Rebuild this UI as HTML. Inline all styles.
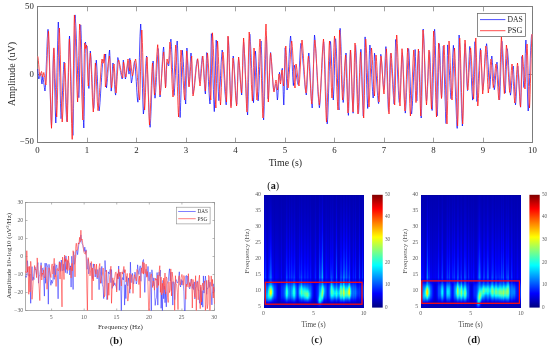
<!DOCTYPE html><html><head><meta charset="utf-8"><title>Figure</title><style>html,body{margin:0;padding:0;background:#fff}svg{display:block}</style></head><body><svg width="550" height="348" viewBox="0 0 550 348" style="display:block;font-family:'Liberation Serif', 'DejaVu Serif', serif">
<rect width="550" height="348" fill="#fff"/>
<rect x="37.5" y="6.5" width="495.0" height="136.0" fill="none" stroke="#6e6e6e" stroke-width="0.9"/>
<path d="M37.5 142.5v-4.8M37.5 6.5v4.8M87.5 142.5v-4.8M87.5 6.5v4.8M136.5 142.5v-4.8M136.5 6.5v4.8M186.5 142.5v-4.8M186.5 6.5v4.8M235.5 142.5v-4.8M235.5 6.5v4.8M285.5 142.5v-4.8M285.5 6.5v4.8M334.5 142.5v-4.8M334.5 6.5v4.8M384.5 142.5v-4.8M384.5 6.5v4.8M433.5 142.5v-4.8M433.5 6.5v4.8M483.5 142.5v-4.8M483.5 6.5v4.8M532.5 142.5v-4.8M532.5 6.5v4.8M37.5 6.5h4.8M532.5 6.5h-4.8M37.5 74.5h4.8M532.5 74.5h-4.8M37.5 142.5h4.8M532.5 142.5h-4.8" stroke="#808080" stroke-width="0.75" fill="none"/>
<path d="M37.8 69.0L38.1 73.4L38.4 76.9L38.8 79.0L39.1 78.4L39.4 77.5L39.7 76.2L40.0 75.0L40.3 74.1L40.6 73.5L41.0 75.5L41.3 78.8L41.6 82.0L42.0 84.0L42.4 80.2L42.8 76.5L43.1 77.7L43.4 79.8L43.7 82.4L44.1 85.1L44.4 87.7L44.7 89.8L45.0 91.0L45.4 87.2L45.7 81.3L46.0 73.6L46.3 64.8L46.7 55.5L47.0 46.6L47.3 38.9L47.7 33.0L48.0 29.3L48.3 33.8L48.6 40.7L49.0 49.5L49.3 60.0L49.6 71.5L49.9 83.3L50.3 94.8L50.6 105.3L50.9 114.2L51.2 121.1L51.5 125.6L51.9 117.5L52.2 104.0L52.6 87.2L52.9 70.4L53.3 56.8L53.6 48.8L53.9 55.1L54.2 65.5L54.5 78.8L54.9 93.0L55.2 106.3L55.5 116.7L55.8 123.0L56.1 115.8L56.4 104.2L56.7 89.3L57.0 72.5L57.4 55.7L57.7 40.8L58.0 29.2L58.3 22.0L58.6 27.9L58.9 37.2L59.2 49.2L59.5 63.1L59.9 77.6L60.2 91.4L60.5 103.5L60.8 112.8L61.1 118.7L61.4 115.6L61.7 111.0L62.0 105.0L62.3 97.9L62.6 90.3L62.9 82.7L63.2 75.7L63.5 69.7L63.8 65.0L64.1 62.0L64.4 65.6L64.7 71.3L65.0 78.8L65.3 87.3L65.6 96.2L65.9 104.8L66.2 112.2L66.5 117.9L66.8 121.5L67.2 115.4L67.5 105.6L67.8 93.0L68.2 78.8L68.5 64.6L68.8 51.9L69.1 42.1L69.5 36.0L69.8 40.7L70.1 47.8L70.4 56.9L70.7 67.7L71.0 79.6L71.3 91.8L71.6 103.6L71.9 114.5L72.3 123.6L72.6 130.7L72.9 135.4L73.2 125.2L73.5 108.3L73.8 86.7L74.1 63.6L74.4 42.1L74.7 25.2L75.0 14.9L75.3 18.4L75.7 23.6L76.0 30.3L76.3 38.3L76.6 47.1L76.9 56.3L77.3 65.6L77.6 74.4L77.9 82.4L78.2 89.1L78.5 94.2L78.8 97.7L79.2 90.1L79.5 77.2L79.8 61.3L80.1 45.4L80.4 32.5L80.7 24.9L81.0 30.3L81.3 38.8L81.6 49.8L81.9 62.6L82.3 76.4L82.6 90.2L82.9 103.1L83.2 114.1L83.5 122.5L83.8 128.0L84.1 116.4L84.4 96.5L84.8 73.5L85.1 53.6L85.4 42.0L85.8 44.6L86.2 47.2L86.5 46.9L86.8 46.4L87.1 46.1L87.5 51.8L87.8 61.6L88.2 73.0L88.5 82.8L88.9 88.5L89.2 81.5L89.6 69.8L90.0 58.0L90.3 51.0L90.6 53.7L91.0 57.8L91.3 63.1L91.6 69.4L91.9 76.2L92.2 83.3L92.5 90.2L92.8 96.4L93.1 101.7L93.4 105.8L93.7 108.5L94.1 105.1L94.4 99.5L94.7 92.4L95.0 84.3L95.3 76.3L95.7 69.1L96.0 63.5L96.3 60.1L96.6 63.2L96.9 68.0L97.2 74.4L97.5 81.7L97.8 89.3L98.1 96.6L98.4 102.9L98.7 107.8L99.1 110.9L99.4 109.0L99.7 106.1L100.0 102.4L100.3 98.1L100.6 93.2L100.9 87.9L101.3 82.6L101.6 77.4L101.9 72.5L102.2 68.1L102.5 64.4L102.8 61.6L103.1 59.6L103.4 59.9L103.8 60.5L104.1 61.0L104.4 61.4L104.7 60.0L105.0 57.7L105.3 55.4L105.7 54.0L106.1 70.9L106.5 87.8L106.8 85.7L107.1 82.6L107.4 78.6L107.8 73.9L108.1 68.9L108.4 63.8L108.7 59.1L109.0 55.1L109.3 52.0L109.6 50.0L109.9 55.6L110.3 65.1L110.6 76.1L110.9 85.6L111.2 91.1L111.6 87.3L111.9 80.8L112.3 73.3L112.6 66.8L113.0 63.0L113.3 65.3L113.6 69.0L114.0 73.7L114.3 79.1L114.6 84.4L114.9 89.2L115.2 92.8L115.6 95.1L115.9 91.9L116.2 86.7L116.5 79.9L116.9 72.7L117.2 66.0L117.5 60.7L117.8 57.5L118.1 58.3L118.5 59.4L118.8 60.7L119.1 62.4L119.4 64.2L119.7 66.2L120.0 68.3L120.3 70.3L120.7 72.3L121.0 74.2L121.3 75.8L121.6 77.2L121.9 78.2L122.2 79.0L122.6 73.7L122.9 65.4L123.3 60.1L123.6 61.7L123.9 64.4L124.2 67.7L124.5 71.4L124.8 74.7L125.1 77.4L125.4 79.0L125.7 77.9L126.1 76.0L126.4 73.7L126.7 71.0L127.0 68.3L127.4 66.0L127.7 64.1L128.0 63.0L128.3 66.1L128.7 71.0L129.0 74.1L129.4 66.2L129.8 58.3L130.1 61.7L130.4 67.4L130.7 74.0L131.1 79.7L131.4 83.0L131.7 81.8L132.0 80.1L132.4 77.7L132.7 75.0L133.0 72.1L133.3 69.2L133.7 66.5L134.0 64.2L134.3 62.4L134.6 61.2L135.0 63.4L135.3 66.8L135.6 71.1L135.9 76.2L136.3 81.7L136.6 87.2L136.9 92.3L137.2 96.7L137.5 100.0L137.9 102.2L138.2 97.5L138.5 89.9L138.8 80.2L139.1 69.0L139.4 57.2L139.7 46.0L140.0 36.3L140.4 28.8L140.7 24.0L141.0 29.5L141.3 38.1L141.6 49.3L141.9 62.3L142.2 75.7L142.5 88.6L142.8 99.9L143.1 108.5L143.4 114.0L143.8 110.9L144.1 106.2L144.4 100.0L144.7 92.7L145.0 85.0L145.3 77.2L145.6 70.0L145.9 63.8L146.2 59.1L146.6 56.0L146.9 59.3L147.2 64.4L147.5 71.0L147.8 78.7L148.2 87.2L148.5 96.0L148.8 104.5L149.1 112.3L149.4 118.8L149.7 123.9L150.1 127.3L150.4 123.8L150.7 118.3L151.0 111.3L151.3 103.0L151.6 94.1L151.9 85.3L152.2 77.0L152.5 70.0L152.8 64.5L153.1 61.0L153.4 64.9L153.7 71.5L154.0 79.6L154.4 87.7L154.7 94.3L155.0 98.2L155.3 95.9L155.6 92.3L155.9 87.7L156.2 82.4L156.5 76.4L156.8 70.4L157.1 64.4L157.4 59.1L157.7 54.5L158.0 50.9L158.3 48.6L158.7 55.2L159.0 66.3L159.3 79.3L159.6 90.5L160.0 97.0L160.3 94.9L160.6 91.8L160.9 87.7L161.2 82.9L161.5 77.6L161.8 72.0L162.1 66.4L162.4 61.1L162.7 56.3L163.0 52.2L163.3 49.1L163.6 47.0L163.9 50.4L164.2 55.9L164.5 63.0L164.8 70.6L165.1 77.7L165.4 83.3L165.7 86.6L166.1 79.8L166.5 69.2L166.9 62.3L167.2 62.7L167.5 63.3L167.8 64.1L168.1 64.9L168.4 65.5L168.7 65.9L169.0 63.6L169.3 59.9L169.7 55.1L170.0 49.9L170.3 45.1L170.6 41.4L170.9 39.1L171.2 42.1L171.5 46.7L171.8 52.7L172.1 59.7L172.4 67.3L172.8 74.8L173.1 81.8L173.4 87.8L173.7 92.4L174.0 95.4L174.3 92.5L174.6 88.1L174.9 82.3L175.3 75.5L175.6 68.2L175.9 60.9L176.2 54.2L176.5 48.4L176.9 43.9L177.2 41.0L177.5 45.7L177.8 53.0L178.1 62.5L178.5 73.5L178.8 85.0L179.1 95.9L179.5 105.5L179.8 112.8L180.1 117.5L180.4 111.7L180.7 102.3L181.1 90.3L181.4 77.4L181.7 65.3L182.0 55.9L182.3 50.2L182.6 52.7L182.9 56.6L183.3 61.5L183.6 67.4L183.9 73.8L184.2 80.4L184.5 86.8L184.8 92.7L185.1 97.6L185.4 101.5L185.7 104.0L186.0 93.6L186.3 76.0L186.6 58.4L186.9 48.0L187.3 52.0L187.6 58.7L188.0 66.9L188.3 75.2L188.7 81.9L189.0 85.8L189.3 82.4L189.7 76.6L190.0 69.4L190.4 62.2L190.7 56.4L191.0 53.0L191.3 57.3L191.7 64.5L192.0 73.4L192.3 82.3L192.6 89.5L192.9 93.8L193.2 92.7L193.5 91.1L193.8 89.1L194.1 86.8L194.4 84.1L194.7 81.1L195.0 78.1L195.3 74.9L195.6 71.9L195.9 68.9L196.2 66.2L196.5 63.9L196.8 61.9L197.1 60.3L197.4 59.2L197.8 61.1L198.1 64.2L198.5 68.2L198.8 72.5L199.1 76.5L199.5 79.7L199.8 81.6L200.1 79.8L200.5 76.8L200.8 73.1L201.1 68.8L201.4 64.6L201.8 60.8L202.1 57.9L202.4 56.0L202.7 58.3L203.1 62.0L203.4 66.7L203.7 72.2L204.1 77.9L204.4 83.3L204.7 88.0L205.0 91.7L205.4 94.0L205.7 86.3L206.0 73.3L206.4 60.3L206.7 52.6L207.0 55.1L207.3 58.7L207.6 63.5L207.9 69.0L208.2 75.2L208.5 81.5L208.8 87.6L209.1 93.2L209.4 97.9L209.7 101.6L210.0 104.0L210.4 90.9L210.7 68.9L211.1 46.8L211.4 33.7L211.7 38.5L212.1 45.9L212.4 55.6L212.7 66.8L213.0 78.5L213.4 89.7L213.7 99.4L214.0 106.9L214.3 111.6L214.6 104.1L215.0 91.4L215.3 75.8L215.6 60.2L215.9 47.6L216.2 40.1L216.5 43.7L216.8 49.6L217.1 57.1L217.4 65.8L217.7 74.9L218.0 83.6L218.3 91.2L218.6 97.0L218.9 100.7L219.3 98.0L219.6 93.8L219.9 88.4L220.3 82.1L220.6 75.3L220.9 68.6L221.2 62.3L221.6 56.9L221.9 52.7L222.2 50.0L222.5 52.1L222.8 55.2L223.1 59.1L223.4 63.8L223.7 69.0L224.0 74.6L224.3 80.3L224.6 85.9L224.9 91.1L225.3 95.8L225.6 99.8L225.9 102.8L226.2 104.9L226.5 97.8L226.8 85.8L227.2 71.0L227.5 56.1L227.8 44.1L228.2 37.0L228.5 40.6L228.8 46.3L229.1 53.6L229.4 62.2L229.7 71.4L230.0 80.6L230.3 89.1L230.6 96.5L230.9 102.1L231.2 105.8L231.6 100.5L231.9 91.7L232.2 80.9L232.5 70.0L232.9 61.2L233.2 56.0L233.5 58.0L233.8 61.1L234.1 65.0L234.4 69.6L234.7 74.8L235.0 80.2L235.3 85.6L235.6 90.7L235.9 95.4L236.2 99.3L236.5 102.3L236.8 104.3L237.1 98.2L237.5 87.8L237.8 75.7L238.1 65.3L238.5 59.2L238.8 61.1L239.1 64.0L239.4 67.8L239.8 72.3L240.1 77.1L240.4 81.9L240.7 86.3L241.1 90.2L241.4 93.1L241.7 95.0L242.0 89.5L242.4 80.2L242.7 68.6L243.0 57.1L243.3 47.8L243.6 42.3L243.9 45.1L244.2 49.1L244.5 54.3L244.9 60.5L245.2 67.5L245.5 74.9L245.8 82.4L246.1 89.8L246.4 96.8L246.7 103.0L247.0 108.2L247.3 112.2L247.6 115.0L247.9 108.1L248.2 96.8L248.5 82.3L248.8 66.8L249.1 52.3L249.4 41.0L249.8 34.1L250.1 37.0L250.4 41.3L250.7 46.9L251.0 53.4L251.3 60.7L251.6 68.4L251.9 76.1L252.2 83.4L252.5 89.9L252.9 95.5L253.2 99.8L253.5 102.7L253.8 97.3L254.1 88.1L254.4 76.9L254.7 65.6L255.1 56.5L255.4 51.1L255.7 54.1L256.0 58.9L256.3 65.1L256.6 72.2L256.9 79.7L257.2 86.8L257.5 93.1L257.8 97.8L258.1 100.9L258.5 97.2L258.8 91.5L259.1 84.0L259.4 75.4L259.7 66.5L260.1 57.9L260.4 50.4L260.7 44.7L261.0 41.0L261.3 46.6L261.7 55.7L262.0 67.4L262.3 80.5L262.6 93.6L262.9 105.3L263.3 114.3L263.6 119.9L263.9 114.8L264.2 106.7L264.5 96.3L264.8 84.2L265.2 71.7L265.5 59.6L265.8 49.2L266.1 41.1L266.4 36.0L266.7 44.5L267.1 59.0L267.4 75.8L267.7 90.3L268.0 98.8L268.4 95.5L268.7 90.2L269.0 83.3L269.3 75.6L269.6 68.0L270.0 61.1L270.3 55.8L270.6 52.5L270.9 54.5L271.2 57.7L271.5 61.8L271.8 66.6L272.2 71.7L272.5 76.9L272.8 81.7L273.1 85.8L273.4 88.9L273.7 91.0L274.1 90.3L274.4 89.3L274.7 88.0L275.1 86.6L275.4 85.2L275.8 84.2L276.1 83.6L276.4 86.6L276.8 91.8L277.1 96.9L277.4 100.0L277.8 97.1L278.1 92.2L278.5 86.1L278.8 80.1L279.2 75.2L279.5 72.3L279.9 74.7L280.2 78.5L280.6 80.9L280.9 79.2L281.2 76.3L281.6 72.9L281.9 70.0L282.3 68.3L282.6 73.2L282.9 81.7L283.2 91.6L283.5 100.0L283.8 105.0L284.2 94.4L284.5 76.4L284.8 58.5L285.2 47.8L285.5 52.3L285.8 59.7L286.1 68.9L286.5 78.1L286.8 85.6L287.1 90.0L287.4 87.5L287.7 83.6L288.1 78.6L288.4 72.8L288.7 66.3L289.0 59.7L289.3 53.2L289.7 47.4L290.0 42.4L290.3 38.5L290.6 36.0L290.9 39.0L291.2 43.8L291.5 50.0L291.8 57.1L292.2 64.5L292.5 71.6L292.8 77.8L293.1 82.6L293.4 85.6L293.7 79.9L294.1 71.0L294.5 65.3L294.8 66.1L295.1 67.3L295.4 68.9L295.7 70.7L296.0 72.8L296.3 75.0L296.6 77.1L297.0 79.2L297.3 81.1L297.6 82.6L297.9 83.8L298.2 84.7L298.5 82.1L298.8 78.2L299.1 73.0L299.4 67.1L299.7 60.9L300.0 54.9L300.3 49.8L300.6 45.8L301.0 43.3L301.3 44.7L301.6 46.7L301.9 49.2L302.2 52.1L302.5 55.4L302.8 59.1L303.1 63.0L303.5 67.1L303.8 71.2L304.1 75.3L304.4 79.2L304.7 82.9L305.0 86.2L305.3 89.1L305.7 91.6L306.0 93.6L306.3 95.0L306.6 92.0L306.9 87.2L307.2 81.0L307.5 74.0L307.8 67.0L308.1 60.8L308.5 56.0L308.8 53.0L309.1 55.6L309.4 59.5L309.7 64.6L310.0 70.6L310.3 77.1L310.6 83.9L310.9 90.4L311.2 96.4L311.5 101.5L311.9 105.4L312.2 108.0L312.5 101.8L312.8 91.6L313.2 78.5L313.5 64.5L313.8 51.4L314.2 41.2L314.5 35.0L314.8 37.2L315.1 40.2L315.4 44.0L315.7 48.5L316.0 53.7L316.3 59.3L316.6 65.3L316.9 71.4L317.2 77.5L317.5 83.5L317.8 89.1L318.1 94.3L318.5 98.8L318.8 102.6L319.1 105.7L319.4 107.8L319.7 105.5L320.0 102.2L320.3 98.0L320.6 92.9L320.9 87.3L321.2 81.1L321.6 74.8L321.9 68.5L322.2 62.3L322.5 56.7L322.8 51.6L323.1 47.4L323.4 44.1L323.7 41.8L324.1 45.7L324.4 51.5L324.7 59.1L325.0 68.0L325.3 77.8L325.7 87.9L326.0 97.7L326.3 106.6L326.6 114.2L326.9 120.1L327.2 123.9L327.6 119.6L327.9 112.8L328.2 104.0L328.5 93.8L328.9 82.7L329.2 71.7L329.5 61.4L329.8 52.6L330.2 45.9L330.5 41.5L330.8 45.1L331.1 50.7L331.4 58.0L331.7 66.4L332.0 75.1L332.4 83.5L332.7 90.8L333.0 96.4L333.3 100.0L333.6 94.8L334.0 86.2L334.3 75.3L334.6 63.5L334.9 52.5L335.3 44.0L335.6 38.7L335.9 42.1L336.2 47.2L336.5 53.8L336.8 61.5L337.1 70.0L337.4 78.8L337.7 87.3L338.0 95.0L338.3 101.6L338.6 106.7L339.0 110.0L339.3 87.0L339.7 51.3L340.1 28.3L340.4 32.2L340.7 38.3L341.0 46.2L341.3 55.4L341.6 65.4L341.9 75.3L342.2 84.5L342.6 92.4L342.9 98.5L343.2 102.5L343.5 99.4L343.8 94.7L344.1 88.5L344.4 81.4L344.8 74.0L345.1 66.9L345.4 60.8L345.7 56.0L346.0 53.0L346.4 58.3L346.7 67.1L347.0 78.2L347.4 90.2L347.7 101.3L348.0 110.1L348.4 115.4L348.7 108.6L349.0 97.0L349.4 82.7L349.7 68.5L350.0 56.9L350.4 50.1L350.7 53.9L351.0 60.0L351.3 67.9L351.6 76.9L351.9 86.4L352.2 95.4L352.5 103.3L352.8 109.4L353.1 113.2L353.4 108.4L353.7 100.6L354.0 90.5L354.4 79.2L354.7 67.9L355.0 57.8L355.3 50.0L355.6 45.2L355.9 49.4L356.3 55.9L356.6 64.4L356.9 74.2L357.2 84.5L357.5 94.3L357.8 102.8L358.1 109.4L358.5 113.5L358.8 109.0L359.1 101.6L359.4 92.1L359.7 81.4L360.0 70.7L360.3 61.2L360.6 53.8L360.9 49.3L361.3 55.0L361.6 64.3L361.9 76.3L362.3 89.1L362.6 101.1L363.0 110.4L363.3 116.1L363.7 105.4L364.0 87.1L364.4 65.9L364.7 47.6L365.1 36.9L365.4 42.0L365.7 50.2L366.1 60.8L366.4 72.7L366.7 84.6L367.0 95.2L367.4 103.4L367.7 108.5L368.0 103.1L368.3 94.2L368.6 82.9L368.9 70.7L369.2 59.3L369.5 50.4L369.9 45.0L370.2 47.5L370.5 51.3L370.8 56.2L371.1 61.9L371.4 68.2L371.7 74.8L372.0 81.1L372.3 86.8L372.6 91.7L372.9 95.5L373.2 98.0L373.5 89.7L373.9 75.6L374.2 61.5L374.5 53.2L374.8 55.1L375.2 57.9L375.5 61.6L375.8 65.8L376.1 70.7L376.4 75.8L376.7 81.0L377.0 86.2L377.3 91.0L377.6 95.2L377.9 98.9L378.2 101.7L378.6 103.6L378.9 99.4L379.2 92.5L379.5 83.7L379.8 74.2L380.1 65.4L380.5 58.5L380.8 54.3L381.1 56.2L381.4 59.1L381.7 62.8L382.0 67.2L382.3 71.9L382.6 76.6L383.0 81.0L383.3 84.8L383.6 87.7L383.9 89.6L384.2 85.0L384.6 77.4L384.9 68.1L385.2 58.7L385.6 51.1L385.9 46.6L386.2 51.2L386.5 58.6L386.9 68.3L387.2 79.1L387.5 89.9L387.9 99.5L388.2 107.0L388.5 111.6L388.9 105.5L389.2 95.2L389.5 82.5L389.8 69.8L390.2 59.5L390.5 53.4L390.8 55.6L391.1 58.8L391.4 62.9L391.7 67.7L392.0 73.1L392.4 78.8L392.7 84.5L393.0 89.9L393.3 94.7L393.6 98.8L393.9 102.0L394.2 104.1L394.6 92.1L394.9 71.8L395.3 51.5L395.7 39.5L396.0 42.1L396.3 46.1L396.6 51.2L396.9 57.2L397.2 63.9L397.5 71.0L397.8 78.0L398.1 84.7L398.4 90.8L398.7 95.9L399.0 99.8L399.3 102.5L399.6 99.8L399.9 95.7L400.3 90.4L400.6 84.2L400.9 77.6L401.2 70.9L401.5 64.7L401.8 59.4L402.1 55.3L402.4 52.7L402.7 56.4L403.0 62.2L403.3 69.7L403.7 78.3L404.0 87.4L404.3 96.1L404.6 103.6L405.0 109.4L405.3 113.1L405.6 110.0L405.9 105.5L406.2 99.5L406.5 92.5L406.8 84.8L407.1 76.9L407.4 69.2L407.7 62.2L408.0 56.3L408.3 51.7L408.6 48.6L409.0 52.6L409.3 58.9L409.6 67.0L410.0 76.4L410.3 86.2L410.6 95.5L411.0 103.7L411.3 109.9L411.6 113.9L411.9 110.9L412.3 106.3L412.6 100.4L412.9 93.4L413.2 85.7L413.5 77.8L413.8 70.1L414.2 63.1L414.5 57.1L414.8 52.6L415.1 49.5L415.4 56.5L415.8 68.3L416.1 82.1L416.4 93.9L416.8 100.9L417.1 95.6L417.4 86.8L417.8 75.9L418.1 65.0L418.4 56.2L418.8 51.0L419.1 55.7L419.4 63.4L419.7 73.3L420.0 84.5L420.3 95.6L420.6 105.5L420.9 113.2L421.2 118.0L421.6 108.7L421.9 92.9L422.2 73.5L422.5 54.1L422.8 38.3L423.2 29.0L423.5 32.4L423.8 37.5L424.1 44.2L424.4 52.0L424.7 60.6L425.0 69.5L425.3 78.1L425.6 85.9L425.9 92.6L426.2 97.7L426.5 101.1L426.9 98.5L427.2 94.4L427.5 89.1L427.8 83.0L428.1 76.4L428.4 69.7L428.7 63.6L429.0 58.3L429.3 54.3L429.6 51.6L429.9 55.8L430.2 62.6L430.5 71.3L430.9 81.1L431.2 90.9L431.5 99.6L431.8 106.3L432.1 110.5L432.4 104.8L432.8 95.4L433.1 83.4L433.4 69.9L433.7 56.4L434.0 44.4L434.3 35.1L434.6 29.3L435.0 35.5L435.3 45.4L435.6 58.2L435.9 72.6L436.2 86.9L436.5 99.8L436.8 109.7L437.2 115.8L437.5 109.7L437.8 99.6L438.1 86.7L438.4 72.8L438.7 59.9L439.0 49.8L439.4 43.7L439.7 48.2L440.0 55.7L440.3 65.3L440.7 75.6L441.0 85.2L441.3 92.7L441.6 97.2L442.0 90.3L442.3 78.5L442.6 64.7L442.9 52.9L443.3 46.0L443.6 50.7L443.9 58.1L444.2 67.8L444.5 79.0L444.8 90.6L445.2 101.7L445.5 111.4L445.8 118.9L446.1 123.6L446.4 113.0L446.7 94.8L447.1 73.8L447.4 55.6L447.7 44.9L448.0 47.5L448.3 51.3L448.6 56.3L448.9 62.1L449.2 68.6L449.6 75.2L449.9 81.6L450.2 87.4L450.5 92.4L450.8 96.2L451.1 98.8L451.4 94.2L451.8 86.7L452.1 77.2L452.4 66.9L452.7 57.3L453.1 49.8L453.4 45.3L453.7 48.8L454.1 54.0L454.4 60.7L454.7 68.7L455.0 77.5L455.3 86.9L455.6 96.2L456.0 105.0L456.3 113.0L456.6 119.7L456.9 124.9L457.2 128.4L457.5 118.6L457.9 102.1L458.2 81.7L458.5 61.3L458.8 44.8L459.1 35.0L459.4 39.8L459.8 47.3L460.1 57.0L460.4 68.3L460.8 80.5L461.1 92.7L461.4 104.0L461.7 113.7L462.1 121.2L462.4 126.0L462.7 120.1L463.0 110.7L463.3 98.5L463.6 84.8L463.9 71.1L464.3 58.9L464.6 49.4L464.9 43.6L465.2 46.9L465.5 52.3L465.9 59.3L466.2 67.1L466.5 74.9L466.8 81.9L467.2 87.3L467.5 90.6L467.8 86.8L468.2 80.6L468.5 72.7L468.8 64.2L469.2 56.4L469.5 50.2L469.8 46.4L470.2 49.7L470.5 54.8L470.8 61.5L471.1 69.2L471.4 77.3L471.7 85.0L472.0 91.7L472.4 96.9L472.7 100.1L473.0 95.2L473.3 87.0L473.7 76.5L474.0 65.3L474.4 54.9L474.7 46.7L475.0 41.7L475.3 48.0L475.7 58.6L476.0 71.6L476.3 84.7L476.6 95.3L476.9 101.5L477.3 99.0L477.6 95.3L477.9 90.4L478.2 84.6L478.5 78.3L478.9 71.8L479.2 65.5L479.5 59.7L479.8 54.8L480.1 51.0L480.4 48.5L480.8 52.1L481.1 57.9L481.5 65.4L481.8 73.4L482.1 80.8L482.5 86.7L482.8 90.2L483.1 88.2L483.4 85.3L483.7 81.6L484.1 77.1L484.4 72.2L484.7 67.0L485.0 61.8L485.3 56.8L485.6 52.4L486.0 48.6L486.3 45.7L486.6 43.7L486.9 46.1L487.2 49.8L487.5 54.6L487.8 60.2L488.2 66.2L488.5 72.2L488.8 77.8L489.1 82.6L489.4 86.3L489.7 88.7L490.1 85.3L490.4 79.5L490.8 72.3L491.1 65.2L491.5 59.4L491.8 56.0L492.1 58.4L492.4 62.3L492.8 67.3L493.1 72.8L493.4 78.4L493.7 83.4L494.0 87.3L494.3 89.7L494.7 87.7L495.0 84.6L495.3 80.5L495.6 75.9L496.0 71.3L496.3 67.2L496.6 64.0L497.0 62.1L497.3 64.8L497.6 69.1L497.9 74.7L498.3 81.0L498.6 87.3L498.9 92.9L499.3 97.3L499.6 100.0L499.9 95.0L500.2 86.7L500.6 76.2L500.9 64.9L501.3 54.5L501.6 46.2L501.9 41.2L502.2 44.0L502.6 48.2L502.9 53.8L503.2 60.2L503.5 67.2L503.8 74.1L504.1 80.6L504.4 86.1L504.8 90.4L505.1 93.1L505.4 89.4L505.7 83.1L506.0 75.2L506.3 66.6L506.7 58.7L507.0 52.5L507.3 48.7L507.6 51.2L507.9 55.0L508.3 59.9L508.6 65.7L508.9 71.9L509.2 78.2L509.5 83.9L509.9 88.9L510.2 92.7L510.5 95.2L510.8 93.1L511.2 89.8L511.5 85.4L511.8 80.6L512.2 75.7L512.5 71.4L512.8 68.1L513.2 66.0L513.5 69.3L513.8 74.8L514.2 81.7L514.5 89.2L514.9 96.1L515.2 101.6L515.5 104.9L515.9 101.6L516.2 96.1L516.5 89.2L516.9 81.8L517.2 74.8L517.5 69.4L517.8 66.1L518.1 68.6L518.5 72.6L518.8 77.7L519.1 83.6L519.4 89.8L519.7 95.7L520.0 100.8L520.3 104.7L520.6 107.2L520.9 97.8L521.3 81.9L521.6 65.9L521.9 56.5L522.2 59.1L522.5 63.5L522.8 69.0L523.1 75.0L523.4 80.6L523.7 84.9L524.0 87.6L524.3 82.6L524.6 74.2L525.0 63.8L525.3 53.4L525.6 45.0L525.9 40.0L526.2 46.0L526.6 56.0L526.9 68.7L527.2 82.3L527.5 95.0L527.8 105.0L528.2 111.0L528.5 107.4L528.8 102.0L529.1 94.9L529.4 86.6L529.7 77.5L530.0 68.1L530.3 59.0L530.6 50.7L531.0 43.7L531.3 38.2L531.6 34.6" fill="none" stroke="#0000ff" stroke-width="0.7" stroke-linejoin="round"/>
<path d="M37.8 56.3L38.1 58.0L38.4 60.7L38.7 64.3L39.0 68.0L39.3 71.6L39.6 74.3L39.9 76.0L40.2 75.4L40.5 74.4L40.9 73.1L41.2 72.1L41.5 71.5L41.8 72.5L42.1 74.2L42.4 76.0L42.7 77.0L43.1 75.7L43.4 73.8L43.8 72.5L44.1 73.6L44.4 75.3L44.7 77.5L45.0 80.0L45.3 82.2L45.6 83.9L45.9 85.0L46.2 81.2L46.5 75.0L46.9 67.0L47.2 58.1L47.5 49.2L47.9 41.2L48.2 35.0L48.5 31.2L48.8 36.4L49.1 44.3L49.4 54.7L49.7 66.8L50.0 79.8L50.3 92.7L50.6 104.8L50.9 115.2L51.2 123.1L51.5 128.3L51.8 121.5L52.2 110.2L52.5 95.8L52.9 80.4L53.2 66.0L53.6 54.7L53.9 47.9L54.2 52.1L54.5 58.7L54.8 67.4L55.1 77.3L55.5 87.6L55.8 97.5L56.1 106.2L56.4 112.8L56.7 117.0L57.0 110.7L57.4 100.5L57.7 87.3L58.0 72.5L58.3 57.7L58.6 44.5L59.0 34.3L59.3 28.0L59.6 33.7L59.9 42.8L60.3 54.5L60.6 68.0L60.9 82.0L61.2 95.5L61.6 107.2L61.9 116.3L62.2 122.0L62.5 117.8L62.9 111.0L63.2 102.3L63.5 92.5L63.8 82.7L64.2 74.0L64.5 67.2L64.8 63.0L65.1 67.2L65.4 74.0L65.7 82.7L66.0 92.5L66.3 102.3L66.6 111.0L66.9 117.8L67.2 122.0L67.5 114.9L67.8 103.3L68.1 88.5L68.5 72.5L68.8 57.7L69.1 46.1L69.4 39.0L69.7 45.1L70.0 54.8L70.3 67.3L70.6 81.7L71.0 96.7L71.3 111.1L71.6 123.6L71.9 133.3L72.2 139.4L72.5 128.8L72.8 111.4L73.1 89.2L73.5 65.2L73.8 43.0L74.1 25.6L74.4 15.0L74.7 19.6L75.0 26.8L75.4 36.0L75.7 46.9L76.0 58.5L76.3 70.1L76.6 81.0L77.0 90.2L77.3 97.4L77.6 102.0L77.9 95.4L78.2 84.4L78.5 70.5L78.8 55.5L79.1 41.6L79.4 30.6L79.7 24.0L80.0 29.1L80.3 37.0L80.7 47.2L81.0 59.2L81.3 72.0L81.6 84.8L81.9 96.8L82.3 107.0L82.6 114.9L82.9 120.0L83.3 109.6L83.6 91.8L84.0 71.2L84.3 53.4L84.7 43.0L85.2 45.8L85.6 48.6L85.9 47.6L86.2 46.0L86.5 45.0L86.9 50.5L87.2 60.0L87.6 71.0L87.9 80.5L88.3 86.0L88.6 82.5L89.0 76.7L89.3 69.5L89.6 62.3L90.0 56.5L90.3 53.0L90.6 56.1L90.9 61.0L91.2 67.3L91.5 74.6L91.8 82.5L92.1 90.4L92.4 97.7L92.7 104.0L93.0 108.9L93.3 112.0L93.6 107.8L93.9 101.0L94.2 92.2L94.5 82.8L94.8 74.0L95.1 67.2L95.4 63.0L95.7 66.4L96.1 71.8L96.4 78.9L96.7 86.8L97.0 94.7L97.3 101.8L97.7 107.2L98.0 110.6L98.3 108.6L98.6 105.8L98.9 102.1L99.2 97.7L99.5 92.7L99.8 87.5L100.2 82.1L100.5 76.9L100.8 71.9L101.1 67.5L101.4 63.8L101.7 61.0L102.0 59.0L102.3 59.8L102.6 61.1L102.9 62.4L103.2 63.2L103.5 61.5L103.8 58.6L104.1 55.7L104.4 54.0L104.7 63.3L105.1 77.7L105.4 87.0L105.7 85.8L106.0 84.1L106.3 81.9L106.6 79.2L106.9 76.3L107.2 73.1L107.6 69.9L107.9 66.7L108.2 63.8L108.5 61.1L108.8 58.9L109.1 57.2L109.4 56.0L109.8 59.4L110.1 65.0L110.5 72.0L110.8 79.0L111.2 84.6L111.5 88.0L111.8 86.3L112.1 83.5L112.4 80.0L112.8 76.0L113.1 72.0L113.4 68.5L113.7 65.7L114.0 64.0L114.3 67.0L114.7 72.2L115.0 78.5L115.3 84.8L115.7 90.0L116.0 93.0L116.3 90.7L116.6 86.9L116.9 82.0L117.2 76.5L117.6 71.0L117.9 66.1L118.2 62.3L118.5 60.0L118.8 60.6L119.1 61.5L119.4 62.7L119.7 64.1L120.0 65.6L120.3 67.3L120.7 69.0L121.0 70.7L121.3 72.4L121.6 73.9L121.9 75.3L122.2 76.5L122.5 77.4L122.8 78.0L123.2 70.0L123.5 62.0L123.8 63.3L124.2 65.4L124.5 68.1L124.8 70.9L125.1 73.6L125.5 75.7L125.8 77.0L126.1 75.5L126.4 72.9L126.7 69.7L127.1 66.3L127.4 63.1L127.7 60.5L128.0 59.0L128.3 60.6L128.7 63.4L129.0 66.6L129.4 69.4L129.7 71.0L130.0 65.5L130.3 60.0L130.7 61.7L131.0 64.5L131.4 68.0L131.7 71.5L132.1 74.3L132.4 76.0L132.7 75.1L133.0 73.7L133.4 71.9L133.7 69.8L134.0 67.5L134.3 65.2L134.6 63.1L135.0 61.3L135.3 59.9L135.6 59.0L135.9 60.6L136.2 62.9L136.5 65.8L136.8 69.3L137.1 73.2L137.4 77.4L137.8 81.6L138.1 85.8L138.4 89.7L138.7 93.2L139.0 96.1L139.3 98.4L139.6 100.0L139.9 94.1L140.2 84.2L140.5 71.7L140.9 58.3L141.2 45.8L141.5 35.9L141.8 30.0L142.1 34.9L142.4 42.6L142.7 52.5L143.0 64.0L143.4 76.0L143.7 87.5L144.0 97.4L144.3 105.1L144.6 110.0L144.9 106.2L145.2 100.2L145.5 92.3L145.8 83.5L146.1 74.7L146.4 66.8L146.7 60.8L147.0 57.0L147.3 61.8L147.6 69.6L147.9 79.7L148.2 91.0L148.6 102.3L148.9 112.4L149.2 120.2L149.5 125.0L149.8 121.7L150.1 116.6L150.4 110.0L150.7 102.3L151.0 94.0L151.3 85.7L151.6 78.0L151.9 71.4L152.2 66.3L152.5 63.0L152.8 66.4L153.2 72.0L153.5 79.0L153.8 86.0L154.2 91.6L154.5 95.0L154.8 92.3L155.1 88.2L155.5 82.8L155.8 76.6L156.1 69.9L156.4 63.1L156.7 56.9L157.1 51.5L157.4 47.4L157.7 44.7L158.0 49.0L158.4 56.0L158.7 65.0L159.0 74.7L159.3 83.7L159.7 90.7L160.0 95.0L160.3 93.2L160.6 90.5L160.9 87.0L161.2 82.9L161.5 78.3L161.8 73.5L162.2 68.7L162.5 64.1L162.8 60.0L163.1 56.5L163.4 53.8L163.7 52.0L164.0 55.8L164.3 62.1L164.6 70.0L164.9 77.9L165.2 84.2L165.5 88.0L165.8 84.1L166.1 77.4L166.4 69.6L166.7 62.9L167.0 59.0L167.3 59.6L167.6 60.7L167.9 62.0L168.2 63.1L168.5 63.7L168.8 60.8L169.1 55.8L169.4 49.9L169.7 44.9L170.0 42.0L170.3 44.9L170.6 49.4L170.9 55.3L171.2 62.1L171.5 69.5L171.8 76.9L172.1 83.7L172.4 89.6L172.7 94.1L173.0 97.0L173.3 93.8L173.6 88.8L173.9 82.4L174.2 74.9L174.6 67.1L174.9 59.6L175.2 53.2L175.5 48.2L175.8 45.0L176.1 49.4L176.4 56.3L176.7 65.3L177.0 75.6L177.4 86.4L177.7 96.7L178.0 105.7L178.3 112.6L178.6 117.0L178.9 112.2L179.2 104.6L179.5 94.6L179.8 83.5L180.1 72.4L180.4 62.4L180.7 54.8L181.0 50.0L181.3 52.1L181.6 55.2L181.9 59.3L182.2 64.1L182.5 69.4L182.8 75.0L183.2 80.6L183.5 85.9L183.8 90.7L184.1 94.8L184.4 97.9L184.7 100.0L185.0 94.9L185.4 86.2L185.7 75.5L186.0 64.8L186.4 56.1L186.7 51.0L187.0 54.1L187.4 59.1L187.7 65.5L188.0 72.5L188.3 78.9L188.7 83.9L189.0 87.0L189.3 84.8L189.7 81.2L190.0 76.7L190.3 71.5L190.7 66.3L191.0 61.8L191.4 58.2L191.7 56.0L192.0 63.4L192.3 76.0L192.7 88.6L193.0 96.0L193.3 94.8L193.6 93.1L193.9 91.0L194.3 88.4L194.6 85.5L194.9 82.3L195.2 79.0L195.5 75.7L195.8 72.4L196.1 69.2L196.4 66.3L196.8 63.7L197.1 61.6L197.4 59.9L197.7 58.7L198.0 61.0L198.4 64.9L198.7 69.7L199.0 75.0L199.3 79.8L199.7 83.7L200.0 86.0L200.3 84.2L200.6 81.3L200.9 77.5L201.2 73.2L201.6 68.8L201.9 64.5L202.2 60.7L202.5 57.8L202.8 56.0L203.1 58.5L203.5 62.5L203.8 67.7L204.1 73.5L204.4 79.3L204.8 84.5L205.1 88.5L205.4 91.0L205.7 87.0L206.1 80.3L206.4 72.0L206.7 63.7L207.1 57.0L207.4 53.0L207.7 55.2L208.0 58.6L208.3 62.9L208.6 68.0L208.9 73.6L209.3 79.4L209.6 85.0L209.9 90.1L210.2 94.4L210.5 97.8L210.8 100.0L211.1 90.9L211.4 75.4L211.8 57.4L212.1 41.9L212.4 32.8L212.7 36.3L213.0 41.7L213.4 48.6L213.7 56.8L214.0 65.8L214.3 75.0L214.6 84.0L214.9 92.2L215.3 99.1L215.6 104.5L215.9 108.0L216.2 98.9L216.5 83.5L216.9 65.5L217.2 50.1L217.5 41.0L217.8 44.4L218.1 49.7L218.4 56.5L218.7 64.4L219.0 73.0L219.3 81.6L219.6 89.5L219.9 96.3L220.2 101.6L220.5 105.0L220.8 101.2L221.1 95.2L221.4 87.3L221.7 78.5L222.0 69.7L222.3 61.8L222.6 55.8L222.9 52.0L223.2 54.4L223.6 57.9L223.9 62.5L224.2 68.0L224.5 73.9L224.9 80.1L225.2 86.0L225.5 91.5L225.8 96.1L226.2 99.6L226.5 102.0L226.8 93.1L227.1 77.8L227.4 60.2L227.7 44.9L228.0 36.0L228.3 39.8L228.6 45.7L228.9 53.4L229.2 62.3L229.5 71.9L229.8 81.5L230.1 90.4L230.4 98.1L230.7 104.0L231.0 107.8L231.3 102.6L231.7 93.8L232.0 82.9L232.3 72.0L232.7 63.2L233.0 58.0L233.3 60.3L233.7 63.7L234.0 68.1L234.3 73.3L234.6 79.1L235.0 84.9L235.3 90.7L235.6 95.9L235.9 100.3L236.3 103.7L236.6 106.0L236.9 100.9L237.3 92.2L237.6 81.5L237.9 70.8L238.3 62.1L238.6 57.0L238.9 58.9L239.2 61.9L239.5 65.7L239.8 70.2L240.1 75.0L240.4 79.8L240.7 84.3L241.0 88.1L241.3 91.1L241.6 93.0L241.9 87.2L242.3 77.5L242.6 65.5L242.9 53.5L243.3 43.8L243.6 38.0L243.9 41.5L244.2 46.8L244.5 53.6L244.8 61.6L245.1 70.5L245.5 79.5L245.8 88.4L246.1 96.4L246.4 103.2L246.7 108.5L247.0 112.0L247.3 105.2L247.6 94.0L247.9 79.7L248.3 64.3L248.6 50.0L248.9 38.8L249.2 32.0L249.5 35.7L249.8 41.3L250.2 48.7L250.5 57.3L250.8 66.5L251.1 75.7L251.4 84.3L251.8 91.7L252.1 97.3L252.4 101.0L252.7 93.8L253.0 81.6L253.4 67.4L253.7 55.2L254.0 48.0L254.3 50.8L254.6 55.0L254.9 60.6L255.2 67.0L255.5 74.0L255.8 81.0L256.1 87.4L256.4 93.0L256.7 97.2L257.0 100.0L257.3 96.8L257.6 91.8L257.9 85.3L258.2 77.7L258.5 69.5L258.8 61.3L259.1 53.7L259.4 47.2L259.7 42.2L260.0 39.0L260.3 43.2L260.6 49.7L260.9 58.1L261.2 67.9L261.5 78.5L261.8 89.1L262.1 98.9L262.4 107.3L262.7 113.8L263.0 118.0L263.3 113.0L263.6 105.3L263.9 95.3L264.2 83.6L264.5 71.0L264.8 58.4L265.1 46.7L265.4 36.7L265.7 29.0L266.0 24.0L266.3 30.6L266.7 41.6L267.0 55.5L267.3 70.5L267.6 84.4L268.0 95.4L268.3 102.0L268.6 97.8L268.9 91.0L269.2 82.2L269.6 72.8L269.9 64.0L270.2 57.2L270.5 53.0L270.8 54.8L271.1 57.6L271.5 61.2L271.8 65.5L272.1 70.1L272.4 74.9L272.7 79.5L273.0 83.8L273.4 87.4L273.7 90.2L274.0 92.0L274.3 90.7L274.7 88.6L275.0 86.0L275.3 83.4L275.7 81.3L276.0 80.0L276.3 81.4L276.6 83.7L276.9 86.3L277.2 88.6L277.5 90.0L277.8 87.8L278.1 84.1L278.4 79.9L278.7 76.2L279.0 74.0L279.3 75.4L279.6 77.7L279.9 80.3L280.2 82.6L280.5 84.0L280.8 82.1L281.1 78.9L281.4 75.1L281.7 71.9L282.0 70.0L282.3 72.2L282.6 75.9L283.0 80.1L283.3 83.8L283.6 86.0L283.9 82.6L284.2 77.0L284.5 69.8L284.9 62.2L285.2 55.0L285.5 49.4L285.8 46.0L286.1 49.6L286.4 55.5L286.7 63.0L287.1 71.0L287.4 78.5L287.7 84.4L288.0 88.0L288.3 86.0L288.6 83.1L288.9 79.3L289.2 74.8L289.5 69.8L289.9 64.5L290.2 59.2L290.5 54.2L290.8 49.7L291.1 45.9L291.4 43.0L291.7 41.0L292.0 43.2L292.3 46.6L292.6 50.9L292.9 56.0L293.2 61.6L293.5 67.4L293.8 73.0L294.1 78.1L294.4 82.4L294.7 85.8L295.0 88.0L295.3 81.2L295.7 70.8L296.0 64.0L296.3 65.2L296.6 67.0L296.9 69.3L297.2 72.1L297.5 75.0L297.8 77.9L298.1 80.7L298.4 83.0L298.7 84.8L299.0 86.0L299.3 83.6L299.6 79.8L299.9 74.9L300.2 69.2L300.5 63.0L300.8 56.8L301.1 51.1L301.4 46.2L301.7 42.4L302.0 40.0L302.3 42.0L302.6 45.0L302.9 48.8L303.2 53.3L303.5 58.3L303.8 63.7L304.2 69.3L304.5 74.7L304.8 79.7L305.1 84.2L305.4 88.0L305.7 91.0L306.0 93.0L306.3 89.9L306.7 84.7L307.0 78.1L307.4 70.9L307.7 64.3L308.1 59.1L308.4 56.0L308.7 58.3L309.0 61.7L309.3 66.1L309.6 71.3L309.9 77.1L310.3 82.9L310.6 88.7L310.9 93.9L311.2 98.3L311.5 101.7L311.8 104.0L312.1 100.6L312.4 95.3L312.7 88.5L313.0 80.6L313.3 72.0L313.6 63.4L313.9 55.5L314.2 48.7L314.5 43.4L314.8 40.0L315.1 42.1L315.4 45.0L315.7 48.8L316.0 53.3L316.3 58.3L316.6 63.8L316.9 69.6L317.3 75.4L317.6 81.2L317.9 86.7L318.2 91.7L318.5 96.2L318.8 100.0L319.1 102.9L319.4 105.0L319.7 102.5L320.0 98.8L320.3 94.1L320.7 88.4L321.0 82.1L321.3 75.4L321.6 68.6L321.9 61.9L322.2 55.6L322.6 49.9L322.9 45.2L323.2 41.5L323.5 39.0L323.8 43.4L324.1 50.2L324.4 59.1L324.7 69.4L325.0 80.5L325.3 91.6L325.6 101.9L325.9 110.8L326.2 117.6L326.5 122.0L326.8 117.7L327.1 111.0L327.4 102.4L327.7 92.3L328.0 81.5L328.3 70.7L328.6 60.6L328.9 52.0L329.2 45.3L329.5 41.0L329.8 45.1L330.1 51.6L330.4 60.0L330.8 69.5L331.1 79.0L331.4 87.4L331.7 93.9L332.0 98.0L332.3 93.6L332.6 86.5L332.9 77.3L333.2 67.0L333.6 56.7L333.9 47.5L334.2 40.4L334.5 36.0L334.8 39.5L335.1 44.8L335.5 51.6L335.8 59.6L336.1 68.5L336.4 77.5L336.7 86.4L337.0 94.4L337.4 101.2L337.7 106.5L338.0 110.0L338.3 99.2L338.6 80.7L339.0 59.3L339.3 40.8L339.6 30.0L339.9 33.7L340.2 39.5L340.5 46.9L340.8 55.6L341.1 65.0L341.4 74.4L341.7 83.1L342.0 90.5L342.3 96.3L342.6 100.0L342.9 97.6L343.2 93.9L343.5 89.1L343.8 83.5L344.1 77.5L344.4 71.5L344.7 65.9L345.0 61.1L345.3 57.4L345.6 55.0L345.9 59.9L346.3 68.1L346.6 78.4L347.0 89.6L347.3 99.9L347.7 108.1L348.0 113.0L348.3 108.5L348.6 101.3L349.0 92.0L349.3 81.5L349.6 71.0L350.0 61.7L350.3 54.5L350.6 50.0L350.9 55.3L351.3 64.0L351.6 75.0L352.0 87.0L352.3 98.0L352.7 106.7L353.0 112.0L353.3 104.8L353.7 92.6L354.0 77.5L354.3 62.4L354.7 50.2L355.0 43.0L355.3 46.8L355.6 52.6L355.9 60.2L356.2 69.0L356.5 78.5L356.8 88.0L357.1 96.8L357.4 104.4L357.7 110.2L358.0 114.0L358.3 109.6L358.6 102.5L358.9 93.3L359.2 83.0L359.6 72.7L359.9 63.5L360.2 56.4L360.5 52.0L360.8 55.5L361.1 60.9L361.5 68.0L361.8 76.2L362.1 85.0L362.4 93.8L362.7 102.0L363.1 109.1L363.4 114.5L363.7 118.0L364.0 109.7L364.4 95.7L364.7 78.5L365.0 61.3L365.4 47.3L365.7 39.0L366.0 42.2L366.3 47.0L366.6 53.3L366.9 60.7L367.2 68.8L367.5 77.2L367.8 85.3L368.1 92.7L368.4 99.0L368.7 103.8L369.0 107.0L369.3 102.8L369.6 96.0L369.9 87.3L370.2 77.5L370.6 67.7L370.9 59.0L371.2 52.2L371.5 48.0L371.8 50.6L372.1 54.5L372.4 59.6L372.7 65.6L373.0 72.0L373.3 78.4L373.6 84.4L373.9 89.5L374.2 93.4L374.5 96.0L374.8 90.5L375.1 81.0L375.4 70.0L375.7 60.5L376.0 55.0L376.3 57.5L376.6 61.4L376.9 66.4L377.2 72.2L377.5 78.5L377.8 84.8L378.1 90.6L378.4 95.6L378.7 99.5L379.0 102.0L379.3 97.2L379.7 89.0L380.0 79.0L380.3 69.0L380.7 60.8L381.0 56.0L381.3 58.0L381.6 61.1L381.9 65.2L382.2 69.9L382.5 75.0L382.8 80.1L383.1 84.8L383.4 88.9L383.7 92.0L384.0 94.0L384.3 90.2L384.7 83.8L385.0 75.7L385.4 67.0L385.7 58.9L386.1 52.5L386.4 48.7L386.7 53.3L387.0 60.8L387.4 70.5L387.7 81.3L388.0 92.2L388.4 101.9L388.7 109.4L389.0 114.0L389.3 107.6L389.7 96.8L390.0 83.5L390.3 70.2L390.7 59.4L391.0 53.0L391.3 55.2L391.6 58.5L391.9 62.7L392.2 67.6L392.5 73.2L392.9 79.0L393.2 84.8L393.5 90.4L393.8 95.3L394.1 99.5L394.4 102.8L394.7 105.0L395.0 97.7L395.4 85.3L395.7 70.0L396.0 54.7L396.4 42.3L396.7 35.0L397.0 38.3L397.3 43.4L397.6 50.0L397.9 57.7L398.2 66.1L398.5 74.9L398.8 83.3L399.1 91.0L399.4 97.6L399.7 102.7L400.0 106.0L400.3 100.0L400.7 89.9L401.0 77.4L401.3 64.8L401.7 54.7L402.0 48.7L402.3 52.0L402.6 57.1L402.9 63.8L403.2 71.5L403.5 79.8L403.8 88.2L404.1 95.9L404.4 102.6L404.7 107.7L405.0 111.0L405.3 106.5L405.7 99.3L406.0 90.0L406.4 79.5L406.7 69.0L407.0 59.7L407.4 52.5L407.7 48.0L408.0 52.8L408.4 60.6L408.7 70.7L409.0 82.0L409.4 93.3L409.7 103.4L410.1 111.2L410.4 116.0L410.7 112.9L411.0 108.2L411.3 102.1L411.6 94.9L411.9 87.1L412.3 78.9L412.6 71.1L412.9 63.9L413.2 57.8L413.5 53.1L413.8 50.0L414.1 54.5L414.4 61.9L414.7 71.2L415.1 81.4L415.4 90.7L415.7 98.1L416.0 102.6L416.3 98.0L416.7 90.5L417.0 81.0L417.4 70.6L417.7 61.1L418.1 53.6L418.4 49.0L418.7 53.8L419.0 61.4L419.3 71.4L419.6 82.5L419.9 93.6L420.2 103.6L420.5 111.2L420.8 116.0L421.1 108.7L421.4 96.6L421.7 81.3L422.1 64.7L422.4 49.4L422.7 37.3L423.0 30.0L423.3 33.5L423.6 38.9L424.0 45.8L424.3 54.0L424.6 62.9L424.9 72.1L425.2 81.0L425.5 89.2L425.9 96.1L426.2 101.5L426.5 105.0L426.8 101.1L427.1 94.8L427.4 86.6L427.8 77.5L428.1 68.4L428.4 60.2L428.7 53.9L429.0 50.0L429.3 54.2L429.6 61.0L429.9 69.7L430.2 79.5L430.6 89.3L430.9 98.0L431.2 104.8L431.5 109.0L431.8 102.4L432.1 91.4L432.4 77.5L432.8 62.5L433.1 48.6L433.4 37.6L433.7 31.0L434.0 36.2L434.3 44.5L434.6 55.2L434.9 67.6L435.3 80.4L435.6 92.8L435.9 103.5L436.2 111.8L436.5 117.0L436.8 110.7L437.1 100.3L437.4 87.1L437.8 72.9L438.1 59.7L438.4 49.3L438.7 43.0L439.0 46.4L439.3 51.7L439.6 58.6L439.9 66.6L440.3 74.9L440.6 82.9L440.9 89.8L441.2 95.1L441.5 98.5L441.8 94.7L442.1 88.6L442.4 80.6L442.8 71.8L443.1 62.9L443.4 54.9L443.7 48.8L444.0 45.0L444.3 49.2L444.6 55.7L444.9 64.1L445.2 73.9L445.5 84.5L445.8 95.1L446.1 104.9L446.4 113.3L446.7 119.8L447.0 124.0L447.3 115.3L447.7 100.6L448.0 82.5L448.3 64.4L448.7 49.7L449.0 41.0L449.3 44.1L449.6 49.0L449.9 55.3L450.2 62.6L450.5 70.5L450.8 78.4L451.1 85.7L451.4 92.0L451.7 96.9L452.0 100.0L452.3 96.3L452.6 90.3L452.9 82.6L453.2 74.0L453.6 65.4L453.9 57.7L454.2 51.7L454.5 48.0L454.8 52.1L455.1 58.5L455.4 66.9L455.7 76.6L456.1 87.0L456.4 97.4L456.7 107.1L457.0 115.5L457.3 121.9L457.6 126.0L458.0 116.8L458.3 101.2L458.6 82.0L459.0 62.8L459.4 47.2L459.7 38.0L460.0 42.6L460.3 49.6L460.6 58.8L460.9 69.5L461.2 81.0L461.5 92.5L461.8 103.2L462.1 112.4L462.4 119.4L462.7 124.0L463.0 116.9L463.4 105.1L463.7 90.1L464.0 73.9L464.3 58.9L464.7 47.1L465.0 40.0L465.3 43.0L465.6 47.8L465.9 54.1L466.2 61.3L466.6 68.7L466.9 75.9L467.2 82.2L467.5 87.0L467.8 90.0L468.1 87.4L468.4 83.4L468.7 78.2L469.0 72.1L469.4 65.9L469.7 59.8L470.0 54.6L470.3 50.6L470.6 48.0L470.9 50.7L471.2 54.9L471.5 60.3L471.8 66.7L472.1 73.5L472.4 80.3L472.7 86.7L473.0 92.1L473.3 96.3L473.6 99.0L473.9 93.8L474.2 85.3L474.5 74.4L474.9 62.6L475.2 51.7L475.5 43.2L475.8 38.0L476.1 45.1L476.5 57.2L476.8 72.0L477.1 86.8L477.5 98.9L477.8 106.0L478.1 103.0L478.4 98.4L478.7 92.5L479.0 85.5L479.3 78.0L479.6 70.5L479.9 63.5L480.2 57.6L480.5 53.0L480.8 50.0L481.1 54.6L481.4 62.4L481.8 72.0L482.1 81.6L482.4 89.4L482.7 94.0L483.0 91.4L483.3 87.5L483.7 82.4L484.0 76.4L484.3 70.0L484.6 63.6L484.9 57.6L485.3 52.5L485.6 48.6L485.9 46.0L486.2 49.3L486.5 54.7L486.8 61.7L487.1 69.5L487.4 77.3L487.7 84.3L488.0 89.7L488.3 93.0L488.6 90.6L489.0 86.7L489.3 81.6L489.6 76.0L490.0 70.4L490.3 65.3L490.7 61.4L491.0 59.0L491.3 61.4L491.7 65.5L492.0 70.6L492.3 76.1L492.6 81.2L493.0 85.3L493.3 87.7L493.6 86.0L494.0 83.3L494.3 79.8L494.6 75.9L495.0 71.9L495.3 68.4L495.7 65.7L496.0 64.0L496.3 65.9L496.6 68.9L496.9 72.7L497.2 77.2L497.5 82.0L497.8 86.8L498.1 91.3L498.4 95.1L498.7 98.1L499.0 100.0L499.3 94.6L499.7 85.8L500.0 74.6L500.4 62.4L500.7 51.2L501.1 42.4L501.4 37.0L501.7 40.0L502.0 44.7L502.3 50.7L502.6 57.8L502.9 65.3L503.2 72.9L503.5 80.0L503.8 86.0L504.1 90.7L504.4 93.7L504.7 88.6L505.1 80.0L505.4 69.4L505.7 58.7L506.1 50.1L506.4 45.0L506.7 47.2L507.0 50.6L507.3 55.0L507.6 60.2L507.9 65.8L508.3 71.7L508.6 77.3L508.9 82.5L509.2 86.9L509.5 90.3L509.8 92.5L510.1 90.1L510.4 86.1L510.7 81.0L511.1 75.5L511.4 70.4L511.7 66.4L512.0 64.0L512.3 66.4L512.6 70.1L512.9 75.0L513.2 80.6L513.6 86.4L513.9 92.0L514.2 96.9L514.5 100.6L514.8 103.0L515.1 100.6L515.4 96.7L515.7 91.7L516.0 86.0L516.3 80.0L516.6 74.3L516.9 69.3L517.2 65.4L517.5 63.0L517.8 65.3L518.1 68.9L518.4 73.6L518.7 79.1L519.0 85.0L519.3 90.9L519.6 96.4L519.9 101.1L520.2 104.7L520.5 107.0L520.8 101.5L521.2 92.4L521.5 81.0L521.8 69.6L522.2 60.5L522.5 55.0L522.8 57.4L523.1 61.3L523.4 66.4L523.8 72.0L524.1 77.6L524.4 82.7L524.7 86.6L525.0 89.0L525.3 84.3L525.7 76.3L526.0 66.5L526.3 56.7L526.7 48.7L527.0 44.0L527.3 48.6L527.6 55.9L527.9 65.4L528.2 76.0L528.6 86.6L528.9 96.1L529.2 103.4L529.5 108.0L529.8 102.7L530.1 94.3L530.4 83.3L530.8 71.0L531.1 58.7L531.4 47.7L531.7 39.3L532.0 34.0" fill="none" stroke="#ffffff" stroke-width="0.75" stroke-linejoin="round"/>
<path d="M37.8 56.3L38.1 58.0L38.4 60.7L38.7 64.3L39.0 68.0L39.3 71.6L39.6 74.3L39.9 76.0L40.2 75.4L40.5 74.4L40.9 73.1L41.2 72.1L41.5 71.5L41.8 72.5L42.1 74.2L42.4 76.0L42.7 77.0L43.1 75.7L43.4 73.8L43.8 72.5L44.1 73.6L44.4 75.3L44.7 77.5L45.0 80.0L45.3 82.2L45.6 83.9L45.9 85.0L46.2 81.2L46.5 75.0L46.9 67.0L47.2 58.1L47.5 49.2L47.9 41.2L48.2 35.0L48.5 31.2L48.8 36.4L49.1 44.3L49.4 54.7L49.7 66.8L50.0 79.8L50.3 92.7L50.6 104.8L50.9 115.2L51.2 123.1L51.5 128.3L51.8 121.5L52.2 110.2L52.5 95.8L52.9 80.4L53.2 66.0L53.6 54.7L53.9 47.9L54.2 52.1L54.5 58.7L54.8 67.4L55.1 77.3L55.5 87.6L55.8 97.5L56.1 106.2L56.4 112.8L56.7 117.0L57.0 110.7L57.4 100.5L57.7 87.3L58.0 72.5L58.3 57.7L58.6 44.5L59.0 34.3L59.3 28.0L59.6 33.7L59.9 42.8L60.3 54.5L60.6 68.0L60.9 82.0L61.2 95.5L61.6 107.2L61.9 116.3L62.2 122.0L62.5 117.8L62.9 111.0L63.2 102.3L63.5 92.5L63.8 82.7L64.2 74.0L64.5 67.2L64.8 63.0L65.1 67.2L65.4 74.0L65.7 82.7L66.0 92.5L66.3 102.3L66.6 111.0L66.9 117.8L67.2 122.0L67.5 114.9L67.8 103.3L68.1 88.5L68.5 72.5L68.8 57.7L69.1 46.1L69.4 39.0L69.7 45.1L70.0 54.8L70.3 67.3L70.6 81.7L71.0 96.7L71.3 111.1L71.6 123.6L71.9 133.3L72.2 139.4L72.5 128.8L72.8 111.4L73.1 89.2L73.5 65.2L73.8 43.0L74.1 25.6L74.4 15.0L74.7 19.6L75.0 26.8L75.4 36.0L75.7 46.9L76.0 58.5L76.3 70.1L76.6 81.0L77.0 90.2L77.3 97.4L77.6 102.0L77.9 95.4L78.2 84.4L78.5 70.5L78.8 55.5L79.1 41.6L79.4 30.6L79.7 24.0L80.0 29.1L80.3 37.0L80.7 47.2L81.0 59.2L81.3 72.0L81.6 84.8L81.9 96.8L82.3 107.0L82.6 114.9L82.9 120.0L83.3 109.6L83.6 91.8L84.0 71.2L84.3 53.4L84.7 43.0L85.2 45.8L85.6 48.6L85.9 47.6L86.2 46.0L86.5 45.0L86.9 50.5L87.2 60.0L87.6 71.0L87.9 80.5L88.3 86.0L88.6 82.5L89.0 76.7L89.3 69.5L89.6 62.3L90.0 56.5L90.3 53.0L90.6 56.1L90.9 61.0L91.2 67.3L91.5 74.6L91.8 82.5L92.1 90.4L92.4 97.7L92.7 104.0L93.0 108.9L93.3 112.0L93.6 107.8L93.9 101.0L94.2 92.2L94.5 82.8L94.8 74.0L95.1 67.2L95.4 63.0L95.7 66.4L96.1 71.8L96.4 78.9L96.7 86.8L97.0 94.7L97.3 101.8L97.7 107.2L98.0 110.6L98.3 108.6L98.6 105.8L98.9 102.1L99.2 97.7L99.5 92.7L99.8 87.5L100.2 82.1L100.5 76.9L100.8 71.9L101.1 67.5L101.4 63.8L101.7 61.0L102.0 59.0L102.3 59.8L102.6 61.1L102.9 62.4L103.2 63.2L103.5 61.5L103.8 58.6L104.1 55.7L104.4 54.0L104.7 63.3L105.1 77.7L105.4 87.0L105.7 85.8L106.0 84.1L106.3 81.9L106.6 79.2L106.9 76.3L107.2 73.1L107.6 69.9L107.9 66.7L108.2 63.8L108.5 61.1L108.8 58.9L109.1 57.2L109.4 56.0L109.8 59.4L110.1 65.0L110.5 72.0L110.8 79.0L111.2 84.6L111.5 88.0L111.8 86.3L112.1 83.5L112.4 80.0L112.8 76.0L113.1 72.0L113.4 68.5L113.7 65.7L114.0 64.0L114.3 67.0L114.7 72.2L115.0 78.5L115.3 84.8L115.7 90.0L116.0 93.0L116.3 90.7L116.6 86.9L116.9 82.0L117.2 76.5L117.6 71.0L117.9 66.1L118.2 62.3L118.5 60.0L118.8 60.6L119.1 61.5L119.4 62.7L119.7 64.1L120.0 65.6L120.3 67.3L120.7 69.0L121.0 70.7L121.3 72.4L121.6 73.9L121.9 75.3L122.2 76.5L122.5 77.4L122.8 78.0L123.2 70.0L123.5 62.0L123.8 63.3L124.2 65.4L124.5 68.1L124.8 70.9L125.1 73.6L125.5 75.7L125.8 77.0L126.1 75.5L126.4 72.9L126.7 69.7L127.1 66.3L127.4 63.1L127.7 60.5L128.0 59.0L128.3 60.6L128.7 63.4L129.0 66.6L129.4 69.4L129.7 71.0L130.0 65.5L130.3 60.0L130.7 61.7L131.0 64.5L131.4 68.0L131.7 71.5L132.1 74.3L132.4 76.0L132.7 75.1L133.0 73.7L133.4 71.9L133.7 69.8L134.0 67.5L134.3 65.2L134.6 63.1L135.0 61.3L135.3 59.9L135.6 59.0L135.9 60.6L136.2 62.9L136.5 65.8L136.8 69.3L137.1 73.2L137.4 77.4L137.8 81.6L138.1 85.8L138.4 89.7L138.7 93.2L139.0 96.1L139.3 98.4L139.6 100.0L139.9 94.1L140.2 84.2L140.5 71.7L140.9 58.3L141.2 45.8L141.5 35.9L141.8 30.0L142.1 34.9L142.4 42.6L142.7 52.5L143.0 64.0L143.4 76.0L143.7 87.5L144.0 97.4L144.3 105.1L144.6 110.0L144.9 106.2L145.2 100.2L145.5 92.3L145.8 83.5L146.1 74.7L146.4 66.8L146.7 60.8L147.0 57.0L147.3 61.8L147.6 69.6L147.9 79.7L148.2 91.0L148.6 102.3L148.9 112.4L149.2 120.2L149.5 125.0L149.8 121.7L150.1 116.6L150.4 110.0L150.7 102.3L151.0 94.0L151.3 85.7L151.6 78.0L151.9 71.4L152.2 66.3L152.5 63.0L152.8 66.4L153.2 72.0L153.5 79.0L153.8 86.0L154.2 91.6L154.5 95.0L154.8 92.3L155.1 88.2L155.5 82.8L155.8 76.6L156.1 69.9L156.4 63.1L156.7 56.9L157.1 51.5L157.4 47.4L157.7 44.7L158.0 49.0L158.4 56.0L158.7 65.0L159.0 74.7L159.3 83.7L159.7 90.7L160.0 95.0L160.3 93.2L160.6 90.5L160.9 87.0L161.2 82.9L161.5 78.3L161.8 73.5L162.2 68.7L162.5 64.1L162.8 60.0L163.1 56.5L163.4 53.8L163.7 52.0L164.0 55.8L164.3 62.1L164.6 70.0L164.9 77.9L165.2 84.2L165.5 88.0L165.8 84.1L166.1 77.4L166.4 69.6L166.7 62.9L167.0 59.0L167.3 59.6L167.6 60.7L167.9 62.0L168.2 63.1L168.5 63.7L168.8 60.8L169.1 55.8L169.4 49.9L169.7 44.9L170.0 42.0L170.3 44.9L170.6 49.4L170.9 55.3L171.2 62.1L171.5 69.5L171.8 76.9L172.1 83.7L172.4 89.6L172.7 94.1L173.0 97.0L173.3 93.8L173.6 88.8L173.9 82.4L174.2 74.9L174.6 67.1L174.9 59.6L175.2 53.2L175.5 48.2L175.8 45.0L176.1 49.4L176.4 56.3L176.7 65.3L177.0 75.6L177.4 86.4L177.7 96.7L178.0 105.7L178.3 112.6L178.6 117.0L178.9 112.2L179.2 104.6L179.5 94.6L179.8 83.5L180.1 72.4L180.4 62.4L180.7 54.8L181.0 50.0L181.3 52.1L181.6 55.2L181.9 59.3L182.2 64.1L182.5 69.4L182.8 75.0L183.2 80.6L183.5 85.9L183.8 90.7L184.1 94.8L184.4 97.9L184.7 100.0L185.0 94.9L185.4 86.2L185.7 75.5L186.0 64.8L186.4 56.1L186.7 51.0L187.0 54.1L187.4 59.1L187.7 65.5L188.0 72.5L188.3 78.9L188.7 83.9L189.0 87.0L189.3 84.8L189.7 81.2L190.0 76.7L190.3 71.5L190.7 66.3L191.0 61.8L191.4 58.2L191.7 56.0L192.0 63.4L192.3 76.0L192.7 88.6L193.0 96.0L193.3 94.8L193.6 93.1L193.9 91.0L194.3 88.4L194.6 85.5L194.9 82.3L195.2 79.0L195.5 75.7L195.8 72.4L196.1 69.2L196.4 66.3L196.8 63.7L197.1 61.6L197.4 59.9L197.7 58.7L198.0 61.0L198.4 64.9L198.7 69.7L199.0 75.0L199.3 79.8L199.7 83.7L200.0 86.0L200.3 84.2L200.6 81.3L200.9 77.5L201.2 73.2L201.6 68.8L201.9 64.5L202.2 60.7L202.5 57.8L202.8 56.0L203.1 58.5L203.5 62.5L203.8 67.7L204.1 73.5L204.4 79.3L204.8 84.5L205.1 88.5L205.4 91.0L205.7 87.0L206.1 80.3L206.4 72.0L206.7 63.7L207.1 57.0L207.4 53.0L207.7 55.2L208.0 58.6L208.3 62.9L208.6 68.0L208.9 73.6L209.3 79.4L209.6 85.0L209.9 90.1L210.2 94.4L210.5 97.8L210.8 100.0L211.1 90.9L211.4 75.4L211.8 57.4L212.1 41.9L212.4 32.8L212.7 36.3L213.0 41.7L213.4 48.6L213.7 56.8L214.0 65.8L214.3 75.0L214.6 84.0L214.9 92.2L215.3 99.1L215.6 104.5L215.9 108.0L216.2 98.9L216.5 83.5L216.9 65.5L217.2 50.1L217.5 41.0L217.8 44.4L218.1 49.7L218.4 56.5L218.7 64.4L219.0 73.0L219.3 81.6L219.6 89.5L219.9 96.3L220.2 101.6L220.5 105.0L220.8 101.2L221.1 95.2L221.4 87.3L221.7 78.5L222.0 69.7L222.3 61.8L222.6 55.8L222.9 52.0L223.2 54.4L223.6 57.9L223.9 62.5L224.2 68.0L224.5 73.9L224.9 80.1L225.2 86.0L225.5 91.5L225.8 96.1L226.2 99.6L226.5 102.0L226.8 93.1L227.1 77.8L227.4 60.2L227.7 44.9L228.0 36.0L228.3 39.8L228.6 45.7L228.9 53.4L229.2 62.3L229.5 71.9L229.8 81.5L230.1 90.4L230.4 98.1L230.7 104.0L231.0 107.8L231.3 102.6L231.7 93.8L232.0 82.9L232.3 72.0L232.7 63.2L233.0 58.0L233.3 60.3L233.7 63.7L234.0 68.1L234.3 73.3L234.6 79.1L235.0 84.9L235.3 90.7L235.6 95.9L235.9 100.3L236.3 103.7L236.6 106.0L236.9 100.9L237.3 92.2L237.6 81.5L237.9 70.8L238.3 62.1L238.6 57.0L238.9 58.9L239.2 61.9L239.5 65.7L239.8 70.2L240.1 75.0L240.4 79.8L240.7 84.3L241.0 88.1L241.3 91.1L241.6 93.0L241.9 87.2L242.3 77.5L242.6 65.5L242.9 53.5L243.3 43.8L243.6 38.0L243.9 41.5L244.2 46.8L244.5 53.6L244.8 61.6L245.1 70.5L245.5 79.5L245.8 88.4L246.1 96.4L246.4 103.2L246.7 108.5L247.0 112.0L247.3 105.2L247.6 94.0L247.9 79.7L248.3 64.3L248.6 50.0L248.9 38.8L249.2 32.0L249.5 35.7L249.8 41.3L250.2 48.7L250.5 57.3L250.8 66.5L251.1 75.7L251.4 84.3L251.8 91.7L252.1 97.3L252.4 101.0L252.7 93.8L253.0 81.6L253.4 67.4L253.7 55.2L254.0 48.0L254.3 50.8L254.6 55.0L254.9 60.6L255.2 67.0L255.5 74.0L255.8 81.0L256.1 87.4L256.4 93.0L256.7 97.2L257.0 100.0L257.3 96.8L257.6 91.8L257.9 85.3L258.2 77.7L258.5 69.5L258.8 61.3L259.1 53.7L259.4 47.2L259.7 42.2L260.0 39.0L260.3 43.2L260.6 49.7L260.9 58.1L261.2 67.9L261.5 78.5L261.8 89.1L262.1 98.9L262.4 107.3L262.7 113.8L263.0 118.0L263.3 113.0L263.6 105.3L263.9 95.3L264.2 83.6L264.5 71.0L264.8 58.4L265.1 46.7L265.4 36.7L265.7 29.0L266.0 24.0L266.3 30.6L266.7 41.6L267.0 55.5L267.3 70.5L267.6 84.4L268.0 95.4L268.3 102.0L268.6 97.8L268.9 91.0L269.2 82.2L269.6 72.8L269.9 64.0L270.2 57.2L270.5 53.0L270.8 54.8L271.1 57.6L271.5 61.2L271.8 65.5L272.1 70.1L272.4 74.9L272.7 79.5L273.0 83.8L273.4 87.4L273.7 90.2L274.0 92.0L274.3 90.7L274.7 88.6L275.0 86.0L275.3 83.4L275.7 81.3L276.0 80.0L276.3 81.4L276.6 83.7L276.9 86.3L277.2 88.6L277.5 90.0L277.8 87.8L278.1 84.1L278.4 79.9L278.7 76.2L279.0 74.0L279.3 75.4L279.6 77.7L279.9 80.3L280.2 82.6L280.5 84.0L280.8 82.1L281.1 78.9L281.4 75.1L281.7 71.9L282.0 70.0L282.3 72.2L282.6 75.9L283.0 80.1L283.3 83.8L283.6 86.0L283.9 82.6L284.2 77.0L284.5 69.8L284.9 62.2L285.2 55.0L285.5 49.4L285.8 46.0L286.1 49.6L286.4 55.5L286.7 63.0L287.1 71.0L287.4 78.5L287.7 84.4L288.0 88.0L288.3 86.0L288.6 83.1L288.9 79.3L289.2 74.8L289.5 69.8L289.9 64.5L290.2 59.2L290.5 54.2L290.8 49.7L291.1 45.9L291.4 43.0L291.7 41.0L292.0 43.2L292.3 46.6L292.6 50.9L292.9 56.0L293.2 61.6L293.5 67.4L293.8 73.0L294.1 78.1L294.4 82.4L294.7 85.8L295.0 88.0L295.3 81.2L295.7 70.8L296.0 64.0L296.3 65.2L296.6 67.0L296.9 69.3L297.2 72.1L297.5 75.0L297.8 77.9L298.1 80.7L298.4 83.0L298.7 84.8L299.0 86.0L299.3 83.6L299.6 79.8L299.9 74.9L300.2 69.2L300.5 63.0L300.8 56.8L301.1 51.1L301.4 46.2L301.7 42.4L302.0 40.0L302.3 42.0L302.6 45.0L302.9 48.8L303.2 53.3L303.5 58.3L303.8 63.7L304.2 69.3L304.5 74.7L304.8 79.7L305.1 84.2L305.4 88.0L305.7 91.0L306.0 93.0L306.3 89.9L306.7 84.7L307.0 78.1L307.4 70.9L307.7 64.3L308.1 59.1L308.4 56.0L308.7 58.3L309.0 61.7L309.3 66.1L309.6 71.3L309.9 77.1L310.3 82.9L310.6 88.7L310.9 93.9L311.2 98.3L311.5 101.7L311.8 104.0L312.1 100.6L312.4 95.3L312.7 88.5L313.0 80.6L313.3 72.0L313.6 63.4L313.9 55.5L314.2 48.7L314.5 43.4L314.8 40.0L315.1 42.1L315.4 45.0L315.7 48.8L316.0 53.3L316.3 58.3L316.6 63.8L316.9 69.6L317.3 75.4L317.6 81.2L317.9 86.7L318.2 91.7L318.5 96.2L318.8 100.0L319.1 102.9L319.4 105.0L319.7 102.5L320.0 98.8L320.3 94.1L320.7 88.4L321.0 82.1L321.3 75.4L321.6 68.6L321.9 61.9L322.2 55.6L322.6 49.9L322.9 45.2L323.2 41.5L323.5 39.0L323.8 43.4L324.1 50.2L324.4 59.1L324.7 69.4L325.0 80.5L325.3 91.6L325.6 101.9L325.9 110.8L326.2 117.6L326.5 122.0L326.8 117.7L327.1 111.0L327.4 102.4L327.7 92.3L328.0 81.5L328.3 70.7L328.6 60.6L328.9 52.0L329.2 45.3L329.5 41.0L329.8 45.1L330.1 51.6L330.4 60.0L330.8 69.5L331.1 79.0L331.4 87.4L331.7 93.9L332.0 98.0L332.3 93.6L332.6 86.5L332.9 77.3L333.2 67.0L333.6 56.7L333.9 47.5L334.2 40.4L334.5 36.0L334.8 39.5L335.1 44.8L335.5 51.6L335.8 59.6L336.1 68.5L336.4 77.5L336.7 86.4L337.0 94.4L337.4 101.2L337.7 106.5L338.0 110.0L338.3 99.2L338.6 80.7L339.0 59.3L339.3 40.8L339.6 30.0L339.9 33.7L340.2 39.5L340.5 46.9L340.8 55.6L341.1 65.0L341.4 74.4L341.7 83.1L342.0 90.5L342.3 96.3L342.6 100.0L342.9 97.6L343.2 93.9L343.5 89.1L343.8 83.5L344.1 77.5L344.4 71.5L344.7 65.9L345.0 61.1L345.3 57.4L345.6 55.0L345.9 59.9L346.3 68.1L346.6 78.4L347.0 89.6L347.3 99.9L347.7 108.1L348.0 113.0L348.3 108.5L348.6 101.3L349.0 92.0L349.3 81.5L349.6 71.0L350.0 61.7L350.3 54.5L350.6 50.0L350.9 55.3L351.3 64.0L351.6 75.0L352.0 87.0L352.3 98.0L352.7 106.7L353.0 112.0L353.3 104.8L353.7 92.6L354.0 77.5L354.3 62.4L354.7 50.2L355.0 43.0L355.3 46.8L355.6 52.6L355.9 60.2L356.2 69.0L356.5 78.5L356.8 88.0L357.1 96.8L357.4 104.4L357.7 110.2L358.0 114.0L358.3 109.6L358.6 102.5L358.9 93.3L359.2 83.0L359.6 72.7L359.9 63.5L360.2 56.4L360.5 52.0L360.8 55.5L361.1 60.9L361.5 68.0L361.8 76.2L362.1 85.0L362.4 93.8L362.7 102.0L363.1 109.1L363.4 114.5L363.7 118.0L364.0 109.7L364.4 95.7L364.7 78.5L365.0 61.3L365.4 47.3L365.7 39.0L366.0 42.2L366.3 47.0L366.6 53.3L366.9 60.7L367.2 68.8L367.5 77.2L367.8 85.3L368.1 92.7L368.4 99.0L368.7 103.8L369.0 107.0L369.3 102.8L369.6 96.0L369.9 87.3L370.2 77.5L370.6 67.7L370.9 59.0L371.2 52.2L371.5 48.0L371.8 50.6L372.1 54.5L372.4 59.6L372.7 65.6L373.0 72.0L373.3 78.4L373.6 84.4L373.9 89.5L374.2 93.4L374.5 96.0L374.8 90.5L375.1 81.0L375.4 70.0L375.7 60.5L376.0 55.0L376.3 57.5L376.6 61.4L376.9 66.4L377.2 72.2L377.5 78.5L377.8 84.8L378.1 90.6L378.4 95.6L378.7 99.5L379.0 102.0L379.3 97.2L379.7 89.0L380.0 79.0L380.3 69.0L380.7 60.8L381.0 56.0L381.3 58.0L381.6 61.1L381.9 65.2L382.2 69.9L382.5 75.0L382.8 80.1L383.1 84.8L383.4 88.9L383.7 92.0L384.0 94.0L384.3 90.2L384.7 83.8L385.0 75.7L385.4 67.0L385.7 58.9L386.1 52.5L386.4 48.7L386.7 53.3L387.0 60.8L387.4 70.5L387.7 81.3L388.0 92.2L388.4 101.9L388.7 109.4L389.0 114.0L389.3 107.6L389.7 96.8L390.0 83.5L390.3 70.2L390.7 59.4L391.0 53.0L391.3 55.2L391.6 58.5L391.9 62.7L392.2 67.6L392.5 73.2L392.9 79.0L393.2 84.8L393.5 90.4L393.8 95.3L394.1 99.5L394.4 102.8L394.7 105.0L395.0 97.7L395.4 85.3L395.7 70.0L396.0 54.7L396.4 42.3L396.7 35.0L397.0 38.3L397.3 43.4L397.6 50.0L397.9 57.7L398.2 66.1L398.5 74.9L398.8 83.3L399.1 91.0L399.4 97.6L399.7 102.7L400.0 106.0L400.3 100.0L400.7 89.9L401.0 77.4L401.3 64.8L401.7 54.7L402.0 48.7L402.3 52.0L402.6 57.1L402.9 63.8L403.2 71.5L403.5 79.8L403.8 88.2L404.1 95.9L404.4 102.6L404.7 107.7L405.0 111.0L405.3 106.5L405.7 99.3L406.0 90.0L406.4 79.5L406.7 69.0L407.0 59.7L407.4 52.5L407.7 48.0L408.0 52.8L408.4 60.6L408.7 70.7L409.0 82.0L409.4 93.3L409.7 103.4L410.1 111.2L410.4 116.0L410.7 112.9L411.0 108.2L411.3 102.1L411.6 94.9L411.9 87.1L412.3 78.9L412.6 71.1L412.9 63.9L413.2 57.8L413.5 53.1L413.8 50.0L414.1 54.5L414.4 61.9L414.7 71.2L415.1 81.4L415.4 90.7L415.7 98.1L416.0 102.6L416.3 98.0L416.7 90.5L417.0 81.0L417.4 70.6L417.7 61.1L418.1 53.6L418.4 49.0L418.7 53.8L419.0 61.4L419.3 71.4L419.6 82.5L419.9 93.6L420.2 103.6L420.5 111.2L420.8 116.0L421.1 108.7L421.4 96.6L421.7 81.3L422.1 64.7L422.4 49.4L422.7 37.3L423.0 30.0L423.3 33.5L423.6 38.9L424.0 45.8L424.3 54.0L424.6 62.9L424.9 72.1L425.2 81.0L425.5 89.2L425.9 96.1L426.2 101.5L426.5 105.0L426.8 101.1L427.1 94.8L427.4 86.6L427.8 77.5L428.1 68.4L428.4 60.2L428.7 53.9L429.0 50.0L429.3 54.2L429.6 61.0L429.9 69.7L430.2 79.5L430.6 89.3L430.9 98.0L431.2 104.8L431.5 109.0L431.8 102.4L432.1 91.4L432.4 77.5L432.8 62.5L433.1 48.6L433.4 37.6L433.7 31.0L434.0 36.2L434.3 44.5L434.6 55.2L434.9 67.6L435.3 80.4L435.6 92.8L435.9 103.5L436.2 111.8L436.5 117.0L436.8 110.7L437.1 100.3L437.4 87.1L437.8 72.9L438.1 59.7L438.4 49.3L438.7 43.0L439.0 46.4L439.3 51.7L439.6 58.6L439.9 66.6L440.3 74.9L440.6 82.9L440.9 89.8L441.2 95.1L441.5 98.5L441.8 94.7L442.1 88.6L442.4 80.6L442.8 71.8L443.1 62.9L443.4 54.9L443.7 48.8L444.0 45.0L444.3 49.2L444.6 55.7L444.9 64.1L445.2 73.9L445.5 84.5L445.8 95.1L446.1 104.9L446.4 113.3L446.7 119.8L447.0 124.0L447.3 115.3L447.7 100.6L448.0 82.5L448.3 64.4L448.7 49.7L449.0 41.0L449.3 44.1L449.6 49.0L449.9 55.3L450.2 62.6L450.5 70.5L450.8 78.4L451.1 85.7L451.4 92.0L451.7 96.9L452.0 100.0L452.3 96.3L452.6 90.3L452.9 82.6L453.2 74.0L453.6 65.4L453.9 57.7L454.2 51.7L454.5 48.0L454.8 52.1L455.1 58.5L455.4 66.9L455.7 76.6L456.1 87.0L456.4 97.4L456.7 107.1L457.0 115.5L457.3 121.9L457.6 126.0L458.0 116.8L458.3 101.2L458.6 82.0L459.0 62.8L459.4 47.2L459.7 38.0L460.0 42.6L460.3 49.6L460.6 58.8L460.9 69.5L461.2 81.0L461.5 92.5L461.8 103.2L462.1 112.4L462.4 119.4L462.7 124.0L463.0 116.9L463.4 105.1L463.7 90.1L464.0 73.9L464.3 58.9L464.7 47.1L465.0 40.0L465.3 43.0L465.6 47.8L465.9 54.1L466.2 61.3L466.6 68.7L466.9 75.9L467.2 82.2L467.5 87.0L467.8 90.0L468.1 87.4L468.4 83.4L468.7 78.2L469.0 72.1L469.4 65.9L469.7 59.8L470.0 54.6L470.3 50.6L470.6 48.0L470.9 50.7L471.2 54.9L471.5 60.3L471.8 66.7L472.1 73.5L472.4 80.3L472.7 86.7L473.0 92.1L473.3 96.3L473.6 99.0L473.9 93.8L474.2 85.3L474.5 74.4L474.9 62.6L475.2 51.7L475.5 43.2L475.8 38.0L476.1 45.1L476.5 57.2L476.8 72.0L477.1 86.8L477.5 98.9L477.8 106.0L478.1 103.0L478.4 98.4L478.7 92.5L479.0 85.5L479.3 78.0L479.6 70.5L479.9 63.5L480.2 57.6L480.5 53.0L480.8 50.0L481.1 54.6L481.4 62.4L481.8 72.0L482.1 81.6L482.4 89.4L482.7 94.0L483.0 91.4L483.3 87.5L483.7 82.4L484.0 76.4L484.3 70.0L484.6 63.6L484.9 57.6L485.3 52.5L485.6 48.6L485.9 46.0L486.2 49.3L486.5 54.7L486.8 61.7L487.1 69.5L487.4 77.3L487.7 84.3L488.0 89.7L488.3 93.0L488.6 90.6L489.0 86.7L489.3 81.6L489.6 76.0L490.0 70.4L490.3 65.3L490.7 61.4L491.0 59.0L491.3 61.4L491.7 65.5L492.0 70.6L492.3 76.1L492.6 81.2L493.0 85.3L493.3 87.7L493.6 86.0L494.0 83.3L494.3 79.8L494.6 75.9L495.0 71.9L495.3 68.4L495.7 65.7L496.0 64.0L496.3 65.9L496.6 68.9L496.9 72.7L497.2 77.2L497.5 82.0L497.8 86.8L498.1 91.3L498.4 95.1L498.7 98.1L499.0 100.0L499.3 94.6L499.7 85.8L500.0 74.6L500.4 62.4L500.7 51.2L501.1 42.4L501.4 37.0L501.7 40.0L502.0 44.7L502.3 50.7L502.6 57.8L502.9 65.3L503.2 72.9L503.5 80.0L503.8 86.0L504.1 90.7L504.4 93.7L504.7 88.6L505.1 80.0L505.4 69.4L505.7 58.7L506.1 50.1L506.4 45.0L506.7 47.2L507.0 50.6L507.3 55.0L507.6 60.2L507.9 65.8L508.3 71.7L508.6 77.3L508.9 82.5L509.2 86.9L509.5 90.3L509.8 92.5L510.1 90.1L510.4 86.1L510.7 81.0L511.1 75.5L511.4 70.4L511.7 66.4L512.0 64.0L512.3 66.4L512.6 70.1L512.9 75.0L513.2 80.6L513.6 86.4L513.9 92.0L514.2 96.9L514.5 100.6L514.8 103.0L515.1 100.6L515.4 96.7L515.7 91.7L516.0 86.0L516.3 80.0L516.6 74.3L516.9 69.3L517.2 65.4L517.5 63.0L517.8 65.3L518.1 68.9L518.4 73.6L518.7 79.1L519.0 85.0L519.3 90.9L519.6 96.4L519.9 101.1L520.2 104.7L520.5 107.0L520.8 101.5L521.2 92.4L521.5 81.0L521.8 69.6L522.2 60.5L522.5 55.0L522.8 57.4L523.1 61.3L523.4 66.4L523.8 72.0L524.1 77.6L524.4 82.7L524.7 86.6L525.0 89.0L525.3 84.3L525.7 76.3L526.0 66.5L526.3 56.7L526.7 48.7L527.0 44.0L527.3 48.6L527.6 55.9L527.9 65.4L528.2 76.0L528.6 86.6L528.9 96.1L529.2 103.4L529.5 108.0L529.8 102.7L530.1 94.3L530.4 83.3L530.8 71.0L531.1 58.7L531.4 47.7L531.7 39.3L532.0 34.0" fill="none" stroke="#ff0000" stroke-width="0.7" stroke-linejoin="round"/>
<g font-size="8.8" fill="#262626" text-anchor="middle">
<text x="37.5" y="153.1">0</text>
<text x="87.0" y="153.1">1</text>
<text x="136.5" y="153.1">2</text>
<text x="186.0" y="153.1">3</text>
<text x="235.5" y="153.1">4</text>
<text x="285.0" y="153.1">5</text>
<text x="334.5" y="153.1">6</text>
<text x="384.0" y="153.1">7</text>
<text x="433.5" y="153.1">8</text>
<text x="483.0" y="153.1">9</text>
<text x="532.5" y="153.1">10</text>
</g>
<g font-size="8.8" fill="#262626" text-anchor="end">
<text x="33.8" y="8.6">50</text><text x="33.8" y="76.6">0</text><text x="33.8" y="144.4">−50</text>
</g>
<text x="268.7" y="166.4" font-size="10" fill="#262626" textLength="33.4" lengthAdjust="spacingAndGlyphs">Time (s)</text>
<text transform="translate(15.0 106.0) rotate(-90)" font-size="10" fill="#262626" textLength="64.1" lengthAdjust="spacingAndGlyphs">Amplitude (uV)</text>
<text x="267.3" y="188.7" font-size="10.8" fill="#111" textLength="11.8" lengthAdjust="spacingAndGlyphs">(<tspan font-weight="bold">a</tspan>)</text>
<rect x="477.5" y="13.5" width="48" height="23" fill="#fff" stroke="#6e6e6e" stroke-width="0.8"/>
<path d="M480 19.6h25.4" stroke="#0000ff" stroke-width="0.7"/><path d="M480 30.7h25.4" stroke="#ff0000" stroke-width="0.7"/>
<text x="507.5" y="22.3" font-size="7.6" fill="#262626" textLength="15.3" lengthAdjust="spacingAndGlyphs">DAS</text>
<text x="507.5" y="33.4" font-size="7.6" fill="#262626" textLength="14.9" lengthAdjust="spacingAndGlyphs">PSG</text>
<rect x="25.5" y="202.5" width="189.0" height="108.0" fill="none" stroke="#8a8a8a" stroke-width="0.7"/>
<path d="M51.57 310.5v-2M51.57 202.5v2M84.16 310.5v-2M84.16 202.5v2M116.74 310.5v-2M116.74 202.5v2M149.33 310.5v-2M149.33 202.5v2M181.91 310.5v-2M181.91 202.5v2M214.50 310.5v-2M214.50 202.5v2M25.5 310.50h2M214.5 310.50h-2M25.5 292.50h2M214.5 292.50h-2M25.5 274.50h2M214.5 274.50h-2M25.5 256.50h2M214.5 256.50h-2M25.5 238.50h2M214.5 238.50h-2M25.5 220.50h2M214.5 220.50h-2M25.5 202.50h2M214.5 202.50h-2" stroke="#8a8a8a" stroke-width="0.6" fill="none"/>
<path d="M25.5 275.9L26.2 277.4L26.8 275.9L27.5 260.7L28.1 273.6L28.8 275.8L29.4 276.3L30.1 274.1L30.7 303.3L31.4 273.8L32.0 266.6L32.7 280.5L33.3 277.1L34.0 279.6L34.6 266.8L35.3 267.5L35.9 270.7L36.6 274.6L37.2 267.0L37.9 262.6L38.5 283.2L39.2 276.0L39.8 274.6L40.5 269.4L41.1 262.7L41.8 276.5L42.4 268.5L43.1 267.8L43.7 280.1L44.4 296.1L45.1 263.1L45.7 283.3L46.4 263.4L47.0 264.7L47.7 267.2L48.3 304.2L49.0 264.3L49.6 271.9L50.3 281.2L50.9 285.3L51.6 280.2L52.2 283.4L52.9 281.2L53.5 266.1L54.2 279.4L54.8 263.6L55.5 274.9L56.1 265.8L56.8 264.9L57.4 274.7L58.1 298.8L58.7 273.9L59.4 261.5L60.0 265.8L60.7 271.4L61.3 260.0L62.0 270.3L62.6 270.9L63.3 264.1L64.0 270.5L64.6 257.2L65.3 272.7L65.9 255.9L66.6 261.7L67.2 273.5L67.9 261.0L68.5 262.2L69.2 263.4L69.8 275.0L70.5 265.8L71.1 287.1L71.8 256.2L72.4 265.8L73.1 289.5L73.7 251.7L74.4 264.3L75.0 262.2L75.7 257.5L76.3 251.1L77.0 249.9L77.6 254.7L78.3 249.3L78.9 242.8L79.6 243.2L80.2 241.2L80.9 234.9L81.5 239.4L82.2 243.9L82.9 245.2L83.5 248.7L84.2 251.5L84.8 247.1L85.5 253.2L86.1 249.8L86.8 269.4L87.4 269.0L88.1 259.2L88.7 273.9L89.4 269.0L90.0 266.8L90.7 263.0L91.3 266.4L92.0 275.8L92.6 278.7L93.3 263.9L93.9 267.7L94.6 269.7L95.2 277.0L95.9 269.3L96.5 274.6L97.2 278.9L97.8 269.5L98.5 275.8L99.1 289.7L99.8 267.8L100.4 271.6L101.1 283.3L101.8 266.4L102.4 284.7L103.1 287.1L103.7 298.6L104.4 284.8L105.0 260.5L105.7 271.6L106.3 270.2L107.0 299.7L107.6 289.2L108.3 271.8L108.9 273.7L109.6 273.8L110.2 269.2L110.9 282.7L111.5 269.5L112.2 288.4L112.8 284.9L113.5 280.5L114.1 285.1L114.8 282.8L115.4 285.0L116.1 286.5L116.7 289.7L117.4 274.0L118.0 279.0L118.7 266.0L119.3 290.4L120.0 272.0L120.7 286.1L121.3 310.5L122.0 280.2L122.6 277.5L123.3 279.9L123.9 269.4L124.6 305.1L125.2 284.7L125.9 298.6L126.5 276.5L127.2 284.6L127.8 285.9L128.5 277.9L129.1 283.2L129.8 293.2L130.4 262.1L131.1 282.7L131.7 276.1L132.4 273.3L133.0 281.6L133.7 284.0L134.3 280.0L135.0 272.1L135.6 277.3L136.3 284.0L136.9 281.5L137.6 264.8L138.2 270.1L138.9 274.5L139.6 268.9L140.2 265.8L140.9 281.3L141.5 268.1L142.2 266.7L142.8 260.8L143.5 259.5L144.1 275.6L144.8 292.4L145.4 275.3L146.1 269.1L146.7 276.0L147.4 276.4L148.0 266.4L148.7 280.5L149.3 281.2L150.0 272.2L150.6 283.1L151.3 310.5L151.9 269.8L152.6 276.8L153.2 285.8L153.9 277.9L154.5 291.1L155.2 305.4L155.8 299.6L156.5 297.4L157.1 272.5L157.8 305.1L158.5 276.9L159.1 272.0L159.8 276.1L160.4 270.0L161.1 308.3L161.7 293.3L162.4 310.5L163.0 280.3L163.7 298.8L164.3 286.0L165.0 302.7L165.6 292.0L166.3 306.9L166.9 284.4L167.6 281.7L168.2 281.8L168.9 273.4L169.5 268.8L170.2 281.0L170.8 272.3L171.5 290.7L172.1 281.6L172.8 305.1L173.4 281.8L174.1 282.3L174.7 299.7L175.4 281.8L176.0 279.5L176.7 281.5L177.4 283.1L178.0 282.2L178.7 278.0L179.3 271.8L180.0 284.7L180.6 287.0L181.3 279.5L181.9 285.0L182.6 280.6L183.2 283.6L183.9 291.3L184.5 310.5L185.2 310.5L185.8 275.9L186.5 275.5L187.1 284.8L187.8 276.0L188.4 279.0L189.1 287.0L189.7 288.9L190.4 286.0L191.0 279.3L191.7 281.8L192.3 288.5L193.0 283.8L193.6 289.6L194.3 281.9L194.9 299.0L195.6 287.4L196.3 287.3L196.9 280.9L197.6 281.3L198.2 290.4L198.9 289.9L199.5 303.3L200.2 295.0L200.8 287.3L201.5 305.1L202.1 290.6L202.8 307.2L203.4 275.9L204.1 293.1L204.7 286.0L205.4 276.0L206.0 281.9L206.7 294.3L207.3 288.0L208.0 288.4L208.6 280.0L209.3 287.4L209.9 282.1L210.6 283.0L211.2 293.0L211.9 304.9L212.5 292.1L213.2 283.8L213.8 287.5L214.5 291.6" fill="none" stroke="#0000ff" stroke-width="0.45" stroke-linejoin="round"/>
<path d="M25.5 271.2L26.2 273.1L26.8 250.7L27.5 272.2L28.1 266.6L28.8 294.3L29.4 266.3L30.1 292.0L30.7 261.3L31.4 270.1L32.0 299.3L32.7 289.5L33.3 278.9L34.0 273.1L34.6 265.5L35.3 269.7L35.9 269.2L36.6 277.7L37.2 257.9L37.9 268.4L38.5 279.3L39.2 288.2L39.8 300.6L40.5 274.9L41.1 265.4L41.8 280.0L42.4 273.0L43.1 274.6L43.7 269.8L44.4 277.9L45.1 276.1L45.7 267.3L46.4 278.6L47.0 289.3L47.7 281.2L48.3 273.3L49.0 267.7L49.6 269.4L50.3 273.8L50.9 277.6L51.6 266.0L52.2 263.9L52.9 274.1L53.5 268.9L54.2 258.3L54.8 277.3L55.5 275.1L56.1 286.5L56.8 269.1L57.4 268.5L58.1 271.1L58.7 270.2L59.4 262.0L60.0 279.1L60.7 262.4L61.3 276.7L62.0 306.9L62.6 257.1L63.3 265.0L64.0 279.5L64.6 255.1L65.3 261.6L65.9 258.6L66.6 269.5L67.2 259.8L67.9 270.6L68.5 256.0L69.2 267.9L69.8 270.0L70.5 267.2L71.1 278.0L71.8 263.3L72.4 270.9L73.1 250.7L73.7 254.9L74.4 255.4L75.0 276.9L75.7 246.4L76.3 243.2L77.0 250.6L77.6 248.7L78.3 242.9L78.9 244.1L79.6 237.3L80.2 242.1L80.9 230.2L81.5 240.3L82.2 239.2L82.9 244.7L83.5 249.7L84.2 253.2L84.8 253.5L85.5 254.3L86.1 250.7L86.8 288.9L87.4 310.5L88.1 257.6L88.7 261.4L89.4 265.9L90.0 275.9L90.7 270.0L91.3 261.5L92.0 300.0L92.6 267.9L93.3 280.9L93.9 268.8L94.6 264.0L95.2 269.2L95.9 274.2L96.5 264.1L97.2 275.9L97.8 277.7L98.5 273.6L99.1 266.6L99.8 263.5L100.4 283.3L101.1 279.6L101.8 276.2L102.4 274.7L103.1 268.0L103.7 276.0L104.4 296.8L105.0 295.1L105.7 274.2L106.3 270.1L107.0 287.0L107.6 299.5L108.3 283.0L108.9 295.3L109.6 277.8L110.2 273.8L110.9 266.2L111.5 303.3L112.2 286.0L112.8 277.8L113.5 286.2L114.1 280.9L114.8 277.1L115.4 272.6L116.1 271.9L116.7 292.0L117.4 273.5L118.0 278.8L118.7 269.2L119.3 276.6L120.0 272.2L120.7 278.9L121.3 286.0L122.0 271.9L122.6 274.1L123.3 269.9L123.9 266.4L124.6 272.7L125.2 269.7L125.9 281.9L126.5 279.8L127.2 273.4L127.8 301.1L128.5 295.3L129.1 287.9L129.8 273.2L130.4 289.2L131.1 274.6L131.7 275.3L132.4 279.2L133.0 293.4L133.7 278.4L134.3 274.5L135.0 278.3L135.6 277.5L136.3 281.0L136.9 269.6L137.6 270.6L138.2 276.7L138.9 284.6L139.6 275.9L140.2 297.9L140.9 274.3L141.5 268.0L142.2 273.4L142.8 261.9L143.5 274.1L144.1 262.8L144.8 272.6L145.4 273.6L146.1 264.1L146.7 277.2L147.4 271.4L148.0 285.8L148.7 310.5L149.3 310.5L150.0 280.9L150.6 275.3L151.3 273.8L151.9 278.7L152.6 287.5L153.2 281.1L153.9 282.0L154.5 290.2L155.2 278.1L155.8 280.2L156.5 278.8L157.1 287.8L157.8 275.0L158.5 285.5L159.1 272.1L159.8 265.7L160.4 292.5L161.1 277.1L161.7 295.0L162.4 283.2L163.0 293.2L163.7 278.1L164.3 289.7L165.0 273.0L165.6 294.0L166.3 276.9L166.9 278.3L167.6 297.8L168.2 302.5L168.9 281.8L169.5 292.6L170.2 290.0L170.8 268.9L171.5 295.9L172.1 272.0L172.8 277.3L173.4 283.2L174.1 284.0L174.7 310.4L175.4 275.7L176.0 283.7L176.7 284.8L177.4 292.3L178.0 309.6L178.7 277.0L179.3 275.6L180.0 285.1L180.6 283.0L181.3 277.1L181.9 274.4L182.6 277.8L183.2 285.3L183.9 275.5L184.5 278.2L185.2 285.5L185.8 299.3L186.5 284.2L187.1 286.8L187.8 281.3L188.4 273.7L189.1 287.4L189.7 282.5L190.4 286.3L191.0 281.2L191.7 278.9L192.3 308.0L193.0 279.5L193.6 286.3L194.3 292.4L194.9 297.6L195.6 275.7L196.3 310.5L196.9 283.1L197.6 281.8L198.2 299.8L198.9 279.5L199.5 275.2L200.2 308.7L200.8 284.9L201.5 302.0L202.1 286.6L202.8 283.0L203.4 290.1L204.1 283.8L204.7 280.9L205.4 310.5L206.0 304.6L206.7 280.3L207.3 308.7L208.0 303.7L208.6 275.4L209.3 276.8L209.9 310.5L210.6 292.0L211.2 275.9L211.9 286.3L212.5 279.4L213.2 298.0L213.8 286.8L214.5 303.9" fill="none" stroke="#ffffff" stroke-width="0.45" stroke-linejoin="round"/>
<path d="M25.5 271.2L26.2 273.1L26.8 250.7L27.5 272.2L28.1 266.6L28.8 294.3L29.4 266.3L30.1 292.0L30.7 261.3L31.4 270.1L32.0 299.3L32.7 289.5L33.3 278.9L34.0 273.1L34.6 265.5L35.3 269.7L35.9 269.2L36.6 277.7L37.2 257.9L37.9 268.4L38.5 279.3L39.2 288.2L39.8 300.6L40.5 274.9L41.1 265.4L41.8 280.0L42.4 273.0L43.1 274.6L43.7 269.8L44.4 277.9L45.1 276.1L45.7 267.3L46.4 278.6L47.0 289.3L47.7 281.2L48.3 273.3L49.0 267.7L49.6 269.4L50.3 273.8L50.9 277.6L51.6 266.0L52.2 263.9L52.9 274.1L53.5 268.9L54.2 258.3L54.8 277.3L55.5 275.1L56.1 286.5L56.8 269.1L57.4 268.5L58.1 271.1L58.7 270.2L59.4 262.0L60.0 279.1L60.7 262.4L61.3 276.7L62.0 306.9L62.6 257.1L63.3 265.0L64.0 279.5L64.6 255.1L65.3 261.6L65.9 258.6L66.6 269.5L67.2 259.8L67.9 270.6L68.5 256.0L69.2 267.9L69.8 270.0L70.5 267.2L71.1 278.0L71.8 263.3L72.4 270.9L73.1 250.7L73.7 254.9L74.4 255.4L75.0 276.9L75.7 246.4L76.3 243.2L77.0 250.6L77.6 248.7L78.3 242.9L78.9 244.1L79.6 237.3L80.2 242.1L80.9 230.2L81.5 240.3L82.2 239.2L82.9 244.7L83.5 249.7L84.2 253.2L84.8 253.5L85.5 254.3L86.1 250.7L86.8 288.9L87.4 310.5L88.1 257.6L88.7 261.4L89.4 265.9L90.0 275.9L90.7 270.0L91.3 261.5L92.0 300.0L92.6 267.9L93.3 280.9L93.9 268.8L94.6 264.0L95.2 269.2L95.9 274.2L96.5 264.1L97.2 275.9L97.8 277.7L98.5 273.6L99.1 266.6L99.8 263.5L100.4 283.3L101.1 279.6L101.8 276.2L102.4 274.7L103.1 268.0L103.7 276.0L104.4 296.8L105.0 295.1L105.7 274.2L106.3 270.1L107.0 287.0L107.6 299.5L108.3 283.0L108.9 295.3L109.6 277.8L110.2 273.8L110.9 266.2L111.5 303.3L112.2 286.0L112.8 277.8L113.5 286.2L114.1 280.9L114.8 277.1L115.4 272.6L116.1 271.9L116.7 292.0L117.4 273.5L118.0 278.8L118.7 269.2L119.3 276.6L120.0 272.2L120.7 278.9L121.3 286.0L122.0 271.9L122.6 274.1L123.3 269.9L123.9 266.4L124.6 272.7L125.2 269.7L125.9 281.9L126.5 279.8L127.2 273.4L127.8 301.1L128.5 295.3L129.1 287.9L129.8 273.2L130.4 289.2L131.1 274.6L131.7 275.3L132.4 279.2L133.0 293.4L133.7 278.4L134.3 274.5L135.0 278.3L135.6 277.5L136.3 281.0L136.9 269.6L137.6 270.6L138.2 276.7L138.9 284.6L139.6 275.9L140.2 297.9L140.9 274.3L141.5 268.0L142.2 273.4L142.8 261.9L143.5 274.1L144.1 262.8L144.8 272.6L145.4 273.6L146.1 264.1L146.7 277.2L147.4 271.4L148.0 285.8L148.7 310.5L149.3 310.5L150.0 280.9L150.6 275.3L151.3 273.8L151.9 278.7L152.6 287.5L153.2 281.1L153.9 282.0L154.5 290.2L155.2 278.1L155.8 280.2L156.5 278.8L157.1 287.8L157.8 275.0L158.5 285.5L159.1 272.1L159.8 265.7L160.4 292.5L161.1 277.1L161.7 295.0L162.4 283.2L163.0 293.2L163.7 278.1L164.3 289.7L165.0 273.0L165.6 294.0L166.3 276.9L166.9 278.3L167.6 297.8L168.2 302.5L168.9 281.8L169.5 292.6L170.2 290.0L170.8 268.9L171.5 295.9L172.1 272.0L172.8 277.3L173.4 283.2L174.1 284.0L174.7 310.4L175.4 275.7L176.0 283.7L176.7 284.8L177.4 292.3L178.0 309.6L178.7 277.0L179.3 275.6L180.0 285.1L180.6 283.0L181.3 277.1L181.9 274.4L182.6 277.8L183.2 285.3L183.9 275.5L184.5 278.2L185.2 285.5L185.8 299.3L186.5 284.2L187.1 286.8L187.8 281.3L188.4 273.7L189.1 287.4L189.7 282.5L190.4 286.3L191.0 281.2L191.7 278.9L192.3 308.0L193.0 279.5L193.6 286.3L194.3 292.4L194.9 297.6L195.6 275.7L196.3 310.5L196.9 283.1L197.6 281.8L198.2 299.8L198.9 279.5L199.5 275.2L200.2 308.7L200.8 284.9L201.5 302.0L202.1 286.6L202.8 283.0L203.4 290.1L204.1 283.8L204.7 280.9L205.4 310.5L206.0 304.6L206.7 280.3L207.3 308.7L208.0 303.7L208.6 275.4L209.3 276.8L209.9 310.5L210.6 292.0L211.2 275.9L211.9 286.3L212.5 279.4L213.2 298.0L213.8 286.8L214.5 303.9" fill="none" stroke="#ff0000" stroke-width="0.45" stroke-linejoin="round"/>
<g font-size="5.8" fill="#5c5c5c" text-anchor="middle">
<text x="51.3" y="319.3">5</text>
<text x="83.9" y="319.3">10</text>
<text x="116.4" y="319.3">15</text>
<text x="149.0" y="319.3">20</text>
<text x="181.6" y="319.3">25</text>
<text x="214.2" y="319.3">30</text>
</g>
<g font-size="5.8" fill="#5c5c5c" text-anchor="end">
<text x="23.2" y="312.4">−30</text>
<text x="23.2" y="294.4">−20</text>
<text x="23.2" y="276.4">−10</text>
<text x="23.2" y="258.4">0</text>
<text x="23.2" y="240.4">10</text>
<text x="23.2" y="222.4">20</text>
<text x="23.2" y="204.4">30</text>
</g>
<text x="97.9" y="328.6" font-size="7" fill="#333" textLength="44.9" lengthAdjust="spacingAndGlyphs">Frequency (Hz)</text>
<text transform="translate(11.0 298.7) rotate(-90)" font-size="6.5" fill="#333" textLength="85.8" lengthAdjust="spacingAndGlyphs">Amplitude 10<tspan font-size="5" dy="0.4">∗</tspan><tspan dy="-0.4">log10 (uV</tspan><tspan font-size="4.4" dy="-2.2">2</tspan><tspan dy="2.2">/Hz)</tspan></text>
<text x="109.8" y="343.7" font-size="11" fill="#111" textLength="12.6" lengthAdjust="spacingAndGlyphs">(<tspan font-weight="bold">b</tspan>)</text>
<rect x="176.5" y="207.2" width="33.6" height="16.7" fill="#fff" stroke="#8a8a8a" stroke-width="0.6"/>
<path d="M178.2 211.5h17.5" stroke="#0000ff" stroke-width="0.5"/><path d="M178.2 218.7h17.5" stroke="#ff0000" stroke-width="0.5"/>
<text x="197.5" y="213.3" font-size="5.2" fill="#333" textLength="10.4" lengthAdjust="spacingAndGlyphs">DAS</text>
<text x="197.5" y="220.5" font-size="5.2" fill="#333" textLength="10.1" lengthAdjust="spacingAndGlyphs">PSG</text>
<defs><linearGradient id="c0" x1="0" y1="0" x2="0" y2="1"><stop offset="0.000" stop-color="#000099"/><stop offset="0.013" stop-color="#0000b4"/><stop offset="0.064" stop-color="#0000b6"/><stop offset="0.135" stop-color="#0000ba"/><stop offset="0.221" stop-color="#0000c0"/><stop offset="0.306" stop-color="#0000c7"/><stop offset="0.391" stop-color="#0000cf"/><stop offset="0.477" stop-color="#0000da"/><stop offset="0.548" stop-color="#0000e5"/><stop offset="0.605" stop-color="#0000ef"/><stop offset="0.662" stop-color="#0000fb"/><stop offset="0.704" stop-color="#0007ff"/><stop offset="0.733" stop-color="#000fff"/><stop offset="0.756" stop-color="#0000f1"/><stop offset="0.775" stop-color="#000bff"/><stop offset="0.795" stop-color="#0032ff"/><stop offset="0.815" stop-color="#0051ff"/><stop offset="0.835" stop-color="#005cff"/><stop offset="0.855" stop-color="#005fff"/><stop offset="0.875" stop-color="#0062ff"/><stop offset="0.895" stop-color="#0060ff"/><stop offset="0.915" stop-color="#004aff"/><stop offset="0.935" stop-color="#0017ff"/><stop offset="0.955" stop-color="#0000dd"/><stop offset="0.972" stop-color="#0000c2"/><stop offset="0.989" stop-color="#0000ba"/><stop offset="1.000" stop-color="#0000b9"/></linearGradient><linearGradient id="c1" x1="0" y1="0" x2="0" y2="1"><stop offset="0.000" stop-color="#00009e"/><stop offset="0.013" stop-color="#0000ba"/><stop offset="0.064" stop-color="#0000bf"/><stop offset="0.135" stop-color="#0000c7"/><stop offset="0.221" stop-color="#0000d1"/><stop offset="0.306" stop-color="#0000dd"/><stop offset="0.391" stop-color="#0000eb"/><stop offset="0.477" stop-color="#0000fb"/><stop offset="0.548" stop-color="#000bff"/><stop offset="0.605" stop-color="#0018ff"/><stop offset="0.662" stop-color="#0027ff"/><stop offset="0.704" stop-color="#0033ff"/><stop offset="0.733" stop-color="#003cff"/><stop offset="0.756" stop-color="#000bff"/><stop offset="0.775" stop-color="#0028ff"/><stop offset="0.795" stop-color="#004aff"/><stop offset="0.815" stop-color="#0071ff"/><stop offset="0.835" stop-color="#0081ff"/><stop offset="0.855" stop-color="#0089ff"/><stop offset="0.875" stop-color="#0093ff"/><stop offset="0.895" stop-color="#0097ff"/><stop offset="0.915" stop-color="#007fff"/><stop offset="0.935" stop-color="#003dff"/><stop offset="0.955" stop-color="#0000f0"/><stop offset="0.972" stop-color="#0000ca"/><stop offset="0.989" stop-color="#0000bd"/><stop offset="1.000" stop-color="#0000ba"/></linearGradient><linearGradient id="c2" x1="0" y1="0" x2="0" y2="1"><stop offset="0.000" stop-color="#000098"/><stop offset="0.013" stop-color="#0000b3"/><stop offset="0.064" stop-color="#0000b5"/><stop offset="0.135" stop-color="#0000b8"/><stop offset="0.221" stop-color="#0000bd"/><stop offset="0.306" stop-color="#0000c4"/><stop offset="0.391" stop-color="#0000cb"/><stop offset="0.477" stop-color="#0000d5"/><stop offset="0.548" stop-color="#0000de"/><stop offset="0.605" stop-color="#0000e8"/><stop offset="0.662" stop-color="#0000f3"/><stop offset="0.704" stop-color="#0000fd"/><stop offset="0.733" stop-color="#0006ff"/><stop offset="0.756" stop-color="#0000ee"/><stop offset="0.775" stop-color="#000aff"/><stop offset="0.795" stop-color="#0038ff"/><stop offset="0.815" stop-color="#005fff"/><stop offset="0.835" stop-color="#0073ff"/><stop offset="0.855" stop-color="#0083ff"/><stop offset="0.875" stop-color="#0098ff"/><stop offset="0.895" stop-color="#00a7ff"/><stop offset="0.915" stop-color="#0095ff"/><stop offset="0.935" stop-color="#0052ff"/><stop offset="0.955" stop-color="#0001ff"/><stop offset="0.972" stop-color="#0000d3"/><stop offset="0.989" stop-color="#0000c0"/><stop offset="1.000" stop-color="#0000bc"/></linearGradient><linearGradient id="c3" x1="0" y1="0" x2="0" y2="1"><stop offset="0.000" stop-color="#000097"/><stop offset="0.013" stop-color="#0000b2"/><stop offset="0.064" stop-color="#0000b3"/><stop offset="0.135" stop-color="#0000b6"/><stop offset="0.221" stop-color="#0000b9"/><stop offset="0.306" stop-color="#0000be"/><stop offset="0.391" stop-color="#0000c2"/><stop offset="0.477" stop-color="#0000c8"/><stop offset="0.548" stop-color="#0000ce"/><stop offset="0.605" stop-color="#0000d3"/><stop offset="0.662" stop-color="#0000d9"/><stop offset="0.704" stop-color="#0000df"/><stop offset="0.733" stop-color="#0000e5"/><stop offset="0.756" stop-color="#0000dd"/><stop offset="0.775" stop-color="#0000f8"/><stop offset="0.795" stop-color="#0033ff"/><stop offset="0.815" stop-color="#005eff"/><stop offset="0.835" stop-color="#007bff"/><stop offset="0.855" stop-color="#0095ff"/><stop offset="0.875" stop-color="#00b0ff"/><stop offset="0.895" stop-color="#00c1ff"/><stop offset="0.915" stop-color="#00adff"/><stop offset="0.935" stop-color="#0065ff"/><stop offset="0.955" stop-color="#000dff"/><stop offset="0.972" stop-color="#0000da"/><stop offset="0.989" stop-color="#0000c3"/><stop offset="1.000" stop-color="#0000bd"/></linearGradient><linearGradient id="c4" x1="0" y1="0" x2="0" y2="1"><stop offset="0.000" stop-color="#000099"/><stop offset="0.013" stop-color="#0000b4"/><stop offset="0.064" stop-color="#0000b7"/><stop offset="0.135" stop-color="#0000bb"/><stop offset="0.221" stop-color="#0000c2"/><stop offset="0.306" stop-color="#0000c9"/><stop offset="0.391" stop-color="#0000d2"/><stop offset="0.477" stop-color="#0000dd"/><stop offset="0.548" stop-color="#0000e8"/><stop offset="0.605" stop-color="#0000f2"/><stop offset="0.662" stop-color="#0000fe"/><stop offset="0.704" stop-color="#000aff"/><stop offset="0.733" stop-color="#0014ff"/><stop offset="0.756" stop-color="#0000fa"/><stop offset="0.775" stop-color="#0020ff"/><stop offset="0.795" stop-color="#005aff"/><stop offset="0.815" stop-color="#0099ff"/><stop offset="0.835" stop-color="#00cdff"/><stop offset="0.855" stop-color="#00f6ff"/><stop offset="0.875" stop-color="#0cfff3"/><stop offset="0.895" stop-color="#03fffc"/><stop offset="0.915" stop-color="#00d3ff"/><stop offset="0.935" stop-color="#0077ff"/><stop offset="0.955" stop-color="#0012ff"/><stop offset="0.972" stop-color="#0000da"/><stop offset="0.989" stop-color="#0000c3"/><stop offset="1.000" stop-color="#0000bd"/></linearGradient><linearGradient id="c5" x1="0" y1="0" x2="0" y2="1"><stop offset="0.000" stop-color="#00009b"/><stop offset="0.013" stop-color="#0000b6"/><stop offset="0.064" stop-color="#0000b9"/><stop offset="0.135" stop-color="#0000bf"/><stop offset="0.221" stop-color="#0000c7"/><stop offset="0.306" stop-color="#0000d0"/><stop offset="0.391" stop-color="#0000dc"/><stop offset="0.477" stop-color="#0000ec"/><stop offset="0.548" stop-color="#0000fb"/><stop offset="0.605" stop-color="#000cff"/><stop offset="0.662" stop-color="#001eff"/><stop offset="0.704" stop-color="#002fff"/><stop offset="0.733" stop-color="#003eff"/><stop offset="0.756" stop-color="#0016ff"/><stop offset="0.775" stop-color="#0045ff"/><stop offset="0.795" stop-color="#0082ff"/><stop offset="0.815" stop-color="#00ddff"/><stop offset="0.835" stop-color="#3affc5"/><stop offset="0.855" stop-color="#85ff7a"/><stop offset="0.875" stop-color="#8aff75"/><stop offset="0.895" stop-color="#48ffb7"/><stop offset="0.915" stop-color="#00e5ff"/><stop offset="0.935" stop-color="#0073ff"/><stop offset="0.955" stop-color="#000aff"/><stop offset="0.972" stop-color="#0000d5"/><stop offset="0.989" stop-color="#0000c1"/><stop offset="1.000" stop-color="#0000bc"/></linearGradient><linearGradient id="c6" x1="0" y1="0" x2="0" y2="1"><stop offset="0.000" stop-color="#0000a0"/><stop offset="0.013" stop-color="#0000bc"/><stop offset="0.064" stop-color="#0000c2"/><stop offset="0.135" stop-color="#0000cb"/><stop offset="0.221" stop-color="#0000d7"/><stop offset="0.306" stop-color="#0000e6"/><stop offset="0.391" stop-color="#0000f7"/><stop offset="0.477" stop-color="#000dff"/><stop offset="0.548" stop-color="#0021ff"/><stop offset="0.605" stop-color="#0033ff"/><stop offset="0.662" stop-color="#0048ff"/><stop offset="0.704" stop-color="#005aff"/><stop offset="0.733" stop-color="#006aff"/><stop offset="0.756" stop-color="#002fff"/><stop offset="0.775" stop-color="#0063ff"/><stop offset="0.795" stop-color="#009eff"/><stop offset="0.815" stop-color="#12ffed"/><stop offset="0.835" stop-color="#97ff68"/><stop offset="0.855" stop-color="#fff800"/><stop offset="0.875" stop-color="#fdff02"/><stop offset="0.895" stop-color="#83ff7c"/><stop offset="0.915" stop-color="#00f1ff"/><stop offset="0.935" stop-color="#006dff"/><stop offset="0.955" stop-color="#0002ff"/><stop offset="0.972" stop-color="#0000cf"/><stop offset="0.989" stop-color="#0000bf"/><stop offset="1.000" stop-color="#0000bb"/></linearGradient><linearGradient id="c7" x1="0" y1="0" x2="0" y2="1"><stop offset="0.000" stop-color="#00009d"/><stop offset="0.013" stop-color="#0000b8"/><stop offset="0.064" stop-color="#0000bd"/><stop offset="0.135" stop-color="#0000c4"/><stop offset="0.221" stop-color="#0000cd"/><stop offset="0.306" stop-color="#0000d9"/><stop offset="0.391" stop-color="#0000e7"/><stop offset="0.477" stop-color="#0000f9"/><stop offset="0.548" stop-color="#000bff"/><stop offset="0.605" stop-color="#001cff"/><stop offset="0.662" stop-color="#002fff"/><stop offset="0.704" stop-color="#003fff"/><stop offset="0.733" stop-color="#004eff"/><stop offset="0.756" stop-color="#001fff"/><stop offset="0.775" stop-color="#004eff"/><stop offset="0.795" stop-color="#008cff"/><stop offset="0.815" stop-color="#00f6ff"/><stop offset="0.835" stop-color="#72ff8d"/><stop offset="0.855" stop-color="#d7ff28"/><stop offset="0.875" stop-color="#caff35"/><stop offset="0.895" stop-color="#54ffab"/><stop offset="0.915" stop-color="#00ccff"/><stop offset="0.935" stop-color="#0053ff"/><stop offset="0.955" stop-color="#0000f5"/><stop offset="0.972" stop-color="#0000cb"/><stop offset="0.989" stop-color="#0000bd"/><stop offset="1.000" stop-color="#0000ba"/></linearGradient><linearGradient id="c8" x1="0" y1="0" x2="0" y2="1"><stop offset="0.000" stop-color="#000098"/><stop offset="0.013" stop-color="#0000b3"/><stop offset="0.064" stop-color="#0000b5"/><stop offset="0.135" stop-color="#0000b8"/><stop offset="0.221" stop-color="#0000bd"/><stop offset="0.306" stop-color="#0000c2"/><stop offset="0.391" stop-color="#0000ca"/><stop offset="0.477" stop-color="#0000d3"/><stop offset="0.548" stop-color="#0000dd"/><stop offset="0.605" stop-color="#0000e6"/><stop offset="0.662" stop-color="#0000f2"/><stop offset="0.704" stop-color="#0000fe"/><stop offset="0.733" stop-color="#000aff"/><stop offset="0.756" stop-color="#0000f6"/><stop offset="0.775" stop-color="#001dff"/><stop offset="0.795" stop-color="#005cff"/><stop offset="0.815" stop-color="#00a5ff"/><stop offset="0.835" stop-color="#00edff"/><stop offset="0.855" stop-color="#24ffdb"/><stop offset="0.875" stop-color="#1cffe3"/><stop offset="0.895" stop-color="#00d8ff"/><stop offset="0.915" stop-color="#0083ff"/><stop offset="0.935" stop-color="#002eff"/><stop offset="0.955" stop-color="#0000e6"/><stop offset="0.972" stop-color="#0000c6"/><stop offset="0.989" stop-color="#0000bc"/><stop offset="1.000" stop-color="#0000ba"/></linearGradient><linearGradient id="c9" x1="0" y1="0" x2="0" y2="1"><stop offset="0.000" stop-color="#000098"/><stop offset="0.013" stop-color="#0000b3"/><stop offset="0.064" stop-color="#0000b5"/><stop offset="0.135" stop-color="#0000b9"/><stop offset="0.221" stop-color="#0000be"/><stop offset="0.306" stop-color="#0000c4"/><stop offset="0.391" stop-color="#0000cb"/><stop offset="0.477" stop-color="#0000d4"/><stop offset="0.548" stop-color="#0000dc"/><stop offset="0.605" stop-color="#0000e4"/><stop offset="0.662" stop-color="#0000ed"/><stop offset="0.704" stop-color="#0000f5"/><stop offset="0.733" stop-color="#0000fc"/><stop offset="0.756" stop-color="#0000ea"/><stop offset="0.775" stop-color="#0009ff"/><stop offset="0.795" stop-color="#003fff"/><stop offset="0.815" stop-color="#0070ff"/><stop offset="0.835" stop-color="#0092ff"/><stop offset="0.855" stop-color="#00a6ff"/><stop offset="0.875" stop-color="#00a2ff"/><stop offset="0.895" stop-color="#0086ff"/><stop offset="0.915" stop-color="#0056ff"/><stop offset="0.935" stop-color="#0018ff"/><stop offset="0.955" stop-color="#0000dd"/><stop offset="0.972" stop-color="#0000c3"/><stop offset="0.989" stop-color="#0000bb"/><stop offset="1.000" stop-color="#0000b9"/></linearGradient><linearGradient id="c10" x1="0" y1="0" x2="0" y2="1"><stop offset="0.000" stop-color="#000097"/><stop offset="0.013" stop-color="#0000b2"/><stop offset="0.064" stop-color="#0000b3"/><stop offset="0.135" stop-color="#0000b6"/><stop offset="0.221" stop-color="#0000b9"/><stop offset="0.306" stop-color="#0000bd"/><stop offset="0.391" stop-color="#0000c2"/><stop offset="0.477" stop-color="#0000c8"/><stop offset="0.548" stop-color="#0000cd"/><stop offset="0.605" stop-color="#0000d2"/><stop offset="0.662" stop-color="#0000d7"/><stop offset="0.704" stop-color="#0000dc"/><stop offset="0.733" stop-color="#0000e0"/><stop offset="0.756" stop-color="#0000d8"/><stop offset="0.775" stop-color="#0000ee"/><stop offset="0.795" stop-color="#0020ff"/><stop offset="0.815" stop-color="#0041ff"/><stop offset="0.835" stop-color="#0052ff"/><stop offset="0.855" stop-color="#0059ff"/><stop offset="0.875" stop-color="#0057ff"/><stop offset="0.895" stop-color="#004bff"/><stop offset="0.915" stop-color="#002fff"/><stop offset="0.935" stop-color="#0002ff"/><stop offset="0.955" stop-color="#0000d4"/><stop offset="0.972" stop-color="#0000c0"/><stop offset="0.989" stop-color="#0000ba"/><stop offset="1.000" stop-color="#0000b9"/></linearGradient><linearGradient id="c11" x1="0" y1="0" x2="0" y2="1"><stop offset="0.000" stop-color="#000098"/><stop offset="0.013" stop-color="#0000b3"/><stop offset="0.064" stop-color="#0000b6"/><stop offset="0.135" stop-color="#0000b9"/><stop offset="0.221" stop-color="#0000be"/><stop offset="0.306" stop-color="#0000c4"/><stop offset="0.391" stop-color="#0000cb"/><stop offset="0.477" stop-color="#0000d3"/><stop offset="0.548" stop-color="#0000db"/><stop offset="0.605" stop-color="#0000e2"/><stop offset="0.662" stop-color="#0000ea"/><stop offset="0.704" stop-color="#0000f1"/><stop offset="0.733" stop-color="#0000f6"/><stop offset="0.756" stop-color="#0000e2"/><stop offset="0.775" stop-color="#0000f6"/><stop offset="0.795" stop-color="#0018ff"/><stop offset="0.815" stop-color="#0033ff"/><stop offset="0.835" stop-color="#003eff"/><stop offset="0.855" stop-color="#0041ff"/><stop offset="0.875" stop-color="#0040ff"/><stop offset="0.895" stop-color="#0039ff"/><stop offset="0.915" stop-color="#0023ff"/><stop offset="0.935" stop-color="#0000fb"/><stop offset="0.955" stop-color="#0000d2"/><stop offset="0.972" stop-color="#0000bf"/><stop offset="0.989" stop-color="#0000b9"/><stop offset="1.000" stop-color="#0000b9"/></linearGradient><linearGradient id="c12" x1="0" y1="0" x2="0" y2="1"><stop offset="0.000" stop-color="#000098"/><stop offset="0.013" stop-color="#0000b3"/><stop offset="0.064" stop-color="#0000b6"/><stop offset="0.135" stop-color="#0000b9"/><stop offset="0.221" stop-color="#0000be"/><stop offset="0.306" stop-color="#0000c4"/><stop offset="0.391" stop-color="#0000cb"/><stop offset="0.477" stop-color="#0000d4"/><stop offset="0.548" stop-color="#0000dc"/><stop offset="0.605" stop-color="#0000e4"/><stop offset="0.662" stop-color="#0000ed"/><stop offset="0.704" stop-color="#0000f5"/><stop offset="0.733" stop-color="#0000fa"/><stop offset="0.756" stop-color="#0000e2"/><stop offset="0.775" stop-color="#0000f1"/><stop offset="0.795" stop-color="#0002ff"/><stop offset="0.815" stop-color="#0015ff"/><stop offset="0.835" stop-color="#001cff"/><stop offset="0.855" stop-color="#001dff"/><stop offset="0.875" stop-color="#001dff"/><stop offset="0.895" stop-color="#0019ff"/><stop offset="0.915" stop-color="#0009ff"/><stop offset="0.935" stop-color="#0000eb"/><stop offset="0.955" stop-color="#0000cb"/><stop offset="0.972" stop-color="#0000bd"/><stop offset="0.989" stop-color="#0000b9"/><stop offset="1.000" stop-color="#0000b9"/></linearGradient><linearGradient id="c13" x1="0" y1="0" x2="0" y2="1"><stop offset="0.000" stop-color="#000099"/><stop offset="0.013" stop-color="#0000b4"/><stop offset="0.064" stop-color="#0000b6"/><stop offset="0.135" stop-color="#0000b9"/><stop offset="0.221" stop-color="#0000be"/><stop offset="0.306" stop-color="#0000c4"/><stop offset="0.391" stop-color="#0000cb"/><stop offset="0.477" stop-color="#0000d3"/><stop offset="0.548" stop-color="#0000db"/><stop offset="0.605" stop-color="#0000e2"/><stop offset="0.662" stop-color="#0000e9"/><stop offset="0.704" stop-color="#0000ef"/><stop offset="0.733" stop-color="#0000f4"/><stop offset="0.756" stop-color="#0000dc"/><stop offset="0.775" stop-color="#0000e5"/><stop offset="0.795" stop-color="#0000e4"/><stop offset="0.815" stop-color="#0000ef"/><stop offset="0.835" stop-color="#0000f3"/><stop offset="0.855" stop-color="#0000f3"/><stop offset="0.875" stop-color="#0000f3"/><stop offset="0.895" stop-color="#0000f1"/><stop offset="0.915" stop-color="#0000e8"/><stop offset="0.935" stop-color="#0000d7"/><stop offset="0.955" stop-color="#0000c4"/><stop offset="0.972" stop-color="#0000bb"/><stop offset="0.989" stop-color="#0000b9"/><stop offset="1.000" stop-color="#0000b9"/></linearGradient><linearGradient id="c14" x1="0" y1="0" x2="0" y2="1"><stop offset="0.000" stop-color="#000098"/><stop offset="0.013" stop-color="#0000b3"/><stop offset="0.064" stop-color="#0000b5"/><stop offset="0.135" stop-color="#0000b8"/><stop offset="0.221" stop-color="#0000bc"/><stop offset="0.306" stop-color="#0000c1"/><stop offset="0.391" stop-color="#0000c7"/><stop offset="0.477" stop-color="#0000cf"/><stop offset="0.548" stop-color="#0000d5"/><stop offset="0.605" stop-color="#0000dc"/><stop offset="0.662" stop-color="#0000e2"/><stop offset="0.704" stop-color="#0000e8"/><stop offset="0.733" stop-color="#0000ec"/><stop offset="0.756" stop-color="#0000d6"/><stop offset="0.775" stop-color="#0000dc"/><stop offset="0.795" stop-color="#0000d2"/><stop offset="0.815" stop-color="#0000d9"/><stop offset="0.835" stop-color="#0000db"/><stop offset="0.855" stop-color="#0000db"/><stop offset="0.875" stop-color="#0000db"/><stop offset="0.895" stop-color="#0000da"/><stop offset="0.915" stop-color="#0000d5"/><stop offset="0.935" stop-color="#0000ca"/><stop offset="0.955" stop-color="#0000bf"/><stop offset="0.972" stop-color="#0000ba"/><stop offset="0.989" stop-color="#0000b9"/><stop offset="1.000" stop-color="#0000b9"/></linearGradient><linearGradient id="c15" x1="0" y1="0" x2="0" y2="1"><stop offset="0.000" stop-color="#000097"/><stop offset="0.013" stop-color="#0000b2"/><stop offset="0.064" stop-color="#0000b3"/><stop offset="0.135" stop-color="#0000b6"/><stop offset="0.221" stop-color="#0000b9"/><stop offset="0.306" stop-color="#0000bd"/><stop offset="0.391" stop-color="#0000c2"/><stop offset="0.477" stop-color="#0000c8"/><stop offset="0.548" stop-color="#0000cd"/><stop offset="0.605" stop-color="#0000d2"/><stop offset="0.662" stop-color="#0000d7"/><stop offset="0.704" stop-color="#0000db"/><stop offset="0.733" stop-color="#0000de"/><stop offset="0.756" stop-color="#0000cf"/><stop offset="0.775" stop-color="#0000d5"/><stop offset="0.795" stop-color="#0000d5"/><stop offset="0.815" stop-color="#0000dc"/><stop offset="0.835" stop-color="#0000de"/><stop offset="0.855" stop-color="#0000de"/><stop offset="0.875" stop-color="#0000de"/><stop offset="0.895" stop-color="#0000dd"/><stop offset="0.915" stop-color="#0000d8"/><stop offset="0.935" stop-color="#0000cc"/><stop offset="0.955" stop-color="#0000c0"/><stop offset="0.972" stop-color="#0000ba"/><stop offset="0.989" stop-color="#0000b9"/><stop offset="1.000" stop-color="#0000b9"/></linearGradient><linearGradient id="c16" x1="0" y1="0" x2="0" y2="1"><stop offset="0.000" stop-color="#000097"/><stop offset="0.013" stop-color="#0000b2"/><stop offset="0.064" stop-color="#0000b3"/><stop offset="0.135" stop-color="#0000b6"/><stop offset="0.221" stop-color="#0000b9"/><stop offset="0.306" stop-color="#0000be"/><stop offset="0.391" stop-color="#0000c3"/><stop offset="0.477" stop-color="#0000c9"/><stop offset="0.548" stop-color="#0000ce"/><stop offset="0.605" stop-color="#0000d3"/><stop offset="0.662" stop-color="#0000d9"/><stop offset="0.704" stop-color="#0000de"/><stop offset="0.733" stop-color="#0000e2"/><stop offset="0.756" stop-color="#0000d3"/><stop offset="0.775" stop-color="#0000dd"/><stop offset="0.795" stop-color="#0000ea"/><stop offset="0.815" stop-color="#0000f6"/><stop offset="0.835" stop-color="#0000fa"/><stop offset="0.855" stop-color="#0000fa"/><stop offset="0.875" stop-color="#0000fa"/><stop offset="0.895" stop-color="#0000f8"/><stop offset="0.915" stop-color="#0000ee"/><stop offset="0.935" stop-color="#0000db"/><stop offset="0.955" stop-color="#0000c5"/><stop offset="0.972" stop-color="#0000bb"/><stop offset="0.989" stop-color="#0000b9"/><stop offset="1.000" stop-color="#0000b9"/></linearGradient><linearGradient id="c17" x1="0" y1="0" x2="0" y2="1"><stop offset="0.000" stop-color="#00009a"/><stop offset="0.013" stop-color="#0000b5"/><stop offset="0.064" stop-color="#0000b8"/><stop offset="0.135" stop-color="#0000bd"/><stop offset="0.221" stop-color="#0000c4"/><stop offset="0.306" stop-color="#0000cb"/><stop offset="0.391" stop-color="#0000d4"/><stop offset="0.477" stop-color="#0000de"/><stop offset="0.548" stop-color="#0000e8"/><stop offset="0.605" stop-color="#0000f0"/><stop offset="0.662" stop-color="#0000f9"/><stop offset="0.704" stop-color="#0001ff"/><stop offset="0.733" stop-color="#0007ff"/><stop offset="0.756" stop-color="#0000e8"/><stop offset="0.775" stop-color="#0000f9"/><stop offset="0.795" stop-color="#000dff"/><stop offset="0.815" stop-color="#0023ff"/><stop offset="0.835" stop-color="#0029ff"/><stop offset="0.855" stop-color="#002aff"/><stop offset="0.875" stop-color="#002aff"/><stop offset="0.895" stop-color="#0026ff"/><stop offset="0.915" stop-color="#0016ff"/><stop offset="0.935" stop-color="#0000f3"/><stop offset="0.955" stop-color="#0000ce"/><stop offset="0.972" stop-color="#0000bd"/><stop offset="0.989" stop-color="#0000b9"/><stop offset="1.000" stop-color="#0000b9"/></linearGradient><linearGradient id="c18" x1="0" y1="0" x2="0" y2="1"><stop offset="0.000" stop-color="#000097"/><stop offset="0.013" stop-color="#0000b2"/><stop offset="0.064" stop-color="#0000b3"/><stop offset="0.135" stop-color="#0000b6"/><stop offset="0.221" stop-color="#0000b9"/><stop offset="0.306" stop-color="#0000bd"/><stop offset="0.391" stop-color="#0000c2"/><stop offset="0.477" stop-color="#0000c8"/><stop offset="0.548" stop-color="#0000cd"/><stop offset="0.605" stop-color="#0000d2"/><stop offset="0.662" stop-color="#0000d8"/><stop offset="0.704" stop-color="#0000dc"/><stop offset="0.733" stop-color="#0000e0"/><stop offset="0.756" stop-color="#0000d5"/><stop offset="0.775" stop-color="#0000e6"/><stop offset="0.795" stop-color="#000eff"/><stop offset="0.815" stop-color="#0024ff"/><stop offset="0.835" stop-color="#002bff"/><stop offset="0.855" stop-color="#002cff"/><stop offset="0.875" stop-color="#002bff"/><stop offset="0.895" stop-color="#0027ff"/><stop offset="0.915" stop-color="#0017ff"/><stop offset="0.935" stop-color="#0000f3"/><stop offset="0.955" stop-color="#0000ce"/><stop offset="0.972" stop-color="#0000bd"/><stop offset="0.989" stop-color="#0000b9"/><stop offset="1.000" stop-color="#0000b9"/></linearGradient><linearGradient id="c19" x1="0" y1="0" x2="0" y2="1"><stop offset="0.000" stop-color="#000097"/><stop offset="0.013" stop-color="#0000b2"/><stop offset="0.064" stop-color="#0000b4"/><stop offset="0.135" stop-color="#0000b6"/><stop offset="0.221" stop-color="#0000ba"/><stop offset="0.306" stop-color="#0000be"/><stop offset="0.391" stop-color="#0000c3"/><stop offset="0.477" stop-color="#0000c9"/><stop offset="0.548" stop-color="#0000ce"/><stop offset="0.605" stop-color="#0000d3"/><stop offset="0.662" stop-color="#0000d8"/><stop offset="0.704" stop-color="#0000dd"/><stop offset="0.733" stop-color="#0000e0"/><stop offset="0.756" stop-color="#0000d5"/><stop offset="0.775" stop-color="#0000e8"/><stop offset="0.795" stop-color="#0016ff"/><stop offset="0.815" stop-color="#002fff"/><stop offset="0.835" stop-color="#0039ff"/><stop offset="0.855" stop-color="#003cff"/><stop offset="0.875" stop-color="#003cff"/><stop offset="0.895" stop-color="#0036ff"/><stop offset="0.915" stop-color="#0022ff"/><stop offset="0.935" stop-color="#0000fa"/><stop offset="0.955" stop-color="#0000d1"/><stop offset="0.972" stop-color="#0000be"/><stop offset="0.989" stop-color="#0000b9"/><stop offset="1.000" stop-color="#0000b9"/></linearGradient><linearGradient id="c20" x1="0" y1="0" x2="0" y2="1"><stop offset="0.000" stop-color="#000098"/><stop offset="0.013" stop-color="#0000b3"/><stop offset="0.064" stop-color="#0000b5"/><stop offset="0.135" stop-color="#0000b8"/><stop offset="0.221" stop-color="#0000bc"/><stop offset="0.306" stop-color="#0000c2"/><stop offset="0.391" stop-color="#0000c8"/><stop offset="0.477" stop-color="#0000ce"/><stop offset="0.548" stop-color="#0000d5"/><stop offset="0.605" stop-color="#0000db"/><stop offset="0.662" stop-color="#0000e1"/><stop offset="0.704" stop-color="#0000e6"/><stop offset="0.733" stop-color="#0000ea"/><stop offset="0.756" stop-color="#0000dc"/><stop offset="0.775" stop-color="#0000f1"/><stop offset="0.795" stop-color="#0023ff"/><stop offset="0.815" stop-color="#0045ff"/><stop offset="0.835" stop-color="#0058ff"/><stop offset="0.855" stop-color="#0061ff"/><stop offset="0.875" stop-color="#0063ff"/><stop offset="0.895" stop-color="#0058ff"/><stop offset="0.915" stop-color="#003aff"/><stop offset="0.935" stop-color="#0009ff"/><stop offset="0.955" stop-color="#0000d7"/><stop offset="0.972" stop-color="#0000c0"/><stop offset="0.989" stop-color="#0000ba"/><stop offset="1.000" stop-color="#0000b9"/></linearGradient><linearGradient id="c21" x1="0" y1="0" x2="0" y2="1"><stop offset="0.000" stop-color="#000098"/><stop offset="0.013" stop-color="#0000b3"/><stop offset="0.064" stop-color="#0000b4"/><stop offset="0.135" stop-color="#0000b7"/><stop offset="0.221" stop-color="#0000bb"/><stop offset="0.306" stop-color="#0000c1"/><stop offset="0.391" stop-color="#0000c7"/><stop offset="0.477" stop-color="#0000cf"/><stop offset="0.548" stop-color="#0000d7"/><stop offset="0.605" stop-color="#0000df"/><stop offset="0.662" stop-color="#0000e9"/><stop offset="0.704" stop-color="#0000f2"/><stop offset="0.733" stop-color="#0000f9"/><stop offset="0.756" stop-color="#0000e8"/><stop offset="0.775" stop-color="#0006ff"/><stop offset="0.795" stop-color="#003dff"/><stop offset="0.815" stop-color="#006fff"/><stop offset="0.835" stop-color="#0093ff"/><stop offset="0.855" stop-color="#00aaff"/><stop offset="0.875" stop-color="#00aeff"/><stop offset="0.895" stop-color="#0099ff"/><stop offset="0.915" stop-color="#0068ff"/><stop offset="0.935" stop-color="#0023ff"/><stop offset="0.955" stop-color="#0000e1"/><stop offset="0.972" stop-color="#0000c4"/><stop offset="0.989" stop-color="#0000bb"/><stop offset="1.000" stop-color="#0000b9"/></linearGradient><linearGradient id="c22" x1="0" y1="0" x2="0" y2="1"><stop offset="0.000" stop-color="#00009d"/><stop offset="0.013" stop-color="#0000b9"/><stop offset="0.064" stop-color="#0000be"/><stop offset="0.135" stop-color="#0000c5"/><stop offset="0.221" stop-color="#0000cf"/><stop offset="0.306" stop-color="#0000da"/><stop offset="0.391" stop-color="#0000e8"/><stop offset="0.477" stop-color="#0000f8"/><stop offset="0.548" stop-color="#0009ff"/><stop offset="0.605" stop-color="#0017ff"/><stop offset="0.662" stop-color="#0027ff"/><stop offset="0.704" stop-color="#0038ff"/><stop offset="0.733" stop-color="#004aff"/><stop offset="0.756" stop-color="#0025ff"/><stop offset="0.775" stop-color="#0056ff"/><stop offset="0.795" stop-color="#0093ff"/><stop offset="0.815" stop-color="#00e1ff"/><stop offset="0.835" stop-color="#18ffe7"/><stop offset="0.855" stop-color="#36ffc9"/><stop offset="0.875" stop-color="#33ffcc"/><stop offset="0.895" stop-color="#08fff7"/><stop offset="0.915" stop-color="#00b8ff"/><stop offset="0.935" stop-color="#0051ff"/><stop offset="0.955" stop-color="#0000f4"/><stop offset="0.972" stop-color="#0000ca"/><stop offset="0.989" stop-color="#0000bd"/><stop offset="1.000" stop-color="#0000ba"/></linearGradient><linearGradient id="c23" x1="0" y1="0" x2="0" y2="1"><stop offset="0.000" stop-color="#00009a"/><stop offset="0.013" stop-color="#0000b5"/><stop offset="0.064" stop-color="#0000b9"/><stop offset="0.135" stop-color="#0000be"/><stop offset="0.221" stop-color="#0000c5"/><stop offset="0.306" stop-color="#0000ce"/><stop offset="0.391" stop-color="#0000d8"/><stop offset="0.477" stop-color="#0000e5"/><stop offset="0.548" stop-color="#0000f2"/><stop offset="0.605" stop-color="#0000fe"/><stop offset="0.662" stop-color="#000eff"/><stop offset="0.704" stop-color="#001cff"/><stop offset="0.733" stop-color="#002bff"/><stop offset="0.756" stop-color="#000eff"/><stop offset="0.775" stop-color="#0037ff"/><stop offset="0.795" stop-color="#0073ff"/><stop offset="0.815" stop-color="#00b8ff"/><stop offset="0.835" stop-color="#00eaff"/><stop offset="0.855" stop-color="#08fff7"/><stop offset="0.875" stop-color="#09fff6"/><stop offset="0.895" stop-color="#00e5ff"/><stop offset="0.915" stop-color="#009fff"/><stop offset="0.935" stop-color="#0042ff"/><stop offset="0.955" stop-color="#0000ee"/><stop offset="0.972" stop-color="#0000c8"/><stop offset="0.989" stop-color="#0000bc"/><stop offset="1.000" stop-color="#0000ba"/></linearGradient><linearGradient id="c24" x1="0" y1="0" x2="0" y2="1"><stop offset="0.000" stop-color="#000098"/><stop offset="0.013" stop-color="#0000b3"/><stop offset="0.064" stop-color="#0000b5"/><stop offset="0.135" stop-color="#0000b8"/><stop offset="0.221" stop-color="#0000bc"/><stop offset="0.306" stop-color="#0000c2"/><stop offset="0.391" stop-color="#0000c9"/><stop offset="0.477" stop-color="#0000d2"/><stop offset="0.548" stop-color="#0000dc"/><stop offset="0.605" stop-color="#0000e6"/><stop offset="0.662" stop-color="#0000f1"/><stop offset="0.704" stop-color="#0000fc"/><stop offset="0.733" stop-color="#0006ff"/><stop offset="0.756" stop-color="#0000ee"/><stop offset="0.775" stop-color="#000dff"/><stop offset="0.795" stop-color="#003fff"/><stop offset="0.815" stop-color="#006fff"/><stop offset="0.835" stop-color="#008eff"/><stop offset="0.855" stop-color="#00a1ff"/><stop offset="0.875" stop-color="#00a5ff"/><stop offset="0.895" stop-color="#0092ff"/><stop offset="0.915" stop-color="#0066ff"/><stop offset="0.935" stop-color="#0022ff"/><stop offset="0.955" stop-color="#0000e1"/><stop offset="0.972" stop-color="#0000c3"/><stop offset="0.989" stop-color="#0000bb"/><stop offset="1.000" stop-color="#0000b9"/></linearGradient><linearGradient id="c25" x1="0" y1="0" x2="0" y2="1"><stop offset="0.000" stop-color="#00009d"/><stop offset="0.013" stop-color="#0000b9"/><stop offset="0.064" stop-color="#0000be"/><stop offset="0.135" stop-color="#0000c5"/><stop offset="0.221" stop-color="#0000cf"/><stop offset="0.306" stop-color="#0000da"/><stop offset="0.391" stop-color="#0000e7"/><stop offset="0.477" stop-color="#0000f6"/><stop offset="0.548" stop-color="#0005ff"/><stop offset="0.605" stop-color="#0011ff"/><stop offset="0.662" stop-color="#0020ff"/><stop offset="0.704" stop-color="#002bff"/><stop offset="0.733" stop-color="#0034ff"/><stop offset="0.756" stop-color="#0007ff"/><stop offset="0.775" stop-color="#0024ff"/><stop offset="0.795" stop-color="#0048ff"/><stop offset="0.815" stop-color="#0071ff"/><stop offset="0.835" stop-color="#0084ff"/><stop offset="0.855" stop-color="#008cff"/><stop offset="0.875" stop-color="#008dff"/><stop offset="0.895" stop-color="#0082ff"/><stop offset="0.915" stop-color="#005fff"/><stop offset="0.935" stop-color="#0021ff"/><stop offset="0.955" stop-color="#0000df"/><stop offset="0.972" stop-color="#0000c2"/><stop offset="0.989" stop-color="#0000ba"/><stop offset="1.000" stop-color="#0000b9"/></linearGradient><linearGradient id="c26" x1="0" y1="0" x2="0" y2="1"><stop offset="0.000" stop-color="#000098"/><stop offset="0.013" stop-color="#0000b3"/><stop offset="0.064" stop-color="#0000b5"/><stop offset="0.135" stop-color="#0000b9"/><stop offset="0.221" stop-color="#0000be"/><stop offset="0.306" stop-color="#0000c4"/><stop offset="0.391" stop-color="#0000cd"/><stop offset="0.477" stop-color="#0000d8"/><stop offset="0.548" stop-color="#0000e3"/><stop offset="0.605" stop-color="#0000ef"/><stop offset="0.662" stop-color="#0000fe"/><stop offset="0.704" stop-color="#000cff"/><stop offset="0.733" stop-color="#0017ff"/><stop offset="0.756" stop-color="#0000f7"/><stop offset="0.775" stop-color="#0014ff"/><stop offset="0.795" stop-color="#003bff"/><stop offset="0.815" stop-color="#0060ff"/><stop offset="0.835" stop-color="#006eff"/><stop offset="0.855" stop-color="#0073ff"/><stop offset="0.875" stop-color="#0073ff"/><stop offset="0.895" stop-color="#006aff"/><stop offset="0.915" stop-color="#004dff"/><stop offset="0.935" stop-color="#0016ff"/><stop offset="0.955" stop-color="#0000db"/><stop offset="0.972" stop-color="#0000c1"/><stop offset="0.989" stop-color="#0000ba"/><stop offset="1.000" stop-color="#0000b9"/></linearGradient><linearGradient id="c27" x1="0" y1="0" x2="0" y2="1"><stop offset="0.000" stop-color="#00009d"/><stop offset="0.013" stop-color="#0000b9"/><stop offset="0.064" stop-color="#0000bd"/><stop offset="0.135" stop-color="#0000c4"/><stop offset="0.221" stop-color="#0000ce"/><stop offset="0.306" stop-color="#0000d9"/><stop offset="0.391" stop-color="#0000e5"/><stop offset="0.477" stop-color="#0000f4"/><stop offset="0.548" stop-color="#0004ff"/><stop offset="0.605" stop-color="#0011ff"/><stop offset="0.662" stop-color="#001fff"/><stop offset="0.704" stop-color="#002bff"/><stop offset="0.733" stop-color="#0034ff"/><stop offset="0.756" stop-color="#0007ff"/><stop offset="0.775" stop-color="#0026ff"/><stop offset="0.795" stop-color="#004cff"/><stop offset="0.815" stop-color="#0079ff"/><stop offset="0.835" stop-color="#0090ff"/><stop offset="0.855" stop-color="#009aff"/><stop offset="0.875" stop-color="#009bff"/><stop offset="0.895" stop-color="#008cff"/><stop offset="0.915" stop-color="#0066ff"/><stop offset="0.935" stop-color="#0024ff"/><stop offset="0.955" stop-color="#0000e0"/><stop offset="0.972" stop-color="#0000c2"/><stop offset="0.989" stop-color="#0000ba"/><stop offset="1.000" stop-color="#0000b9"/></linearGradient><linearGradient id="c28" x1="0" y1="0" x2="0" y2="1"><stop offset="0.000" stop-color="#00009a"/><stop offset="0.013" stop-color="#0000b5"/><stop offset="0.064" stop-color="#0000b8"/><stop offset="0.135" stop-color="#0000bd"/><stop offset="0.221" stop-color="#0000c4"/><stop offset="0.306" stop-color="#0000cc"/><stop offset="0.391" stop-color="#0000d7"/><stop offset="0.477" stop-color="#0000e3"/><stop offset="0.548" stop-color="#0000f0"/><stop offset="0.605" stop-color="#0000fc"/><stop offset="0.662" stop-color="#000bff"/><stop offset="0.704" stop-color="#0017ff"/><stop offset="0.733" stop-color="#0021ff"/><stop offset="0.756" stop-color="#0000fe"/><stop offset="0.775" stop-color="#0021ff"/><stop offset="0.795" stop-color="#0053ff"/><stop offset="0.815" stop-color="#008bff"/><stop offset="0.835" stop-color="#00b1ff"/><stop offset="0.855" stop-color="#00c7ff"/><stop offset="0.875" stop-color="#00c8ff"/><stop offset="0.895" stop-color="#00afff"/><stop offset="0.915" stop-color="#007aff"/><stop offset="0.935" stop-color="#002dff"/><stop offset="0.955" stop-color="#0000e5"/><stop offset="0.972" stop-color="#0000c4"/><stop offset="0.989" stop-color="#0000bb"/><stop offset="1.000" stop-color="#0000b9"/></linearGradient><linearGradient id="c29" x1="0" y1="0" x2="0" y2="1"><stop offset="0.000" stop-color="#000099"/><stop offset="0.013" stop-color="#0000b4"/><stop offset="0.064" stop-color="#0000b7"/><stop offset="0.135" stop-color="#0000bb"/><stop offset="0.221" stop-color="#0000c2"/><stop offset="0.306" stop-color="#0000c9"/><stop offset="0.391" stop-color="#0000d3"/><stop offset="0.477" stop-color="#0000df"/><stop offset="0.548" stop-color="#0000ec"/><stop offset="0.605" stop-color="#0000f8"/><stop offset="0.662" stop-color="#0008ff"/><stop offset="0.704" stop-color="#0019ff"/><stop offset="0.733" stop-color="#002aff"/><stop offset="0.756" stop-color="#0014ff"/><stop offset="0.775" stop-color="#0043ff"/><stop offset="0.795" stop-color="#0085ff"/><stop offset="0.815" stop-color="#00d0ff"/><stop offset="0.835" stop-color="#06fff9"/><stop offset="0.855" stop-color="#22ffdd"/><stop offset="0.875" stop-color="#1bffe4"/><stop offset="0.895" stop-color="#00eeff"/><stop offset="0.915" stop-color="#00a2ff"/><stop offset="0.935" stop-color="#0043ff"/><stop offset="0.955" stop-color="#0000ee"/><stop offset="0.972" stop-color="#0000c8"/><stop offset="0.989" stop-color="#0000bc"/><stop offset="1.000" stop-color="#0000ba"/></linearGradient><linearGradient id="c30" x1="0" y1="0" x2="0" y2="1"><stop offset="0.000" stop-color="#00009d"/><stop offset="0.013" stop-color="#0000b8"/><stop offset="0.064" stop-color="#0000bd"/><stop offset="0.135" stop-color="#0000c4"/><stop offset="0.221" stop-color="#0000cd"/><stop offset="0.306" stop-color="#0000d8"/><stop offset="0.391" stop-color="#0000e5"/><stop offset="0.477" stop-color="#0000f4"/><stop offset="0.548" stop-color="#0004ff"/><stop offset="0.605" stop-color="#0011ff"/><stop offset="0.662" stop-color="#0020ff"/><stop offset="0.704" stop-color="#002fff"/><stop offset="0.733" stop-color="#003eff"/><stop offset="0.756" stop-color="#001aff"/><stop offset="0.775" stop-color="#0048ff"/><stop offset="0.795" stop-color="#0084ff"/><stop offset="0.815" stop-color="#00cfff"/><stop offset="0.835" stop-color="#04fffb"/><stop offset="0.855" stop-color="#1fffe0"/><stop offset="0.875" stop-color="#1affe5"/><stop offset="0.895" stop-color="#00f0ff"/><stop offset="0.915" stop-color="#00a6ff"/><stop offset="0.935" stop-color="#0045ff"/><stop offset="0.955" stop-color="#0000ef"/><stop offset="0.972" stop-color="#0000c8"/><stop offset="0.989" stop-color="#0000bc"/><stop offset="1.000" stop-color="#0000ba"/></linearGradient><linearGradient id="c31" x1="0" y1="0" x2="0" y2="1"><stop offset="0.000" stop-color="#000099"/><stop offset="0.013" stop-color="#0000b4"/><stop offset="0.064" stop-color="#0000b6"/><stop offset="0.135" stop-color="#0000ba"/><stop offset="0.221" stop-color="#0000c0"/><stop offset="0.306" stop-color="#0000c6"/><stop offset="0.391" stop-color="#0000ce"/><stop offset="0.477" stop-color="#0000d7"/><stop offset="0.548" stop-color="#0000e1"/><stop offset="0.605" stop-color="#0000ea"/><stop offset="0.662" stop-color="#0000f5"/><stop offset="0.704" stop-color="#0000ff"/><stop offset="0.733" stop-color="#0008ff"/><stop offset="0.756" stop-color="#0000ef"/><stop offset="0.775" stop-color="#000eff"/><stop offset="0.795" stop-color="#0043ff"/><stop offset="0.815" stop-color="#0077ff"/><stop offset="0.835" stop-color="#009aff"/><stop offset="0.855" stop-color="#00aeff"/><stop offset="0.875" stop-color="#00afff"/><stop offset="0.895" stop-color="#0098ff"/><stop offset="0.915" stop-color="#0068ff"/><stop offset="0.935" stop-color="#0022ff"/><stop offset="0.955" stop-color="#0000e0"/><stop offset="0.972" stop-color="#0000c3"/><stop offset="0.989" stop-color="#0000bb"/><stop offset="1.000" stop-color="#0000b9"/></linearGradient><linearGradient id="c32" x1="0" y1="0" x2="0" y2="1"><stop offset="0.000" stop-color="#000097"/><stop offset="0.013" stop-color="#0000b2"/><stop offset="0.064" stop-color="#0000b4"/><stop offset="0.135" stop-color="#0000b6"/><stop offset="0.221" stop-color="#0000ba"/><stop offset="0.306" stop-color="#0000be"/><stop offset="0.391" stop-color="#0000c4"/><stop offset="0.477" stop-color="#0000ca"/><stop offset="0.548" stop-color="#0000d0"/><stop offset="0.605" stop-color="#0000d6"/><stop offset="0.662" stop-color="#0000dd"/><stop offset="0.704" stop-color="#0000e3"/><stop offset="0.733" stop-color="#0000e7"/><stop offset="0.756" stop-color="#0000da"/><stop offset="0.775" stop-color="#0000f0"/><stop offset="0.795" stop-color="#001dff"/><stop offset="0.815" stop-color="#003fff"/><stop offset="0.835" stop-color="#0052ff"/><stop offset="0.855" stop-color="#005cff"/><stop offset="0.875" stop-color="#005cff"/><stop offset="0.895" stop-color="#004fff"/><stop offset="0.915" stop-color="#0031ff"/><stop offset="0.935" stop-color="#0003ff"/><stop offset="0.955" stop-color="#0000d4"/><stop offset="0.972" stop-color="#0000bf"/><stop offset="0.989" stop-color="#0000ba"/><stop offset="1.000" stop-color="#0000b9"/></linearGradient><linearGradient id="c33" x1="0" y1="0" x2="0" y2="1"><stop offset="0.000" stop-color="#000098"/><stop offset="0.013" stop-color="#0000b3"/><stop offset="0.064" stop-color="#0000b6"/><stop offset="0.135" stop-color="#0000b9"/><stop offset="0.221" stop-color="#0000be"/><stop offset="0.306" stop-color="#0000c4"/><stop offset="0.391" stop-color="#0000ca"/><stop offset="0.477" stop-color="#0000d2"/><stop offset="0.548" stop-color="#0000d9"/><stop offset="0.605" stop-color="#0000e0"/><stop offset="0.662" stop-color="#0000e7"/><stop offset="0.704" stop-color="#0000ed"/><stop offset="0.733" stop-color="#0000f1"/><stop offset="0.756" stop-color="#0000dd"/><stop offset="0.775" stop-color="#0000ed"/><stop offset="0.795" stop-color="#0007ff"/><stop offset="0.815" stop-color="#0020ff"/><stop offset="0.835" stop-color="#002fff"/><stop offset="0.855" stop-color="#0035ff"/><stop offset="0.875" stop-color="#0034ff"/><stop offset="0.895" stop-color="#002aff"/><stop offset="0.915" stop-color="#0013ff"/><stop offset="0.935" stop-color="#0000ef"/><stop offset="0.955" stop-color="#0000cd"/><stop offset="0.972" stop-color="#0000bd"/><stop offset="0.989" stop-color="#0000b9"/><stop offset="1.000" stop-color="#0000b9"/></linearGradient><linearGradient id="c34" x1="0" y1="0" x2="0" y2="1"><stop offset="0.000" stop-color="#000098"/><stop offset="0.013" stop-color="#0000b3"/><stop offset="0.064" stop-color="#0000b5"/><stop offset="0.135" stop-color="#0000b8"/><stop offset="0.221" stop-color="#0000bc"/><stop offset="0.306" stop-color="#0000c1"/><stop offset="0.391" stop-color="#0000c8"/><stop offset="0.477" stop-color="#0000cf"/><stop offset="0.548" stop-color="#0000d7"/><stop offset="0.605" stop-color="#0000de"/><stop offset="0.662" stop-color="#0000e6"/><stop offset="0.704" stop-color="#0000ee"/><stop offset="0.733" stop-color="#0000f4"/><stop offset="0.756" stop-color="#0000e1"/><stop offset="0.775" stop-color="#0000f6"/><stop offset="0.795" stop-color="#001dff"/><stop offset="0.815" stop-color="#0041ff"/><stop offset="0.835" stop-color="#0058ff"/><stop offset="0.855" stop-color="#0064ff"/><stop offset="0.875" stop-color="#0061ff"/><stop offset="0.895" stop-color="#004eff"/><stop offset="0.915" stop-color="#002dff"/><stop offset="0.935" stop-color="#0000fd"/><stop offset="0.955" stop-color="#0000d1"/><stop offset="0.972" stop-color="#0000be"/><stop offset="0.989" stop-color="#0000b9"/><stop offset="1.000" stop-color="#0000b9"/></linearGradient><linearGradient id="c35" x1="0" y1="0" x2="0" y2="1"><stop offset="0.000" stop-color="#00009c"/><stop offset="0.013" stop-color="#0000b8"/><stop offset="0.064" stop-color="#0000bc"/><stop offset="0.135" stop-color="#0000c2"/><stop offset="0.221" stop-color="#0000cb"/><stop offset="0.306" stop-color="#0000d5"/><stop offset="0.391" stop-color="#0000e1"/><stop offset="0.477" stop-color="#0000ee"/><stop offset="0.548" stop-color="#0000fc"/><stop offset="0.605" stop-color="#0009ff"/><stop offset="0.662" stop-color="#0016ff"/><stop offset="0.704" stop-color="#0022ff"/><stop offset="0.733" stop-color="#002bff"/><stop offset="0.756" stop-color="#0002ff"/><stop offset="0.775" stop-color="#0021ff"/><stop offset="0.795" stop-color="#004eff"/><stop offset="0.815" stop-color="#0089ff"/><stop offset="0.835" stop-color="#00b4ff"/><stop offset="0.855" stop-color="#00cbff"/><stop offset="0.875" stop-color="#00c6ff"/><stop offset="0.895" stop-color="#00a3ff"/><stop offset="0.915" stop-color="#006aff"/><stop offset="0.935" stop-color="#0020ff"/><stop offset="0.955" stop-color="#0000dd"/><stop offset="0.972" stop-color="#0000c1"/><stop offset="0.989" stop-color="#0000b9"/><stop offset="1.000" stop-color="#0000b9"/></linearGradient><linearGradient id="c36" x1="0" y1="0" x2="0" y2="1"><stop offset="0.000" stop-color="#000098"/><stop offset="0.013" stop-color="#0000b3"/><stop offset="0.064" stop-color="#0000b5"/><stop offset="0.135" stop-color="#0000b9"/><stop offset="0.221" stop-color="#0000bf"/><stop offset="0.306" stop-color="#0000c5"/><stop offset="0.391" stop-color="#0000ce"/><stop offset="0.477" stop-color="#0000d9"/><stop offset="0.548" stop-color="#0000e5"/><stop offset="0.605" stop-color="#0000f1"/><stop offset="0.662" stop-color="#0002ff"/><stop offset="0.704" stop-color="#0011ff"/><stop offset="0.733" stop-color="#001eff"/><stop offset="0.756" stop-color="#0003ff"/><stop offset="0.775" stop-color="#0029ff"/><stop offset="0.795" stop-color="#0063ff"/><stop offset="0.815" stop-color="#00adff"/><stop offset="0.835" stop-color="#00eaff"/><stop offset="0.855" stop-color="#0ffff0"/><stop offset="0.875" stop-color="#04fffb"/><stop offset="0.895" stop-color="#00cdff"/><stop offset="0.915" stop-color="#007fff"/><stop offset="0.935" stop-color="#0028ff"/><stop offset="0.955" stop-color="#0000e0"/><stop offset="0.972" stop-color="#0000c2"/><stop offset="0.989" stop-color="#0000ba"/><stop offset="1.000" stop-color="#0000b9"/></linearGradient><linearGradient id="c37" x1="0" y1="0" x2="0" y2="1"><stop offset="0.000" stop-color="#00009e"/><stop offset="0.013" stop-color="#0000b9"/><stop offset="0.064" stop-color="#0000be"/><stop offset="0.135" stop-color="#0000c5"/><stop offset="0.221" stop-color="#0000cf"/><stop offset="0.306" stop-color="#0000db"/><stop offset="0.391" stop-color="#0000e8"/><stop offset="0.477" stop-color="#0000f7"/><stop offset="0.548" stop-color="#0006ff"/><stop offset="0.605" stop-color="#0013ff"/><stop offset="0.662" stop-color="#0022ff"/><stop offset="0.704" stop-color="#0033ff"/><stop offset="0.733" stop-color="#0046ff"/><stop offset="0.756" stop-color="#0027ff"/><stop offset="0.775" stop-color="#0058ff"/><stop offset="0.795" stop-color="#009aff"/><stop offset="0.815" stop-color="#00f4ff"/><stop offset="0.835" stop-color="#3fffc0"/><stop offset="0.855" stop-color="#69ff96"/><stop offset="0.875" stop-color="#58ffa7"/><stop offset="0.895" stop-color="#10ffef"/><stop offset="0.915" stop-color="#00a8ff"/><stop offset="0.935" stop-color="#003dff"/><stop offset="0.955" stop-color="#0000e8"/><stop offset="0.972" stop-color="#0000c4"/><stop offset="0.989" stop-color="#0000bb"/><stop offset="1.000" stop-color="#0000b9"/></linearGradient><linearGradient id="c38" x1="0" y1="0" x2="0" y2="1"><stop offset="0.000" stop-color="#000099"/><stop offset="0.013" stop-color="#0000b4"/><stop offset="0.064" stop-color="#0000b7"/><stop offset="0.135" stop-color="#0000bb"/><stop offset="0.221" stop-color="#0000c1"/><stop offset="0.306" stop-color="#0000c8"/><stop offset="0.391" stop-color="#0000d1"/><stop offset="0.477" stop-color="#0000dd"/><stop offset="0.548" stop-color="#0000e8"/><stop offset="0.605" stop-color="#0000f4"/><stop offset="0.662" stop-color="#0002ff"/><stop offset="0.704" stop-color="#000eff"/><stop offset="0.733" stop-color="#0018ff"/><stop offset="0.756" stop-color="#0000f9"/><stop offset="0.775" stop-color="#001cff"/><stop offset="0.795" stop-color="#0057ff"/><stop offset="0.815" stop-color="#00a7ff"/><stop offset="0.835" stop-color="#00f5ff"/><stop offset="0.855" stop-color="#2fffd0"/><stop offset="0.875" stop-color="#34ffcb"/><stop offset="0.895" stop-color="#00f9ff"/><stop offset="0.915" stop-color="#009bff"/><stop offset="0.935" stop-color="#0034ff"/><stop offset="0.955" stop-color="#0000e4"/><stop offset="0.972" stop-color="#0000c3"/><stop offset="0.989" stop-color="#0000ba"/><stop offset="1.000" stop-color="#0000b9"/></linearGradient><linearGradient id="c39" x1="0" y1="0" x2="0" y2="1"><stop offset="0.000" stop-color="#000099"/><stop offset="0.013" stop-color="#0000b4"/><stop offset="0.064" stop-color="#0000b7"/><stop offset="0.135" stop-color="#0000ba"/><stop offset="0.221" stop-color="#0000c0"/><stop offset="0.306" stop-color="#0000c6"/><stop offset="0.391" stop-color="#0000ce"/><stop offset="0.477" stop-color="#0000d7"/><stop offset="0.548" stop-color="#0000e0"/><stop offset="0.605" stop-color="#0000e9"/><stop offset="0.662" stop-color="#0000f4"/><stop offset="0.704" stop-color="#0000fd"/><stop offset="0.733" stop-color="#0006ff"/><stop offset="0.756" stop-color="#0000ed"/><stop offset="0.775" stop-color="#000cff"/><stop offset="0.795" stop-color="#0046ff"/><stop offset="0.815" stop-color="#008eff"/><stop offset="0.835" stop-color="#00daff"/><stop offset="0.855" stop-color="#1dffe2"/><stop offset="0.875" stop-color="#2effd1"/><stop offset="0.895" stop-color="#00fdff"/><stop offset="0.915" stop-color="#009fff"/><stop offset="0.935" stop-color="#0036ff"/><stop offset="0.955" stop-color="#0000e4"/><stop offset="0.972" stop-color="#0000c3"/><stop offset="0.989" stop-color="#0000ba"/><stop offset="1.000" stop-color="#0000b9"/></linearGradient><linearGradient id="c40" x1="0" y1="0" x2="0" y2="1"><stop offset="0.000" stop-color="#00009b"/><stop offset="0.013" stop-color="#0000b6"/><stop offset="0.064" stop-color="#0000ba"/><stop offset="0.135" stop-color="#0000c0"/><stop offset="0.221" stop-color="#0000c7"/><stop offset="0.306" stop-color="#0000d1"/><stop offset="0.391" stop-color="#0000dc"/><stop offset="0.477" stop-color="#0000ea"/><stop offset="0.548" stop-color="#0000f7"/><stop offset="0.605" stop-color="#0005ff"/><stop offset="0.662" stop-color="#0013ff"/><stop offset="0.704" stop-color="#0020ff"/><stop offset="0.733" stop-color="#0029ff"/><stop offset="0.756" stop-color="#0001ff"/><stop offset="0.775" stop-color="#0020ff"/><stop offset="0.795" stop-color="#0051ff"/><stop offset="0.815" stop-color="#0098ff"/><stop offset="0.835" stop-color="#00e4ff"/><stop offset="0.855" stop-color="#2dffd2"/><stop offset="0.875" stop-color="#4dffb2"/><stop offset="0.895" stop-color="#26ffd9"/><stop offset="0.915" stop-color="#00c2ff"/><stop offset="0.935" stop-color="#004bff"/><stop offset="0.955" stop-color="#0000ec"/><stop offset="0.972" stop-color="#0000c5"/><stop offset="0.989" stop-color="#0000ba"/><stop offset="1.000" stop-color="#0000b9"/></linearGradient><linearGradient id="c41" x1="0" y1="0" x2="0" y2="1"><stop offset="0.000" stop-color="#00009b"/><stop offset="0.013" stop-color="#0000b6"/><stop offset="0.064" stop-color="#0000b9"/><stop offset="0.135" stop-color="#0000bf"/><stop offset="0.221" stop-color="#0000c6"/><stop offset="0.306" stop-color="#0000cf"/><stop offset="0.391" stop-color="#0000da"/><stop offset="0.477" stop-color="#0000e7"/><stop offset="0.548" stop-color="#0000f3"/><stop offset="0.605" stop-color="#0000ff"/><stop offset="0.662" stop-color="#000dff"/><stop offset="0.704" stop-color="#0019ff"/><stop offset="0.733" stop-color="#0021ff"/><stop offset="0.756" stop-color="#0000fb"/><stop offset="0.775" stop-color="#0019ff"/><stop offset="0.795" stop-color="#0048ff"/><stop offset="0.815" stop-color="#008aff"/><stop offset="0.835" stop-color="#00d3ff"/><stop offset="0.855" stop-color="#26ffd9"/><stop offset="0.875" stop-color="#58ffa7"/><stop offset="0.895" stop-color="#3dffc2"/><stop offset="0.915" stop-color="#00d6ff"/><stop offset="0.935" stop-color="#0054ff"/><stop offset="0.955" stop-color="#0000ef"/><stop offset="0.972" stop-color="#0000c6"/><stop offset="0.989" stop-color="#0000bb"/><stop offset="1.000" stop-color="#0000b9"/></linearGradient><linearGradient id="c42" x1="0" y1="0" x2="0" y2="1"><stop offset="0.000" stop-color="#000098"/><stop offset="0.013" stop-color="#0000b3"/><stop offset="0.064" stop-color="#0000b6"/><stop offset="0.135" stop-color="#0000b9"/><stop offset="0.221" stop-color="#0000bf"/><stop offset="0.306" stop-color="#0000c5"/><stop offset="0.391" stop-color="#0000cd"/><stop offset="0.477" stop-color="#0000d7"/><stop offset="0.548" stop-color="#0000e1"/><stop offset="0.605" stop-color="#0000eb"/><stop offset="0.662" stop-color="#0000f8"/><stop offset="0.704" stop-color="#0004ff"/><stop offset="0.733" stop-color="#000dff"/><stop offset="0.756" stop-color="#0000f1"/><stop offset="0.775" stop-color="#000eff"/><stop offset="0.795" stop-color="#003dff"/><stop offset="0.815" stop-color="#0078ff"/><stop offset="0.835" stop-color="#00beff"/><stop offset="0.855" stop-color="#19ffe6"/><stop offset="0.875" stop-color="#61ff9e"/><stop offset="0.895" stop-color="#55ffaa"/><stop offset="0.915" stop-color="#00ebff"/><stop offset="0.935" stop-color="#005eff"/><stop offset="0.955" stop-color="#0000f1"/><stop offset="0.972" stop-color="#0000c7"/><stop offset="0.989" stop-color="#0000bb"/><stop offset="1.000" stop-color="#0000b9"/></linearGradient><linearGradient id="c43" x1="0" y1="0" x2="0" y2="1"><stop offset="0.000" stop-color="#00009a"/><stop offset="0.013" stop-color="#0000b6"/><stop offset="0.064" stop-color="#0000b9"/><stop offset="0.135" stop-color="#0000be"/><stop offset="0.221" stop-color="#0000c5"/><stop offset="0.306" stop-color="#0000ce"/><stop offset="0.391" stop-color="#0000d9"/><stop offset="0.477" stop-color="#0000e6"/><stop offset="0.548" stop-color="#0000f3"/><stop offset="0.605" stop-color="#0001ff"/><stop offset="0.662" stop-color="#000fff"/><stop offset="0.704" stop-color="#001cff"/><stop offset="0.733" stop-color="#0025ff"/><stop offset="0.756" stop-color="#0000fd"/><stop offset="0.775" stop-color="#001bff"/><stop offset="0.795" stop-color="#0043ff"/><stop offset="0.815" stop-color="#007aff"/><stop offset="0.835" stop-color="#00baff"/><stop offset="0.855" stop-color="#16ffe9"/><stop offset="0.875" stop-color="#69ff96"/><stop offset="0.895" stop-color="#6aff95"/><stop offset="0.915" stop-color="#01fffe"/><stop offset="0.935" stop-color="#006bff"/><stop offset="0.955" stop-color="#0000f6"/><stop offset="0.972" stop-color="#0000c8"/><stop offset="0.989" stop-color="#0000bb"/><stop offset="1.000" stop-color="#0000b9"/></linearGradient><linearGradient id="c44" x1="0" y1="0" x2="0" y2="1"><stop offset="0.000" stop-color="#00009a"/><stop offset="0.013" stop-color="#0000b5"/><stop offset="0.064" stop-color="#0000b9"/><stop offset="0.135" stop-color="#0000bd"/><stop offset="0.221" stop-color="#0000c4"/><stop offset="0.306" stop-color="#0000cc"/><stop offset="0.391" stop-color="#0000d6"/><stop offset="0.477" stop-color="#0000e2"/><stop offset="0.548" stop-color="#0000ed"/><stop offset="0.605" stop-color="#0000f7"/><stop offset="0.662" stop-color="#0004ff"/><stop offset="0.704" stop-color="#000eff"/><stop offset="0.733" stop-color="#0015ff"/><stop offset="0.756" stop-color="#0000f4"/><stop offset="0.775" stop-color="#000eff"/><stop offset="0.795" stop-color="#0037ff"/><stop offset="0.815" stop-color="#0064ff"/><stop offset="0.835" stop-color="#0095ff"/><stop offset="0.855" stop-color="#00e0ff"/><stop offset="0.875" stop-color="#29ffd6"/><stop offset="0.895" stop-color="#2effd1"/><stop offset="0.915" stop-color="#00d7ff"/><stop offset="0.935" stop-color="#0056ff"/><stop offset="0.955" stop-color="#0000ef"/><stop offset="0.972" stop-color="#0000c6"/><stop offset="0.989" stop-color="#0000bb"/><stop offset="1.000" stop-color="#0000b9"/></linearGradient><linearGradient id="c45" x1="0" y1="0" x2="0" y2="1"><stop offset="0.000" stop-color="#000098"/><stop offset="0.013" stop-color="#0000b3"/><stop offset="0.064" stop-color="#0000b5"/><stop offset="0.135" stop-color="#0000b8"/><stop offset="0.221" stop-color="#0000bc"/><stop offset="0.306" stop-color="#0000c2"/><stop offset="0.391" stop-color="#0000c9"/><stop offset="0.477" stop-color="#0000d1"/><stop offset="0.548" stop-color="#0000da"/><stop offset="0.605" stop-color="#0000e3"/><stop offset="0.662" stop-color="#0000ee"/><stop offset="0.704" stop-color="#0000f8"/><stop offset="0.733" stop-color="#0000ff"/><stop offset="0.756" stop-color="#0000e9"/><stop offset="0.775" stop-color="#0002ff"/><stop offset="0.795" stop-color="#002cff"/><stop offset="0.815" stop-color="#0050ff"/><stop offset="0.835" stop-color="#0070ff"/><stop offset="0.855" stop-color="#009cff"/><stop offset="0.875" stop-color="#00c9ff"/><stop offset="0.895" stop-color="#00cdff"/><stop offset="0.915" stop-color="#0092ff"/><stop offset="0.935" stop-color="#0034ff"/><stop offset="0.955" stop-color="#0000e3"/><stop offset="0.972" stop-color="#0000c3"/><stop offset="0.989" stop-color="#0000ba"/><stop offset="1.000" stop-color="#0000b9"/></linearGradient><linearGradient id="c46" x1="0" y1="0" x2="0" y2="1"><stop offset="0.000" stop-color="#00009c"/><stop offset="0.013" stop-color="#0000b7"/><stop offset="0.064" stop-color="#0000bb"/><stop offset="0.135" stop-color="#0000c1"/><stop offset="0.221" stop-color="#0000c9"/><stop offset="0.306" stop-color="#0000d3"/><stop offset="0.391" stop-color="#0000de"/><stop offset="0.477" stop-color="#0000ea"/><stop offset="0.548" stop-color="#0000f6"/><stop offset="0.605" stop-color="#0001ff"/><stop offset="0.662" stop-color="#000dff"/><stop offset="0.704" stop-color="#0016ff"/><stop offset="0.733" stop-color="#001dff"/><stop offset="0.756" stop-color="#0000f7"/><stop offset="0.775" stop-color="#0011ff"/><stop offset="0.795" stop-color="#0033ff"/><stop offset="0.815" stop-color="#0055ff"/><stop offset="0.835" stop-color="#0068ff"/><stop offset="0.855" stop-color="#007cff"/><stop offset="0.875" stop-color="#008fff"/><stop offset="0.895" stop-color="#008eff"/><stop offset="0.915" stop-color="#0067ff"/><stop offset="0.935" stop-color="#0021ff"/><stop offset="0.955" stop-color="#0000de"/><stop offset="0.972" stop-color="#0000c1"/><stop offset="0.989" stop-color="#0000ba"/><stop offset="1.000" stop-color="#0000b9"/></linearGradient><linearGradient id="c47" x1="0" y1="0" x2="0" y2="1"><stop offset="0.000" stop-color="#000098"/><stop offset="0.013" stop-color="#0000b3"/><stop offset="0.064" stop-color="#0000b4"/><stop offset="0.135" stop-color="#0000b7"/><stop offset="0.221" stop-color="#0000bc"/><stop offset="0.306" stop-color="#0000c1"/><stop offset="0.391" stop-color="#0000c8"/><stop offset="0.477" stop-color="#0000d0"/><stop offset="0.548" stop-color="#0000d8"/><stop offset="0.605" stop-color="#0000e0"/><stop offset="0.662" stop-color="#0000e9"/><stop offset="0.704" stop-color="#0000f1"/><stop offset="0.733" stop-color="#0000f6"/><stop offset="0.756" stop-color="#0000e2"/><stop offset="0.775" stop-color="#0000f6"/><stop offset="0.795" stop-color="#001bff"/><stop offset="0.815" stop-color="#0035ff"/><stop offset="0.835" stop-color="#003fff"/><stop offset="0.855" stop-color="#0045ff"/><stop offset="0.875" stop-color="#004bff"/><stop offset="0.895" stop-color="#0048ff"/><stop offset="0.915" stop-color="#0031ff"/><stop offset="0.935" stop-color="#0003ff"/><stop offset="0.955" stop-color="#0000d3"/><stop offset="0.972" stop-color="#0000bf"/><stop offset="0.989" stop-color="#0000b9"/><stop offset="1.000" stop-color="#0000b9"/></linearGradient><linearGradient id="c48" x1="0" y1="0" x2="0" y2="1"><stop offset="0.000" stop-color="#000097"/><stop offset="0.013" stop-color="#0000b2"/><stop offset="0.064" stop-color="#0000b4"/><stop offset="0.135" stop-color="#0000b6"/><stop offset="0.221" stop-color="#0000ba"/><stop offset="0.306" stop-color="#0000be"/><stop offset="0.391" stop-color="#0000c3"/><stop offset="0.477" stop-color="#0000c9"/><stop offset="0.548" stop-color="#0000ce"/><stop offset="0.605" stop-color="#0000d4"/><stop offset="0.662" stop-color="#0000d9"/><stop offset="0.704" stop-color="#0000de"/><stop offset="0.733" stop-color="#0000e2"/><stop offset="0.756" stop-color="#0000d5"/><stop offset="0.775" stop-color="#0000e3"/><stop offset="0.795" stop-color="#0000ff"/><stop offset="0.815" stop-color="#0013ff"/><stop offset="0.835" stop-color="#0018ff"/><stop offset="0.855" stop-color="#001aff"/><stop offset="0.875" stop-color="#001bff"/><stop offset="0.895" stop-color="#0018ff"/><stop offset="0.915" stop-color="#000aff"/><stop offset="0.935" stop-color="#0000eb"/><stop offset="0.955" stop-color="#0000cb"/><stop offset="0.972" stop-color="#0000bd"/><stop offset="0.989" stop-color="#0000b9"/><stop offset="1.000" stop-color="#0000b9"/></linearGradient><linearGradient id="c49" x1="0" y1="0" x2="0" y2="1"><stop offset="0.000" stop-color="#000098"/><stop offset="0.013" stop-color="#0000b3"/><stop offset="0.064" stop-color="#0000b4"/><stop offset="0.135" stop-color="#0000b7"/><stop offset="0.221" stop-color="#0000bb"/><stop offset="0.306" stop-color="#0000c0"/><stop offset="0.391" stop-color="#0000c6"/><stop offset="0.477" stop-color="#0000cd"/><stop offset="0.548" stop-color="#0000d3"/><stop offset="0.605" stop-color="#0000d9"/><stop offset="0.662" stop-color="#0000df"/><stop offset="0.704" stop-color="#0000e5"/><stop offset="0.733" stop-color="#0000e9"/><stop offset="0.756" stop-color="#0000d6"/><stop offset="0.775" stop-color="#0000e0"/><stop offset="0.795" stop-color="#0000e7"/><stop offset="0.815" stop-color="#0000f3"/><stop offset="0.835" stop-color="#0000f6"/><stop offset="0.855" stop-color="#0000f7"/><stop offset="0.875" stop-color="#0000f7"/><stop offset="0.895" stop-color="#0000f5"/><stop offset="0.915" stop-color="#0000ec"/><stop offset="0.935" stop-color="#0000d9"/><stop offset="0.955" stop-color="#0000c5"/><stop offset="0.972" stop-color="#0000bb"/><stop offset="0.989" stop-color="#0000b9"/><stop offset="1.000" stop-color="#0000b9"/></linearGradient><linearGradient id="c50" x1="0" y1="0" x2="0" y2="1"><stop offset="0.000" stop-color="#000098"/><stop offset="0.013" stop-color="#0000b3"/><stop offset="0.064" stop-color="#0000b5"/><stop offset="0.135" stop-color="#0000b8"/><stop offset="0.221" stop-color="#0000bd"/><stop offset="0.306" stop-color="#0000c3"/><stop offset="0.391" stop-color="#0000ca"/><stop offset="0.477" stop-color="#0000d3"/><stop offset="0.548" stop-color="#0000dc"/><stop offset="0.605" stop-color="#0000e4"/><stop offset="0.662" stop-color="#0000ee"/><stop offset="0.704" stop-color="#0000f7"/><stop offset="0.733" stop-color="#0000fd"/><stop offset="0.756" stop-color="#0000e0"/><stop offset="0.775" stop-color="#0000e7"/><stop offset="0.795" stop-color="#0000d5"/><stop offset="0.815" stop-color="#0000dd"/><stop offset="0.835" stop-color="#0000df"/><stop offset="0.855" stop-color="#0000df"/><stop offset="0.875" stop-color="#0000df"/><stop offset="0.895" stop-color="#0000de"/><stop offset="0.915" stop-color="#0000d8"/><stop offset="0.935" stop-color="#0000cd"/><stop offset="0.955" stop-color="#0000c0"/><stop offset="0.972" stop-color="#0000ba"/><stop offset="0.989" stop-color="#0000b9"/><stop offset="1.000" stop-color="#0000b9"/></linearGradient><linearGradient id="c51" x1="0" y1="0" x2="0" y2="1"><stop offset="0.000" stop-color="#00009c"/><stop offset="0.013" stop-color="#0000b8"/><stop offset="0.064" stop-color="#0000bc"/><stop offset="0.135" stop-color="#0000c2"/><stop offset="0.221" stop-color="#0000cb"/><stop offset="0.306" stop-color="#0000d5"/><stop offset="0.391" stop-color="#0000e0"/><stop offset="0.477" stop-color="#0000ed"/><stop offset="0.548" stop-color="#0000fa"/><stop offset="0.605" stop-color="#0006ff"/><stop offset="0.662" stop-color="#0012ff"/><stop offset="0.704" stop-color="#001cff"/><stop offset="0.733" stop-color="#0023ff"/><stop offset="0.756" stop-color="#0000f4"/><stop offset="0.775" stop-color="#0000fc"/><stop offset="0.795" stop-color="#0000e1"/><stop offset="0.815" stop-color="#0000ec"/><stop offset="0.835" stop-color="#0000ef"/><stop offset="0.855" stop-color="#0000ef"/><stop offset="0.875" stop-color="#0000ef"/><stop offset="0.895" stop-color="#0000ed"/><stop offset="0.915" stop-color="#0000e6"/><stop offset="0.935" stop-color="#0000d7"/><stop offset="0.955" stop-color="#0000c5"/><stop offset="0.972" stop-color="#0000bc"/><stop offset="0.989" stop-color="#0000b9"/><stop offset="1.000" stop-color="#0000b9"/></linearGradient><linearGradient id="c52" x1="0" y1="0" x2="0" y2="1"><stop offset="0.000" stop-color="#000098"/><stop offset="0.013" stop-color="#0000b2"/><stop offset="0.064" stop-color="#0000b4"/><stop offset="0.135" stop-color="#0000b7"/><stop offset="0.221" stop-color="#0000bb"/><stop offset="0.306" stop-color="#0000c0"/><stop offset="0.391" stop-color="#0000c7"/><stop offset="0.477" stop-color="#0000ce"/><stop offset="0.548" stop-color="#0000d6"/><stop offset="0.605" stop-color="#0000dd"/><stop offset="0.662" stop-color="#0000e6"/><stop offset="0.704" stop-color="#0000ee"/><stop offset="0.733" stop-color="#0000f4"/><stop offset="0.756" stop-color="#0000de"/><stop offset="0.775" stop-color="#0000eb"/><stop offset="0.795" stop-color="#0000f6"/><stop offset="0.815" stop-color="#0007ff"/><stop offset="0.835" stop-color="#000bff"/><stop offset="0.855" stop-color="#000cff"/><stop offset="0.875" stop-color="#000cff"/><stop offset="0.895" stop-color="#000bff"/><stop offset="0.915" stop-color="#0004ff"/><stop offset="0.935" stop-color="#0000f2"/><stop offset="0.955" stop-color="#0000d7"/><stop offset="0.972" stop-color="#0000c3"/><stop offset="0.989" stop-color="#0000bb"/><stop offset="1.000" stop-color="#0000b9"/></linearGradient><linearGradient id="c53" x1="0" y1="0" x2="0" y2="1"><stop offset="0.000" stop-color="#000097"/><stop offset="0.013" stop-color="#0000b2"/><stop offset="0.064" stop-color="#0000b3"/><stop offset="0.135" stop-color="#0000b6"/><stop offset="0.221" stop-color="#0000b9"/><stop offset="0.306" stop-color="#0000bd"/><stop offset="0.391" stop-color="#0000c2"/><stop offset="0.477" stop-color="#0000c8"/><stop offset="0.548" stop-color="#0000cd"/><stop offset="0.605" stop-color="#0000d1"/><stop offset="0.662" stop-color="#0000d6"/><stop offset="0.704" stop-color="#0000da"/><stop offset="0.733" stop-color="#0000dd"/><stop offset="0.756" stop-color="#0000d3"/><stop offset="0.775" stop-color="#0000e2"/><stop offset="0.795" stop-color="#0006ff"/><stop offset="0.815" stop-color="#001aff"/><stop offset="0.835" stop-color="#0020ff"/><stop offset="0.855" stop-color="#0021ff"/><stop offset="0.875" stop-color="#0022ff"/><stop offset="0.895" stop-color="#0024ff"/><stop offset="0.915" stop-color="#002bff"/><stop offset="0.935" stop-color="#002aff"/><stop offset="0.955" stop-color="#0005ff"/><stop offset="0.972" stop-color="#0000d9"/><stop offset="0.989" stop-color="#0000c1"/><stop offset="1.000" stop-color="#0000bb"/></linearGradient><linearGradient id="c54" x1="0" y1="0" x2="0" y2="1"><stop offset="0.000" stop-color="#000097"/><stop offset="0.013" stop-color="#0000b2"/><stop offset="0.064" stop-color="#0000b4"/><stop offset="0.135" stop-color="#0000b7"/><stop offset="0.221" stop-color="#0000bb"/><stop offset="0.306" stop-color="#0000c0"/><stop offset="0.391" stop-color="#0000c6"/><stop offset="0.477" stop-color="#0000cd"/><stop offset="0.548" stop-color="#0000d5"/><stop offset="0.605" stop-color="#0000dd"/><stop offset="0.662" stop-color="#0000e6"/><stop offset="0.704" stop-color="#0000ef"/><stop offset="0.733" stop-color="#0000f7"/><stop offset="0.756" stop-color="#0000e3"/><stop offset="0.775" stop-color="#0000f9"/><stop offset="0.795" stop-color="#0021ff"/><stop offset="0.815" stop-color="#003cff"/><stop offset="0.835" stop-color="#0044ff"/><stop offset="0.855" stop-color="#0048ff"/><stop offset="0.875" stop-color="#004eff"/><stop offset="0.895" stop-color="#0059ff"/><stop offset="0.915" stop-color="#0076ff"/><stop offset="0.935" stop-color="#0091ff"/><stop offset="0.955" stop-color="#0059ff"/><stop offset="0.972" stop-color="#0001ff"/><stop offset="0.989" stop-color="#0000cb"/><stop offset="1.000" stop-color="#0000be"/></linearGradient><linearGradient id="c55" x1="0" y1="0" x2="0" y2="1"><stop offset="0.000" stop-color="#0000a0"/><stop offset="0.013" stop-color="#0000bc"/><stop offset="0.064" stop-color="#0000c2"/><stop offset="0.135" stop-color="#0000cb"/><stop offset="0.221" stop-color="#0000d7"/><stop offset="0.306" stop-color="#0000e6"/><stop offset="0.391" stop-color="#0000f7"/><stop offset="0.477" stop-color="#000dff"/><stop offset="0.548" stop-color="#0021ff"/><stop offset="0.605" stop-color="#0034ff"/><stop offset="0.662" stop-color="#0049ff"/><stop offset="0.704" stop-color="#005aff"/><stop offset="0.733" stop-color="#0067ff"/><stop offset="0.756" stop-color="#0023ff"/><stop offset="0.775" stop-color="#0045ff"/><stop offset="0.795" stop-color="#005cff"/><stop offset="0.815" stop-color="#0088ff"/><stop offset="0.835" stop-color="#0099ff"/><stop offset="0.855" stop-color="#00a7ff"/><stop offset="0.875" stop-color="#00bdff"/><stop offset="0.895" stop-color="#00d3ff"/><stop offset="0.915" stop-color="#00f3ff"/><stop offset="0.935" stop-color="#08fff7"/><stop offset="0.955" stop-color="#00a9ff"/><stop offset="0.972" stop-color="#0024ff"/><stop offset="0.989" stop-color="#0000d4"/><stop offset="1.000" stop-color="#0000c1"/></linearGradient><linearGradient id="c56" x1="0" y1="0" x2="0" y2="1"><stop offset="0.000" stop-color="#00009b"/><stop offset="0.013" stop-color="#0000b7"/><stop offset="0.064" stop-color="#0000ba"/><stop offset="0.135" stop-color="#0000c0"/><stop offset="0.221" stop-color="#0000c9"/><stop offset="0.306" stop-color="#0000d3"/><stop offset="0.391" stop-color="#0000df"/><stop offset="0.477" stop-color="#0000ee"/><stop offset="0.548" stop-color="#0000fe"/><stop offset="0.605" stop-color="#000fff"/><stop offset="0.662" stop-color="#0022ff"/><stop offset="0.704" stop-color="#0034ff"/><stop offset="0.733" stop-color="#0041ff"/><stop offset="0.756" stop-color="#0010ff"/><stop offset="0.775" stop-color="#0032ff"/><stop offset="0.795" stop-color="#0054ff"/><stop offset="0.815" stop-color="#0085ff"/><stop offset="0.835" stop-color="#00a2ff"/><stop offset="0.855" stop-color="#00c3ff"/><stop offset="0.875" stop-color="#00efff"/><stop offset="0.895" stop-color="#0cfff3"/><stop offset="0.915" stop-color="#11ffee"/><stop offset="0.935" stop-color="#01fffe"/><stop offset="0.955" stop-color="#0098ff"/><stop offset="0.972" stop-color="#001bff"/><stop offset="0.989" stop-color="#0000d2"/><stop offset="1.000" stop-color="#0000c0"/></linearGradient><linearGradient id="c57" x1="0" y1="0" x2="0" y2="1"><stop offset="0.000" stop-color="#00009c"/><stop offset="0.013" stop-color="#0000b8"/><stop offset="0.064" stop-color="#0000bc"/><stop offset="0.135" stop-color="#0000c3"/><stop offset="0.221" stop-color="#0000cd"/><stop offset="0.306" stop-color="#0000d9"/><stop offset="0.391" stop-color="#0000e8"/><stop offset="0.477" stop-color="#0000fa"/><stop offset="0.548" stop-color="#000fff"/><stop offset="0.605" stop-color="#0022ff"/><stop offset="0.662" stop-color="#0039ff"/><stop offset="0.704" stop-color="#004eff"/><stop offset="0.733" stop-color="#005fff"/><stop offset="0.756" stop-color="#0022ff"/><stop offset="0.775" stop-color="#004aff"/><stop offset="0.795" stop-color="#0072ff"/><stop offset="0.815" stop-color="#00bcff"/><stop offset="0.835" stop-color="#00f4ff"/><stop offset="0.855" stop-color="#25ffda"/><stop offset="0.875" stop-color="#4fffb0"/><stop offset="0.895" stop-color="#54ffab"/><stop offset="0.915" stop-color="#1effe1"/><stop offset="0.935" stop-color="#00c6ff"/><stop offset="0.955" stop-color="#0051ff"/><stop offset="0.972" stop-color="#0000f5"/><stop offset="0.989" stop-color="#0000c7"/><stop offset="1.000" stop-color="#0000bd"/></linearGradient><linearGradient id="c58" x1="0" y1="0" x2="0" y2="1"><stop offset="0.000" stop-color="#0000a5"/><stop offset="0.013" stop-color="#0000c2"/><stop offset="0.064" stop-color="#0000cb"/><stop offset="0.135" stop-color="#0000d8"/><stop offset="0.221" stop-color="#0000ea"/><stop offset="0.306" stop-color="#0000ff"/><stop offset="0.391" stop-color="#0018ff"/><stop offset="0.477" stop-color="#0034ff"/><stop offset="0.548" stop-color="#0050ff"/><stop offset="0.605" stop-color="#0069ff"/><stop offset="0.662" stop-color="#0086ff"/><stop offset="0.704" stop-color="#009dff"/><stop offset="0.733" stop-color="#00aeff"/><stop offset="0.756" stop-color="#004dff"/><stop offset="0.775" stop-color="#007eff"/><stop offset="0.795" stop-color="#00a6ff"/><stop offset="0.815" stop-color="#13ffec"/><stop offset="0.835" stop-color="#67ff98"/><stop offset="0.855" stop-color="#94ff6b"/><stop offset="0.875" stop-color="#97ff68"/><stop offset="0.895" stop-color="#6dff92"/><stop offset="0.915" stop-color="#0ffff0"/><stop offset="0.935" stop-color="#0090ff"/><stop offset="0.955" stop-color="#0017ff"/><stop offset="0.972" stop-color="#0000d6"/><stop offset="0.989" stop-color="#0000be"/><stop offset="1.000" stop-color="#0000ba"/></linearGradient><linearGradient id="c59" x1="0" y1="0" x2="0" y2="1"><stop offset="0.000" stop-color="#000098"/><stop offset="0.013" stop-color="#0000b3"/><stop offset="0.064" stop-color="#0000b6"/><stop offset="0.135" stop-color="#0000b9"/><stop offset="0.221" stop-color="#0000bf"/><stop offset="0.306" stop-color="#0000c6"/><stop offset="0.391" stop-color="#0000cf"/><stop offset="0.477" stop-color="#0000db"/><stop offset="0.548" stop-color="#0000e8"/><stop offset="0.605" stop-color="#0000f5"/><stop offset="0.662" stop-color="#0007ff"/><stop offset="0.704" stop-color="#0016ff"/><stop offset="0.733" stop-color="#0022ff"/><stop offset="0.756" stop-color="#0000ff"/><stop offset="0.775" stop-color="#0026ff"/><stop offset="0.795" stop-color="#0066ff"/><stop offset="0.815" stop-color="#00c3ff"/><stop offset="0.835" stop-color="#12ffed"/><stop offset="0.855" stop-color="#2effd1"/><stop offset="0.875" stop-color="#12ffed"/><stop offset="0.895" stop-color="#00d4ff"/><stop offset="0.915" stop-color="#0087ff"/><stop offset="0.935" stop-color="#0031ff"/><stop offset="0.955" stop-color="#0000e6"/><stop offset="0.972" stop-color="#0000c4"/><stop offset="0.989" stop-color="#0000ba"/><stop offset="1.000" stop-color="#0000b9"/></linearGradient><linearGradient id="c60" x1="0" y1="0" x2="0" y2="1"><stop offset="0.000" stop-color="#000097"/><stop offset="0.013" stop-color="#0000b2"/><stop offset="0.064" stop-color="#0000b3"/><stop offset="0.135" stop-color="#0000b6"/><stop offset="0.221" stop-color="#0000b9"/><stop offset="0.306" stop-color="#0000be"/><stop offset="0.391" stop-color="#0000c3"/><stop offset="0.477" stop-color="#0000c9"/><stop offset="0.548" stop-color="#0000cf"/><stop offset="0.605" stop-color="#0000d4"/><stop offset="0.662" stop-color="#0000db"/><stop offset="0.704" stop-color="#0000e2"/><stop offset="0.733" stop-color="#0000e7"/><stop offset="0.756" stop-color="#0000db"/><stop offset="0.775" stop-color="#0000f5"/><stop offset="0.795" stop-color="#0034ff"/><stop offset="0.815" stop-color="#0070ff"/><stop offset="0.835" stop-color="#009fff"/><stop offset="0.855" stop-color="#00abff"/><stop offset="0.875" stop-color="#0093ff"/><stop offset="0.895" stop-color="#0069ff"/><stop offset="0.915" stop-color="#003bff"/><stop offset="0.935" stop-color="#0005ff"/><stop offset="0.955" stop-color="#0000d4"/><stop offset="0.972" stop-color="#0000bf"/><stop offset="0.989" stop-color="#0000b9"/><stop offset="1.000" stop-color="#0000b9"/></linearGradient><linearGradient id="c61" x1="0" y1="0" x2="0" y2="1"><stop offset="0.000" stop-color="#000099"/><stop offset="0.013" stop-color="#0000b4"/><stop offset="0.064" stop-color="#0000b7"/><stop offset="0.135" stop-color="#0000bb"/><stop offset="0.221" stop-color="#0000c1"/><stop offset="0.306" stop-color="#0000c8"/><stop offset="0.391" stop-color="#0000d1"/><stop offset="0.477" stop-color="#0000db"/><stop offset="0.548" stop-color="#0000e5"/><stop offset="0.605" stop-color="#0000ef"/><stop offset="0.662" stop-color="#0000fa"/><stop offset="0.704" stop-color="#0004ff"/><stop offset="0.733" stop-color="#000aff"/><stop offset="0.756" stop-color="#0000ed"/><stop offset="0.775" stop-color="#0006ff"/><stop offset="0.795" stop-color="#0030ff"/><stop offset="0.815" stop-color="#0058ff"/><stop offset="0.835" stop-color="#006dff"/><stop offset="0.855" stop-color="#0071ff"/><stop offset="0.875" stop-color="#0068ff"/><stop offset="0.895" stop-color="#0056ff"/><stop offset="0.915" stop-color="#0038ff"/><stop offset="0.935" stop-color="#0007ff"/><stop offset="0.955" stop-color="#0000d5"/><stop offset="0.972" stop-color="#0000bf"/><stop offset="0.989" stop-color="#0000b9"/><stop offset="1.000" stop-color="#0000b9"/></linearGradient><linearGradient id="c62" x1="0" y1="0" x2="0" y2="1"><stop offset="0.000" stop-color="#00009b"/><stop offset="0.013" stop-color="#0000b7"/><stop offset="0.064" stop-color="#0000ba"/><stop offset="0.135" stop-color="#0000c0"/><stop offset="0.221" stop-color="#0000c7"/><stop offset="0.306" stop-color="#0000d0"/><stop offset="0.391" stop-color="#0000db"/><stop offset="0.477" stop-color="#0000e7"/><stop offset="0.548" stop-color="#0000f3"/><stop offset="0.605" stop-color="#0000fe"/><stop offset="0.662" stop-color="#000bff"/><stop offset="0.704" stop-color="#0015ff"/><stop offset="0.733" stop-color="#001dff"/><stop offset="0.756" stop-color="#0000f6"/><stop offset="0.775" stop-color="#000cff"/><stop offset="0.795" stop-color="#001fff"/><stop offset="0.815" stop-color="#003bff"/><stop offset="0.835" stop-color="#0045ff"/><stop offset="0.855" stop-color="#0046ff"/><stop offset="0.875" stop-color="#0044ff"/><stop offset="0.895" stop-color="#003dff"/><stop offset="0.915" stop-color="#0028ff"/><stop offset="0.935" stop-color="#0000fe"/><stop offset="0.955" stop-color="#0000d2"/><stop offset="0.972" stop-color="#0000be"/><stop offset="0.989" stop-color="#0000b9"/><stop offset="1.000" stop-color="#0000b9"/></linearGradient><linearGradient id="c63" x1="0" y1="0" x2="0" y2="1"><stop offset="0.000" stop-color="#000098"/><stop offset="0.013" stop-color="#0000b3"/><stop offset="0.064" stop-color="#0000b6"/><stop offset="0.135" stop-color="#0000b9"/><stop offset="0.221" stop-color="#0000bf"/><stop offset="0.306" stop-color="#0000c5"/><stop offset="0.391" stop-color="#0000cd"/><stop offset="0.477" stop-color="#0000d6"/><stop offset="0.548" stop-color="#0000e0"/><stop offset="0.605" stop-color="#0000ea"/><stop offset="0.662" stop-color="#0000f5"/><stop offset="0.704" stop-color="#0000ff"/><stop offset="0.733" stop-color="#0007ff"/><stop offset="0.756" stop-color="#0000e8"/><stop offset="0.775" stop-color="#0000f8"/><stop offset="0.795" stop-color="#0001ff"/><stop offset="0.815" stop-color="#0013ff"/><stop offset="0.835" stop-color="#001aff"/><stop offset="0.855" stop-color="#001bff"/><stop offset="0.875" stop-color="#001aff"/><stop offset="0.895" stop-color="#0016ff"/><stop offset="0.915" stop-color="#0008ff"/><stop offset="0.935" stop-color="#0000ea"/><stop offset="0.955" stop-color="#0000cb"/><stop offset="0.972" stop-color="#0000bd"/><stop offset="0.989" stop-color="#0000b9"/><stop offset="1.000" stop-color="#0000b9"/></linearGradient><linearGradient id="c64" x1="0" y1="0" x2="0" y2="1"><stop offset="0.000" stop-color="#000099"/><stop offset="0.013" stop-color="#0000b5"/><stop offset="0.064" stop-color="#0000b7"/><stop offset="0.135" stop-color="#0000bb"/><stop offset="0.221" stop-color="#0000c1"/><stop offset="0.306" stop-color="#0000c8"/><stop offset="0.391" stop-color="#0000d0"/><stop offset="0.477" stop-color="#0000d9"/><stop offset="0.548" stop-color="#0000e2"/><stop offset="0.605" stop-color="#0000e9"/><stop offset="0.662" stop-color="#0000f2"/><stop offset="0.704" stop-color="#0000f9"/><stop offset="0.733" stop-color="#0000fe"/><stop offset="0.756" stop-color="#0000e4"/><stop offset="0.775" stop-color="#0000f5"/><stop offset="0.795" stop-color="#0007ff"/><stop offset="0.815" stop-color="#001eff"/><stop offset="0.835" stop-color="#0026ff"/><stop offset="0.855" stop-color="#0029ff"/><stop offset="0.875" stop-color="#0028ff"/><stop offset="0.895" stop-color="#0022ff"/><stop offset="0.915" stop-color="#0010ff"/><stop offset="0.935" stop-color="#0000ee"/><stop offset="0.955" stop-color="#0000cc"/><stop offset="0.972" stop-color="#0000bd"/><stop offset="0.989" stop-color="#0000b9"/><stop offset="1.000" stop-color="#0000b9"/></linearGradient><linearGradient id="c65" x1="0" y1="0" x2="0" y2="1"><stop offset="0.000" stop-color="#000097"/><stop offset="0.013" stop-color="#0000b2"/><stop offset="0.064" stop-color="#0000b4"/><stop offset="0.135" stop-color="#0000b6"/><stop offset="0.221" stop-color="#0000ba"/><stop offset="0.306" stop-color="#0000be"/><stop offset="0.391" stop-color="#0000c4"/><stop offset="0.477" stop-color="#0000ca"/><stop offset="0.548" stop-color="#0000d1"/><stop offset="0.605" stop-color="#0000d7"/><stop offset="0.662" stop-color="#0000df"/><stop offset="0.704" stop-color="#0000e6"/><stop offset="0.733" stop-color="#0000eb"/><stop offset="0.756" stop-color="#0000dd"/><stop offset="0.775" stop-color="#0000f4"/><stop offset="0.795" stop-color="#0020ff"/><stop offset="0.815" stop-color="#0041ff"/><stop offset="0.835" stop-color="#0053ff"/><stop offset="0.855" stop-color="#005bff"/><stop offset="0.875" stop-color="#0059ff"/><stop offset="0.895" stop-color="#004bff"/><stop offset="0.915" stop-color="#002dff"/><stop offset="0.935" stop-color="#0000ff"/><stop offset="0.955" stop-color="#0000d2"/><stop offset="0.972" stop-color="#0000bf"/><stop offset="0.989" stop-color="#0000b9"/><stop offset="1.000" stop-color="#0000b9"/></linearGradient><linearGradient id="c66" x1="0" y1="0" x2="0" y2="1"><stop offset="0.000" stop-color="#00009b"/><stop offset="0.013" stop-color="#0000b7"/><stop offset="0.064" stop-color="#0000bb"/><stop offset="0.135" stop-color="#0000c1"/><stop offset="0.221" stop-color="#0000c9"/><stop offset="0.306" stop-color="#0000d2"/><stop offset="0.391" stop-color="#0000de"/><stop offset="0.477" stop-color="#0000ec"/><stop offset="0.548" stop-color="#0000f9"/><stop offset="0.605" stop-color="#0007ff"/><stop offset="0.662" stop-color="#0016ff"/><stop offset="0.704" stop-color="#0023ff"/><stop offset="0.733" stop-color="#002eff"/><stop offset="0.756" stop-color="#0009ff"/><stop offset="0.775" stop-color="#002eff"/><stop offset="0.795" stop-color="#0060ff"/><stop offset="0.815" stop-color="#009aff"/><stop offset="0.835" stop-color="#00bfff"/><stop offset="0.855" stop-color="#00cfff"/><stop offset="0.875" stop-color="#00caff"/><stop offset="0.895" stop-color="#00abff"/><stop offset="0.915" stop-color="#0073ff"/><stop offset="0.935" stop-color="#0027ff"/><stop offset="0.955" stop-color="#0000e1"/><stop offset="0.972" stop-color="#0000c3"/><stop offset="0.989" stop-color="#0000ba"/><stop offset="1.000" stop-color="#0000b9"/></linearGradient><linearGradient id="c67" x1="0" y1="0" x2="0" y2="1"><stop offset="0.000" stop-color="#00009a"/><stop offset="0.013" stop-color="#0000b5"/><stop offset="0.064" stop-color="#0000b8"/><stop offset="0.135" stop-color="#0000bc"/><stop offset="0.221" stop-color="#0000c3"/><stop offset="0.306" stop-color="#0000cc"/><stop offset="0.391" stop-color="#0000d7"/><stop offset="0.477" stop-color="#0000e5"/><stop offset="0.548" stop-color="#0000f3"/><stop offset="0.605" stop-color="#0002ff"/><stop offset="0.662" stop-color="#0015ff"/><stop offset="0.704" stop-color="#002bff"/><stop offset="0.733" stop-color="#0045ff"/><stop offset="0.756" stop-color="#0032ff"/><stop offset="0.775" stop-color="#006eff"/><stop offset="0.795" stop-color="#00b9ff"/><stop offset="0.815" stop-color="#0dfff2"/><stop offset="0.835" stop-color="#43ffbc"/><stop offset="0.855" stop-color="#58ffa7"/><stop offset="0.875" stop-color="#42ffbd"/><stop offset="0.895" stop-color="#03fffc"/><stop offset="0.915" stop-color="#00a7ff"/><stop offset="0.935" stop-color="#0040ff"/><stop offset="0.955" stop-color="#0000eb"/><stop offset="0.972" stop-color="#0000c6"/><stop offset="0.989" stop-color="#0000bb"/><stop offset="1.000" stop-color="#0000ba"/></linearGradient><linearGradient id="c68" x1="0" y1="0" x2="0" y2="1"><stop offset="0.000" stop-color="#00009d"/><stop offset="0.013" stop-color="#0000b8"/><stop offset="0.064" stop-color="#0000bd"/><stop offset="0.135" stop-color="#0000c3"/><stop offset="0.221" stop-color="#0000cc"/><stop offset="0.306" stop-color="#0000d7"/><stop offset="0.391" stop-color="#0000e3"/><stop offset="0.477" stop-color="#0000f1"/><stop offset="0.548" stop-color="#0000fe"/><stop offset="0.605" stop-color="#000bff"/><stop offset="0.662" stop-color="#0019ff"/><stop offset="0.704" stop-color="#0026ff"/><stop offset="0.733" stop-color="#0033ff"/><stop offset="0.756" stop-color="#0014ff"/><stop offset="0.775" stop-color="#0042ff"/><stop offset="0.795" stop-color="#0085ff"/><stop offset="0.815" stop-color="#00d7ff"/><stop offset="0.835" stop-color="#19ffe6"/><stop offset="0.855" stop-color="#41ffbe"/><stop offset="0.875" stop-color="#3cffc3"/><stop offset="0.895" stop-color="#00ffff"/><stop offset="0.915" stop-color="#00a1ff"/><stop offset="0.935" stop-color="#003bff"/><stop offset="0.955" stop-color="#0000e8"/><stop offset="0.972" stop-color="#0000c5"/><stop offset="0.989" stop-color="#0000bb"/><stop offset="1.000" stop-color="#0000b9"/></linearGradient><linearGradient id="c69" x1="0" y1="0" x2="0" y2="1"><stop offset="0.000" stop-color="#000099"/><stop offset="0.013" stop-color="#0000b4"/><stop offset="0.064" stop-color="#0000b7"/><stop offset="0.135" stop-color="#0000bb"/><stop offset="0.221" stop-color="#0000c1"/><stop offset="0.306" stop-color="#0000c8"/><stop offset="0.391" stop-color="#0000d1"/><stop offset="0.477" stop-color="#0000dc"/><stop offset="0.548" stop-color="#0000e7"/><stop offset="0.605" stop-color="#0000f1"/><stop offset="0.662" stop-color="#0000fd"/><stop offset="0.704" stop-color="#0008ff"/><stop offset="0.733" stop-color="#0011ff"/><stop offset="0.756" stop-color="#0000f7"/><stop offset="0.775" stop-color="#001cff"/><stop offset="0.795" stop-color="#0059ff"/><stop offset="0.815" stop-color="#009eff"/><stop offset="0.835" stop-color="#00deff"/><stop offset="0.855" stop-color="#13ffec"/><stop offset="0.875" stop-color="#1cffe3"/><stop offset="0.895" stop-color="#00e7ff"/><stop offset="0.915" stop-color="#008cff"/><stop offset="0.935" stop-color="#002cff"/><stop offset="0.955" stop-color="#0000e1"/><stop offset="0.972" stop-color="#0000c3"/><stop offset="0.989" stop-color="#0000ba"/><stop offset="1.000" stop-color="#0000b9"/></linearGradient><linearGradient id="c70" x1="0" y1="0" x2="0" y2="1"><stop offset="0.000" stop-color="#000097"/><stop offset="0.013" stop-color="#0000b2"/><stop offset="0.064" stop-color="#0000b3"/><stop offset="0.135" stop-color="#0000b6"/><stop offset="0.221" stop-color="#0000b9"/><stop offset="0.306" stop-color="#0000be"/><stop offset="0.391" stop-color="#0000c2"/><stop offset="0.477" stop-color="#0000c8"/><stop offset="0.548" stop-color="#0000ce"/><stop offset="0.605" stop-color="#0000d3"/><stop offset="0.662" stop-color="#0000d9"/><stop offset="0.704" stop-color="#0000df"/><stop offset="0.733" stop-color="#0000e4"/><stop offset="0.756" stop-color="#0000db"/><stop offset="0.775" stop-color="#0000f5"/><stop offset="0.795" stop-color="#0031ff"/><stop offset="0.815" stop-color="#0066ff"/><stop offset="0.835" stop-color="#009eff"/><stop offset="0.855" stop-color="#00d9ff"/><stop offset="0.875" stop-color="#00eeff"/><stop offset="0.895" stop-color="#00c1ff"/><stop offset="0.915" stop-color="#006bff"/><stop offset="0.935" stop-color="#0016ff"/><stop offset="0.955" stop-color="#0000d8"/><stop offset="0.972" stop-color="#0000c0"/><stop offset="0.989" stop-color="#0000ba"/><stop offset="1.000" stop-color="#0000b9"/></linearGradient><linearGradient id="c71" x1="0" y1="0" x2="0" y2="1"><stop offset="0.000" stop-color="#000098"/><stop offset="0.013" stop-color="#0000b3"/><stop offset="0.064" stop-color="#0000b5"/><stop offset="0.135" stop-color="#0000b9"/><stop offset="0.221" stop-color="#0000bd"/><stop offset="0.306" stop-color="#0000c4"/><stop offset="0.391" stop-color="#0000cb"/><stop offset="0.477" stop-color="#0000d5"/><stop offset="0.548" stop-color="#0000de"/><stop offset="0.605" stop-color="#0000e8"/><stop offset="0.662" stop-color="#0000f3"/><stop offset="0.704" stop-color="#0000fd"/><stop offset="0.733" stop-color="#0006ff"/><stop offset="0.756" stop-color="#0000ec"/><stop offset="0.775" stop-color="#0008ff"/><stop offset="0.795" stop-color="#0036ff"/><stop offset="0.815" stop-color="#0067ff"/><stop offset="0.835" stop-color="#009eff"/><stop offset="0.855" stop-color="#00deff"/><stop offset="0.875" stop-color="#00fcff"/><stop offset="0.895" stop-color="#00d2ff"/><stop offset="0.915" stop-color="#0079ff"/><stop offset="0.935" stop-color="#001eff"/><stop offset="0.955" stop-color="#0000db"/><stop offset="0.972" stop-color="#0000c0"/><stop offset="0.989" stop-color="#0000b9"/><stop offset="1.000" stop-color="#0000b9"/></linearGradient><linearGradient id="c72" x1="0" y1="0" x2="0" y2="1"><stop offset="0.000" stop-color="#0000a0"/><stop offset="0.013" stop-color="#0000bc"/><stop offset="0.064" stop-color="#0000c3"/><stop offset="0.135" stop-color="#0000cd"/><stop offset="0.221" stop-color="#0000da"/><stop offset="0.306" stop-color="#0000e9"/><stop offset="0.391" stop-color="#0000fb"/><stop offset="0.477" stop-color="#0011ff"/><stop offset="0.548" stop-color="#0026ff"/><stop offset="0.605" stop-color="#0039ff"/><stop offset="0.662" stop-color="#004eff"/><stop offset="0.704" stop-color="#005fff"/><stop offset="0.733" stop-color="#006cff"/><stop offset="0.756" stop-color="#0026ff"/><stop offset="0.775" stop-color="#0048ff"/><stop offset="0.795" stop-color="#0063ff"/><stop offset="0.815" stop-color="#009dff"/><stop offset="0.835" stop-color="#00d5ff"/><stop offset="0.855" stop-color="#17ffe8"/><stop offset="0.875" stop-color="#37ffc8"/><stop offset="0.895" stop-color="#0dfff2"/><stop offset="0.915" stop-color="#00acff"/><stop offset="0.935" stop-color="#003fff"/><stop offset="0.955" stop-color="#0000e7"/><stop offset="0.972" stop-color="#0000c3"/><stop offset="0.989" stop-color="#0000ba"/><stop offset="1.000" stop-color="#0000b9"/></linearGradient><linearGradient id="c73" x1="0" y1="0" x2="0" y2="1"><stop offset="0.000" stop-color="#000098"/><stop offset="0.013" stop-color="#0000b3"/><stop offset="0.064" stop-color="#0000b5"/><stop offset="0.135" stop-color="#0000b8"/><stop offset="0.221" stop-color="#0000bd"/><stop offset="0.306" stop-color="#0000c3"/><stop offset="0.391" stop-color="#0000ca"/><stop offset="0.477" stop-color="#0000d4"/><stop offset="0.548" stop-color="#0000df"/><stop offset="0.605" stop-color="#0000e9"/><stop offset="0.662" stop-color="#0000f6"/><stop offset="0.704" stop-color="#0003ff"/><stop offset="0.733" stop-color="#000dff"/><stop offset="0.756" stop-color="#0000f1"/><stop offset="0.775" stop-color="#000cff"/><stop offset="0.795" stop-color="#0037ff"/><stop offset="0.815" stop-color="#0065ff"/><stop offset="0.835" stop-color="#0097ff"/><stop offset="0.855" stop-color="#00d2ff"/><stop offset="0.875" stop-color="#00efff"/><stop offset="0.895" stop-color="#00caff"/><stop offset="0.915" stop-color="#0078ff"/><stop offset="0.935" stop-color="#0020ff"/><stop offset="0.955" stop-color="#0000dc"/><stop offset="0.972" stop-color="#0000c0"/><stop offset="0.989" stop-color="#0000b9"/><stop offset="1.000" stop-color="#0000b9"/></linearGradient><linearGradient id="c74" x1="0" y1="0" x2="0" y2="1"><stop offset="0.000" stop-color="#000097"/><stop offset="0.013" stop-color="#0000b2"/><stop offset="0.064" stop-color="#0000b3"/><stop offset="0.135" stop-color="#0000b6"/><stop offset="0.221" stop-color="#0000b9"/><stop offset="0.306" stop-color="#0000bd"/><stop offset="0.391" stop-color="#0000c2"/><stop offset="0.477" stop-color="#0000c8"/><stop offset="0.548" stop-color="#0000cd"/><stop offset="0.605" stop-color="#0000d1"/><stop offset="0.662" stop-color="#0000d6"/><stop offset="0.704" stop-color="#0000db"/><stop offset="0.733" stop-color="#0000de"/><stop offset="0.756" stop-color="#0000d6"/><stop offset="0.775" stop-color="#0000ec"/><stop offset="0.795" stop-color="#0023ff"/><stop offset="0.815" stop-color="#004fff"/><stop offset="0.835" stop-color="#007fff"/><stop offset="0.855" stop-color="#00b4ff"/><stop offset="0.875" stop-color="#00cbff"/><stop offset="0.895" stop-color="#00a8ff"/><stop offset="0.915" stop-color="#005fff"/><stop offset="0.935" stop-color="#0012ff"/><stop offset="0.955" stop-color="#0000d8"/><stop offset="0.972" stop-color="#0000c0"/><stop offset="0.989" stop-color="#0000ba"/><stop offset="1.000" stop-color="#0000b9"/></linearGradient><linearGradient id="c75" x1="0" y1="0" x2="0" y2="1"><stop offset="0.000" stop-color="#000097"/><stop offset="0.013" stop-color="#0000b2"/><stop offset="0.064" stop-color="#0000b4"/><stop offset="0.135" stop-color="#0000b6"/><stop offset="0.221" stop-color="#0000ba"/><stop offset="0.306" stop-color="#0000bf"/><stop offset="0.391" stop-color="#0000c4"/><stop offset="0.477" stop-color="#0000cb"/><stop offset="0.548" stop-color="#0000d2"/><stop offset="0.605" stop-color="#0000d8"/><stop offset="0.662" stop-color="#0000e0"/><stop offset="0.704" stop-color="#0000e7"/><stop offset="0.733" stop-color="#0000ee"/><stop offset="0.756" stop-color="#0000e2"/><stop offset="0.775" stop-color="#0000ff"/><stop offset="0.795" stop-color="#003dff"/><stop offset="0.815" stop-color="#0079ff"/><stop offset="0.835" stop-color="#00b4ff"/><stop offset="0.855" stop-color="#00e8ff"/><stop offset="0.875" stop-color="#00f9ff"/><stop offset="0.895" stop-color="#00d0ff"/><stop offset="0.915" stop-color="#007fff"/><stop offset="0.935" stop-color="#0027ff"/><stop offset="0.955" stop-color="#0000e1"/><stop offset="0.972" stop-color="#0000c4"/><stop offset="0.989" stop-color="#0000bb"/><stop offset="1.000" stop-color="#0000b9"/></linearGradient><linearGradient id="c76" x1="0" y1="0" x2="0" y2="1"><stop offset="0.000" stop-color="#00009c"/><stop offset="0.013" stop-color="#0000b7"/><stop offset="0.064" stop-color="#0000bb"/><stop offset="0.135" stop-color="#0000c1"/><stop offset="0.221" stop-color="#0000ca"/><stop offset="0.306" stop-color="#0000d4"/><stop offset="0.391" stop-color="#0000e1"/><stop offset="0.477" stop-color="#0000f0"/><stop offset="0.548" stop-color="#0000ff"/><stop offset="0.605" stop-color="#000eff"/><stop offset="0.662" stop-color="#001eff"/><stop offset="0.704" stop-color="#0031ff"/><stop offset="0.733" stop-color="#0045ff"/><stop offset="0.756" stop-color="#0028ff"/><stop offset="0.775" stop-color="#005dff"/><stop offset="0.795" stop-color="#00a4ff"/><stop offset="0.815" stop-color="#00fdff"/><stop offset="0.835" stop-color="#48ffb7"/><stop offset="0.855" stop-color="#78ff87"/><stop offset="0.875" stop-color="#77ff88"/><stop offset="0.895" stop-color="#39ffc6"/><stop offset="0.915" stop-color="#00cfff"/><stop offset="0.935" stop-color="#0057ff"/><stop offset="0.955" stop-color="#0000f5"/><stop offset="0.972" stop-color="#0000ca"/><stop offset="0.989" stop-color="#0000bd"/><stop offset="1.000" stop-color="#0000ba"/></linearGradient><linearGradient id="c77" x1="0" y1="0" x2="0" y2="1"><stop offset="0.000" stop-color="#00009d"/><stop offset="0.013" stop-color="#0000b8"/><stop offset="0.064" stop-color="#0000bd"/><stop offset="0.135" stop-color="#0000c4"/><stop offset="0.221" stop-color="#0000cd"/><stop offset="0.306" stop-color="#0000d9"/><stop offset="0.391" stop-color="#0000e6"/><stop offset="0.477" stop-color="#0000f6"/><stop offset="0.548" stop-color="#0007ff"/><stop offset="0.605" stop-color="#0016ff"/><stop offset="0.662" stop-color="#0027ff"/><stop offset="0.704" stop-color="#003aff"/><stop offset="0.733" stop-color="#004eff"/><stop offset="0.756" stop-color="#002aff"/><stop offset="0.775" stop-color="#0060ff"/><stop offset="0.795" stop-color="#00a6ff"/><stop offset="0.815" stop-color="#04fffb"/><stop offset="0.835" stop-color="#4fffb0"/><stop offset="0.855" stop-color="#7fff80"/><stop offset="0.875" stop-color="#7dff82"/><stop offset="0.895" stop-color="#41ffbe"/><stop offset="0.915" stop-color="#00d8ff"/><stop offset="0.935" stop-color="#005eff"/><stop offset="0.955" stop-color="#0000f8"/><stop offset="0.972" stop-color="#0000cb"/><stop offset="0.989" stop-color="#0000bd"/><stop offset="1.000" stop-color="#0000ba"/></linearGradient><linearGradient id="c78" x1="0" y1="0" x2="0" y2="1"><stop offset="0.000" stop-color="#000098"/><stop offset="0.013" stop-color="#0000b3"/><stop offset="0.064" stop-color="#0000b5"/><stop offset="0.135" stop-color="#0000b9"/><stop offset="0.221" stop-color="#0000be"/><stop offset="0.306" stop-color="#0000c5"/><stop offset="0.391" stop-color="#0000ce"/><stop offset="0.477" stop-color="#0000d9"/><stop offset="0.548" stop-color="#0000e5"/><stop offset="0.605" stop-color="#0000f1"/><stop offset="0.662" stop-color="#0001ff"/><stop offset="0.704" stop-color="#0011ff"/><stop offset="0.733" stop-color="#001eff"/><stop offset="0.756" stop-color="#0004ff"/><stop offset="0.775" stop-color="#0030ff"/><stop offset="0.795" stop-color="#0074ff"/><stop offset="0.815" stop-color="#00caff"/><stop offset="0.835" stop-color="#16ffe9"/><stop offset="0.855" stop-color="#4bffb4"/><stop offset="0.875" stop-color="#52ffad"/><stop offset="0.895" stop-color="#1effe1"/><stop offset="0.915" stop-color="#00bfff"/><stop offset="0.935" stop-color="#004fff"/><stop offset="0.955" stop-color="#0000f2"/><stop offset="0.972" stop-color="#0000c9"/><stop offset="0.989" stop-color="#0000bc"/><stop offset="1.000" stop-color="#0000ba"/></linearGradient><linearGradient id="c79" x1="0" y1="0" x2="0" y2="1"><stop offset="0.000" stop-color="#00009f"/><stop offset="0.013" stop-color="#0000bb"/><stop offset="0.064" stop-color="#0000c0"/><stop offset="0.135" stop-color="#0000c9"/><stop offset="0.221" stop-color="#0000d5"/><stop offset="0.306" stop-color="#0000e2"/><stop offset="0.391" stop-color="#0000f3"/><stop offset="0.477" stop-color="#0007ff"/><stop offset="0.548" stop-color="#001bff"/><stop offset="0.605" stop-color="#002dff"/><stop offset="0.662" stop-color="#0043ff"/><stop offset="0.704" stop-color="#005dff"/><stop offset="0.733" stop-color="#0079ff"/><stop offset="0.756" stop-color="#004fff"/><stop offset="0.775" stop-color="#0091ff"/><stop offset="0.795" stop-color="#00daff"/><stop offset="0.815" stop-color="#46ffb9"/><stop offset="0.835" stop-color="#9cff63"/><stop offset="0.855" stop-color="#d1ff2e"/><stop offset="0.875" stop-color="#cdff32"/><stop offset="0.895" stop-color="#82ff7d"/><stop offset="0.915" stop-color="#04fffb"/><stop offset="0.935" stop-color="#0075ff"/><stop offset="0.955" stop-color="#0002ff"/><stop offset="0.972" stop-color="#0000ce"/><stop offset="0.989" stop-color="#0000be"/><stop offset="1.000" stop-color="#0000bb"/></linearGradient><linearGradient id="c80" x1="0" y1="0" x2="0" y2="1"><stop offset="0.000" stop-color="#00009e"/><stop offset="0.013" stop-color="#0000ba"/><stop offset="0.064" stop-color="#0000bf"/><stop offset="0.135" stop-color="#0000c7"/><stop offset="0.221" stop-color="#0000d3"/><stop offset="0.306" stop-color="#0000e1"/><stop offset="0.391" stop-color="#0000f1"/><stop offset="0.477" stop-color="#0006ff"/><stop offset="0.548" stop-color="#001aff"/><stop offset="0.605" stop-color="#002dff"/><stop offset="0.662" stop-color="#0044ff"/><stop offset="0.704" stop-color="#0059ff"/><stop offset="0.733" stop-color="#006cff"/><stop offset="0.756" stop-color="#0033ff"/><stop offset="0.775" stop-color="#0066ff"/><stop offset="0.795" stop-color="#009cff"/><stop offset="0.815" stop-color="#00f9ff"/><stop offset="0.835" stop-color="#4cffb3"/><stop offset="0.855" stop-color="#8eff71"/><stop offset="0.875" stop-color="#9cff63"/><stop offset="0.895" stop-color="#60ff9f"/><stop offset="0.915" stop-color="#00ebff"/><stop offset="0.935" stop-color="#0066ff"/><stop offset="0.955" stop-color="#0000f9"/><stop offset="0.972" stop-color="#0000ca"/><stop offset="0.989" stop-color="#0000bc"/><stop offset="1.000" stop-color="#0000ba"/></linearGradient><linearGradient id="c81" x1="0" y1="0" x2="0" y2="1"><stop offset="0.000" stop-color="#000099"/><stop offset="0.013" stop-color="#0000b4"/><stop offset="0.064" stop-color="#0000b7"/><stop offset="0.135" stop-color="#0000bb"/><stop offset="0.221" stop-color="#0000c2"/><stop offset="0.306" stop-color="#0000ca"/><stop offset="0.391" stop-color="#0000d4"/><stop offset="0.477" stop-color="#0000e1"/><stop offset="0.548" stop-color="#0000f0"/><stop offset="0.605" stop-color="#0000ff"/><stop offset="0.662" stop-color="#0013ff"/><stop offset="0.704" stop-color="#0025ff"/><stop offset="0.733" stop-color="#0034ff"/><stop offset="0.756" stop-color="#000bff"/><stop offset="0.775" stop-color="#0031ff"/><stop offset="0.795" stop-color="#005fff"/><stop offset="0.815" stop-color="#00a2ff"/><stop offset="0.835" stop-color="#00e4ff"/><stop offset="0.855" stop-color="#26ffd9"/><stop offset="0.875" stop-color="#3fffc0"/><stop offset="0.895" stop-color="#10ffef"/><stop offset="0.915" stop-color="#00adff"/><stop offset="0.935" stop-color="#0040ff"/><stop offset="0.955" stop-color="#0000e9"/><stop offset="0.972" stop-color="#0000c5"/><stop offset="0.989" stop-color="#0000bb"/><stop offset="1.000" stop-color="#0000b9"/></linearGradient><linearGradient id="c82" x1="0" y1="0" x2="0" y2="1"><stop offset="0.000" stop-color="#0000a0"/><stop offset="0.013" stop-color="#0000bc"/><stop offset="0.064" stop-color="#0000c2"/><stop offset="0.135" stop-color="#0000cc"/><stop offset="0.221" stop-color="#0000d8"/><stop offset="0.306" stop-color="#0000e7"/><stop offset="0.391" stop-color="#0000f9"/><stop offset="0.477" stop-color="#000fff"/><stop offset="0.548" stop-color="#0024ff"/><stop offset="0.605" stop-color="#0037ff"/><stop offset="0.662" stop-color="#004cff"/><stop offset="0.704" stop-color="#005eff"/><stop offset="0.733" stop-color="#006bff"/><stop offset="0.756" stop-color="#0027ff"/><stop offset="0.775" stop-color="#004cff"/><stop offset="0.795" stop-color="#006cff"/><stop offset="0.815" stop-color="#00b1ff"/><stop offset="0.835" stop-color="#00f3ff"/><stop offset="0.855" stop-color="#38ffc7"/><stop offset="0.875" stop-color="#53ffac"/><stop offset="0.895" stop-color="#21ffde"/><stop offset="0.915" stop-color="#00b8ff"/><stop offset="0.935" stop-color="#0045ff"/><stop offset="0.955" stop-color="#0000e9"/><stop offset="0.972" stop-color="#0000c3"/><stop offset="0.989" stop-color="#0000ba"/><stop offset="1.000" stop-color="#0000b9"/></linearGradient><linearGradient id="c83" x1="0" y1="0" x2="0" y2="1"><stop offset="0.000" stop-color="#00009c"/><stop offset="0.013" stop-color="#0000b7"/><stop offset="0.064" stop-color="#0000bb"/><stop offset="0.135" stop-color="#0000c1"/><stop offset="0.221" stop-color="#0000ca"/><stop offset="0.306" stop-color="#0000d4"/><stop offset="0.391" stop-color="#0000e0"/><stop offset="0.477" stop-color="#0000ef"/><stop offset="0.548" stop-color="#0000fd"/><stop offset="0.605" stop-color="#000cff"/><stop offset="0.662" stop-color="#001cff"/><stop offset="0.704" stop-color="#002bff"/><stop offset="0.733" stop-color="#0036ff"/><stop offset="0.756" stop-color="#0009ff"/><stop offset="0.775" stop-color="#002dff"/><stop offset="0.795" stop-color="#005fff"/><stop offset="0.815" stop-color="#00b0ff"/><stop offset="0.835" stop-color="#08fff7"/><stop offset="0.855" stop-color="#5affa5"/><stop offset="0.875" stop-color="#6dff92"/><stop offset="0.895" stop-color="#25ffda"/><stop offset="0.915" stop-color="#00acff"/><stop offset="0.935" stop-color="#0038ff"/><stop offset="0.955" stop-color="#0000e3"/><stop offset="0.972" stop-color="#0000c2"/><stop offset="0.989" stop-color="#0000ba"/><stop offset="1.000" stop-color="#0000b9"/></linearGradient><linearGradient id="c84" x1="0" y1="0" x2="0" y2="1"><stop offset="0.000" stop-color="#000099"/><stop offset="0.013" stop-color="#0000b4"/><stop offset="0.064" stop-color="#0000b6"/><stop offset="0.135" stop-color="#0000ba"/><stop offset="0.221" stop-color="#0000c0"/><stop offset="0.306" stop-color="#0000c7"/><stop offset="0.391" stop-color="#0000d0"/><stop offset="0.477" stop-color="#0000dd"/><stop offset="0.548" stop-color="#0000ea"/><stop offset="0.605" stop-color="#0000f7"/><stop offset="0.662" stop-color="#0008ff"/><stop offset="0.704" stop-color="#001aff"/><stop offset="0.733" stop-color="#002cff"/><stop offset="0.756" stop-color="#0010ff"/><stop offset="0.775" stop-color="#003fff"/><stop offset="0.795" stop-color="#008aff"/><stop offset="0.815" stop-color="#00f9ff"/><stop offset="0.835" stop-color="#72ff8d"/><stop offset="0.855" stop-color="#cdff32"/><stop offset="0.875" stop-color="#caff35"/><stop offset="0.895" stop-color="#5effa1"/><stop offset="0.915" stop-color="#00c7ff"/><stop offset="0.935" stop-color="#0041ff"/><stop offset="0.955" stop-color="#0000e6"/><stop offset="0.972" stop-color="#0000c3"/><stop offset="0.989" stop-color="#0000ba"/><stop offset="1.000" stop-color="#0000b9"/></linearGradient><linearGradient id="c85" x1="0" y1="0" x2="0" y2="1"><stop offset="0.000" stop-color="#00009e"/><stop offset="0.013" stop-color="#0000ba"/><stop offset="0.064" stop-color="#0000bf"/><stop offset="0.135" stop-color="#0000c7"/><stop offset="0.221" stop-color="#0000d2"/><stop offset="0.306" stop-color="#0000de"/><stop offset="0.391" stop-color="#0000ed"/><stop offset="0.477" stop-color="#0000fe"/><stop offset="0.548" stop-color="#0010ff"/><stop offset="0.605" stop-color="#001fff"/><stop offset="0.662" stop-color="#0031ff"/><stop offset="0.704" stop-color="#0046ff"/><stop offset="0.733" stop-color="#005dff"/><stop offset="0.756" stop-color="#0039ff"/><stop offset="0.775" stop-color="#0074ff"/><stop offset="0.795" stop-color="#00c4ff"/><stop offset="0.815" stop-color="#43ffbc"/><stop offset="0.835" stop-color="#bdff42"/><stop offset="0.855" stop-color="#fff400"/><stop offset="0.875" stop-color="#f3ff0c"/><stop offset="0.895" stop-color="#7cff83"/><stop offset="0.915" stop-color="#00deff"/><stop offset="0.935" stop-color="#0051ff"/><stop offset="0.955" stop-color="#0000ed"/><stop offset="0.972" stop-color="#0000c5"/><stop offset="0.989" stop-color="#0000bb"/><stop offset="1.000" stop-color="#0000b9"/></linearGradient><linearGradient id="c86" x1="0" y1="0" x2="0" y2="1"><stop offset="0.000" stop-color="#000099"/><stop offset="0.013" stop-color="#0000b4"/><stop offset="0.064" stop-color="#0000b6"/><stop offset="0.135" stop-color="#0000ba"/><stop offset="0.221" stop-color="#0000c0"/><stop offset="0.306" stop-color="#0000c6"/><stop offset="0.391" stop-color="#0000cf"/><stop offset="0.477" stop-color="#0000d8"/><stop offset="0.548" stop-color="#0000e2"/><stop offset="0.605" stop-color="#0000eb"/><stop offset="0.662" stop-color="#0000f6"/><stop offset="0.704" stop-color="#0001ff"/><stop offset="0.733" stop-color="#0009ff"/><stop offset="0.756" stop-color="#0000f1"/><stop offset="0.775" stop-color="#0012ff"/><stop offset="0.795" stop-color="#0053ff"/><stop offset="0.815" stop-color="#00a4ff"/><stop offset="0.835" stop-color="#00f2ff"/><stop offset="0.855" stop-color="#28ffd7"/><stop offset="0.875" stop-color="#20ffdf"/><stop offset="0.895" stop-color="#00dcff"/><stop offset="0.915" stop-color="#007eff"/><stop offset="0.935" stop-color="#0022ff"/><stop offset="0.955" stop-color="#0000dd"/><stop offset="0.972" stop-color="#0000c1"/><stop offset="0.989" stop-color="#0000ba"/><stop offset="1.000" stop-color="#0000b9"/></linearGradient><linearGradient id="c87" x1="0" y1="0" x2="0" y2="1"><stop offset="0.000" stop-color="#000097"/><stop offset="0.013" stop-color="#0000b2"/><stop offset="0.064" stop-color="#0000b3"/><stop offset="0.135" stop-color="#0000b6"/><stop offset="0.221" stop-color="#0000b9"/><stop offset="0.306" stop-color="#0000be"/><stop offset="0.391" stop-color="#0000c3"/><stop offset="0.477" stop-color="#0000c9"/><stop offset="0.548" stop-color="#0000ce"/><stop offset="0.605" stop-color="#0000d4"/><stop offset="0.662" stop-color="#0000da"/><stop offset="0.704" stop-color="#0000df"/><stop offset="0.733" stop-color="#0000e4"/><stop offset="0.756" stop-color="#0000d9"/><stop offset="0.775" stop-color="#0000ef"/><stop offset="0.795" stop-color="#0027ff"/><stop offset="0.815" stop-color="#0053ff"/><stop offset="0.835" stop-color="#0077ff"/><stop offset="0.855" stop-color="#008dff"/><stop offset="0.875" stop-color="#008bff"/><stop offset="0.895" stop-color="#006eff"/><stop offset="0.915" stop-color="#003eff"/><stop offset="0.935" stop-color="#0006ff"/><stop offset="0.955" stop-color="#0000d4"/><stop offset="0.972" stop-color="#0000bf"/><stop offset="0.989" stop-color="#0000b9"/><stop offset="1.000" stop-color="#0000b9"/></linearGradient><linearGradient id="c88" x1="0" y1="0" x2="0" y2="1"><stop offset="0.000" stop-color="#000098"/><stop offset="0.013" stop-color="#0000b3"/><stop offset="0.064" stop-color="#0000b5"/><stop offset="0.135" stop-color="#0000b8"/><stop offset="0.221" stop-color="#0000bd"/><stop offset="0.306" stop-color="#0000c3"/><stop offset="0.391" stop-color="#0000ca"/><stop offset="0.477" stop-color="#0000d3"/><stop offset="0.548" stop-color="#0000db"/><stop offset="0.605" stop-color="#0000e4"/><stop offset="0.662" stop-color="#0000ed"/><stop offset="0.704" stop-color="#0000f6"/><stop offset="0.733" stop-color="#0000fc"/><stop offset="0.756" stop-color="#0000e6"/><stop offset="0.775" stop-color="#0000fd"/><stop offset="0.795" stop-color="#002aff"/><stop offset="0.815" stop-color="#004dff"/><stop offset="0.835" stop-color="#0060ff"/><stop offset="0.855" stop-color="#006bff"/><stop offset="0.875" stop-color="#006aff"/><stop offset="0.895" stop-color="#005cff"/><stop offset="0.915" stop-color="#003bff"/><stop offset="0.935" stop-color="#0008ff"/><stop offset="0.955" stop-color="#0000d5"/><stop offset="0.972" stop-color="#0000bf"/><stop offset="0.989" stop-color="#0000b9"/><stop offset="1.000" stop-color="#0000b9"/></linearGradient><linearGradient id="c89" x1="0" y1="0" x2="0" y2="1"><stop offset="0.000" stop-color="#00009b"/><stop offset="0.013" stop-color="#0000b6"/><stop offset="0.064" stop-color="#0000ba"/><stop offset="0.135" stop-color="#0000c0"/><stop offset="0.221" stop-color="#0000c7"/><stop offset="0.306" stop-color="#0000d0"/><stop offset="0.391" stop-color="#0000db"/><stop offset="0.477" stop-color="#0000e7"/><stop offset="0.548" stop-color="#0000f3"/><stop offset="0.605" stop-color="#0000fd"/><stop offset="0.662" stop-color="#000aff"/><stop offset="0.704" stop-color="#0014ff"/><stop offset="0.733" stop-color="#001bff"/><stop offset="0.756" stop-color="#0000f6"/><stop offset="0.775" stop-color="#0010ff"/><stop offset="0.795" stop-color="#0034ff"/><stop offset="0.815" stop-color="#0058ff"/><stop offset="0.835" stop-color="#006cff"/><stop offset="0.855" stop-color="#0076ff"/><stop offset="0.875" stop-color="#0077ff"/><stop offset="0.895" stop-color="#0069ff"/><stop offset="0.915" stop-color="#0047ff"/><stop offset="0.935" stop-color="#0010ff"/><stop offset="0.955" stop-color="#0000d8"/><stop offset="0.972" stop-color="#0000c0"/><stop offset="0.989" stop-color="#0000b9"/><stop offset="1.000" stop-color="#0000b9"/></linearGradient><linearGradient id="c90" x1="0" y1="0" x2="0" y2="1"><stop offset="0.000" stop-color="#000098"/><stop offset="0.013" stop-color="#0000b3"/><stop offset="0.064" stop-color="#0000b4"/><stop offset="0.135" stop-color="#0000b7"/><stop offset="0.221" stop-color="#0000bc"/><stop offset="0.306" stop-color="#0000c1"/><stop offset="0.391" stop-color="#0000c8"/><stop offset="0.477" stop-color="#0000d0"/><stop offset="0.548" stop-color="#0000d9"/><stop offset="0.605" stop-color="#0000e1"/><stop offset="0.662" stop-color="#0000ec"/><stop offset="0.704" stop-color="#0000f6"/><stop offset="0.733" stop-color="#0000fd"/><stop offset="0.756" stop-color="#0000e7"/><stop offset="0.775" stop-color="#0000fe"/><stop offset="0.795" stop-color="#0025ff"/><stop offset="0.815" stop-color="#0048ff"/><stop offset="0.835" stop-color="#005dff"/><stop offset="0.855" stop-color="#006bff"/><stop offset="0.875" stop-color="#006bff"/><stop offset="0.895" stop-color="#005bff"/><stop offset="0.915" stop-color="#0039ff"/><stop offset="0.935" stop-color="#0006ff"/><stop offset="0.955" stop-color="#0000d4"/><stop offset="0.972" stop-color="#0000bf"/><stop offset="0.989" stop-color="#0000b9"/><stop offset="1.000" stop-color="#0000b9"/></linearGradient><linearGradient id="c91" x1="0" y1="0" x2="0" y2="1"><stop offset="0.000" stop-color="#00009c"/><stop offset="0.013" stop-color="#0000b8"/><stop offset="0.064" stop-color="#0000bc"/><stop offset="0.135" stop-color="#0000c3"/><stop offset="0.221" stop-color="#0000cc"/><stop offset="0.306" stop-color="#0000d6"/><stop offset="0.391" stop-color="#0000e1"/><stop offset="0.477" stop-color="#0000ef"/><stop offset="0.548" stop-color="#0000fc"/><stop offset="0.605" stop-color="#0008ff"/><stop offset="0.662" stop-color="#0015ff"/><stop offset="0.704" stop-color="#001fff"/><stop offset="0.733" stop-color="#0027ff"/><stop offset="0.756" stop-color="#0000fb"/><stop offset="0.775" stop-color="#0014ff"/><stop offset="0.795" stop-color="#002cff"/><stop offset="0.815" stop-color="#0052ff"/><stop offset="0.835" stop-color="#006bff"/><stop offset="0.855" stop-color="#007bff"/><stop offset="0.875" stop-color="#007cff"/><stop offset="0.895" stop-color="#0069ff"/><stop offset="0.915" stop-color="#0043ff"/><stop offset="0.935" stop-color="#000bff"/><stop offset="0.955" stop-color="#0000d6"/><stop offset="0.972" stop-color="#0000bf"/><stop offset="0.989" stop-color="#0000b9"/><stop offset="1.000" stop-color="#0000b9"/></linearGradient><linearGradient id="c92" x1="0" y1="0" x2="0" y2="1"><stop offset="0.000" stop-color="#000097"/><stop offset="0.013" stop-color="#0000b2"/><stop offset="0.064" stop-color="#0000b4"/><stop offset="0.135" stop-color="#0000b6"/><stop offset="0.221" stop-color="#0000ba"/><stop offset="0.306" stop-color="#0000be"/><stop offset="0.391" stop-color="#0000c4"/><stop offset="0.477" stop-color="#0000ca"/><stop offset="0.548" stop-color="#0000d1"/><stop offset="0.605" stop-color="#0000d7"/><stop offset="0.662" stop-color="#0000df"/><stop offset="0.704" stop-color="#0000e5"/><stop offset="0.733" stop-color="#0000ea"/><stop offset="0.756" stop-color="#0000da"/><stop offset="0.775" stop-color="#0000eb"/><stop offset="0.795" stop-color="#000aff"/><stop offset="0.815" stop-color="#0028ff"/><stop offset="0.835" stop-color="#003fff"/><stop offset="0.855" stop-color="#004fff"/><stop offset="0.875" stop-color="#0050ff"/><stop offset="0.895" stop-color="#003eff"/><stop offset="0.915" stop-color="#001eff"/><stop offset="0.935" stop-color="#0000f3"/><stop offset="0.955" stop-color="#0000cd"/><stop offset="0.972" stop-color="#0000bd"/><stop offset="0.989" stop-color="#0000b9"/><stop offset="1.000" stop-color="#0000b9"/></linearGradient><linearGradient id="c93" x1="0" y1="0" x2="0" y2="1"><stop offset="0.000" stop-color="#000097"/><stop offset="0.013" stop-color="#0000b2"/><stop offset="0.064" stop-color="#0000b3"/><stop offset="0.135" stop-color="#0000b6"/><stop offset="0.221" stop-color="#0000b9"/><stop offset="0.306" stop-color="#0000bd"/><stop offset="0.391" stop-color="#0000c2"/><stop offset="0.477" stop-color="#0000c8"/><stop offset="0.548" stop-color="#0000cd"/><stop offset="0.605" stop-color="#0000d1"/><stop offset="0.662" stop-color="#0000d6"/><stop offset="0.704" stop-color="#0000da"/><stop offset="0.733" stop-color="#0000dc"/><stop offset="0.756" stop-color="#0000d1"/><stop offset="0.775" stop-color="#0000dd"/><stop offset="0.795" stop-color="#0000f8"/><stop offset="0.815" stop-color="#0011ff"/><stop offset="0.835" stop-color="#0025ff"/><stop offset="0.855" stop-color="#0033ff"/><stop offset="0.875" stop-color="#0034ff"/><stop offset="0.895" stop-color="#0025ff"/><stop offset="0.915" stop-color="#000aff"/><stop offset="0.935" stop-color="#0000e7"/><stop offset="0.955" stop-color="#0000c9"/><stop offset="0.972" stop-color="#0000bc"/><stop offset="0.989" stop-color="#0000b9"/><stop offset="1.000" stop-color="#0000b9"/></linearGradient><linearGradient id="c94" x1="0" y1="0" x2="0" y2="1"><stop offset="0.000" stop-color="#000097"/><stop offset="0.013" stop-color="#0000b2"/><stop offset="0.064" stop-color="#0000b4"/><stop offset="0.135" stop-color="#0000b6"/><stop offset="0.221" stop-color="#0000ba"/><stop offset="0.306" stop-color="#0000bf"/><stop offset="0.391" stop-color="#0000c5"/><stop offset="0.477" stop-color="#0000cc"/><stop offset="0.548" stop-color="#0000d3"/><stop offset="0.605" stop-color="#0000db"/><stop offset="0.662" stop-color="#0000e3"/><stop offset="0.704" stop-color="#0000eb"/><stop offset="0.733" stop-color="#0000f1"/><stop offset="0.756" stop-color="#0000dd"/><stop offset="0.775" stop-color="#0000ea"/><stop offset="0.795" stop-color="#0000f7"/><stop offset="0.815" stop-color="#000eff"/><stop offset="0.835" stop-color="#001fff"/><stop offset="0.855" stop-color="#002aff"/><stop offset="0.875" stop-color="#002aff"/><stop offset="0.895" stop-color="#001eff"/><stop offset="0.915" stop-color="#0007ff"/><stop offset="0.935" stop-color="#0000e6"/><stop offset="0.955" stop-color="#0000c9"/><stop offset="0.972" stop-color="#0000bc"/><stop offset="0.989" stop-color="#0000b9"/><stop offset="1.000" stop-color="#0000b9"/></linearGradient><linearGradient id="c95" x1="0" y1="0" x2="0" y2="1"><stop offset="0.000" stop-color="#00009f"/><stop offset="0.013" stop-color="#0000ba"/><stop offset="0.064" stop-color="#0000c0"/><stop offset="0.135" stop-color="#0000c8"/><stop offset="0.221" stop-color="#0000d3"/><stop offset="0.306" stop-color="#0000df"/><stop offset="0.391" stop-color="#0000ee"/><stop offset="0.477" stop-color="#0000fe"/><stop offset="0.548" stop-color="#000fff"/><stop offset="0.605" stop-color="#001dff"/><stop offset="0.662" stop-color="#002dff"/><stop offset="0.704" stop-color="#0039ff"/><stop offset="0.733" stop-color="#0042ff"/><stop offset="0.756" stop-color="#0008ff"/><stop offset="0.775" stop-color="#0019ff"/><stop offset="0.795" stop-color="#000aff"/><stop offset="0.815" stop-color="#0023ff"/><stop offset="0.835" stop-color="#0031ff"/><stop offset="0.855" stop-color="#0038ff"/><stop offset="0.875" stop-color="#0038ff"/><stop offset="0.895" stop-color="#002fff"/><stop offset="0.915" stop-color="#0018ff"/><stop offset="0.935" stop-color="#0000f2"/><stop offset="0.955" stop-color="#0000cd"/><stop offset="0.972" stop-color="#0000bd"/><stop offset="0.989" stop-color="#0000b9"/><stop offset="1.000" stop-color="#0000b9"/></linearGradient><linearGradient id="c96" x1="0" y1="0" x2="0" y2="1"><stop offset="0.000" stop-color="#000098"/><stop offset="0.013" stop-color="#0000b3"/><stop offset="0.064" stop-color="#0000b4"/><stop offset="0.135" stop-color="#0000b7"/><stop offset="0.221" stop-color="#0000bc"/><stop offset="0.306" stop-color="#0000c1"/><stop offset="0.391" stop-color="#0000c8"/><stop offset="0.477" stop-color="#0000d1"/><stop offset="0.548" stop-color="#0000d9"/><stop offset="0.605" stop-color="#0000e2"/><stop offset="0.662" stop-color="#0000ec"/><stop offset="0.704" stop-color="#0000f6"/><stop offset="0.733" stop-color="#0000fd"/><stop offset="0.756" stop-color="#0000e4"/><stop offset="0.775" stop-color="#0000f3"/><stop offset="0.795" stop-color="#0000fd"/><stop offset="0.815" stop-color="#0012ff"/><stop offset="0.835" stop-color="#001bff"/><stop offset="0.855" stop-color="#001fff"/><stop offset="0.875" stop-color="#001fff"/><stop offset="0.895" stop-color="#0019ff"/><stop offset="0.915" stop-color="#0008ff"/><stop offset="0.935" stop-color="#0000e9"/><stop offset="0.955" stop-color="#0000ca"/><stop offset="0.972" stop-color="#0000bd"/><stop offset="0.989" stop-color="#0000b9"/><stop offset="1.000" stop-color="#0000b9"/></linearGradient><linearGradient id="c97" x1="0" y1="0" x2="0" y2="1"><stop offset="0.000" stop-color="#000097"/><stop offset="0.013" stop-color="#0000b2"/><stop offset="0.064" stop-color="#0000b4"/><stop offset="0.135" stop-color="#0000b6"/><stop offset="0.221" stop-color="#0000ba"/><stop offset="0.306" stop-color="#0000be"/><stop offset="0.391" stop-color="#0000c3"/><stop offset="0.477" stop-color="#0000ca"/><stop offset="0.548" stop-color="#0000d0"/><stop offset="0.605" stop-color="#0000d6"/><stop offset="0.662" stop-color="#0000de"/><stop offset="0.704" stop-color="#0000e4"/><stop offset="0.733" stop-color="#0000e9"/><stop offset="0.756" stop-color="#0000d9"/><stop offset="0.775" stop-color="#0000e8"/><stop offset="0.795" stop-color="#0001ff"/><stop offset="0.815" stop-color="#0014ff"/><stop offset="0.835" stop-color="#001bff"/><stop offset="0.855" stop-color="#001eff"/><stop offset="0.875" stop-color="#001eff"/><stop offset="0.895" stop-color="#0019ff"/><stop offset="0.915" stop-color="#0009ff"/><stop offset="0.935" stop-color="#0000ea"/><stop offset="0.955" stop-color="#0000cb"/><stop offset="0.972" stop-color="#0000bd"/><stop offset="0.989" stop-color="#0000b9"/><stop offset="1.000" stop-color="#0000b9"/></linearGradient><linearGradient id="c98" x1="0" y1="0" x2="0" y2="1"><stop offset="0.000" stop-color="#00009d"/><stop offset="0.013" stop-color="#0000b9"/><stop offset="0.064" stop-color="#0000bd"/><stop offset="0.135" stop-color="#0000c4"/><stop offset="0.221" stop-color="#0000ce"/><stop offset="0.306" stop-color="#0000d9"/><stop offset="0.391" stop-color="#0000e5"/><stop offset="0.477" stop-color="#0000f4"/><stop offset="0.548" stop-color="#0003ff"/><stop offset="0.605" stop-color="#000fff"/><stop offset="0.662" stop-color="#001cff"/><stop offset="0.704" stop-color="#0027ff"/><stop offset="0.733" stop-color="#002fff"/><stop offset="0.756" stop-color="#0000ff"/><stop offset="0.775" stop-color="#0016ff"/><stop offset="0.795" stop-color="#0025ff"/><stop offset="0.815" stop-color="#0041ff"/><stop offset="0.835" stop-color="#004aff"/><stop offset="0.855" stop-color="#004cff"/><stop offset="0.875" stop-color="#004bff"/><stop offset="0.895" stop-color="#0046ff"/><stop offset="0.915" stop-color="#0030ff"/><stop offset="0.935" stop-color="#0004ff"/><stop offset="0.955" stop-color="#0000d4"/><stop offset="0.972" stop-color="#0000bf"/><stop offset="0.989" stop-color="#0000b9"/><stop offset="1.000" stop-color="#0000b9"/></linearGradient><linearGradient id="c99" x1="0" y1="0" x2="0" y2="1"><stop offset="0.000" stop-color="#000097"/><stop offset="0.013" stop-color="#0000b2"/><stop offset="0.064" stop-color="#0000b4"/><stop offset="0.135" stop-color="#0000b6"/><stop offset="0.221" stop-color="#0000ba"/><stop offset="0.306" stop-color="#0000bf"/><stop offset="0.391" stop-color="#0000c4"/><stop offset="0.477" stop-color="#0000cb"/><stop offset="0.548" stop-color="#0000d2"/><stop offset="0.605" stop-color="#0000d9"/><stop offset="0.662" stop-color="#0000e1"/><stop offset="0.704" stop-color="#0000e8"/><stop offset="0.733" stop-color="#0000ed"/><stop offset="0.756" stop-color="#0000dd"/><stop offset="0.775" stop-color="#0000f0"/><stop offset="0.795" stop-color="#0015ff"/><stop offset="0.815" stop-color="#002dff"/><stop offset="0.835" stop-color="#0034ff"/><stop offset="0.855" stop-color="#0035ff"/><stop offset="0.875" stop-color="#0034ff"/><stop offset="0.895" stop-color="#0030ff"/><stop offset="0.915" stop-color="#001eff"/><stop offset="0.935" stop-color="#0000f8"/><stop offset="0.955" stop-color="#0000d0"/><stop offset="0.972" stop-color="#0000be"/><stop offset="0.989" stop-color="#0000b9"/><stop offset="1.000" stop-color="#0000b9"/></linearGradient></defs>
<g shape-rendering="crispEdges"><rect x="263.60" y="194.8" width="1.30" height="112.80" fill="url(#c0)"/><rect x="264.60" y="194.8" width="1.30" height="112.80" fill="url(#c1)"/><rect x="265.60" y="194.8" width="1.30" height="112.80" fill="url(#c2)"/><rect x="266.61" y="194.8" width="1.30" height="112.80" fill="url(#c3)"/><rect x="267.61" y="194.8" width="1.30" height="112.80" fill="url(#c4)"/><rect x="268.61" y="194.8" width="1.30" height="112.80" fill="url(#c5)"/><rect x="269.61" y="194.8" width="1.30" height="112.80" fill="url(#c6)"/><rect x="270.61" y="194.8" width="1.30" height="112.80" fill="url(#c7)"/><rect x="271.62" y="194.8" width="1.30" height="112.80" fill="url(#c8)"/><rect x="272.62" y="194.8" width="1.30" height="112.80" fill="url(#c9)"/><rect x="273.62" y="194.8" width="1.30" height="112.80" fill="url(#c10)"/><rect x="274.62" y="194.8" width="1.30" height="112.80" fill="url(#c11)"/><rect x="275.62" y="194.8" width="1.30" height="112.80" fill="url(#c12)"/><rect x="276.63" y="194.8" width="1.30" height="112.80" fill="url(#c13)"/><rect x="277.63" y="194.8" width="1.30" height="112.80" fill="url(#c14)"/><rect x="278.63" y="194.8" width="1.30" height="112.80" fill="url(#c15)"/><rect x="279.63" y="194.8" width="1.30" height="112.80" fill="url(#c16)"/><rect x="280.63" y="194.8" width="1.30" height="112.80" fill="url(#c17)"/><rect x="281.64" y="194.8" width="1.30" height="112.80" fill="url(#c18)"/><rect x="282.64" y="194.8" width="1.30" height="112.80" fill="url(#c19)"/><rect x="283.64" y="194.8" width="1.30" height="112.80" fill="url(#c20)"/><rect x="284.64" y="194.8" width="1.30" height="112.80" fill="url(#c21)"/><rect x="285.64" y="194.8" width="1.30" height="112.80" fill="url(#c22)"/><rect x="286.65" y="194.8" width="1.30" height="112.80" fill="url(#c23)"/><rect x="287.65" y="194.8" width="1.30" height="112.80" fill="url(#c24)"/><rect x="288.65" y="194.8" width="1.30" height="112.80" fill="url(#c25)"/><rect x="289.65" y="194.8" width="1.30" height="112.80" fill="url(#c26)"/><rect x="290.65" y="194.8" width="1.30" height="112.80" fill="url(#c27)"/><rect x="291.66" y="194.8" width="1.30" height="112.80" fill="url(#c28)"/><rect x="292.66" y="194.8" width="1.30" height="112.80" fill="url(#c29)"/><rect x="293.66" y="194.8" width="1.30" height="112.80" fill="url(#c30)"/><rect x="294.66" y="194.8" width="1.30" height="112.80" fill="url(#c31)"/><rect x="295.66" y="194.8" width="1.30" height="112.80" fill="url(#c32)"/><rect x="296.67" y="194.8" width="1.30" height="112.80" fill="url(#c33)"/><rect x="297.67" y="194.8" width="1.30" height="112.80" fill="url(#c34)"/><rect x="298.67" y="194.8" width="1.30" height="112.80" fill="url(#c35)"/><rect x="299.67" y="194.8" width="1.30" height="112.80" fill="url(#c36)"/><rect x="300.67" y="194.8" width="1.30" height="112.80" fill="url(#c37)"/><rect x="301.68" y="194.8" width="1.30" height="112.80" fill="url(#c38)"/><rect x="302.68" y="194.8" width="1.30" height="112.80" fill="url(#c39)"/><rect x="303.68" y="194.8" width="1.30" height="112.80" fill="url(#c40)"/><rect x="304.68" y="194.8" width="1.30" height="112.80" fill="url(#c41)"/><rect x="305.68" y="194.8" width="1.30" height="112.80" fill="url(#c42)"/><rect x="306.69" y="194.8" width="1.30" height="112.80" fill="url(#c43)"/><rect x="307.69" y="194.8" width="1.30" height="112.80" fill="url(#c44)"/><rect x="308.69" y="194.8" width="1.30" height="112.80" fill="url(#c45)"/><rect x="309.69" y="194.8" width="1.30" height="112.80" fill="url(#c46)"/><rect x="310.69" y="194.8" width="1.30" height="112.80" fill="url(#c47)"/><rect x="311.70" y="194.8" width="1.30" height="112.80" fill="url(#c48)"/><rect x="312.70" y="194.8" width="1.30" height="112.80" fill="url(#c49)"/><rect x="313.70" y="194.8" width="1.30" height="112.80" fill="url(#c50)"/><rect x="314.70" y="194.8" width="1.30" height="112.80" fill="url(#c51)"/><rect x="315.70" y="194.8" width="1.30" height="112.80" fill="url(#c52)"/><rect x="316.71" y="194.8" width="1.30" height="112.80" fill="url(#c53)"/><rect x="317.71" y="194.8" width="1.30" height="112.80" fill="url(#c54)"/><rect x="318.71" y="194.8" width="1.30" height="112.80" fill="url(#c55)"/><rect x="319.71" y="194.8" width="1.30" height="112.80" fill="url(#c56)"/><rect x="320.71" y="194.8" width="1.30" height="112.80" fill="url(#c57)"/><rect x="321.72" y="194.8" width="1.30" height="112.80" fill="url(#c58)"/><rect x="322.72" y="194.8" width="1.30" height="112.80" fill="url(#c59)"/><rect x="323.72" y="194.8" width="1.30" height="112.80" fill="url(#c60)"/><rect x="324.72" y="194.8" width="1.30" height="112.80" fill="url(#c61)"/><rect x="325.72" y="194.8" width="1.30" height="112.80" fill="url(#c62)"/><rect x="326.73" y="194.8" width="1.30" height="112.80" fill="url(#c63)"/><rect x="327.73" y="194.8" width="1.30" height="112.80" fill="url(#c64)"/><rect x="328.73" y="194.8" width="1.30" height="112.80" fill="url(#c65)"/><rect x="329.73" y="194.8" width="1.30" height="112.80" fill="url(#c66)"/><rect x="330.73" y="194.8" width="1.30" height="112.80" fill="url(#c67)"/><rect x="331.74" y="194.8" width="1.30" height="112.80" fill="url(#c68)"/><rect x="332.74" y="194.8" width="1.30" height="112.80" fill="url(#c69)"/><rect x="333.74" y="194.8" width="1.30" height="112.80" fill="url(#c70)"/><rect x="334.74" y="194.8" width="1.30" height="112.80" fill="url(#c71)"/><rect x="335.74" y="194.8" width="1.30" height="112.80" fill="url(#c72)"/><rect x="336.75" y="194.8" width="1.30" height="112.80" fill="url(#c73)"/><rect x="337.75" y="194.8" width="1.30" height="112.80" fill="url(#c74)"/><rect x="338.75" y="194.8" width="1.30" height="112.80" fill="url(#c75)"/><rect x="339.75" y="194.8" width="1.30" height="112.80" fill="url(#c76)"/><rect x="340.75" y="194.8" width="1.30" height="112.80" fill="url(#c77)"/><rect x="341.76" y="194.8" width="1.30" height="112.80" fill="url(#c78)"/><rect x="342.76" y="194.8" width="1.30" height="112.80" fill="url(#c79)"/><rect x="343.76" y="194.8" width="1.30" height="112.80" fill="url(#c80)"/><rect x="344.76" y="194.8" width="1.30" height="112.80" fill="url(#c81)"/><rect x="345.76" y="194.8" width="1.30" height="112.80" fill="url(#c82)"/><rect x="346.77" y="194.8" width="1.30" height="112.80" fill="url(#c83)"/><rect x="347.77" y="194.8" width="1.30" height="112.80" fill="url(#c84)"/><rect x="348.77" y="194.8" width="1.30" height="112.80" fill="url(#c85)"/><rect x="349.77" y="194.8" width="1.30" height="112.80" fill="url(#c86)"/><rect x="350.77" y="194.8" width="1.30" height="112.80" fill="url(#c87)"/><rect x="351.78" y="194.8" width="1.30" height="112.80" fill="url(#c88)"/><rect x="352.78" y="194.8" width="1.30" height="112.80" fill="url(#c89)"/><rect x="353.78" y="194.8" width="1.30" height="112.80" fill="url(#c90)"/><rect x="354.78" y="194.8" width="1.30" height="112.80" fill="url(#c91)"/><rect x="355.78" y="194.8" width="1.30" height="112.80" fill="url(#c92)"/><rect x="356.79" y="194.8" width="1.30" height="112.80" fill="url(#c93)"/><rect x="357.79" y="194.8" width="1.30" height="112.80" fill="url(#c94)"/><rect x="358.79" y="194.8" width="1.30" height="112.80" fill="url(#c95)"/><rect x="359.79" y="194.8" width="1.30" height="112.80" fill="url(#c96)"/><rect x="360.79" y="194.8" width="1.30" height="112.80" fill="url(#c97)"/><rect x="361.80" y="194.8" width="1.30" height="112.80" fill="url(#c98)"/><rect x="362.80" y="194.8" width="1.30" height="112.80" fill="url(#c99)"/></g>
<defs><linearGradient id="d0" x1="0" y1="0" x2="0" y2="1"><stop offset="0.000" stop-color="#00009b"/><stop offset="0.013" stop-color="#0000b6"/><stop offset="0.064" stop-color="#0000ba"/><stop offset="0.135" stop-color="#0000bf"/><stop offset="0.221" stop-color="#0000c7"/><stop offset="0.306" stop-color="#0000d0"/><stop offset="0.391" stop-color="#0000da"/><stop offset="0.477" stop-color="#0000e6"/><stop offset="0.548" stop-color="#0000f2"/><stop offset="0.605" stop-color="#0000fd"/><stop offset="0.662" stop-color="#0009ff"/><stop offset="0.704" stop-color="#0013ff"/><stop offset="0.733" stop-color="#001aff"/><stop offset="0.756" stop-color="#0000f6"/><stop offset="0.775" stop-color="#0011ff"/><stop offset="0.795" stop-color="#0037ff"/><stop offset="0.815" stop-color="#0059ff"/><stop offset="0.835" stop-color="#0065ff"/><stop offset="0.855" stop-color="#006aff"/><stop offset="0.875" stop-color="#006fff"/><stop offset="0.895" stop-color="#006eff"/><stop offset="0.915" stop-color="#0057ff"/><stop offset="0.935" stop-color="#0020ff"/><stop offset="0.955" stop-color="#0000e2"/><stop offset="0.972" stop-color="#0000c4"/><stop offset="0.989" stop-color="#0000bb"/><stop offset="1.000" stop-color="#0000b9"/></linearGradient><linearGradient id="d1" x1="0" y1="0" x2="0" y2="1"><stop offset="0.000" stop-color="#000099"/><stop offset="0.013" stop-color="#0000b4"/><stop offset="0.064" stop-color="#0000b7"/><stop offset="0.135" stop-color="#0000bb"/><stop offset="0.221" stop-color="#0000c0"/><stop offset="0.306" stop-color="#0000c7"/><stop offset="0.391" stop-color="#0000d0"/><stop offset="0.477" stop-color="#0000da"/><stop offset="0.548" stop-color="#0000e5"/><stop offset="0.605" stop-color="#0000ee"/><stop offset="0.662" stop-color="#0000f9"/><stop offset="0.704" stop-color="#0004ff"/><stop offset="0.733" stop-color="#000bff"/><stop offset="0.756" stop-color="#0000f0"/><stop offset="0.775" stop-color="#000bff"/><stop offset="0.795" stop-color="#0037ff"/><stop offset="0.815" stop-color="#005bff"/><stop offset="0.835" stop-color="#006cff"/><stop offset="0.855" stop-color="#0077ff"/><stop offset="0.875" stop-color="#0083ff"/><stop offset="0.895" stop-color="#008aff"/><stop offset="0.915" stop-color="#0075ff"/><stop offset="0.935" stop-color="#0038ff"/><stop offset="0.955" stop-color="#0000f1"/><stop offset="0.972" stop-color="#0000cb"/><stop offset="0.989" stop-color="#0000be"/><stop offset="1.000" stop-color="#0000bb"/></linearGradient><linearGradient id="d2" x1="0" y1="0" x2="0" y2="1"><stop offset="0.000" stop-color="#000099"/><stop offset="0.013" stop-color="#0000b4"/><stop offset="0.064" stop-color="#0000b7"/><stop offset="0.135" stop-color="#0000bb"/><stop offset="0.221" stop-color="#0000c1"/><stop offset="0.306" stop-color="#0000c8"/><stop offset="0.391" stop-color="#0000d1"/><stop offset="0.477" stop-color="#0000db"/><stop offset="0.548" stop-color="#0000e5"/><stop offset="0.605" stop-color="#0000ee"/><stop offset="0.662" stop-color="#0000f8"/><stop offset="0.704" stop-color="#0003ff"/><stop offset="0.733" stop-color="#000aff"/><stop offset="0.756" stop-color="#0000f1"/><stop offset="0.775" stop-color="#000fff"/><stop offset="0.795" stop-color="#0040ff"/><stop offset="0.815" stop-color="#006bff"/><stop offset="0.835" stop-color="#0085ff"/><stop offset="0.855" stop-color="#0099ff"/><stop offset="0.875" stop-color="#00adff"/><stop offset="0.895" stop-color="#00b8ff"/><stop offset="0.915" stop-color="#00a0ff"/><stop offset="0.935" stop-color="#0059ff"/><stop offset="0.955" stop-color="#0004ff"/><stop offset="0.972" stop-color="#0000d4"/><stop offset="0.989" stop-color="#0000c1"/><stop offset="1.000" stop-color="#0000bc"/></linearGradient><linearGradient id="d3" x1="0" y1="0" x2="0" y2="1"><stop offset="0.000" stop-color="#000098"/><stop offset="0.013" stop-color="#0000b3"/><stop offset="0.064" stop-color="#0000b4"/><stop offset="0.135" stop-color="#0000b7"/><stop offset="0.221" stop-color="#0000bb"/><stop offset="0.306" stop-color="#0000c1"/><stop offset="0.391" stop-color="#0000c7"/><stop offset="0.477" stop-color="#0000ce"/><stop offset="0.548" stop-color="#0000d6"/><stop offset="0.605" stop-color="#0000dd"/><stop offset="0.662" stop-color="#0000e5"/><stop offset="0.704" stop-color="#0000ec"/><stop offset="0.733" stop-color="#0000f3"/><stop offset="0.756" stop-color="#0000e7"/><stop offset="0.775" stop-color="#0006ff"/><stop offset="0.795" stop-color="#0042ff"/><stop offset="0.815" stop-color="#0077ff"/><stop offset="0.835" stop-color="#00a0ff"/><stop offset="0.855" stop-color="#00c2ff"/><stop offset="0.875" stop-color="#00d6ff"/><stop offset="0.895" stop-color="#00d5ff"/><stop offset="0.915" stop-color="#00b0ff"/><stop offset="0.935" stop-color="#0062ff"/><stop offset="0.955" stop-color="#0009ff"/><stop offset="0.972" stop-color="#0000d7"/><stop offset="0.989" stop-color="#0000c2"/><stop offset="1.000" stop-color="#0000bd"/></linearGradient><linearGradient id="d4" x1="0" y1="0" x2="0" y2="1"><stop offset="0.000" stop-color="#000097"/><stop offset="0.013" stop-color="#0000b2"/><stop offset="0.064" stop-color="#0000b3"/><stop offset="0.135" stop-color="#0000b6"/><stop offset="0.221" stop-color="#0000b9"/><stop offset="0.306" stop-color="#0000bd"/><stop offset="0.391" stop-color="#0000c2"/><stop offset="0.477" stop-color="#0000c8"/><stop offset="0.548" stop-color="#0000cd"/><stop offset="0.605" stop-color="#0000d2"/><stop offset="0.662" stop-color="#0000d8"/><stop offset="0.704" stop-color="#0000dd"/><stop offset="0.733" stop-color="#0000e4"/><stop offset="0.756" stop-color="#0000e0"/><stop offset="0.775" stop-color="#0003ff"/><stop offset="0.795" stop-color="#004cff"/><stop offset="0.815" stop-color="#0093ff"/><stop offset="0.835" stop-color="#00e0ff"/><stop offset="0.855" stop-color="#21ffde"/><stop offset="0.875" stop-color="#2affd5"/><stop offset="0.895" stop-color="#00f9ff"/><stop offset="0.915" stop-color="#00aeff"/><stop offset="0.935" stop-color="#0054ff"/><stop offset="0.955" stop-color="#0000ff"/><stop offset="0.972" stop-color="#0000d3"/><stop offset="0.989" stop-color="#0000c1"/><stop offset="1.000" stop-color="#0000bc"/></linearGradient><linearGradient id="d5" x1="0" y1="0" x2="0" y2="1"><stop offset="0.000" stop-color="#000099"/><stop offset="0.013" stop-color="#0000b5"/><stop offset="0.064" stop-color="#0000b7"/><stop offset="0.135" stop-color="#0000bc"/><stop offset="0.221" stop-color="#0000c3"/><stop offset="0.306" stop-color="#0000cb"/><stop offset="0.391" stop-color="#0000d6"/><stop offset="0.477" stop-color="#0000e4"/><stop offset="0.548" stop-color="#0000f2"/><stop offset="0.605" stop-color="#0001ff"/><stop offset="0.662" stop-color="#0013ff"/><stop offset="0.704" stop-color="#0023ff"/><stop offset="0.733" stop-color="#0031ff"/><stop offset="0.756" stop-color="#0010ff"/><stop offset="0.775" stop-color="#003fff"/><stop offset="0.795" stop-color="#0083ff"/><stop offset="0.815" stop-color="#00edff"/><stop offset="0.835" stop-color="#6eff91"/><stop offset="0.855" stop-color="#dbff24"/><stop offset="0.875" stop-color="#d4ff2b"/><stop offset="0.895" stop-color="#62ff9d"/><stop offset="0.915" stop-color="#00dbff"/><stop offset="0.935" stop-color="#0061ff"/><stop offset="0.955" stop-color="#0000fe"/><stop offset="0.972" stop-color="#0000d0"/><stop offset="0.989" stop-color="#0000bf"/><stop offset="1.000" stop-color="#0000bb"/></linearGradient><linearGradient id="d6" x1="0" y1="0" x2="0" y2="1"><stop offset="0.000" stop-color="#0000a2"/><stop offset="0.013" stop-color="#0000bf"/><stop offset="0.064" stop-color="#0000c6"/><stop offset="0.135" stop-color="#0000d2"/><stop offset="0.221" stop-color="#0000e1"/><stop offset="0.306" stop-color="#0000f3"/><stop offset="0.391" stop-color="#0008ff"/><stop offset="0.477" stop-color="#0020ff"/><stop offset="0.548" stop-color="#0038ff"/><stop offset="0.605" stop-color="#004dff"/><stop offset="0.662" stop-color="#0064ff"/><stop offset="0.704" stop-color="#0078ff"/><stop offset="0.733" stop-color="#0089ff"/><stop offset="0.756" stop-color="#0040ff"/><stop offset="0.775" stop-color="#0076ff"/><stop offset="0.795" stop-color="#00acff"/><stop offset="0.815" stop-color="#26ffd9"/><stop offset="0.835" stop-color="#b2ff4d"/><stop offset="0.855" stop-color="#ffd700"/><stop offset="0.875" stop-color="#ffe400"/><stop offset="0.895" stop-color="#94ff6b"/><stop offset="0.915" stop-color="#00f8ff"/><stop offset="0.935" stop-color="#006dff"/><stop offset="0.955" stop-color="#0000ff"/><stop offset="0.972" stop-color="#0000cd"/><stop offset="0.989" stop-color="#0000be"/><stop offset="1.000" stop-color="#0000bb"/></linearGradient><linearGradient id="d7" x1="0" y1="0" x2="0" y2="1"><stop offset="0.000" stop-color="#000099"/><stop offset="0.013" stop-color="#0000b4"/><stop offset="0.064" stop-color="#0000b6"/><stop offset="0.135" stop-color="#0000ba"/><stop offset="0.221" stop-color="#0000c0"/><stop offset="0.306" stop-color="#0000c8"/><stop offset="0.391" stop-color="#0000d2"/><stop offset="0.477" stop-color="#0000de"/><stop offset="0.548" stop-color="#0000eb"/><stop offset="0.605" stop-color="#0000f8"/><stop offset="0.662" stop-color="#000aff"/><stop offset="0.704" stop-color="#001aff"/><stop offset="0.733" stop-color="#0029ff"/><stop offset="0.756" stop-color="#000aff"/><stop offset="0.775" stop-color="#0036ff"/><stop offset="0.795" stop-color="#0074ff"/><stop offset="0.815" stop-color="#00cbff"/><stop offset="0.835" stop-color="#2affd5"/><stop offset="0.855" stop-color="#73ff8c"/><stop offset="0.875" stop-color="#69ff96"/><stop offset="0.895" stop-color="#11ffee"/><stop offset="0.915" stop-color="#00a5ff"/><stop offset="0.935" stop-color="#0040ff"/><stop offset="0.955" stop-color="#0000ed"/><stop offset="0.972" stop-color="#0000c8"/><stop offset="0.989" stop-color="#0000bc"/><stop offset="1.000" stop-color="#0000ba"/></linearGradient><linearGradient id="d8" x1="0" y1="0" x2="0" y2="1"><stop offset="0.000" stop-color="#00009c"/><stop offset="0.013" stop-color="#0000b7"/><stop offset="0.064" stop-color="#0000bb"/><stop offset="0.135" stop-color="#0000c2"/><stop offset="0.221" stop-color="#0000ca"/><stop offset="0.306" stop-color="#0000d4"/><stop offset="0.391" stop-color="#0000df"/><stop offset="0.477" stop-color="#0000ec"/><stop offset="0.548" stop-color="#0000f8"/><stop offset="0.605" stop-color="#0005ff"/><stop offset="0.662" stop-color="#0012ff"/><stop offset="0.704" stop-color="#001eff"/><stop offset="0.733" stop-color="#0028ff"/><stop offset="0.756" stop-color="#0005ff"/><stop offset="0.775" stop-color="#0029ff"/><stop offset="0.795" stop-color="#005cff"/><stop offset="0.815" stop-color="#0099ff"/><stop offset="0.835" stop-color="#00c8ff"/><stop offset="0.855" stop-color="#00e5ff"/><stop offset="0.875" stop-color="#00e0ff"/><stop offset="0.895" stop-color="#00b8ff"/><stop offset="0.915" stop-color="#007aff"/><stop offset="0.935" stop-color="#002dff"/><stop offset="0.955" stop-color="#0000e5"/><stop offset="0.972" stop-color="#0000c5"/><stop offset="0.989" stop-color="#0000bb"/><stop offset="1.000" stop-color="#0000ba"/></linearGradient><linearGradient id="d9" x1="0" y1="0" x2="0" y2="1"><stop offset="0.000" stop-color="#000098"/><stop offset="0.013" stop-color="#0000b3"/><stop offset="0.064" stop-color="#0000b5"/><stop offset="0.135" stop-color="#0000b8"/><stop offset="0.221" stop-color="#0000bc"/><stop offset="0.306" stop-color="#0000c2"/><stop offset="0.391" stop-color="#0000c8"/><stop offset="0.477" stop-color="#0000d0"/><stop offset="0.548" stop-color="#0000d8"/><stop offset="0.605" stop-color="#0000df"/><stop offset="0.662" stop-color="#0000e8"/><stop offset="0.704" stop-color="#0000f0"/><stop offset="0.733" stop-color="#0000f7"/><stop offset="0.756" stop-color="#0000e6"/><stop offset="0.775" stop-color="#0001ff"/><stop offset="0.795" stop-color="#0032ff"/><stop offset="0.815" stop-color="#0059ff"/><stop offset="0.835" stop-color="#006fff"/><stop offset="0.855" stop-color="#0079ff"/><stop offset="0.875" stop-color="#0077ff"/><stop offset="0.895" stop-color="#0066ff"/><stop offset="0.915" stop-color="#0043ff"/><stop offset="0.935" stop-color="#000eff"/><stop offset="0.955" stop-color="#0000d9"/><stop offset="0.972" stop-color="#0000c1"/><stop offset="0.989" stop-color="#0000ba"/><stop offset="1.000" stop-color="#0000b9"/></linearGradient><linearGradient id="d10" x1="0" y1="0" x2="0" y2="1"><stop offset="0.000" stop-color="#000099"/><stop offset="0.013" stop-color="#0000b4"/><stop offset="0.064" stop-color="#0000b7"/><stop offset="0.135" stop-color="#0000ba"/><stop offset="0.221" stop-color="#0000c0"/><stop offset="0.306" stop-color="#0000c6"/><stop offset="0.391" stop-color="#0000cd"/><stop offset="0.477" stop-color="#0000d6"/><stop offset="0.548" stop-color="#0000de"/><stop offset="0.605" stop-color="#0000e5"/><stop offset="0.662" stop-color="#0000ed"/><stop offset="0.704" stop-color="#0000f3"/><stop offset="0.733" stop-color="#0000f8"/><stop offset="0.756" stop-color="#0000e3"/><stop offset="0.775" stop-color="#0000f8"/><stop offset="0.795" stop-color="#001dff"/><stop offset="0.815" stop-color="#003bff"/><stop offset="0.835" stop-color="#0047ff"/><stop offset="0.855" stop-color="#004cff"/><stop offset="0.875" stop-color="#004aff"/><stop offset="0.895" stop-color="#0041ff"/><stop offset="0.915" stop-color="#0029ff"/><stop offset="0.935" stop-color="#0000fe"/><stop offset="0.955" stop-color="#0000d3"/><stop offset="0.972" stop-color="#0000bf"/><stop offset="0.989" stop-color="#0000ba"/><stop offset="1.000" stop-color="#0000b9"/></linearGradient><linearGradient id="d11" x1="0" y1="0" x2="0" y2="1"><stop offset="0.000" stop-color="#000097"/><stop offset="0.013" stop-color="#0000b2"/><stop offset="0.064" stop-color="#0000b4"/><stop offset="0.135" stop-color="#0000b6"/><stop offset="0.221" stop-color="#0000ba"/><stop offset="0.306" stop-color="#0000bf"/><stop offset="0.391" stop-color="#0000c4"/><stop offset="0.477" stop-color="#0000cb"/><stop offset="0.548" stop-color="#0000d1"/><stop offset="0.605" stop-color="#0000d8"/><stop offset="0.662" stop-color="#0000df"/><stop offset="0.704" stop-color="#0000e5"/><stop offset="0.733" stop-color="#0000ea"/><stop offset="0.756" stop-color="#0000d9"/><stop offset="0.775" stop-color="#0000e9"/><stop offset="0.795" stop-color="#0002ff"/><stop offset="0.815" stop-color="#0016ff"/><stop offset="0.835" stop-color="#001eff"/><stop offset="0.855" stop-color="#0020ff"/><stop offset="0.875" stop-color="#001fff"/><stop offset="0.895" stop-color="#001aff"/><stop offset="0.915" stop-color="#000aff"/><stop offset="0.935" stop-color="#0000eb"/><stop offset="0.955" stop-color="#0000cc"/><stop offset="0.972" stop-color="#0000bd"/><stop offset="0.989" stop-color="#0000b9"/><stop offset="1.000" stop-color="#0000b9"/></linearGradient><linearGradient id="d12" x1="0" y1="0" x2="0" y2="1"><stop offset="0.000" stop-color="#000098"/><stop offset="0.013" stop-color="#0000b3"/><stop offset="0.064" stop-color="#0000b5"/><stop offset="0.135" stop-color="#0000b9"/><stop offset="0.221" stop-color="#0000bd"/><stop offset="0.306" stop-color="#0000c3"/><stop offset="0.391" stop-color="#0000ca"/><stop offset="0.477" stop-color="#0000d1"/><stop offset="0.548" stop-color="#0000d8"/><stop offset="0.605" stop-color="#0000df"/><stop offset="0.662" stop-color="#0000e6"/><stop offset="0.704" stop-color="#0000ec"/><stop offset="0.733" stop-color="#0000f0"/><stop offset="0.756" stop-color="#0000da"/><stop offset="0.775" stop-color="#0000e5"/><stop offset="0.795" stop-color="#0000ea"/><stop offset="0.815" stop-color="#0000f7"/><stop offset="0.835" stop-color="#0000fb"/><stop offset="0.855" stop-color="#0000fc"/><stop offset="0.875" stop-color="#0000fc"/><stop offset="0.895" stop-color="#0000f9"/><stop offset="0.915" stop-color="#0000ef"/><stop offset="0.935" stop-color="#0000db"/><stop offset="0.955" stop-color="#0000c5"/><stop offset="0.972" stop-color="#0000bc"/><stop offset="0.989" stop-color="#0000b9"/><stop offset="1.000" stop-color="#0000b9"/></linearGradient><linearGradient id="d13" x1="0" y1="0" x2="0" y2="1"><stop offset="0.000" stop-color="#000098"/><stop offset="0.013" stop-color="#0000b3"/><stop offset="0.064" stop-color="#0000b5"/><stop offset="0.135" stop-color="#0000b9"/><stop offset="0.221" stop-color="#0000bd"/><stop offset="0.306" stop-color="#0000c3"/><stop offset="0.391" stop-color="#0000c9"/><stop offset="0.477" stop-color="#0000d1"/><stop offset="0.548" stop-color="#0000d9"/><stop offset="0.605" stop-color="#0000df"/><stop offset="0.662" stop-color="#0000e7"/><stop offset="0.704" stop-color="#0000ed"/><stop offset="0.733" stop-color="#0000f2"/><stop offset="0.756" stop-color="#0000da"/><stop offset="0.775" stop-color="#0000e1"/><stop offset="0.795" stop-color="#0000d7"/><stop offset="0.815" stop-color="#0000df"/><stop offset="0.835" stop-color="#0000e1"/><stop offset="0.855" stop-color="#0000e2"/><stop offset="0.875" stop-color="#0000e1"/><stop offset="0.895" stop-color="#0000e0"/><stop offset="0.915" stop-color="#0000da"/><stop offset="0.935" stop-color="#0000ce"/><stop offset="0.955" stop-color="#0000c0"/><stop offset="0.972" stop-color="#0000ba"/><stop offset="0.989" stop-color="#0000b9"/><stop offset="1.000" stop-color="#0000b9"/></linearGradient><linearGradient id="d14" x1="0" y1="0" x2="0" y2="1"><stop offset="0.000" stop-color="#000098"/><stop offset="0.013" stop-color="#0000b3"/><stop offset="0.064" stop-color="#0000b6"/><stop offset="0.135" stop-color="#0000b9"/><stop offset="0.221" stop-color="#0000be"/><stop offset="0.306" stop-color="#0000c4"/><stop offset="0.391" stop-color="#0000cb"/><stop offset="0.477" stop-color="#0000d3"/><stop offset="0.548" stop-color="#0000db"/><stop offset="0.605" stop-color="#0000e3"/><stop offset="0.662" stop-color="#0000eb"/><stop offset="0.704" stop-color="#0000f2"/><stop offset="0.733" stop-color="#0000f7"/><stop offset="0.756" stop-color="#0000dc"/><stop offset="0.775" stop-color="#0000e2"/><stop offset="0.795" stop-color="#0000d4"/><stop offset="0.815" stop-color="#0000db"/><stop offset="0.835" stop-color="#0000dd"/><stop offset="0.855" stop-color="#0000dd"/><stop offset="0.875" stop-color="#0000dd"/><stop offset="0.895" stop-color="#0000dc"/><stop offset="0.915" stop-color="#0000d7"/><stop offset="0.935" stop-color="#0000cc"/><stop offset="0.955" stop-color="#0000c0"/><stop offset="0.972" stop-color="#0000ba"/><stop offset="0.989" stop-color="#0000b9"/><stop offset="1.000" stop-color="#0000b9"/></linearGradient><linearGradient id="d15" x1="0" y1="0" x2="0" y2="1"><stop offset="0.000" stop-color="#000098"/><stop offset="0.013" stop-color="#0000b3"/><stop offset="0.064" stop-color="#0000b5"/><stop offset="0.135" stop-color="#0000b8"/><stop offset="0.221" stop-color="#0000bd"/><stop offset="0.306" stop-color="#0000c2"/><stop offset="0.391" stop-color="#0000c9"/><stop offset="0.477" stop-color="#0000d0"/><stop offset="0.548" stop-color="#0000d7"/><stop offset="0.605" stop-color="#0000de"/><stop offset="0.662" stop-color="#0000e6"/><stop offset="0.704" stop-color="#0000ec"/><stop offset="0.733" stop-color="#0000f0"/><stop offset="0.756" stop-color="#0000da"/><stop offset="0.775" stop-color="#0000e3"/><stop offset="0.795" stop-color="#0000e2"/><stop offset="0.815" stop-color="#0000ec"/><stop offset="0.835" stop-color="#0000ef"/><stop offset="0.855" stop-color="#0000ef"/><stop offset="0.875" stop-color="#0000ef"/><stop offset="0.895" stop-color="#0000ed"/><stop offset="0.915" stop-color="#0000e6"/><stop offset="0.935" stop-color="#0000d5"/><stop offset="0.955" stop-color="#0000c3"/><stop offset="0.972" stop-color="#0000bb"/><stop offset="0.989" stop-color="#0000b9"/><stop offset="1.000" stop-color="#0000b9"/></linearGradient><linearGradient id="d16" x1="0" y1="0" x2="0" y2="1"><stop offset="0.000" stop-color="#000098"/><stop offset="0.013" stop-color="#0000b2"/><stop offset="0.064" stop-color="#0000b4"/><stop offset="0.135" stop-color="#0000b7"/><stop offset="0.221" stop-color="#0000bb"/><stop offset="0.306" stop-color="#0000c1"/><stop offset="0.391" stop-color="#0000c7"/><stop offset="0.477" stop-color="#0000cf"/><stop offset="0.548" stop-color="#0000d8"/><stop offset="0.605" stop-color="#0000e0"/><stop offset="0.662" stop-color="#0000ea"/><stop offset="0.704" stop-color="#0000f3"/><stop offset="0.733" stop-color="#0000f9"/><stop offset="0.756" stop-color="#0000e2"/><stop offset="0.775" stop-color="#0000f1"/><stop offset="0.795" stop-color="#0000fc"/><stop offset="0.815" stop-color="#000fff"/><stop offset="0.835" stop-color="#0014ff"/><stop offset="0.855" stop-color="#0014ff"/><stop offset="0.875" stop-color="#0014ff"/><stop offset="0.895" stop-color="#0011ff"/><stop offset="0.915" stop-color="#0004ff"/><stop offset="0.935" stop-color="#0000e8"/><stop offset="0.955" stop-color="#0000ca"/><stop offset="0.972" stop-color="#0000bc"/><stop offset="0.989" stop-color="#0000b9"/><stop offset="1.000" stop-color="#0000b9"/></linearGradient><linearGradient id="d17" x1="0" y1="0" x2="0" y2="1"><stop offset="0.000" stop-color="#00009d"/><stop offset="0.013" stop-color="#0000b9"/><stop offset="0.064" stop-color="#0000be"/><stop offset="0.135" stop-color="#0000c5"/><stop offset="0.221" stop-color="#0000ce"/><stop offset="0.306" stop-color="#0000d9"/><stop offset="0.391" stop-color="#0000e6"/><stop offset="0.477" stop-color="#0000f4"/><stop offset="0.548" stop-color="#0003ff"/><stop offset="0.605" stop-color="#0010ff"/><stop offset="0.662" stop-color="#001dff"/><stop offset="0.704" stop-color="#0028ff"/><stop offset="0.733" stop-color="#0030ff"/><stop offset="0.756" stop-color="#0001ff"/><stop offset="0.775" stop-color="#0017ff"/><stop offset="0.795" stop-color="#0027ff"/><stop offset="0.815" stop-color="#0043ff"/><stop offset="0.835" stop-color="#004bff"/><stop offset="0.855" stop-color="#004cff"/><stop offset="0.875" stop-color="#004cff"/><stop offset="0.895" stop-color="#0047ff"/><stop offset="0.915" stop-color="#0031ff"/><stop offset="0.935" stop-color="#0005ff"/><stop offset="0.955" stop-color="#0000d5"/><stop offset="0.972" stop-color="#0000bf"/><stop offset="0.989" stop-color="#0000b9"/><stop offset="1.000" stop-color="#0000b9"/></linearGradient><linearGradient id="d18" x1="0" y1="0" x2="0" y2="1"><stop offset="0.000" stop-color="#000098"/><stop offset="0.013" stop-color="#0000b3"/><stop offset="0.064" stop-color="#0000b5"/><stop offset="0.135" stop-color="#0000b8"/><stop offset="0.221" stop-color="#0000bc"/><stop offset="0.306" stop-color="#0000c2"/><stop offset="0.391" stop-color="#0000c9"/><stop offset="0.477" stop-color="#0000d1"/><stop offset="0.548" stop-color="#0000da"/><stop offset="0.605" stop-color="#0000e2"/><stop offset="0.662" stop-color="#0000ec"/><stop offset="0.704" stop-color="#0000f5"/><stop offset="0.733" stop-color="#0000fc"/><stop offset="0.756" stop-color="#0000e6"/><stop offset="0.775" stop-color="#0000fd"/><stop offset="0.795" stop-color="#0023ff"/><stop offset="0.815" stop-color="#0041ff"/><stop offset="0.835" stop-color="#004cff"/><stop offset="0.855" stop-color="#004fff"/><stop offset="0.875" stop-color="#004eff"/><stop offset="0.895" stop-color="#0046ff"/><stop offset="0.915" stop-color="#002fff"/><stop offset="0.935" stop-color="#0003ff"/><stop offset="0.955" stop-color="#0000d4"/><stop offset="0.972" stop-color="#0000bf"/><stop offset="0.989" stop-color="#0000b9"/><stop offset="1.000" stop-color="#0000b9"/></linearGradient><linearGradient id="d19" x1="0" y1="0" x2="0" y2="1"><stop offset="0.000" stop-color="#000097"/><stop offset="0.013" stop-color="#0000b2"/><stop offset="0.064" stop-color="#0000b3"/><stop offset="0.135" stop-color="#0000b6"/><stop offset="0.221" stop-color="#0000ba"/><stop offset="0.306" stop-color="#0000be"/><stop offset="0.391" stop-color="#0000c3"/><stop offset="0.477" stop-color="#0000c9"/><stop offset="0.548" stop-color="#0000cf"/><stop offset="0.605" stop-color="#0000d5"/><stop offset="0.662" stop-color="#0000dc"/><stop offset="0.704" stop-color="#0000e2"/><stop offset="0.733" stop-color="#0000e8"/><stop offset="0.756" stop-color="#0000dd"/><stop offset="0.775" stop-color="#0000f5"/><stop offset="0.795" stop-color="#002bff"/><stop offset="0.815" stop-color="#0052ff"/><stop offset="0.835" stop-color="#0069ff"/><stop offset="0.855" stop-color="#0072ff"/><stop offset="0.875" stop-color="#006fff"/><stop offset="0.895" stop-color="#005eff"/><stop offset="0.915" stop-color="#003cff"/><stop offset="0.935" stop-color="#0009ff"/><stop offset="0.955" stop-color="#0000d6"/><stop offset="0.972" stop-color="#0000c0"/><stop offset="0.989" stop-color="#0000ba"/><stop offset="1.000" stop-color="#0000b9"/></linearGradient><linearGradient id="d20" x1="0" y1="0" x2="0" y2="1"><stop offset="0.000" stop-color="#00009a"/><stop offset="0.013" stop-color="#0000b5"/><stop offset="0.064" stop-color="#0000b8"/><stop offset="0.135" stop-color="#0000bd"/><stop offset="0.221" stop-color="#0000c4"/><stop offset="0.306" stop-color="#0000cc"/><stop offset="0.391" stop-color="#0000d6"/><stop offset="0.477" stop-color="#0000e2"/><stop offset="0.548" stop-color="#0000ef"/><stop offset="0.605" stop-color="#0000fa"/><stop offset="0.662" stop-color="#0008ff"/><stop offset="0.704" stop-color="#0013ff"/><stop offset="0.733" stop-color="#001dff"/><stop offset="0.756" stop-color="#0000fd"/><stop offset="0.775" stop-color="#0021ff"/><stop offset="0.795" stop-color="#0059ff"/><stop offset="0.815" stop-color="#0098ff"/><stop offset="0.835" stop-color="#00c2ff"/><stop offset="0.855" stop-color="#00d6ff"/><stop offset="0.875" stop-color="#00d0ff"/><stop offset="0.895" stop-color="#00b0ff"/><stop offset="0.915" stop-color="#0076ff"/><stop offset="0.935" stop-color="#0029ff"/><stop offset="0.955" stop-color="#0000e2"/><stop offset="0.972" stop-color="#0000c3"/><stop offset="0.989" stop-color="#0000ba"/><stop offset="1.000" stop-color="#0000b9"/></linearGradient><linearGradient id="d21" x1="0" y1="0" x2="0" y2="1"><stop offset="0.000" stop-color="#00009e"/><stop offset="0.013" stop-color="#0000ba"/><stop offset="0.064" stop-color="#0000bf"/><stop offset="0.135" stop-color="#0000c6"/><stop offset="0.221" stop-color="#0000d1"/><stop offset="0.306" stop-color="#0000dd"/><stop offset="0.391" stop-color="#0000eb"/><stop offset="0.477" stop-color="#0000fb"/><stop offset="0.548" stop-color="#000cff"/><stop offset="0.605" stop-color="#001aff"/><stop offset="0.662" stop-color="#002aff"/><stop offset="0.704" stop-color="#0037ff"/><stop offset="0.733" stop-color="#0042ff"/><stop offset="0.756" stop-color="#0012ff"/><stop offset="0.775" stop-color="#003aff"/><stop offset="0.795" stop-color="#006fff"/><stop offset="0.815" stop-color="#00b5ff"/><stop offset="0.835" stop-color="#00e4ff"/><stop offset="0.855" stop-color="#00faff"/><stop offset="0.875" stop-color="#00f4ff"/><stop offset="0.895" stop-color="#00d0ff"/><stop offset="0.915" stop-color="#008fff"/><stop offset="0.935" stop-color="#0038ff"/><stop offset="0.955" stop-color="#0000e8"/><stop offset="0.972" stop-color="#0000c5"/><stop offset="0.989" stop-color="#0000bb"/><stop offset="1.000" stop-color="#0000b9"/></linearGradient><linearGradient id="d22" x1="0" y1="0" x2="0" y2="1"><stop offset="0.000" stop-color="#000097"/><stop offset="0.013" stop-color="#0000b2"/><stop offset="0.064" stop-color="#0000b4"/><stop offset="0.135" stop-color="#0000b7"/><stop offset="0.221" stop-color="#0000bb"/><stop offset="0.306" stop-color="#0000c0"/><stop offset="0.391" stop-color="#0000c6"/><stop offset="0.477" stop-color="#0000cd"/><stop offset="0.548" stop-color="#0000d5"/><stop offset="0.605" stop-color="#0000dd"/><stop offset="0.662" stop-color="#0000e6"/><stop offset="0.704" stop-color="#0000ee"/><stop offset="0.733" stop-color="#0000f5"/><stop offset="0.756" stop-color="#0000e5"/><stop offset="0.775" stop-color="#0003ff"/><stop offset="0.795" stop-color="#003aff"/><stop offset="0.815" stop-color="#0068ff"/><stop offset="0.835" stop-color="#0085ff"/><stop offset="0.855" stop-color="#0092ff"/><stop offset="0.875" stop-color="#008eff"/><stop offset="0.895" stop-color="#0079ff"/><stop offset="0.915" stop-color="#004fff"/><stop offset="0.935" stop-color="#0013ff"/><stop offset="0.955" stop-color="#0000da"/><stop offset="0.972" stop-color="#0000c1"/><stop offset="0.989" stop-color="#0000ba"/><stop offset="1.000" stop-color="#0000b9"/></linearGradient><linearGradient id="d23" x1="0" y1="0" x2="0" y2="1"><stop offset="0.000" stop-color="#000097"/><stop offset="0.013" stop-color="#0000b2"/><stop offset="0.064" stop-color="#0000b3"/><stop offset="0.135" stop-color="#0000b6"/><stop offset="0.221" stop-color="#0000b9"/><stop offset="0.306" stop-color="#0000bd"/><stop offset="0.391" stop-color="#0000c2"/><stop offset="0.477" stop-color="#0000c8"/><stop offset="0.548" stop-color="#0000cd"/><stop offset="0.605" stop-color="#0000d1"/><stop offset="0.662" stop-color="#0000d7"/><stop offset="0.704" stop-color="#0000db"/><stop offset="0.733" stop-color="#0000de"/><stop offset="0.756" stop-color="#0000d5"/><stop offset="0.775" stop-color="#0000e7"/><stop offset="0.795" stop-color="#0010ff"/><stop offset="0.815" stop-color="#002aff"/><stop offset="0.835" stop-color="#0037ff"/><stop offset="0.855" stop-color="#003cff"/><stop offset="0.875" stop-color="#003aff"/><stop offset="0.895" stop-color="#0031ff"/><stop offset="0.915" stop-color="#001bff"/><stop offset="0.935" stop-color="#0000f4"/><stop offset="0.955" stop-color="#0000cf"/><stop offset="0.972" stop-color="#0000be"/><stop offset="0.989" stop-color="#0000b9"/><stop offset="1.000" stop-color="#0000b9"/></linearGradient><linearGradient id="d24" x1="0" y1="0" x2="0" y2="1"><stop offset="0.000" stop-color="#000097"/><stop offset="0.013" stop-color="#0000b2"/><stop offset="0.064" stop-color="#0000b4"/><stop offset="0.135" stop-color="#0000b6"/><stop offset="0.221" stop-color="#0000ba"/><stop offset="0.306" stop-color="#0000bf"/><stop offset="0.391" stop-color="#0000c4"/><stop offset="0.477" stop-color="#0000cb"/><stop offset="0.548" stop-color="#0000d1"/><stop offset="0.605" stop-color="#0000d7"/><stop offset="0.662" stop-color="#0000de"/><stop offset="0.704" stop-color="#0000e5"/><stop offset="0.733" stop-color="#0000ea"/><stop offset="0.756" stop-color="#0000da"/><stop offset="0.775" stop-color="#0000ec"/><stop offset="0.795" stop-color="#000bff"/><stop offset="0.815" stop-color="#0024ff"/><stop offset="0.835" stop-color="#002fff"/><stop offset="0.855" stop-color="#0033ff"/><stop offset="0.875" stop-color="#0032ff"/><stop offset="0.895" stop-color="#002aff"/><stop offset="0.915" stop-color="#0015ff"/><stop offset="0.935" stop-color="#0000f1"/><stop offset="0.955" stop-color="#0000ce"/><stop offset="0.972" stop-color="#0000be"/><stop offset="0.989" stop-color="#0000b9"/><stop offset="1.000" stop-color="#0000b9"/></linearGradient><linearGradient id="d25" x1="0" y1="0" x2="0" y2="1"><stop offset="0.000" stop-color="#000099"/><stop offset="0.013" stop-color="#0000b5"/><stop offset="0.064" stop-color="#0000b7"/><stop offset="0.135" stop-color="#0000bc"/><stop offset="0.221" stop-color="#0000c2"/><stop offset="0.306" stop-color="#0000ca"/><stop offset="0.391" stop-color="#0000d3"/><stop offset="0.477" stop-color="#0000de"/><stop offset="0.548" stop-color="#0000ea"/><stop offset="0.605" stop-color="#0000f4"/><stop offset="0.662" stop-color="#0002ff"/><stop offset="0.704" stop-color="#000dff"/><stop offset="0.733" stop-color="#0015ff"/><stop offset="0.756" stop-color="#0000f6"/><stop offset="0.775" stop-color="#0016ff"/><stop offset="0.795" stop-color="#0044ff"/><stop offset="0.815" stop-color="#0073ff"/><stop offset="0.835" stop-color="#008eff"/><stop offset="0.855" stop-color="#0099ff"/><stop offset="0.875" stop-color="#0096ff"/><stop offset="0.895" stop-color="#0082ff"/><stop offset="0.915" stop-color="#0059ff"/><stop offset="0.935" stop-color="#001aff"/><stop offset="0.955" stop-color="#0000dd"/><stop offset="0.972" stop-color="#0000c1"/><stop offset="0.989" stop-color="#0000ba"/><stop offset="1.000" stop-color="#0000b9"/></linearGradient><linearGradient id="d26" x1="0" y1="0" x2="0" y2="1"><stop offset="0.000" stop-color="#00009d"/><stop offset="0.013" stop-color="#0000b9"/><stop offset="0.064" stop-color="#0000be"/><stop offset="0.135" stop-color="#0000c5"/><stop offset="0.221" stop-color="#0000cf"/><stop offset="0.306" stop-color="#0000da"/><stop offset="0.391" stop-color="#0000e7"/><stop offset="0.477" stop-color="#0000f6"/><stop offset="0.548" stop-color="#0006ff"/><stop offset="0.605" stop-color="#0014ff"/><stop offset="0.662" stop-color="#0023ff"/><stop offset="0.704" stop-color="#002fff"/><stop offset="0.733" stop-color="#0039ff"/><stop offset="0.756" stop-color="#000dff"/><stop offset="0.775" stop-color="#0033ff"/><stop offset="0.795" stop-color="#0067ff"/><stop offset="0.815" stop-color="#00aaff"/><stop offset="0.835" stop-color="#00d6ff"/><stop offset="0.855" stop-color="#00ebff"/><stop offset="0.875" stop-color="#00e5ff"/><stop offset="0.895" stop-color="#00c3ff"/><stop offset="0.915" stop-color="#0086ff"/><stop offset="0.935" stop-color="#0033ff"/><stop offset="0.955" stop-color="#0000e6"/><stop offset="0.972" stop-color="#0000c4"/><stop offset="0.989" stop-color="#0000bb"/><stop offset="1.000" stop-color="#0000b9"/></linearGradient><linearGradient id="d27" x1="0" y1="0" x2="0" y2="1"><stop offset="0.000" stop-color="#000099"/><stop offset="0.013" stop-color="#0000b4"/><stop offset="0.064" stop-color="#0000b7"/><stop offset="0.135" stop-color="#0000bb"/><stop offset="0.221" stop-color="#0000c2"/><stop offset="0.306" stop-color="#0000c9"/><stop offset="0.391" stop-color="#0000d3"/><stop offset="0.477" stop-color="#0000de"/><stop offset="0.548" stop-color="#0000ea"/><stop offset="0.605" stop-color="#0000f5"/><stop offset="0.662" stop-color="#0004ff"/><stop offset="0.704" stop-color="#0010ff"/><stop offset="0.733" stop-color="#001bff"/><stop offset="0.756" stop-color="#0000fd"/><stop offset="0.775" stop-color="#0024ff"/><stop offset="0.795" stop-color="#005fff"/><stop offset="0.815" stop-color="#00a1ff"/><stop offset="0.835" stop-color="#00cfff"/><stop offset="0.855" stop-color="#00e5ff"/><stop offset="0.875" stop-color="#00dfff"/><stop offset="0.895" stop-color="#00bbff"/><stop offset="0.915" stop-color="#007dff"/><stop offset="0.935" stop-color="#002dff"/><stop offset="0.955" stop-color="#0000e4"/><stop offset="0.972" stop-color="#0000c4"/><stop offset="0.989" stop-color="#0000bb"/><stop offset="1.000" stop-color="#0000b9"/></linearGradient><linearGradient id="d28" x1="0" y1="0" x2="0" y2="1"><stop offset="0.000" stop-color="#00009d"/><stop offset="0.013" stop-color="#0000b9"/><stop offset="0.064" stop-color="#0000bd"/><stop offset="0.135" stop-color="#0000c4"/><stop offset="0.221" stop-color="#0000ce"/><stop offset="0.306" stop-color="#0000da"/><stop offset="0.391" stop-color="#0000e7"/><stop offset="0.477" stop-color="#0000f7"/><stop offset="0.548" stop-color="#0008ff"/><stop offset="0.605" stop-color="#0016ff"/><stop offset="0.662" stop-color="#0027ff"/><stop offset="0.704" stop-color="#0036ff"/><stop offset="0.733" stop-color="#0041ff"/><stop offset="0.756" stop-color="#0011ff"/><stop offset="0.775" stop-color="#0036ff"/><stop offset="0.795" stop-color="#0061ff"/><stop offset="0.815" stop-color="#009bff"/><stop offset="0.835" stop-color="#00bcff"/><stop offset="0.855" stop-color="#00caff"/><stop offset="0.875" stop-color="#00c6ff"/><stop offset="0.895" stop-color="#00adff"/><stop offset="0.915" stop-color="#007aff"/><stop offset="0.935" stop-color="#002eff"/><stop offset="0.955" stop-color="#0000e4"/><stop offset="0.972" stop-color="#0000c3"/><stop offset="0.989" stop-color="#0000ba"/><stop offset="1.000" stop-color="#0000b9"/></linearGradient><linearGradient id="d29" x1="0" y1="0" x2="0" y2="1"><stop offset="0.000" stop-color="#000098"/><stop offset="0.013" stop-color="#0000b3"/><stop offset="0.064" stop-color="#0000b5"/><stop offset="0.135" stop-color="#0000b8"/><stop offset="0.221" stop-color="#0000bc"/><stop offset="0.306" stop-color="#0000c2"/><stop offset="0.391" stop-color="#0000c9"/><stop offset="0.477" stop-color="#0000d2"/><stop offset="0.548" stop-color="#0000dc"/><stop offset="0.605" stop-color="#0000e5"/><stop offset="0.662" stop-color="#0000f1"/><stop offset="0.704" stop-color="#0000fb"/><stop offset="0.733" stop-color="#0004ff"/><stop offset="0.756" stop-color="#0000ec"/><stop offset="0.775" stop-color="#0006ff"/><stop offset="0.795" stop-color="#002dff"/><stop offset="0.815" stop-color="#0050ff"/><stop offset="0.835" stop-color="#0060ff"/><stop offset="0.855" stop-color="#0065ff"/><stop offset="0.875" stop-color="#0064ff"/><stop offset="0.895" stop-color="#0059ff"/><stop offset="0.915" stop-color="#003cff"/><stop offset="0.935" stop-color="#000aff"/><stop offset="0.955" stop-color="#0000d7"/><stop offset="0.972" stop-color="#0000c0"/><stop offset="0.989" stop-color="#0000b9"/><stop offset="1.000" stop-color="#0000b9"/></linearGradient><linearGradient id="d30" x1="0" y1="0" x2="0" y2="1"><stop offset="0.000" stop-color="#000098"/><stop offset="0.013" stop-color="#0000b3"/><stop offset="0.064" stop-color="#0000b5"/><stop offset="0.135" stop-color="#0000b8"/><stop offset="0.221" stop-color="#0000bd"/><stop offset="0.306" stop-color="#0000c3"/><stop offset="0.391" stop-color="#0000cb"/><stop offset="0.477" stop-color="#0000d3"/><stop offset="0.548" stop-color="#0000dc"/><stop offset="0.605" stop-color="#0000e5"/><stop offset="0.662" stop-color="#0000ef"/><stop offset="0.704" stop-color="#0000f8"/><stop offset="0.733" stop-color="#0000fe"/><stop offset="0.756" stop-color="#0000e5"/><stop offset="0.775" stop-color="#0000f6"/><stop offset="0.795" stop-color="#000bff"/><stop offset="0.815" stop-color="#0020ff"/><stop offset="0.835" stop-color="#0028ff"/><stop offset="0.855" stop-color="#0029ff"/><stop offset="0.875" stop-color="#0029ff"/><stop offset="0.895" stop-color="#0024ff"/><stop offset="0.915" stop-color="#0013ff"/><stop offset="0.935" stop-color="#0000f1"/><stop offset="0.955" stop-color="#0000cd"/><stop offset="0.972" stop-color="#0000bd"/><stop offset="0.989" stop-color="#0000b9"/><stop offset="1.000" stop-color="#0000b9"/></linearGradient><linearGradient id="d31" x1="0" y1="0" x2="0" y2="1"><stop offset="0.000" stop-color="#00009c"/><stop offset="0.013" stop-color="#0000b8"/><stop offset="0.064" stop-color="#0000bc"/><stop offset="0.135" stop-color="#0000c2"/><stop offset="0.221" stop-color="#0000ca"/><stop offset="0.306" stop-color="#0000d4"/><stop offset="0.391" stop-color="#0000df"/><stop offset="0.477" stop-color="#0000ec"/><stop offset="0.548" stop-color="#0000f9"/><stop offset="0.605" stop-color="#0006ff"/><stop offset="0.662" stop-color="#0013ff"/><stop offset="0.704" stop-color="#001eff"/><stop offset="0.733" stop-color="#0026ff"/><stop offset="0.756" stop-color="#0000f8"/><stop offset="0.775" stop-color="#0007ff"/><stop offset="0.795" stop-color="#0000fa"/><stop offset="0.815" stop-color="#000cff"/><stop offset="0.835" stop-color="#0012ff"/><stop offset="0.855" stop-color="#0012ff"/><stop offset="0.875" stop-color="#0012ff"/><stop offset="0.895" stop-color="#000fff"/><stop offset="0.915" stop-color="#0002ff"/><stop offset="0.935" stop-color="#0000e6"/><stop offset="0.955" stop-color="#0000c9"/><stop offset="0.972" stop-color="#0000bc"/><stop offset="0.989" stop-color="#0000b9"/><stop offset="1.000" stop-color="#0000b9"/></linearGradient><linearGradient id="d32" x1="0" y1="0" x2="0" y2="1"><stop offset="0.000" stop-color="#000099"/><stop offset="0.013" stop-color="#0000b4"/><stop offset="0.064" stop-color="#0000b7"/><stop offset="0.135" stop-color="#0000bb"/><stop offset="0.221" stop-color="#0000c1"/><stop offset="0.306" stop-color="#0000c9"/><stop offset="0.391" stop-color="#0000d3"/><stop offset="0.477" stop-color="#0000e0"/><stop offset="0.548" stop-color="#0000ed"/><stop offset="0.605" stop-color="#0000fa"/><stop offset="0.662" stop-color="#000bff"/><stop offset="0.704" stop-color="#0019ff"/><stop offset="0.733" stop-color="#0024ff"/><stop offset="0.756" stop-color="#0000fa"/><stop offset="0.775" stop-color="#000eff"/><stop offset="0.795" stop-color="#0010ff"/><stop offset="0.815" stop-color="#0027ff"/><stop offset="0.835" stop-color="#002fff"/><stop offset="0.855" stop-color="#0030ff"/><stop offset="0.875" stop-color="#002fff"/><stop offset="0.895" stop-color="#002aff"/><stop offset="0.915" stop-color="#0018ff"/><stop offset="0.935" stop-color="#0000f4"/><stop offset="0.955" stop-color="#0000cf"/><stop offset="0.972" stop-color="#0000be"/><stop offset="0.989" stop-color="#0000b9"/><stop offset="1.000" stop-color="#0000b9"/></linearGradient><linearGradient id="d33" x1="0" y1="0" x2="0" y2="1"><stop offset="0.000" stop-color="#00009e"/><stop offset="0.013" stop-color="#0000b9"/><stop offset="0.064" stop-color="#0000bf"/><stop offset="0.135" stop-color="#0000c6"/><stop offset="0.221" stop-color="#0000d0"/><stop offset="0.306" stop-color="#0000dc"/><stop offset="0.391" stop-color="#0000e9"/><stop offset="0.477" stop-color="#0000f9"/><stop offset="0.548" stop-color="#0008ff"/><stop offset="0.605" stop-color="#0016ff"/><stop offset="0.662" stop-color="#0024ff"/><stop offset="0.704" stop-color="#0030ff"/><stop offset="0.733" stop-color="#0039ff"/><stop offset="0.756" stop-color="#0009ff"/><stop offset="0.775" stop-color="#0025ff"/><stop offset="0.795" stop-color="#003eff"/><stop offset="0.815" stop-color="#0065ff"/><stop offset="0.835" stop-color="#0076ff"/><stop offset="0.855" stop-color="#007aff"/><stop offset="0.875" stop-color="#0078ff"/><stop offset="0.895" stop-color="#006cff"/><stop offset="0.915" stop-color="#004cff"/><stop offset="0.935" stop-color="#0014ff"/><stop offset="0.955" stop-color="#0000da"/><stop offset="0.972" stop-color="#0000c0"/><stop offset="0.989" stop-color="#0000b9"/><stop offset="1.000" stop-color="#0000b9"/></linearGradient><linearGradient id="d34" x1="0" y1="0" x2="0" y2="1"><stop offset="0.000" stop-color="#000098"/><stop offset="0.013" stop-color="#0000b3"/><stop offset="0.064" stop-color="#0000b5"/><stop offset="0.135" stop-color="#0000b8"/><stop offset="0.221" stop-color="#0000bd"/><stop offset="0.306" stop-color="#0000c3"/><stop offset="0.391" stop-color="#0000cb"/><stop offset="0.477" stop-color="#0000d4"/><stop offset="0.548" stop-color="#0000de"/><stop offset="0.605" stop-color="#0000e7"/><stop offset="0.662" stop-color="#0000f3"/><stop offset="0.704" stop-color="#0000fd"/><stop offset="0.733" stop-color="#0007ff"/><stop offset="0.756" stop-color="#0000f0"/><stop offset="0.775" stop-color="#0012ff"/><stop offset="0.795" stop-color="#0048ff"/><stop offset="0.815" stop-color="#007cff"/><stop offset="0.835" stop-color="#009cff"/><stop offset="0.855" stop-color="#00a8ff"/><stop offset="0.875" stop-color="#00a1ff"/><stop offset="0.895" stop-color="#0087ff"/><stop offset="0.915" stop-color="#0059ff"/><stop offset="0.935" stop-color="#0019ff"/><stop offset="0.955" stop-color="#0000dc"/><stop offset="0.972" stop-color="#0000c1"/><stop offset="0.989" stop-color="#0000ba"/><stop offset="1.000" stop-color="#0000b9"/></linearGradient><linearGradient id="d35" x1="0" y1="0" x2="0" y2="1"><stop offset="0.000" stop-color="#000098"/><stop offset="0.013" stop-color="#0000b3"/><stop offset="0.064" stop-color="#0000b4"/><stop offset="0.135" stop-color="#0000b7"/><stop offset="0.221" stop-color="#0000bc"/><stop offset="0.306" stop-color="#0000c1"/><stop offset="0.391" stop-color="#0000c8"/><stop offset="0.477" stop-color="#0000d1"/><stop offset="0.548" stop-color="#0000d9"/><stop offset="0.605" stop-color="#0000e2"/><stop offset="0.662" stop-color="#0000ed"/><stop offset="0.704" stop-color="#0000f8"/><stop offset="0.733" stop-color="#0004ff"/><stop offset="0.756" stop-color="#0000f5"/><stop offset="0.775" stop-color="#001fff"/><stop offset="0.795" stop-color="#0069ff"/><stop offset="0.815" stop-color="#00b5ff"/><stop offset="0.835" stop-color="#00ecff"/><stop offset="0.855" stop-color="#05fffa"/><stop offset="0.875" stop-color="#00f5ff"/><stop offset="0.895" stop-color="#00c4ff"/><stop offset="0.915" stop-color="#007dff"/><stop offset="0.935" stop-color="#002aff"/><stop offset="0.955" stop-color="#0000e2"/><stop offset="0.972" stop-color="#0000c4"/><stop offset="0.989" stop-color="#0000bb"/><stop offset="1.000" stop-color="#0000b9"/></linearGradient><linearGradient id="d36" x1="0" y1="0" x2="0" y2="1"><stop offset="0.000" stop-color="#00009d"/><stop offset="0.013" stop-color="#0000b9"/><stop offset="0.064" stop-color="#0000bd"/><stop offset="0.135" stop-color="#0000c5"/><stop offset="0.221" stop-color="#0000ce"/><stop offset="0.306" stop-color="#0000da"/><stop offset="0.391" stop-color="#0000e7"/><stop offset="0.477" stop-color="#0000f7"/><stop offset="0.548" stop-color="#0007ff"/><stop offset="0.605" stop-color="#0015ff"/><stop offset="0.662" stop-color="#0026ff"/><stop offset="0.704" stop-color="#0039ff"/><stop offset="0.733" stop-color="#0051ff"/><stop offset="0.756" stop-color="#0038ff"/><stop offset="0.775" stop-color="#007cff"/><stop offset="0.795" stop-color="#00d7ff"/><stop offset="0.815" stop-color="#45ffba"/><stop offset="0.835" stop-color="#90ff6f"/><stop offset="0.855" stop-color="#a9ff56"/><stop offset="0.875" stop-color="#88ff77"/><stop offset="0.895" stop-color="#38ffc7"/><stop offset="0.915" stop-color="#00cbff"/><stop offset="0.935" stop-color="#0055ff"/><stop offset="0.955" stop-color="#0000f4"/><stop offset="0.972" stop-color="#0000ca"/><stop offset="0.989" stop-color="#0000bd"/><stop offset="1.000" stop-color="#0000ba"/></linearGradient><linearGradient id="d37" x1="0" y1="0" x2="0" y2="1"><stop offset="0.000" stop-color="#00009c"/><stop offset="0.013" stop-color="#0000b8"/><stop offset="0.064" stop-color="#0000bc"/><stop offset="0.135" stop-color="#0000c3"/><stop offset="0.221" stop-color="#0000cc"/><stop offset="0.306" stop-color="#0000d7"/><stop offset="0.391" stop-color="#0000e4"/><stop offset="0.477" stop-color="#0000f4"/><stop offset="0.548" stop-color="#0004ff"/><stop offset="0.605" stop-color="#0013ff"/><stop offset="0.662" stop-color="#0023ff"/><stop offset="0.704" stop-color="#0032ff"/><stop offset="0.733" stop-color="#0041ff"/><stop offset="0.756" stop-color="#001dff"/><stop offset="0.775" stop-color="#0051ff"/><stop offset="0.795" stop-color="#009cff"/><stop offset="0.815" stop-color="#00feff"/><stop offset="0.835" stop-color="#47ffb8"/><stop offset="0.855" stop-color="#69ff96"/><stop offset="0.875" stop-color="#58ffa7"/><stop offset="0.895" stop-color="#19ffe6"/><stop offset="0.915" stop-color="#00b9ff"/><stop offset="0.935" stop-color="#004bff"/><stop offset="0.955" stop-color="#0000ef"/><stop offset="0.972" stop-color="#0000c8"/><stop offset="0.989" stop-color="#0000bc"/><stop offset="1.000" stop-color="#0000ba"/></linearGradient><linearGradient id="d38" x1="0" y1="0" x2="0" y2="1"><stop offset="0.000" stop-color="#000097"/><stop offset="0.013" stop-color="#0000b2"/><stop offset="0.064" stop-color="#0000b4"/><stop offset="0.135" stop-color="#0000b6"/><stop offset="0.221" stop-color="#0000ba"/><stop offset="0.306" stop-color="#0000bf"/><stop offset="0.391" stop-color="#0000c5"/><stop offset="0.477" stop-color="#0000cd"/><stop offset="0.548" stop-color="#0000d5"/><stop offset="0.605" stop-color="#0000dd"/><stop offset="0.662" stop-color="#0000e7"/><stop offset="0.704" stop-color="#0000f1"/><stop offset="0.733" stop-color="#0000fa"/><stop offset="0.756" stop-color="#0000ed"/><stop offset="0.775" stop-color="#0014ff"/><stop offset="0.795" stop-color="#005dff"/><stop offset="0.815" stop-color="#00adff"/><stop offset="0.835" stop-color="#00f0ff"/><stop offset="0.855" stop-color="#19ffe6"/><stop offset="0.875" stop-color="#16ffe9"/><stop offset="0.895" stop-color="#00e4ff"/><stop offset="0.915" stop-color="#0093ff"/><stop offset="0.935" stop-color="#0035ff"/><stop offset="0.955" stop-color="#0000e7"/><stop offset="0.972" stop-color="#0000c5"/><stop offset="0.989" stop-color="#0000bb"/><stop offset="1.000" stop-color="#0000ba"/></linearGradient><linearGradient id="d39" x1="0" y1="0" x2="0" y2="1"><stop offset="0.000" stop-color="#00009a"/><stop offset="0.013" stop-color="#0000b5"/><stop offset="0.064" stop-color="#0000b8"/><stop offset="0.135" stop-color="#0000bc"/><stop offset="0.221" stop-color="#0000c3"/><stop offset="0.306" stop-color="#0000cb"/><stop offset="0.391" stop-color="#0000d5"/><stop offset="0.477" stop-color="#0000e0"/><stop offset="0.548" stop-color="#0000ec"/><stop offset="0.605" stop-color="#0000f7"/><stop offset="0.662" stop-color="#0005ff"/><stop offset="0.704" stop-color="#0010ff"/><stop offset="0.733" stop-color="#001bff"/><stop offset="0.756" stop-color="#0000fe"/><stop offset="0.775" stop-color="#0026ff"/><stop offset="0.795" stop-color="#0069ff"/><stop offset="0.815" stop-color="#00beff"/><stop offset="0.835" stop-color="#0afff5"/><stop offset="0.855" stop-color="#3effc1"/><stop offset="0.875" stop-color="#43ffbc"/><stop offset="0.895" stop-color="#11ffee"/><stop offset="0.915" stop-color="#00b5ff"/><stop offset="0.935" stop-color="#0048ff"/><stop offset="0.955" stop-color="#0000ee"/><stop offset="0.972" stop-color="#0000c8"/><stop offset="0.989" stop-color="#0000bc"/><stop offset="1.000" stop-color="#0000ba"/></linearGradient><linearGradient id="d40" x1="0" y1="0" x2="0" y2="1"><stop offset="0.000" stop-color="#00009c"/><stop offset="0.013" stop-color="#0000b8"/><stop offset="0.064" stop-color="#0000bc"/><stop offset="0.135" stop-color="#0000c2"/><stop offset="0.221" stop-color="#0000cb"/><stop offset="0.306" stop-color="#0000d5"/><stop offset="0.391" stop-color="#0000e1"/><stop offset="0.477" stop-color="#0000ef"/><stop offset="0.548" stop-color="#0000fc"/><stop offset="0.605" stop-color="#0009ff"/><stop offset="0.662" stop-color="#0017ff"/><stop offset="0.704" stop-color="#0028ff"/><stop offset="0.733" stop-color="#003cff"/><stop offset="0.756" stop-color="#0026ff"/><stop offset="0.775" stop-color="#005dff"/><stop offset="0.795" stop-color="#00adff"/><stop offset="0.815" stop-color="#0ffff0"/><stop offset="0.835" stop-color="#61ff9e"/><stop offset="0.855" stop-color="#94ff6b"/><stop offset="0.875" stop-color="#90ff6f"/><stop offset="0.895" stop-color="#4dffb2"/><stop offset="0.915" stop-color="#00ddff"/><stop offset="0.935" stop-color="#005fff"/><stop offset="0.955" stop-color="#0000f8"/><stop offset="0.972" stop-color="#0000cc"/><stop offset="0.989" stop-color="#0000bd"/><stop offset="1.000" stop-color="#0000ba"/></linearGradient><linearGradient id="d41" x1="0" y1="0" x2="0" y2="1"><stop offset="0.000" stop-color="#000097"/><stop offset="0.013" stop-color="#0000b2"/><stop offset="0.064" stop-color="#0000b4"/><stop offset="0.135" stop-color="#0000b6"/><stop offset="0.221" stop-color="#0000ba"/><stop offset="0.306" stop-color="#0000bf"/><stop offset="0.391" stop-color="#0000c5"/><stop offset="0.477" stop-color="#0000cc"/><stop offset="0.548" stop-color="#0000d3"/><stop offset="0.605" stop-color="#0000da"/><stop offset="0.662" stop-color="#0000e3"/><stop offset="0.704" stop-color="#0000ec"/><stop offset="0.733" stop-color="#0000f5"/><stop offset="0.756" stop-color="#0000eb"/><stop offset="0.775" stop-color="#000eff"/><stop offset="0.795" stop-color="#0053ff"/><stop offset="0.815" stop-color="#009cff"/><stop offset="0.835" stop-color="#00e1ff"/><stop offset="0.855" stop-color="#16ffe9"/><stop offset="0.875" stop-color="#20ffdf"/><stop offset="0.895" stop-color="#00f2ff"/><stop offset="0.915" stop-color="#009dff"/><stop offset="0.935" stop-color="#003aff"/><stop offset="0.955" stop-color="#0000e9"/><stop offset="0.972" stop-color="#0000c6"/><stop offset="0.989" stop-color="#0000bc"/><stop offset="1.000" stop-color="#0000ba"/></linearGradient><linearGradient id="d42" x1="0" y1="0" x2="0" y2="1"><stop offset="0.000" stop-color="#000097"/><stop offset="0.013" stop-color="#0000b2"/><stop offset="0.064" stop-color="#0000b4"/><stop offset="0.135" stop-color="#0000b7"/><stop offset="0.221" stop-color="#0000bb"/><stop offset="0.306" stop-color="#0000c0"/><stop offset="0.391" stop-color="#0000c6"/><stop offset="0.477" stop-color="#0000ce"/><stop offset="0.548" stop-color="#0000d6"/><stop offset="0.605" stop-color="#0000de"/><stop offset="0.662" stop-color="#0000e8"/><stop offset="0.704" stop-color="#0000f1"/><stop offset="0.733" stop-color="#0000f8"/><stop offset="0.756" stop-color="#0000e6"/><stop offset="0.775" stop-color="#0004ff"/><stop offset="0.795" stop-color="#003fff"/><stop offset="0.815" stop-color="#007eff"/><stop offset="0.835" stop-color="#00beff"/><stop offset="0.855" stop-color="#00f5ff"/><stop offset="0.875" stop-color="#09fff6"/><stop offset="0.895" stop-color="#00e4ff"/><stop offset="0.915" stop-color="#0095ff"/><stop offset="0.935" stop-color="#0034ff"/><stop offset="0.955" stop-color="#0000e6"/><stop offset="0.972" stop-color="#0000c4"/><stop offset="0.989" stop-color="#0000bb"/><stop offset="1.000" stop-color="#0000b9"/></linearGradient><linearGradient id="d43" x1="0" y1="0" x2="0" y2="1"><stop offset="0.000" stop-color="#00009d"/><stop offset="0.013" stop-color="#0000b8"/><stop offset="0.064" stop-color="#0000bd"/><stop offset="0.135" stop-color="#0000c4"/><stop offset="0.221" stop-color="#0000cd"/><stop offset="0.306" stop-color="#0000d8"/><stop offset="0.391" stop-color="#0000e6"/><stop offset="0.477" stop-color="#0000f6"/><stop offset="0.548" stop-color="#0008ff"/><stop offset="0.605" stop-color="#0017ff"/><stop offset="0.662" stop-color="#0029ff"/><stop offset="0.704" stop-color="#003aff"/><stop offset="0.733" stop-color="#004aff"/><stop offset="0.756" stop-color="#001dff"/><stop offset="0.775" stop-color="#0047ff"/><stop offset="0.795" stop-color="#007aff"/><stop offset="0.815" stop-color="#00c9ff"/><stop offset="0.835" stop-color="#15ffea"/><stop offset="0.855" stop-color="#57ffa8"/><stop offset="0.875" stop-color="#6eff91"/><stop offset="0.895" stop-color="#3fffc0"/><stop offset="0.915" stop-color="#00d7ff"/><stop offset="0.935" stop-color="#0059ff"/><stop offset="0.955" stop-color="#0000f3"/><stop offset="0.972" stop-color="#0000c8"/><stop offset="0.989" stop-color="#0000bb"/><stop offset="1.000" stop-color="#0000ba"/></linearGradient><linearGradient id="d44" x1="0" y1="0" x2="0" y2="1"><stop offset="0.000" stop-color="#00009d"/><stop offset="0.013" stop-color="#0000b8"/><stop offset="0.064" stop-color="#0000bd"/><stop offset="0.135" stop-color="#0000c4"/><stop offset="0.221" stop-color="#0000cd"/><stop offset="0.306" stop-color="#0000d8"/><stop offset="0.391" stop-color="#0000e4"/><stop offset="0.477" stop-color="#0000f3"/><stop offset="0.548" stop-color="#0003ff"/><stop offset="0.605" stop-color="#0010ff"/><stop offset="0.662" stop-color="#0020ff"/><stop offset="0.704" stop-color="#0030ff"/><stop offset="0.733" stop-color="#0040ff"/><stop offset="0.756" stop-color="#001cff"/><stop offset="0.775" stop-color="#0046ff"/><stop offset="0.795" stop-color="#007dff"/><stop offset="0.815" stop-color="#00caff"/><stop offset="0.835" stop-color="#13ffec"/><stop offset="0.855" stop-color="#52ffad"/><stop offset="0.875" stop-color="#66ff99"/><stop offset="0.895" stop-color="#36ffc9"/><stop offset="0.915" stop-color="#00ceff"/><stop offset="0.935" stop-color="#0054ff"/><stop offset="0.955" stop-color="#0000f1"/><stop offset="0.972" stop-color="#0000c8"/><stop offset="0.989" stop-color="#0000bc"/><stop offset="1.000" stop-color="#0000ba"/></linearGradient><linearGradient id="d45" x1="0" y1="0" x2="0" y2="1"><stop offset="0.000" stop-color="#00009a"/><stop offset="0.013" stop-color="#0000b5"/><stop offset="0.064" stop-color="#0000b8"/><stop offset="0.135" stop-color="#0000bd"/><stop offset="0.221" stop-color="#0000c4"/><stop offset="0.306" stop-color="#0000cc"/><stop offset="0.391" stop-color="#0000d6"/><stop offset="0.477" stop-color="#0000e2"/><stop offset="0.548" stop-color="#0000ee"/><stop offset="0.605" stop-color="#0000f9"/><stop offset="0.662" stop-color="#0007ff"/><stop offset="0.704" stop-color="#0012ff"/><stop offset="0.733" stop-color="#001bff"/><stop offset="0.756" stop-color="#0000f8"/><stop offset="0.775" stop-color="#0014ff"/><stop offset="0.795" stop-color="#003fff"/><stop offset="0.815" stop-color="#0072ff"/><stop offset="0.835" stop-color="#009fff"/><stop offset="0.855" stop-color="#00c6ff"/><stop offset="0.875" stop-color="#00d8ff"/><stop offset="0.895" stop-color="#00c0ff"/><stop offset="0.915" stop-color="#0081ff"/><stop offset="0.935" stop-color="#002cff"/><stop offset="0.955" stop-color="#0000e2"/><stop offset="0.972" stop-color="#0000c3"/><stop offset="0.989" stop-color="#0000ba"/><stop offset="1.000" stop-color="#0000b9"/></linearGradient><linearGradient id="d46" x1="0" y1="0" x2="0" y2="1"><stop offset="0.000" stop-color="#000097"/><stop offset="0.013" stop-color="#0000b2"/><stop offset="0.064" stop-color="#0000b3"/><stop offset="0.135" stop-color="#0000b6"/><stop offset="0.221" stop-color="#0000b9"/><stop offset="0.306" stop-color="#0000be"/><stop offset="0.391" stop-color="#0000c3"/><stop offset="0.477" stop-color="#0000c9"/><stop offset="0.548" stop-color="#0000cf"/><stop offset="0.605" stop-color="#0000d5"/><stop offset="0.662" stop-color="#0000dc"/><stop offset="0.704" stop-color="#0000e2"/><stop offset="0.733" stop-color="#0000e8"/><stop offset="0.756" stop-color="#0000db"/><stop offset="0.775" stop-color="#0000ef"/><stop offset="0.795" stop-color="#001bff"/><stop offset="0.815" stop-color="#003aff"/><stop offset="0.835" stop-color="#004dff"/><stop offset="0.855" stop-color="#005bff"/><stop offset="0.875" stop-color="#0061ff"/><stop offset="0.895" stop-color="#0057ff"/><stop offset="0.915" stop-color="#0037ff"/><stop offset="0.935" stop-color="#0005ff"/><stop offset="0.955" stop-color="#0000d4"/><stop offset="0.972" stop-color="#0000bf"/><stop offset="0.989" stop-color="#0000b9"/><stop offset="1.000" stop-color="#0000b9"/></linearGradient><linearGradient id="d47" x1="0" y1="0" x2="0" y2="1"><stop offset="0.000" stop-color="#00009b"/><stop offset="0.013" stop-color="#0000b7"/><stop offset="0.064" stop-color="#0000bb"/><stop offset="0.135" stop-color="#0000c1"/><stop offset="0.221" stop-color="#0000c9"/><stop offset="0.306" stop-color="#0000d3"/><stop offset="0.391" stop-color="#0000df"/><stop offset="0.477" stop-color="#0000ed"/><stop offset="0.548" stop-color="#0000fb"/><stop offset="0.605" stop-color="#0009ff"/><stop offset="0.662" stop-color="#0017ff"/><stop offset="0.704" stop-color="#0024ff"/><stop offset="0.733" stop-color="#002dff"/><stop offset="0.756" stop-color="#0000ff"/><stop offset="0.775" stop-color="#0017ff"/><stop offset="0.795" stop-color="#002aff"/><stop offset="0.815" stop-color="#0047ff"/><stop offset="0.835" stop-color="#0052ff"/><stop offset="0.855" stop-color="#0055ff"/><stop offset="0.875" stop-color="#0056ff"/><stop offset="0.895" stop-color="#0050ff"/><stop offset="0.915" stop-color="#0038ff"/><stop offset="0.935" stop-color="#0009ff"/><stop offset="0.955" stop-color="#0000d6"/><stop offset="0.972" stop-color="#0000bf"/><stop offset="0.989" stop-color="#0000b9"/><stop offset="1.000" stop-color="#0000b9"/></linearGradient><linearGradient id="d48" x1="0" y1="0" x2="0" y2="1"><stop offset="0.000" stop-color="#000098"/><stop offset="0.013" stop-color="#0000b3"/><stop offset="0.064" stop-color="#0000b5"/><stop offset="0.135" stop-color="#0000b8"/><stop offset="0.221" stop-color="#0000bd"/><stop offset="0.306" stop-color="#0000c3"/><stop offset="0.391" stop-color="#0000cb"/><stop offset="0.477" stop-color="#0000d4"/><stop offset="0.548" stop-color="#0000de"/><stop offset="0.605" stop-color="#0000e7"/><stop offset="0.662" stop-color="#0000f3"/><stop offset="0.704" stop-color="#0000fd"/><stop offset="0.733" stop-color="#0006ff"/><stop offset="0.756" stop-color="#0000e8"/><stop offset="0.775" stop-color="#0000f8"/><stop offset="0.795" stop-color="#0002ff"/><stop offset="0.815" stop-color="#0015ff"/><stop offset="0.835" stop-color="#001aff"/><stop offset="0.855" stop-color="#001bff"/><stop offset="0.875" stop-color="#001bff"/><stop offset="0.895" stop-color="#0018ff"/><stop offset="0.915" stop-color="#0009ff"/><stop offset="0.935" stop-color="#0000eb"/><stop offset="0.955" stop-color="#0000cb"/><stop offset="0.972" stop-color="#0000bd"/><stop offset="0.989" stop-color="#0000b9"/><stop offset="1.000" stop-color="#0000b9"/></linearGradient><linearGradient id="d49" x1="0" y1="0" x2="0" y2="1"><stop offset="0.000" stop-color="#000098"/><stop offset="0.013" stop-color="#0000b2"/><stop offset="0.064" stop-color="#0000b4"/><stop offset="0.135" stop-color="#0000b7"/><stop offset="0.221" stop-color="#0000bb"/><stop offset="0.306" stop-color="#0000c0"/><stop offset="0.391" stop-color="#0000c6"/><stop offset="0.477" stop-color="#0000cd"/><stop offset="0.548" stop-color="#0000d4"/><stop offset="0.605" stop-color="#0000da"/><stop offset="0.662" stop-color="#0000e1"/><stop offset="0.704" stop-color="#0000e8"/><stop offset="0.733" stop-color="#0000ec"/><stop offset="0.756" stop-color="#0000d8"/><stop offset="0.775" stop-color="#0000e0"/><stop offset="0.795" stop-color="#0000df"/><stop offset="0.815" stop-color="#0000e9"/><stop offset="0.835" stop-color="#0000eb"/><stop offset="0.855" stop-color="#0000ec"/><stop offset="0.875" stop-color="#0000ec"/><stop offset="0.895" stop-color="#0000ea"/><stop offset="0.915" stop-color="#0000e3"/><stop offset="0.935" stop-color="#0000d3"/><stop offset="0.955" stop-color="#0000c2"/><stop offset="0.972" stop-color="#0000bb"/><stop offset="0.989" stop-color="#0000b9"/><stop offset="1.000" stop-color="#0000b9"/></linearGradient><linearGradient id="d50" x1="0" y1="0" x2="0" y2="1"><stop offset="0.000" stop-color="#00009a"/><stop offset="0.013" stop-color="#0000b5"/><stop offset="0.064" stop-color="#0000b8"/><stop offset="0.135" stop-color="#0000bc"/><stop offset="0.221" stop-color="#0000c3"/><stop offset="0.306" stop-color="#0000ca"/><stop offset="0.391" stop-color="#0000d2"/><stop offset="0.477" stop-color="#0000dc"/><stop offset="0.548" stop-color="#0000e5"/><stop offset="0.605" stop-color="#0000ed"/><stop offset="0.662" stop-color="#0000f5"/><stop offset="0.704" stop-color="#0000fc"/><stop offset="0.733" stop-color="#0002ff"/><stop offset="0.756" stop-color="#0000e1"/><stop offset="0.775" stop-color="#0000e7"/><stop offset="0.795" stop-color="#0000d4"/><stop offset="0.815" stop-color="#0000db"/><stop offset="0.835" stop-color="#0000dd"/><stop offset="0.855" stop-color="#0000dd"/><stop offset="0.875" stop-color="#0000dd"/><stop offset="0.895" stop-color="#0000dc"/><stop offset="0.915" stop-color="#0000d7"/><stop offset="0.935" stop-color="#0000cc"/><stop offset="0.955" stop-color="#0000c0"/><stop offset="0.972" stop-color="#0000ba"/><stop offset="0.989" stop-color="#0000b9"/><stop offset="1.000" stop-color="#0000b9"/></linearGradient><linearGradient id="d51" x1="0" y1="0" x2="0" y2="1"><stop offset="0.000" stop-color="#000098"/><stop offset="0.013" stop-color="#0000b3"/><stop offset="0.064" stop-color="#0000b5"/><stop offset="0.135" stop-color="#0000b8"/><stop offset="0.221" stop-color="#0000bc"/><stop offset="0.306" stop-color="#0000c1"/><stop offset="0.391" stop-color="#0000c8"/><stop offset="0.477" stop-color="#0000cf"/><stop offset="0.548" stop-color="#0000d6"/><stop offset="0.605" stop-color="#0000dd"/><stop offset="0.662" stop-color="#0000e5"/><stop offset="0.704" stop-color="#0000ec"/><stop offset="0.733" stop-color="#0000f0"/><stop offset="0.756" stop-color="#0000d9"/><stop offset="0.775" stop-color="#0000e1"/><stop offset="0.795" stop-color="#0000db"/><stop offset="0.815" stop-color="#0000e4"/><stop offset="0.835" stop-color="#0000e7"/><stop offset="0.855" stop-color="#0000e7"/><stop offset="0.875" stop-color="#0000e7"/><stop offset="0.895" stop-color="#0000e6"/><stop offset="0.915" stop-color="#0000df"/><stop offset="0.935" stop-color="#0000d1"/><stop offset="0.955" stop-color="#0000c2"/><stop offset="0.972" stop-color="#0000bb"/><stop offset="0.989" stop-color="#0000b9"/><stop offset="1.000" stop-color="#0000b9"/></linearGradient><linearGradient id="d52" x1="0" y1="0" x2="0" y2="1"><stop offset="0.000" stop-color="#00009a"/><stop offset="0.013" stop-color="#0000b5"/><stop offset="0.064" stop-color="#0000b8"/><stop offset="0.135" stop-color="#0000bc"/><stop offset="0.221" stop-color="#0000c3"/><stop offset="0.306" stop-color="#0000ca"/><stop offset="0.391" stop-color="#0000d4"/><stop offset="0.477" stop-color="#0000df"/><stop offset="0.548" stop-color="#0000ea"/><stop offset="0.605" stop-color="#0000f5"/><stop offset="0.662" stop-color="#0002ff"/><stop offset="0.704" stop-color="#000dff"/><stop offset="0.733" stop-color="#0014ff"/><stop offset="0.756" stop-color="#0000ef"/><stop offset="0.775" stop-color="#0000fe"/><stop offset="0.795" stop-color="#0000ff"/><stop offset="0.815" stop-color="#0011ff"/><stop offset="0.835" stop-color="#0017ff"/><stop offset="0.855" stop-color="#0017ff"/><stop offset="0.875" stop-color="#0017ff"/><stop offset="0.895" stop-color="#0014ff"/><stop offset="0.915" stop-color="#0006ff"/><stop offset="0.935" stop-color="#0000e9"/><stop offset="0.955" stop-color="#0000cb"/><stop offset="0.972" stop-color="#0000bd"/><stop offset="0.989" stop-color="#0000b9"/><stop offset="1.000" stop-color="#0000b9"/></linearGradient><linearGradient id="d53" x1="0" y1="0" x2="0" y2="1"><stop offset="0.000" stop-color="#000098"/><stop offset="0.013" stop-color="#0000b2"/><stop offset="0.064" stop-color="#0000b4"/><stop offset="0.135" stop-color="#0000b7"/><stop offset="0.221" stop-color="#0000bb"/><stop offset="0.306" stop-color="#0000c0"/><stop offset="0.391" stop-color="#0000c6"/><stop offset="0.477" stop-color="#0000ce"/><stop offset="0.548" stop-color="#0000d6"/><stop offset="0.605" stop-color="#0000dd"/><stop offset="0.662" stop-color="#0000e6"/><stop offset="0.704" stop-color="#0000ee"/><stop offset="0.733" stop-color="#0000f4"/><stop offset="0.756" stop-color="#0000e0"/><stop offset="0.775" stop-color="#0000f2"/><stop offset="0.795" stop-color="#000eff"/><stop offset="0.815" stop-color="#0024ff"/><stop offset="0.835" stop-color="#002aff"/><stop offset="0.855" stop-color="#002bff"/><stop offset="0.875" stop-color="#002bff"/><stop offset="0.895" stop-color="#0027ff"/><stop offset="0.915" stop-color="#0017ff"/><stop offset="0.935" stop-color="#0000f5"/><stop offset="0.955" stop-color="#0000d1"/><stop offset="0.972" stop-color="#0000c1"/><stop offset="0.989" stop-color="#0000bb"/><stop offset="1.000" stop-color="#0000ba"/></linearGradient><linearGradient id="d54" x1="0" y1="0" x2="0" y2="1"><stop offset="0.000" stop-color="#000097"/><stop offset="0.013" stop-color="#0000b2"/><stop offset="0.064" stop-color="#0000b3"/><stop offset="0.135" stop-color="#0000b6"/><stop offset="0.221" stop-color="#0000b9"/><stop offset="0.306" stop-color="#0000bd"/><stop offset="0.391" stop-color="#0000c2"/><stop offset="0.477" stop-color="#0000c8"/><stop offset="0.548" stop-color="#0000cd"/><stop offset="0.605" stop-color="#0000d1"/><stop offset="0.662" stop-color="#0000d6"/><stop offset="0.704" stop-color="#0000d9"/><stop offset="0.733" stop-color="#0000dc"/><stop offset="0.756" stop-color="#0000d2"/><stop offset="0.775" stop-color="#0000e3"/><stop offset="0.795" stop-color="#000eff"/><stop offset="0.815" stop-color="#0024ff"/><stop offset="0.835" stop-color="#002aff"/><stop offset="0.855" stop-color="#002bff"/><stop offset="0.875" stop-color="#002dff"/><stop offset="0.895" stop-color="#002cff"/><stop offset="0.915" stop-color="#001fff"/><stop offset="0.935" stop-color="#0001ff"/><stop offset="0.955" stop-color="#0000e2"/><stop offset="0.972" stop-color="#0000d5"/><stop offset="0.989" stop-color="#0000c8"/><stop offset="1.000" stop-color="#0000c1"/></linearGradient><linearGradient id="d55" x1="0" y1="0" x2="0" y2="1"><stop offset="0.000" stop-color="#000097"/><stop offset="0.013" stop-color="#0000b2"/><stop offset="0.064" stop-color="#0000b4"/><stop offset="0.135" stop-color="#0000b6"/><stop offset="0.221" stop-color="#0000ba"/><stop offset="0.306" stop-color="#0000be"/><stop offset="0.391" stop-color="#0000c3"/><stop offset="0.477" stop-color="#0000c9"/><stop offset="0.548" stop-color="#0000cf"/><stop offset="0.605" stop-color="#0000d4"/><stop offset="0.662" stop-color="#0000da"/><stop offset="0.704" stop-color="#0000df"/><stop offset="0.733" stop-color="#0000e3"/><stop offset="0.756" stop-color="#0000d7"/><stop offset="0.775" stop-color="#0000eb"/><stop offset="0.795" stop-color="#0018ff"/><stop offset="0.815" stop-color="#0030ff"/><stop offset="0.835" stop-color="#0038ff"/><stop offset="0.855" stop-color="#003cff"/><stop offset="0.875" stop-color="#0043ff"/><stop offset="0.895" stop-color="#004dff"/><stop offset="0.915" stop-color="#004aff"/><stop offset="0.935" stop-color="#0030ff"/><stop offset="0.955" stop-color="#001fff"/><stop offset="0.972" stop-color="#0016ff"/><stop offset="0.989" stop-color="#0000f1"/><stop offset="1.000" stop-color="#0000d5"/></linearGradient><linearGradient id="d56" x1="0" y1="0" x2="0" y2="1"><stop offset="0.000" stop-color="#000099"/><stop offset="0.013" stop-color="#0000b4"/><stop offset="0.064" stop-color="#0000b7"/><stop offset="0.135" stop-color="#0000bb"/><stop offset="0.221" stop-color="#0000c1"/><stop offset="0.306" stop-color="#0000c8"/><stop offset="0.391" stop-color="#0000d0"/><stop offset="0.477" stop-color="#0000da"/><stop offset="0.548" stop-color="#0000e5"/><stop offset="0.605" stop-color="#0000ef"/><stop offset="0.662" stop-color="#0000fb"/><stop offset="0.704" stop-color="#0006ff"/><stop offset="0.733" stop-color="#000eff"/><stop offset="0.756" stop-color="#0000f0"/><stop offset="0.775" stop-color="#000aff"/><stop offset="0.795" stop-color="#0030ff"/><stop offset="0.815" stop-color="#0050ff"/><stop offset="0.835" stop-color="#005eff"/><stop offset="0.855" stop-color="#006cff"/><stop offset="0.875" stop-color="#0083ff"/><stop offset="0.895" stop-color="#00a3ff"/><stop offset="0.915" stop-color="#00b3ff"/><stop offset="0.935" stop-color="#0098ff"/><stop offset="0.955" stop-color="#0087ff"/><stop offset="0.972" stop-color="#007bff"/><stop offset="0.989" stop-color="#0030ff"/><stop offset="1.000" stop-color="#0000f5"/></linearGradient><linearGradient id="d57" x1="0" y1="0" x2="0" y2="1"><stop offset="0.000" stop-color="#00009d"/><stop offset="0.013" stop-color="#0000b9"/><stop offset="0.064" stop-color="#0000be"/><stop offset="0.135" stop-color="#0000c5"/><stop offset="0.221" stop-color="#0000cf"/><stop offset="0.306" stop-color="#0000da"/><stop offset="0.391" stop-color="#0000e8"/><stop offset="0.477" stop-color="#0000fa"/><stop offset="0.548" stop-color="#000cff"/><stop offset="0.605" stop-color="#001cff"/><stop offset="0.662" stop-color="#002fff"/><stop offset="0.704" stop-color="#0040ff"/><stop offset="0.733" stop-color="#004dff"/><stop offset="0.756" stop-color="#0015ff"/><stop offset="0.775" stop-color="#0036ff"/><stop offset="0.795" stop-color="#0053ff"/><stop offset="0.815" stop-color="#007fff"/><stop offset="0.835" stop-color="#009bff"/><stop offset="0.855" stop-color="#00beff"/><stop offset="0.875" stop-color="#00f1ff"/><stop offset="0.895" stop-color="#2affd5"/><stop offset="0.915" stop-color="#3effc1"/><stop offset="0.935" stop-color="#0afff5"/><stop offset="0.955" stop-color="#00d2ff"/><stop offset="0.972" stop-color="#00abff"/><stop offset="0.989" stop-color="#0049ff"/><stop offset="1.000" stop-color="#0002ff"/></linearGradient><linearGradient id="d58" x1="0" y1="0" x2="0" y2="1"><stop offset="0.000" stop-color="#0000a1"/><stop offset="0.013" stop-color="#0000bd"/><stop offset="0.064" stop-color="#0000c3"/><stop offset="0.135" stop-color="#0000ce"/><stop offset="0.221" stop-color="#0000db"/><stop offset="0.306" stop-color="#0000eb"/><stop offset="0.391" stop-color="#0000ff"/><stop offset="0.477" stop-color="#0017ff"/><stop offset="0.548" stop-color="#002eff"/><stop offset="0.605" stop-color="#0044ff"/><stop offset="0.662" stop-color="#005dff"/><stop offset="0.704" stop-color="#0073ff"/><stop offset="0.733" stop-color="#0083ff"/><stop offset="0.756" stop-color="#0034ff"/><stop offset="0.775" stop-color="#005aff"/><stop offset="0.795" stop-color="#0071ff"/><stop offset="0.815" stop-color="#00acff"/><stop offset="0.835" stop-color="#00ddff"/><stop offset="0.855" stop-color="#1effe1"/><stop offset="0.875" stop-color="#6aff95"/><stop offset="0.895" stop-color="#9cff63"/><stop offset="0.915" stop-color="#8dff72"/><stop offset="0.935" stop-color="#27ffd8"/><stop offset="0.955" stop-color="#00b4ff"/><stop offset="0.972" stop-color="#0070ff"/><stop offset="0.989" stop-color="#001eff"/><stop offset="1.000" stop-color="#0000ea"/></linearGradient><linearGradient id="d59" x1="0" y1="0" x2="0" y2="1"><stop offset="0.000" stop-color="#00009b"/><stop offset="0.013" stop-color="#0000b7"/><stop offset="0.064" stop-color="#0000bb"/><stop offset="0.135" stop-color="#0000c1"/><stop offset="0.221" stop-color="#0000c9"/><stop offset="0.306" stop-color="#0000d4"/><stop offset="0.391" stop-color="#0000e1"/><stop offset="0.477" stop-color="#0000f2"/><stop offset="0.548" stop-color="#0004ff"/><stop offset="0.605" stop-color="#0014ff"/><stop offset="0.662" stop-color="#0028ff"/><stop offset="0.704" stop-color="#003aff"/><stop offset="0.733" stop-color="#0048ff"/><stop offset="0.756" stop-color="#0013ff"/><stop offset="0.775" stop-color="#0035ff"/><stop offset="0.795" stop-color="#0058ff"/><stop offset="0.815" stop-color="#0098ff"/><stop offset="0.835" stop-color="#00ddff"/><stop offset="0.855" stop-color="#31ffce"/><stop offset="0.875" stop-color="#79ff86"/><stop offset="0.895" stop-color="#86ff79"/><stop offset="0.915" stop-color="#45ffba"/><stop offset="0.935" stop-color="#00c9ff"/><stop offset="0.955" stop-color="#0050ff"/><stop offset="0.972" stop-color="#0010ff"/><stop offset="0.989" stop-color="#0000e3"/><stop offset="1.000" stop-color="#0000cd"/></linearGradient><linearGradient id="d60" x1="0" y1="0" x2="0" y2="1"><stop offset="0.000" stop-color="#000099"/><stop offset="0.013" stop-color="#0000b4"/><stop offset="0.064" stop-color="#0000b7"/><stop offset="0.135" stop-color="#0000bb"/><stop offset="0.221" stop-color="#0000c1"/><stop offset="0.306" stop-color="#0000c9"/><stop offset="0.391" stop-color="#0000d1"/><stop offset="0.477" stop-color="#0000dc"/><stop offset="0.548" stop-color="#0000e6"/><stop offset="0.605" stop-color="#0000f0"/><stop offset="0.662" stop-color="#0000fb"/><stop offset="0.704" stop-color="#0006ff"/><stop offset="0.733" stop-color="#000dff"/><stop offset="0.756" stop-color="#0000ef"/><stop offset="0.775" stop-color="#000bff"/><stop offset="0.795" stop-color="#003cff"/><stop offset="0.815" stop-color="#0082ff"/><stop offset="0.835" stop-color="#00d6ff"/><stop offset="0.855" stop-color="#26ffd9"/><stop offset="0.875" stop-color="#48ffb7"/><stop offset="0.895" stop-color="#25ffda"/><stop offset="0.915" stop-color="#00caff"/><stop offset="0.935" stop-color="#005cff"/><stop offset="0.955" stop-color="#0001ff"/><stop offset="0.972" stop-color="#0000d6"/><stop offset="0.989" stop-color="#0000c4"/><stop offset="1.000" stop-color="#0000bd"/></linearGradient><linearGradient id="d61" x1="0" y1="0" x2="0" y2="1"><stop offset="0.000" stop-color="#000097"/><stop offset="0.013" stop-color="#0000b2"/><stop offset="0.064" stop-color="#0000b4"/><stop offset="0.135" stop-color="#0000b7"/><stop offset="0.221" stop-color="#0000bb"/><stop offset="0.306" stop-color="#0000bf"/><stop offset="0.391" stop-color="#0000c5"/><stop offset="0.477" stop-color="#0000cc"/><stop offset="0.548" stop-color="#0000d3"/><stop offset="0.605" stop-color="#0000db"/><stop offset="0.662" stop-color="#0000e4"/><stop offset="0.704" stop-color="#0000ee"/><stop offset="0.733" stop-color="#0000fa"/><stop offset="0.756" stop-color="#0000f0"/><stop offset="0.775" stop-color="#0012ff"/><stop offset="0.795" stop-color="#0054ff"/><stop offset="0.815" stop-color="#00a7ff"/><stop offset="0.835" stop-color="#09fff6"/><stop offset="0.855" stop-color="#43ffbc"/><stop offset="0.875" stop-color="#2cffd3"/><stop offset="0.895" stop-color="#00dcff"/><stop offset="0.915" stop-color="#007fff"/><stop offset="0.935" stop-color="#0026ff"/><stop offset="0.955" stop-color="#0000e1"/><stop offset="0.972" stop-color="#0000c4"/><stop offset="0.989" stop-color="#0000bb"/><stop offset="1.000" stop-color="#0000ba"/></linearGradient><linearGradient id="d62" x1="0" y1="0" x2="0" y2="1"><stop offset="0.000" stop-color="#00009b"/><stop offset="0.013" stop-color="#0000b6"/><stop offset="0.064" stop-color="#0000ba"/><stop offset="0.135" stop-color="#0000c0"/><stop offset="0.221" stop-color="#0000c8"/><stop offset="0.306" stop-color="#0000d1"/><stop offset="0.391" stop-color="#0000dd"/><stop offset="0.477" stop-color="#0000eb"/><stop offset="0.548" stop-color="#0000f9"/><stop offset="0.605" stop-color="#0008ff"/><stop offset="0.662" stop-color="#0018ff"/><stop offset="0.704" stop-color="#0029ff"/><stop offset="0.733" stop-color="#0039ff"/><stop offset="0.756" stop-color="#0018ff"/><stop offset="0.775" stop-color="#0042ff"/><stop offset="0.795" stop-color="#007fff"/><stop offset="0.815" stop-color="#00e5ff"/><stop offset="0.835" stop-color="#50ffaf"/><stop offset="0.855" stop-color="#7aff85"/><stop offset="0.875" stop-color="#3dffc2"/><stop offset="0.895" stop-color="#00d6ff"/><stop offset="0.915" stop-color="#007cff"/><stop offset="0.935" stop-color="#0028ff"/><stop offset="0.955" stop-color="#0000e1"/><stop offset="0.972" stop-color="#0000c3"/><stop offset="0.989" stop-color="#0000ba"/><stop offset="1.000" stop-color="#0000b9"/></linearGradient><linearGradient id="d63" x1="0" y1="0" x2="0" y2="1"><stop offset="0.000" stop-color="#00009c"/><stop offset="0.013" stop-color="#0000b8"/><stop offset="0.064" stop-color="#0000bc"/><stop offset="0.135" stop-color="#0000c2"/><stop offset="0.221" stop-color="#0000cb"/><stop offset="0.306" stop-color="#0000d6"/><stop offset="0.391" stop-color="#0000e3"/><stop offset="0.477" stop-color="#0000f3"/><stop offset="0.548" stop-color="#0004ff"/><stop offset="0.605" stop-color="#0012ff"/><stop offset="0.662" stop-color="#0022ff"/><stop offset="0.704" stop-color="#0030ff"/><stop offset="0.733" stop-color="#003bff"/><stop offset="0.756" stop-color="#000bff"/><stop offset="0.775" stop-color="#002cff"/><stop offset="0.795" stop-color="#005fff"/><stop offset="0.815" stop-color="#00c4ff"/><stop offset="0.835" stop-color="#2fffd0"/><stop offset="0.855" stop-color="#54ffab"/><stop offset="0.875" stop-color="#10ffef"/><stop offset="0.895" stop-color="#00afff"/><stop offset="0.915" stop-color="#0064ff"/><stop offset="0.935" stop-color="#001eff"/><stop offset="0.955" stop-color="#0000dd"/><stop offset="0.972" stop-color="#0000c1"/><stop offset="0.989" stop-color="#0000b9"/><stop offset="1.000" stop-color="#0000b9"/></linearGradient><linearGradient id="d64" x1="0" y1="0" x2="0" y2="1"><stop offset="0.000" stop-color="#000099"/><stop offset="0.013" stop-color="#0000b4"/><stop offset="0.064" stop-color="#0000b6"/><stop offset="0.135" stop-color="#0000b9"/><stop offset="0.221" stop-color="#0000bf"/><stop offset="0.306" stop-color="#0000c5"/><stop offset="0.391" stop-color="#0000cc"/><stop offset="0.477" stop-color="#0000d5"/><stop offset="0.548" stop-color="#0000df"/><stop offset="0.605" stop-color="#0000e8"/><stop offset="0.662" stop-color="#0000f3"/><stop offset="0.704" stop-color="#0000fd"/><stop offset="0.733" stop-color="#0006ff"/><stop offset="0.756" stop-color="#0000ec"/><stop offset="0.775" stop-color="#000aff"/><stop offset="0.795" stop-color="#0047ff"/><stop offset="0.815" stop-color="#00a6ff"/><stop offset="0.835" stop-color="#0cfff3"/><stop offset="0.855" stop-color="#28ffd7"/><stop offset="0.875" stop-color="#00dfff"/><stop offset="0.895" stop-color="#0084ff"/><stop offset="0.915" stop-color="#0044ff"/><stop offset="0.935" stop-color="#000bff"/><stop offset="0.955" stop-color="#0000d6"/><stop offset="0.972" stop-color="#0000bf"/><stop offset="0.989" stop-color="#0000b9"/><stop offset="1.000" stop-color="#0000b9"/></linearGradient><linearGradient id="d65" x1="0" y1="0" x2="0" y2="1"><stop offset="0.000" stop-color="#000099"/><stop offset="0.013" stop-color="#0000b4"/><stop offset="0.064" stop-color="#0000b7"/><stop offset="0.135" stop-color="#0000bb"/><stop offset="0.221" stop-color="#0000c1"/><stop offset="0.306" stop-color="#0000c9"/><stop offset="0.391" stop-color="#0000d2"/><stop offset="0.477" stop-color="#0000dd"/><stop offset="0.548" stop-color="#0000e8"/><stop offset="0.605" stop-color="#0000f3"/><stop offset="0.662" stop-color="#0001ff"/><stop offset="0.704" stop-color="#000cff"/><stop offset="0.733" stop-color="#0014ff"/><stop offset="0.756" stop-color="#0000f4"/><stop offset="0.775" stop-color="#0013ff"/><stop offset="0.795" stop-color="#004fff"/><stop offset="0.815" stop-color="#00aeff"/><stop offset="0.835" stop-color="#0ffff0"/><stop offset="0.855" stop-color="#23ffdc"/><stop offset="0.875" stop-color="#00daff"/><stop offset="0.895" stop-color="#0085ff"/><stop offset="0.915" stop-color="#0049ff"/><stop offset="0.935" stop-color="#000fff"/><stop offset="0.955" stop-color="#0000d8"/><stop offset="0.972" stop-color="#0000c0"/><stop offset="0.989" stop-color="#0000b9"/><stop offset="1.000" stop-color="#0000b9"/></linearGradient><linearGradient id="d66" x1="0" y1="0" x2="0" y2="1"><stop offset="0.000" stop-color="#00009e"/><stop offset="0.013" stop-color="#0000ba"/><stop offset="0.064" stop-color="#0000bf"/><stop offset="0.135" stop-color="#0000c7"/><stop offset="0.221" stop-color="#0000d2"/><stop offset="0.306" stop-color="#0000de"/><stop offset="0.391" stop-color="#0000ee"/><stop offset="0.477" stop-color="#0001ff"/><stop offset="0.548" stop-color="#0014ff"/><stop offset="0.605" stop-color="#0025ff"/><stop offset="0.662" stop-color="#0039ff"/><stop offset="0.704" stop-color="#004bff"/><stop offset="0.733" stop-color="#0058ff"/><stop offset="0.756" stop-color="#001cff"/><stop offset="0.775" stop-color="#0041ff"/><stop offset="0.795" stop-color="#0071ff"/><stop offset="0.815" stop-color="#00d6ff"/><stop offset="0.835" stop-color="#32ffcd"/><stop offset="0.855" stop-color="#41ffbe"/><stop offset="0.875" stop-color="#00fdff"/><stop offset="0.895" stop-color="#00aeff"/><stop offset="0.915" stop-color="#006fff"/><stop offset="0.935" stop-color="#0027ff"/><stop offset="0.955" stop-color="#0000e1"/><stop offset="0.972" stop-color="#0000c1"/><stop offset="0.989" stop-color="#0000b9"/><stop offset="1.000" stop-color="#0000b9"/></linearGradient><linearGradient id="d67" x1="0" y1="0" x2="0" y2="1"><stop offset="0.000" stop-color="#00009b"/><stop offset="0.013" stop-color="#0000b6"/><stop offset="0.064" stop-color="#0000ba"/><stop offset="0.135" stop-color="#0000c0"/><stop offset="0.221" stop-color="#0000c8"/><stop offset="0.306" stop-color="#0000d3"/><stop offset="0.391" stop-color="#0000e0"/><stop offset="0.477" stop-color="#0000f0"/><stop offset="0.548" stop-color="#0002ff"/><stop offset="0.605" stop-color="#0013ff"/><stop offset="0.662" stop-color="#0027ff"/><stop offset="0.704" stop-color="#0039ff"/><stop offset="0.733" stop-color="#0047ff"/><stop offset="0.756" stop-color="#0013ff"/><stop offset="0.775" stop-color="#0037ff"/><stop offset="0.795" stop-color="#0069ff"/><stop offset="0.815" stop-color="#00c7ff"/><stop offset="0.835" stop-color="#19ffe6"/><stop offset="0.855" stop-color="#28ffd7"/><stop offset="0.875" stop-color="#00edff"/><stop offset="0.895" stop-color="#00a7ff"/><stop offset="0.915" stop-color="#006aff"/><stop offset="0.935" stop-color="#0024ff"/><stop offset="0.955" stop-color="#0000df"/><stop offset="0.972" stop-color="#0000c1"/><stop offset="0.989" stop-color="#0000b9"/><stop offset="1.000" stop-color="#0000b9"/></linearGradient><linearGradient id="d68" x1="0" y1="0" x2="0" y2="1"><stop offset="0.000" stop-color="#000098"/><stop offset="0.013" stop-color="#0000b3"/><stop offset="0.064" stop-color="#0000b5"/><stop offset="0.135" stop-color="#0000b9"/><stop offset="0.221" stop-color="#0000be"/><stop offset="0.306" stop-color="#0000c4"/><stop offset="0.391" stop-color="#0000ca"/><stop offset="0.477" stop-color="#0000d2"/><stop offset="0.548" stop-color="#0000da"/><stop offset="0.605" stop-color="#0000e2"/><stop offset="0.662" stop-color="#0000ea"/><stop offset="0.704" stop-color="#0000f1"/><stop offset="0.733" stop-color="#0000f7"/><stop offset="0.756" stop-color="#0000e4"/><stop offset="0.775" stop-color="#0000ff"/><stop offset="0.795" stop-color="#003fff"/><stop offset="0.815" stop-color="#008eff"/><stop offset="0.835" stop-color="#00d7ff"/><stop offset="0.855" stop-color="#00ebff"/><stop offset="0.875" stop-color="#00beff"/><stop offset="0.895" stop-color="#007dff"/><stop offset="0.915" stop-color="#0043ff"/><stop offset="0.935" stop-color="#0009ff"/><stop offset="0.955" stop-color="#0000d5"/><stop offset="0.972" stop-color="#0000bf"/><stop offset="0.989" stop-color="#0000b9"/><stop offset="1.000" stop-color="#0000b9"/></linearGradient><linearGradient id="d69" x1="0" y1="0" x2="0" y2="1"><stop offset="0.000" stop-color="#000098"/><stop offset="0.013" stop-color="#0000b3"/><stop offset="0.064" stop-color="#0000b5"/><stop offset="0.135" stop-color="#0000b8"/><stop offset="0.221" stop-color="#0000bd"/><stop offset="0.306" stop-color="#0000c2"/><stop offset="0.391" stop-color="#0000c9"/><stop offset="0.477" stop-color="#0000d1"/><stop offset="0.548" stop-color="#0000da"/><stop offset="0.605" stop-color="#0000e1"/><stop offset="0.662" stop-color="#0000eb"/><stop offset="0.704" stop-color="#0000f3"/><stop offset="0.733" stop-color="#0000fa"/><stop offset="0.756" stop-color="#0000e7"/><stop offset="0.775" stop-color="#0005ff"/><stop offset="0.795" stop-color="#0046ff"/><stop offset="0.815" stop-color="#0098ff"/><stop offset="0.835" stop-color="#00e5ff"/><stop offset="0.855" stop-color="#06fff9"/><stop offset="0.875" stop-color="#00e0ff"/><stop offset="0.895" stop-color="#009aff"/><stop offset="0.915" stop-color="#0052ff"/><stop offset="0.935" stop-color="#000fff"/><stop offset="0.955" stop-color="#0000d6"/><stop offset="0.972" stop-color="#0000bf"/><stop offset="0.989" stop-color="#0000b9"/><stop offset="1.000" stop-color="#0000b9"/></linearGradient><linearGradient id="d70" x1="0" y1="0" x2="0" y2="1"><stop offset="0.000" stop-color="#00009a"/><stop offset="0.013" stop-color="#0000b5"/><stop offset="0.064" stop-color="#0000b8"/><stop offset="0.135" stop-color="#0000bd"/><stop offset="0.221" stop-color="#0000c4"/><stop offset="0.306" stop-color="#0000cc"/><stop offset="0.391" stop-color="#0000d7"/><stop offset="0.477" stop-color="#0000e3"/><stop offset="0.548" stop-color="#0000f0"/><stop offset="0.605" stop-color="#0000fc"/><stop offset="0.662" stop-color="#000bff"/><stop offset="0.704" stop-color="#001bff"/><stop offset="0.733" stop-color="#002cff"/><stop offset="0.756" stop-color="#0013ff"/><stop offset="0.775" stop-color="#003fff"/><stop offset="0.795" stop-color="#0086ff"/><stop offset="0.815" stop-color="#00e8ff"/><stop offset="0.835" stop-color="#41ffbe"/><stop offset="0.855" stop-color="#66ff99"/><stop offset="0.875" stop-color="#3dffc2"/><stop offset="0.895" stop-color="#00e2ff"/><stop offset="0.915" stop-color="#0080ff"/><stop offset="0.935" stop-color="#0026ff"/><stop offset="0.955" stop-color="#0000df"/><stop offset="0.972" stop-color="#0000c2"/><stop offset="0.989" stop-color="#0000ba"/><stop offset="1.000" stop-color="#0000b9"/></linearGradient><linearGradient id="d71" x1="0" y1="0" x2="0" y2="1"><stop offset="0.000" stop-color="#00009d"/><stop offset="0.013" stop-color="#0000b9"/><stop offset="0.064" stop-color="#0000be"/><stop offset="0.135" stop-color="#0000c5"/><stop offset="0.221" stop-color="#0000cf"/><stop offset="0.306" stop-color="#0000db"/><stop offset="0.391" stop-color="#0000e8"/><stop offset="0.477" stop-color="#0000f8"/><stop offset="0.548" stop-color="#0008ff"/><stop offset="0.605" stop-color="#0016ff"/><stop offset="0.662" stop-color="#0026ff"/><stop offset="0.704" stop-color="#0038ff"/><stop offset="0.733" stop-color="#004bff"/><stop offset="0.756" stop-color="#0028ff"/><stop offset="0.775" stop-color="#0059ff"/><stop offset="0.795" stop-color="#009fff"/><stop offset="0.815" stop-color="#09fff6"/><stop offset="0.835" stop-color="#66ff99"/><stop offset="0.855" stop-color="#92ff6d"/><stop offset="0.875" stop-color="#6cff93"/><stop offset="0.895" stop-color="#0afff5"/><stop offset="0.915" stop-color="#009aff"/><stop offset="0.935" stop-color="#0033ff"/><stop offset="0.955" stop-color="#0000e4"/><stop offset="0.972" stop-color="#0000c3"/><stop offset="0.989" stop-color="#0000ba"/><stop offset="1.000" stop-color="#0000b9"/></linearGradient><linearGradient id="d72" x1="0" y1="0" x2="0" y2="1"><stop offset="0.000" stop-color="#00009b"/><stop offset="0.013" stop-color="#0000b7"/><stop offset="0.064" stop-color="#0000ba"/><stop offset="0.135" stop-color="#0000c0"/><stop offset="0.221" stop-color="#0000c8"/><stop offset="0.306" stop-color="#0000d1"/><stop offset="0.391" stop-color="#0000dc"/><stop offset="0.477" stop-color="#0000ea"/><stop offset="0.548" stop-color="#0000f8"/><stop offset="0.605" stop-color="#0006ff"/><stop offset="0.662" stop-color="#0015ff"/><stop offset="0.704" stop-color="#0022ff"/><stop offset="0.733" stop-color="#002dff"/><stop offset="0.756" stop-color="#0005ff"/><stop offset="0.775" stop-color="#0029ff"/><stop offset="0.795" stop-color="#0064ff"/><stop offset="0.815" stop-color="#00c3ff"/><stop offset="0.835" stop-color="#21ffde"/><stop offset="0.855" stop-color="#59ffa6"/><stop offset="0.875" stop-color="#44ffbb"/><stop offset="0.895" stop-color="#00f0ff"/><stop offset="0.915" stop-color="#008aff"/><stop offset="0.935" stop-color="#002aff"/><stop offset="0.955" stop-color="#0000df"/><stop offset="0.972" stop-color="#0000c1"/><stop offset="0.989" stop-color="#0000b9"/><stop offset="1.000" stop-color="#0000b9"/></linearGradient><linearGradient id="d73" x1="0" y1="0" x2="0" y2="1"><stop offset="0.000" stop-color="#000097"/><stop offset="0.013" stop-color="#0000b2"/><stop offset="0.064" stop-color="#0000b4"/><stop offset="0.135" stop-color="#0000b6"/><stop offset="0.221" stop-color="#0000ba"/><stop offset="0.306" stop-color="#0000be"/><stop offset="0.391" stop-color="#0000c4"/><stop offset="0.477" stop-color="#0000ca"/><stop offset="0.548" stop-color="#0000d1"/><stop offset="0.605" stop-color="#0000d8"/><stop offset="0.662" stop-color="#0000e0"/><stop offset="0.704" stop-color="#0000e8"/><stop offset="0.733" stop-color="#0000ee"/><stop offset="0.756" stop-color="#0000e0"/><stop offset="0.775" stop-color="#0000fd"/><stop offset="0.795" stop-color="#0041ff"/><stop offset="0.815" stop-color="#0094ff"/><stop offset="0.835" stop-color="#00eeff"/><stop offset="0.855" stop-color="#2cffd3"/><stop offset="0.875" stop-color="#1effe1"/><stop offset="0.895" stop-color="#00cfff"/><stop offset="0.915" stop-color="#006dff"/><stop offset="0.935" stop-color="#0017ff"/><stop offset="0.955" stop-color="#0000d8"/><stop offset="0.972" stop-color="#0000c0"/><stop offset="0.989" stop-color="#0000b9"/><stop offset="1.000" stop-color="#0000b9"/></linearGradient><linearGradient id="d74" x1="0" y1="0" x2="0" y2="1"><stop offset="0.000" stop-color="#00009b"/><stop offset="0.013" stop-color="#0000b7"/><stop offset="0.064" stop-color="#0000bb"/><stop offset="0.135" stop-color="#0000c1"/><stop offset="0.221" stop-color="#0000c9"/><stop offset="0.306" stop-color="#0000d2"/><stop offset="0.391" stop-color="#0000de"/><stop offset="0.477" stop-color="#0000eb"/><stop offset="0.548" stop-color="#0000f8"/><stop offset="0.605" stop-color="#0004ff"/><stop offset="0.662" stop-color="#0012ff"/><stop offset="0.704" stop-color="#0020ff"/><stop offset="0.733" stop-color="#002fff"/><stop offset="0.756" stop-color="#0012ff"/><stop offset="0.775" stop-color="#003bff"/><stop offset="0.795" stop-color="#007cff"/><stop offset="0.815" stop-color="#00d7ff"/><stop offset="0.835" stop-color="#33ffcc"/><stop offset="0.855" stop-color="#6eff91"/><stop offset="0.875" stop-color="#5effa1"/><stop offset="0.895" stop-color="#07fff8"/><stop offset="0.915" stop-color="#0097ff"/><stop offset="0.935" stop-color="#002fff"/><stop offset="0.955" stop-color="#0000e1"/><stop offset="0.972" stop-color="#0000c2"/><stop offset="0.989" stop-color="#0000ba"/><stop offset="1.000" stop-color="#0000b9"/></linearGradient><linearGradient id="d75" x1="0" y1="0" x2="0" y2="1"><stop offset="0.000" stop-color="#00009a"/><stop offset="0.013" stop-color="#0000b5"/><stop offset="0.064" stop-color="#0000b8"/><stop offset="0.135" stop-color="#0000bc"/><stop offset="0.221" stop-color="#0000c3"/><stop offset="0.306" stop-color="#0000cb"/><stop offset="0.391" stop-color="#0000d5"/><stop offset="0.477" stop-color="#0000e1"/><stop offset="0.548" stop-color="#0000ed"/><stop offset="0.605" stop-color="#0000f8"/><stop offset="0.662" stop-color="#0008ff"/><stop offset="0.704" stop-color="#0018ff"/><stop offset="0.733" stop-color="#002aff"/><stop offset="0.756" stop-color="#0013ff"/><stop offset="0.775" stop-color="#003fff"/><stop offset="0.795" stop-color="#0082ff"/><stop offset="0.815" stop-color="#00dcff"/><stop offset="0.835" stop-color="#37ffc8"/><stop offset="0.855" stop-color="#74ff8b"/><stop offset="0.875" stop-color="#66ff99"/><stop offset="0.895" stop-color="#0ffff0"/><stop offset="0.915" stop-color="#009cff"/><stop offset="0.935" stop-color="#0031ff"/><stop offset="0.955" stop-color="#0000e2"/><stop offset="0.972" stop-color="#0000c3"/><stop offset="0.989" stop-color="#0000ba"/><stop offset="1.000" stop-color="#0000b9"/></linearGradient><linearGradient id="d76" x1="0" y1="0" x2="0" y2="1"><stop offset="0.000" stop-color="#00009a"/><stop offset="0.013" stop-color="#0000b5"/><stop offset="0.064" stop-color="#0000b8"/><stop offset="0.135" stop-color="#0000bd"/><stop offset="0.221" stop-color="#0000c3"/><stop offset="0.306" stop-color="#0000cb"/><stop offset="0.391" stop-color="#0000d4"/><stop offset="0.477" stop-color="#0000df"/><stop offset="0.548" stop-color="#0000ea"/><stop offset="0.605" stop-color="#0000f5"/><stop offset="0.662" stop-color="#0003ff"/><stop offset="0.704" stop-color="#000fff"/><stop offset="0.733" stop-color="#0018ff"/><stop offset="0.756" stop-color="#0000f7"/><stop offset="0.775" stop-color="#0018ff"/><stop offset="0.795" stop-color="#0050ff"/><stop offset="0.815" stop-color="#00a3ff"/><stop offset="0.835" stop-color="#00ffff"/><stop offset="0.855" stop-color="#46ffb9"/><stop offset="0.875" stop-color="#47ffb8"/><stop offset="0.895" stop-color="#00fbff"/><stop offset="0.915" stop-color="#0091ff"/><stop offset="0.935" stop-color="#002bff"/><stop offset="0.955" stop-color="#0000df"/><stop offset="0.972" stop-color="#0000c1"/><stop offset="0.989" stop-color="#0000ba"/><stop offset="1.000" stop-color="#0000b9"/></linearGradient><linearGradient id="d77" x1="0" y1="0" x2="0" y2="1"><stop offset="0.000" stop-color="#00009b"/><stop offset="0.013" stop-color="#0000b6"/><stop offset="0.064" stop-color="#0000b9"/><stop offset="0.135" stop-color="#0000bf"/><stop offset="0.221" stop-color="#0000c6"/><stop offset="0.306" stop-color="#0000cf"/><stop offset="0.391" stop-color="#0000da"/><stop offset="0.477" stop-color="#0000e6"/><stop offset="0.548" stop-color="#0000f2"/><stop offset="0.605" stop-color="#0000fd"/><stop offset="0.662" stop-color="#000bff"/><stop offset="0.704" stop-color="#0015ff"/><stop offset="0.733" stop-color="#001dff"/><stop offset="0.756" stop-color="#0000f9"/><stop offset="0.775" stop-color="#0019ff"/><stop offset="0.795" stop-color="#0050ff"/><stop offset="0.815" stop-color="#00a3ff"/><stop offset="0.835" stop-color="#02fffd"/><stop offset="0.855" stop-color="#4dffb2"/><stop offset="0.875" stop-color="#52ffad"/><stop offset="0.895" stop-color="#07fff8"/><stop offset="0.915" stop-color="#0097ff"/><stop offset="0.935" stop-color="#002dff"/><stop offset="0.955" stop-color="#0000e0"/><stop offset="0.972" stop-color="#0000c1"/><stop offset="0.989" stop-color="#0000ba"/><stop offset="1.000" stop-color="#0000b9"/></linearGradient><linearGradient id="d78" x1="0" y1="0" x2="0" y2="1"><stop offset="0.000" stop-color="#00009a"/><stop offset="0.013" stop-color="#0000b6"/><stop offset="0.064" stop-color="#0000b9"/><stop offset="0.135" stop-color="#0000be"/><stop offset="0.221" stop-color="#0000c5"/><stop offset="0.306" stop-color="#0000ce"/><stop offset="0.391" stop-color="#0000d8"/><stop offset="0.477" stop-color="#0000e4"/><stop offset="0.548" stop-color="#0000f0"/><stop offset="0.605" stop-color="#0000fb"/><stop offset="0.662" stop-color="#0009ff"/><stop offset="0.704" stop-color="#0017ff"/><stop offset="0.733" stop-color="#0026ff"/><stop offset="0.756" stop-color="#000dff"/><stop offset="0.775" stop-color="#0034ff"/><stop offset="0.795" stop-color="#0074ff"/><stop offset="0.815" stop-color="#00ccff"/><stop offset="0.835" stop-color="#2bffd4"/><stop offset="0.855" stop-color="#75ff8a"/><stop offset="0.875" stop-color="#74ff8b"/><stop offset="0.895" stop-color="#20ffdf"/><stop offset="0.915" stop-color="#00a6ff"/><stop offset="0.935" stop-color="#0035ff"/><stop offset="0.955" stop-color="#0000e3"/><stop offset="0.972" stop-color="#0000c3"/><stop offset="0.989" stop-color="#0000ba"/><stop offset="1.000" stop-color="#0000b9"/></linearGradient><linearGradient id="d79" x1="0" y1="0" x2="0" y2="1"><stop offset="0.000" stop-color="#000098"/><stop offset="0.013" stop-color="#0000b3"/><stop offset="0.064" stop-color="#0000b5"/><stop offset="0.135" stop-color="#0000b8"/><stop offset="0.221" stop-color="#0000bd"/><stop offset="0.306" stop-color="#0000c3"/><stop offset="0.391" stop-color="#0000cb"/><stop offset="0.477" stop-color="#0000d5"/><stop offset="0.548" stop-color="#0000e0"/><stop offset="0.605" stop-color="#0000eb"/><stop offset="0.662" stop-color="#0000f9"/><stop offset="0.704" stop-color="#000aff"/><stop offset="0.733" stop-color="#001dff"/><stop offset="0.756" stop-color="#000cff"/><stop offset="0.775" stop-color="#0036ff"/><stop offset="0.795" stop-color="#0079ff"/><stop offset="0.815" stop-color="#00d0ff"/><stop offset="0.835" stop-color="#2fffd0"/><stop offset="0.855" stop-color="#79ff86"/><stop offset="0.875" stop-color="#7aff85"/><stop offset="0.895" stop-color="#26ffd9"/><stop offset="0.915" stop-color="#00aaff"/><stop offset="0.935" stop-color="#0036ff"/><stop offset="0.955" stop-color="#0000e3"/><stop offset="0.972" stop-color="#0000c3"/><stop offset="0.989" stop-color="#0000ba"/><stop offset="1.000" stop-color="#0000b9"/></linearGradient><linearGradient id="d80" x1="0" y1="0" x2="0" y2="1"><stop offset="0.000" stop-color="#00009f"/><stop offset="0.013" stop-color="#0000ba"/><stop offset="0.064" stop-color="#0000c0"/><stop offset="0.135" stop-color="#0000c8"/><stop offset="0.221" stop-color="#0000d3"/><stop offset="0.306" stop-color="#0000e0"/><stop offset="0.391" stop-color="#0000ee"/><stop offset="0.477" stop-color="#0000ff"/><stop offset="0.548" stop-color="#0011ff"/><stop offset="0.605" stop-color="#0020ff"/><stop offset="0.662" stop-color="#0030ff"/><stop offset="0.704" stop-color="#003eff"/><stop offset="0.733" stop-color="#0049ff"/><stop offset="0.756" stop-color="#0013ff"/><stop offset="0.775" stop-color="#0036ff"/><stop offset="0.795" stop-color="#0065ff"/><stop offset="0.815" stop-color="#00bcff"/><stop offset="0.835" stop-color="#1dffe2"/><stop offset="0.855" stop-color="#71ff8e"/><stop offset="0.875" stop-color="#7fff80"/><stop offset="0.895" stop-color="#36ffc9"/><stop offset="0.915" stop-color="#00bdff"/><stop offset="0.935" stop-color="#0043ff"/><stop offset="0.955" stop-color="#0000e7"/><stop offset="0.972" stop-color="#0000c3"/><stop offset="0.989" stop-color="#0000ba"/><stop offset="1.000" stop-color="#0000b9"/></linearGradient><linearGradient id="d81" x1="0" y1="0" x2="0" y2="1"><stop offset="0.000" stop-color="#00009b"/><stop offset="0.013" stop-color="#0000b6"/><stop offset="0.064" stop-color="#0000b9"/><stop offset="0.135" stop-color="#0000bf"/><stop offset="0.221" stop-color="#0000c6"/><stop offset="0.306" stop-color="#0000d0"/><stop offset="0.391" stop-color="#0000db"/><stop offset="0.477" stop-color="#0000e9"/><stop offset="0.548" stop-color="#0000f7"/><stop offset="0.605" stop-color="#0007ff"/><stop offset="0.662" stop-color="#0018ff"/><stop offset="0.704" stop-color="#0027ff"/><stop offset="0.733" stop-color="#0033ff"/><stop offset="0.756" stop-color="#0008ff"/><stop offset="0.775" stop-color="#002bff"/><stop offset="0.795" stop-color="#005eff"/><stop offset="0.815" stop-color="#00b3ff"/><stop offset="0.835" stop-color="#14ffeb"/><stop offset="0.855" stop-color="#67ff98"/><stop offset="0.875" stop-color="#76ff89"/><stop offset="0.895" stop-color="#2fffd0"/><stop offset="0.915" stop-color="#00b8ff"/><stop offset="0.935" stop-color="#0040ff"/><stop offset="0.955" stop-color="#0000e6"/><stop offset="0.972" stop-color="#0000c3"/><stop offset="0.989" stop-color="#0000ba"/><stop offset="1.000" stop-color="#0000b9"/></linearGradient><linearGradient id="d82" x1="0" y1="0" x2="0" y2="1"><stop offset="0.000" stop-color="#00009e"/><stop offset="0.013" stop-color="#0000ba"/><stop offset="0.064" stop-color="#0000bf"/><stop offset="0.135" stop-color="#0000c7"/><stop offset="0.221" stop-color="#0000d2"/><stop offset="0.306" stop-color="#0000de"/><stop offset="0.391" stop-color="#0000ed"/><stop offset="0.477" stop-color="#0001ff"/><stop offset="0.548" stop-color="#0013ff"/><stop offset="0.605" stop-color="#0023ff"/><stop offset="0.662" stop-color="#0037ff"/><stop offset="0.704" stop-color="#004aff"/><stop offset="0.733" stop-color="#005eff"/><stop offset="0.756" stop-color="#002eff"/><stop offset="0.775" stop-color="#005dff"/><stop offset="0.795" stop-color="#0096ff"/><stop offset="0.815" stop-color="#00f6ff"/><stop offset="0.835" stop-color="#55ffaa"/><stop offset="0.855" stop-color="#9eff61"/><stop offset="0.875" stop-color="#a1ff5e"/><stop offset="0.895" stop-color="#51ffae"/><stop offset="0.915" stop-color="#00d1ff"/><stop offset="0.935" stop-color="#0050ff"/><stop offset="0.955" stop-color="#0000ed"/><stop offset="0.972" stop-color="#0000c5"/><stop offset="0.989" stop-color="#0000bb"/><stop offset="1.000" stop-color="#0000b9"/></linearGradient><linearGradient id="d83" x1="0" y1="0" x2="0" y2="1"><stop offset="0.000" stop-color="#000097"/><stop offset="0.013" stop-color="#0000b2"/><stop offset="0.064" stop-color="#0000b4"/><stop offset="0.135" stop-color="#0000b6"/><stop offset="0.221" stop-color="#0000ba"/><stop offset="0.306" stop-color="#0000be"/><stop offset="0.391" stop-color="#0000c4"/><stop offset="0.477" stop-color="#0000cb"/><stop offset="0.548" stop-color="#0000d1"/><stop offset="0.605" stop-color="#0000d8"/><stop offset="0.662" stop-color="#0000e1"/><stop offset="0.704" stop-color="#0000ee"/><stop offset="0.733" stop-color="#0000fd"/><stop offset="0.756" stop-color="#0000fa"/><stop offset="0.775" stop-color="#0026ff"/><stop offset="0.795" stop-color="#0076ff"/><stop offset="0.815" stop-color="#00d0ff"/><stop offset="0.835" stop-color="#2dffd2"/><stop offset="0.855" stop-color="#6eff91"/><stop offset="0.875" stop-color="#69ff96"/><stop offset="0.895" stop-color="#18ffe7"/><stop offset="0.915" stop-color="#00a2ff"/><stop offset="0.935" stop-color="#0032ff"/><stop offset="0.955" stop-color="#0000e3"/><stop offset="0.972" stop-color="#0000c3"/><stop offset="0.989" stop-color="#0000bb"/><stop offset="1.000" stop-color="#0000b9"/></linearGradient><linearGradient id="d84" x1="0" y1="0" x2="0" y2="1"><stop offset="0.000" stop-color="#000098"/><stop offset="0.013" stop-color="#0000b4"/><stop offset="0.064" stop-color="#0000b6"/><stop offset="0.135" stop-color="#0000b9"/><stop offset="0.221" stop-color="#0000bf"/><stop offset="0.306" stop-color="#0000c5"/><stop offset="0.391" stop-color="#0000cd"/><stop offset="0.477" stop-color="#0000d7"/><stop offset="0.548" stop-color="#0000e0"/><stop offset="0.605" stop-color="#0000e9"/><stop offset="0.662" stop-color="#0000f3"/><stop offset="0.704" stop-color="#0000fc"/><stop offset="0.733" stop-color="#0005ff"/><stop offset="0.756" stop-color="#0000ee"/><stop offset="0.775" stop-color="#0012ff"/><stop offset="0.795" stop-color="#005bff"/><stop offset="0.815" stop-color="#00b8ff"/><stop offset="0.835" stop-color="#18ffe7"/><stop offset="0.855" stop-color="#5cffa3"/><stop offset="0.875" stop-color="#5cffa3"/><stop offset="0.895" stop-color="#12ffed"/><stop offset="0.915" stop-color="#00a3ff"/><stop offset="0.935" stop-color="#0035ff"/><stop offset="0.955" stop-color="#0000e4"/><stop offset="0.972" stop-color="#0000c3"/><stop offset="0.989" stop-color="#0000ba"/><stop offset="1.000" stop-color="#0000b9"/></linearGradient><linearGradient id="d85" x1="0" y1="0" x2="0" y2="1"><stop offset="0.000" stop-color="#00009c"/><stop offset="0.013" stop-color="#0000b8"/><stop offset="0.064" stop-color="#0000bc"/><stop offset="0.135" stop-color="#0000c3"/><stop offset="0.221" stop-color="#0000cc"/><stop offset="0.306" stop-color="#0000d7"/><stop offset="0.391" stop-color="#0000e4"/><stop offset="0.477" stop-color="#0000f3"/><stop offset="0.548" stop-color="#0003ff"/><stop offset="0.605" stop-color="#0010ff"/><stop offset="0.662" stop-color="#0020ff"/><stop offset="0.704" stop-color="#002dff"/><stop offset="0.733" stop-color="#0038ff"/><stop offset="0.756" stop-color="#000eff"/><stop offset="0.775" stop-color="#003aff"/><stop offset="0.795" stop-color="#007dff"/><stop offset="0.815" stop-color="#00e3ff"/><stop offset="0.835" stop-color="#41ffbe"/><stop offset="0.855" stop-color="#7dff82"/><stop offset="0.875" stop-color="#78ff87"/><stop offset="0.895" stop-color="#2fffd0"/><stop offset="0.915" stop-color="#00bfff"/><stop offset="0.935" stop-color="#0049ff"/><stop offset="0.955" stop-color="#0000ec"/><stop offset="0.972" stop-color="#0000c5"/><stop offset="0.989" stop-color="#0000bb"/><stop offset="1.000" stop-color="#0000b9"/></linearGradient><linearGradient id="d86" x1="0" y1="0" x2="0" y2="1"><stop offset="0.000" stop-color="#00009a"/><stop offset="0.013" stop-color="#0000b5"/><stop offset="0.064" stop-color="#0000b8"/><stop offset="0.135" stop-color="#0000bd"/><stop offset="0.221" stop-color="#0000c5"/><stop offset="0.306" stop-color="#0000ce"/><stop offset="0.391" stop-color="#0000d9"/><stop offset="0.477" stop-color="#0000e8"/><stop offset="0.548" stop-color="#0000f7"/><stop offset="0.605" stop-color="#0007ff"/><stop offset="0.662" stop-color="#001aff"/><stop offset="0.704" stop-color="#002eff"/><stop offset="0.733" stop-color="#0044ff"/><stop offset="0.756" stop-color="#0029ff"/><stop offset="0.775" stop-color="#0064ff"/><stop offset="0.795" stop-color="#00b4ff"/><stop offset="0.815" stop-color="#1effe1"/><stop offset="0.835" stop-color="#71ff8e"/><stop offset="0.855" stop-color="#9bff64"/><stop offset="0.875" stop-color="#87ff78"/><stop offset="0.895" stop-color="#3affc5"/><stop offset="0.915" stop-color="#00c9ff"/><stop offset="0.935" stop-color="#0051ff"/><stop offset="0.955" stop-color="#0000f1"/><stop offset="0.972" stop-color="#0000c8"/><stop offset="0.989" stop-color="#0000bc"/><stop offset="1.000" stop-color="#0000ba"/></linearGradient><linearGradient id="d87" x1="0" y1="0" x2="0" y2="1"><stop offset="0.000" stop-color="#00009d"/><stop offset="0.013" stop-color="#0000b8"/><stop offset="0.064" stop-color="#0000bd"/><stop offset="0.135" stop-color="#0000c4"/><stop offset="0.221" stop-color="#0000cd"/><stop offset="0.306" stop-color="#0000d9"/><stop offset="0.391" stop-color="#0000e6"/><stop offset="0.477" stop-color="#0000f6"/><stop offset="0.548" stop-color="#0007ff"/><stop offset="0.605" stop-color="#0016ff"/><stop offset="0.662" stop-color="#0027ff"/><stop offset="0.704" stop-color="#003bff"/><stop offset="0.733" stop-color="#0050ff"/><stop offset="0.756" stop-color="#0032ff"/><stop offset="0.775" stop-color="#006eff"/><stop offset="0.795" stop-color="#00baff"/><stop offset="0.815" stop-color="#1cffe3"/><stop offset="0.835" stop-color="#5fffa0"/><stop offset="0.855" stop-color="#7bff84"/><stop offset="0.875" stop-color="#64ff9b"/><stop offset="0.895" stop-color="#20ffdf"/><stop offset="0.915" stop-color="#00beff"/><stop offset="0.935" stop-color="#004fff"/><stop offset="0.955" stop-color="#0000f1"/><stop offset="0.972" stop-color="#0000c9"/><stop offset="0.989" stop-color="#0000bc"/><stop offset="1.000" stop-color="#0000ba"/></linearGradient><linearGradient id="d88" x1="0" y1="0" x2="0" y2="1"><stop offset="0.000" stop-color="#000098"/><stop offset="0.013" stop-color="#0000b3"/><stop offset="0.064" stop-color="#0000b4"/><stop offset="0.135" stop-color="#0000b7"/><stop offset="0.221" stop-color="#0000bc"/><stop offset="0.306" stop-color="#0000c1"/><stop offset="0.391" stop-color="#0000c8"/><stop offset="0.477" stop-color="#0000d0"/><stop offset="0.548" stop-color="#0000d8"/><stop offset="0.605" stop-color="#0000e0"/><stop offset="0.662" stop-color="#0000e9"/><stop offset="0.704" stop-color="#0000f2"/><stop offset="0.733" stop-color="#0000fb"/><stop offset="0.756" stop-color="#0000ec"/><stop offset="0.775" stop-color="#0010ff"/><stop offset="0.795" stop-color="#0051ff"/><stop offset="0.815" stop-color="#008dff"/><stop offset="0.835" stop-color="#00b5ff"/><stop offset="0.855" stop-color="#00c8ff"/><stop offset="0.875" stop-color="#00c0ff"/><stop offset="0.895" stop-color="#009eff"/><stop offset="0.915" stop-color="#0066ff"/><stop offset="0.935" stop-color="#001fff"/><stop offset="0.955" stop-color="#0000df"/><stop offset="0.972" stop-color="#0000c3"/><stop offset="0.989" stop-color="#0000bb"/><stop offset="1.000" stop-color="#0000b9"/></linearGradient><linearGradient id="d89" x1="0" y1="0" x2="0" y2="1"><stop offset="0.000" stop-color="#000097"/><stop offset="0.013" stop-color="#0000b2"/><stop offset="0.064" stop-color="#0000b3"/><stop offset="0.135" stop-color="#0000b6"/><stop offset="0.221" stop-color="#0000b9"/><stop offset="0.306" stop-color="#0000be"/><stop offset="0.391" stop-color="#0000c3"/><stop offset="0.477" stop-color="#0000c9"/><stop offset="0.548" stop-color="#0000cf"/><stop offset="0.605" stop-color="#0000d4"/><stop offset="0.662" stop-color="#0000db"/><stop offset="0.704" stop-color="#0000e1"/><stop offset="0.733" stop-color="#0000e6"/><stop offset="0.756" stop-color="#0000dc"/><stop offset="0.775" stop-color="#0000f5"/><stop offset="0.795" stop-color="#002bff"/><stop offset="0.815" stop-color="#004fff"/><stop offset="0.835" stop-color="#0063ff"/><stop offset="0.855" stop-color="#006aff"/><stop offset="0.875" stop-color="#0067ff"/><stop offset="0.895" stop-color="#0058ff"/><stop offset="0.915" stop-color="#0038ff"/><stop offset="0.935" stop-color="#0007ff"/><stop offset="0.955" stop-color="#0000d6"/><stop offset="0.972" stop-color="#0000c0"/><stop offset="0.989" stop-color="#0000ba"/><stop offset="1.000" stop-color="#0000b9"/></linearGradient><linearGradient id="d90" x1="0" y1="0" x2="0" y2="1"><stop offset="0.000" stop-color="#00009c"/><stop offset="0.013" stop-color="#0000b8"/><stop offset="0.064" stop-color="#0000bc"/><stop offset="0.135" stop-color="#0000c2"/><stop offset="0.221" stop-color="#0000cb"/><stop offset="0.306" stop-color="#0000d5"/><stop offset="0.391" stop-color="#0000e1"/><stop offset="0.477" stop-color="#0000ef"/><stop offset="0.548" stop-color="#0000fd"/><stop offset="0.605" stop-color="#000bff"/><stop offset="0.662" stop-color="#0019ff"/><stop offset="0.704" stop-color="#0025ff"/><stop offset="0.733" stop-color="#002dff"/><stop offset="0.756" stop-color="#0003ff"/><stop offset="0.775" stop-color="#001fff"/><stop offset="0.795" stop-color="#0043ff"/><stop offset="0.815" stop-color="#006bff"/><stop offset="0.835" stop-color="#007bff"/><stop offset="0.855" stop-color="#0080ff"/><stop offset="0.875" stop-color="#007eff"/><stop offset="0.895" stop-color="#0073ff"/><stop offset="0.915" stop-color="#0053ff"/><stop offset="0.935" stop-color="#0019ff"/><stop offset="0.955" stop-color="#0000dc"/><stop offset="0.972" stop-color="#0000c1"/><stop offset="0.989" stop-color="#0000b9"/><stop offset="1.000" stop-color="#0000b9"/></linearGradient><linearGradient id="d91" x1="0" y1="0" x2="0" y2="1"><stop offset="0.000" stop-color="#000099"/><stop offset="0.013" stop-color="#0000b4"/><stop offset="0.064" stop-color="#0000b6"/><stop offset="0.135" stop-color="#0000ba"/><stop offset="0.221" stop-color="#0000c0"/><stop offset="0.306" stop-color="#0000c7"/><stop offset="0.391" stop-color="#0000d0"/><stop offset="0.477" stop-color="#0000db"/><stop offset="0.548" stop-color="#0000e6"/><stop offset="0.605" stop-color="#0000f0"/><stop offset="0.662" stop-color="#0000fc"/><stop offset="0.704" stop-color="#0008ff"/><stop offset="0.733" stop-color="#0010ff"/><stop offset="0.756" stop-color="#0000f2"/><stop offset="0.775" stop-color="#000eff"/><stop offset="0.795" stop-color="#003aff"/><stop offset="0.815" stop-color="#0064ff"/><stop offset="0.835" stop-color="#007bff"/><stop offset="0.855" stop-color="#0084ff"/><stop offset="0.875" stop-color="#0082ff"/><stop offset="0.895" stop-color="#0070ff"/><stop offset="0.915" stop-color="#004bff"/><stop offset="0.935" stop-color="#0012ff"/><stop offset="0.955" stop-color="#0000d9"/><stop offset="0.972" stop-color="#0000c0"/><stop offset="0.989" stop-color="#0000b9"/><stop offset="1.000" stop-color="#0000b9"/></linearGradient><linearGradient id="d92" x1="0" y1="0" x2="0" y2="1"><stop offset="0.000" stop-color="#000097"/><stop offset="0.013" stop-color="#0000b2"/><stop offset="0.064" stop-color="#0000b3"/><stop offset="0.135" stop-color="#0000b6"/><stop offset="0.221" stop-color="#0000b9"/><stop offset="0.306" stop-color="#0000bd"/><stop offset="0.391" stop-color="#0000c2"/><stop offset="0.477" stop-color="#0000c8"/><stop offset="0.548" stop-color="#0000cd"/><stop offset="0.605" stop-color="#0000d2"/><stop offset="0.662" stop-color="#0000d8"/><stop offset="0.704" stop-color="#0000dd"/><stop offset="0.733" stop-color="#0000e1"/><stop offset="0.756" stop-color="#0000d7"/><stop offset="0.775" stop-color="#0000ee"/><stop offset="0.795" stop-color="#0026ff"/><stop offset="0.815" stop-color="#0053ff"/><stop offset="0.835" stop-color="#0073ff"/><stop offset="0.855" stop-color="#0083ff"/><stop offset="0.875" stop-color="#007eff"/><stop offset="0.895" stop-color="#0064ff"/><stop offset="0.915" stop-color="#003aff"/><stop offset="0.935" stop-color="#0004ff"/><stop offset="0.955" stop-color="#0000d4"/><stop offset="0.972" stop-color="#0000bf"/><stop offset="0.989" stop-color="#0000b9"/><stop offset="1.000" stop-color="#0000b9"/></linearGradient><linearGradient id="d93" x1="0" y1="0" x2="0" y2="1"><stop offset="0.000" stop-color="#000099"/><stop offset="0.013" stop-color="#0000b4"/><stop offset="0.064" stop-color="#0000b6"/><stop offset="0.135" stop-color="#0000ba"/><stop offset="0.221" stop-color="#0000bf"/><stop offset="0.306" stop-color="#0000c5"/><stop offset="0.391" stop-color="#0000cb"/><stop offset="0.477" stop-color="#0000d3"/><stop offset="0.548" stop-color="#0000da"/><stop offset="0.605" stop-color="#0000e1"/><stop offset="0.662" stop-color="#0000e8"/><stop offset="0.704" stop-color="#0000ed"/><stop offset="0.733" stop-color="#0000f1"/><stop offset="0.756" stop-color="#0000e0"/><stop offset="0.775" stop-color="#0000f7"/><stop offset="0.795" stop-color="#0027ff"/><stop offset="0.815" stop-color="#0054ff"/><stop offset="0.835" stop-color="#0074ff"/><stop offset="0.855" stop-color="#0084ff"/><stop offset="0.875" stop-color="#007fff"/><stop offset="0.895" stop-color="#0065ff"/><stop offset="0.915" stop-color="#003bff"/><stop offset="0.935" stop-color="#0005ff"/><stop offset="0.955" stop-color="#0000d4"/><stop offset="0.972" stop-color="#0000bf"/><stop offset="0.989" stop-color="#0000b9"/><stop offset="1.000" stop-color="#0000b9"/></linearGradient><linearGradient id="d94" x1="0" y1="0" x2="0" y2="1"><stop offset="0.000" stop-color="#000097"/><stop offset="0.013" stop-color="#0000b2"/><stop offset="0.064" stop-color="#0000b3"/><stop offset="0.135" stop-color="#0000b6"/><stop offset="0.221" stop-color="#0000b9"/><stop offset="0.306" stop-color="#0000be"/><stop offset="0.391" stop-color="#0000c3"/><stop offset="0.477" stop-color="#0000c8"/><stop offset="0.548" stop-color="#0000ce"/><stop offset="0.605" stop-color="#0000d3"/><stop offset="0.662" stop-color="#0000d8"/><stop offset="0.704" stop-color="#0000dd"/><stop offset="0.733" stop-color="#0000e1"/><stop offset="0.756" stop-color="#0000d5"/><stop offset="0.775" stop-color="#0000e7"/><stop offset="0.795" stop-color="#000eff"/><stop offset="0.815" stop-color="#002dff"/><stop offset="0.835" stop-color="#0041ff"/><stop offset="0.855" stop-color="#004aff"/><stop offset="0.875" stop-color="#0048ff"/><stop offset="0.895" stop-color="#0038ff"/><stop offset="0.915" stop-color="#001bff"/><stop offset="0.935" stop-color="#0000f3"/><stop offset="0.955" stop-color="#0000ce"/><stop offset="0.972" stop-color="#0000bd"/><stop offset="0.989" stop-color="#0000b9"/><stop offset="1.000" stop-color="#0000b9"/></linearGradient><linearGradient id="d95" x1="0" y1="0" x2="0" y2="1"><stop offset="0.000" stop-color="#000098"/><stop offset="0.013" stop-color="#0000b2"/><stop offset="0.064" stop-color="#0000b4"/><stop offset="0.135" stop-color="#0000b7"/><stop offset="0.221" stop-color="#0000bb"/><stop offset="0.306" stop-color="#0000c0"/><stop offset="0.391" stop-color="#0000c6"/><stop offset="0.477" stop-color="#0000cd"/><stop offset="0.548" stop-color="#0000d4"/><stop offset="0.605" stop-color="#0000db"/><stop offset="0.662" stop-color="#0000e2"/><stop offset="0.704" stop-color="#0000e8"/><stop offset="0.733" stop-color="#0000ed"/><stop offset="0.756" stop-color="#0000db"/><stop offset="0.775" stop-color="#0000e9"/><stop offset="0.795" stop-color="#0000fe"/><stop offset="0.815" stop-color="#0014ff"/><stop offset="0.835" stop-color="#001dff"/><stop offset="0.855" stop-color="#0021ff"/><stop offset="0.875" stop-color="#0020ff"/><stop offset="0.895" stop-color="#0019ff"/><stop offset="0.915" stop-color="#0007ff"/><stop offset="0.935" stop-color="#0000e9"/><stop offset="0.955" stop-color="#0000ca"/><stop offset="0.972" stop-color="#0000bd"/><stop offset="0.989" stop-color="#0000b9"/><stop offset="1.000" stop-color="#0000b9"/></linearGradient><linearGradient id="d96" x1="0" y1="0" x2="0" y2="1"><stop offset="0.000" stop-color="#00009a"/><stop offset="0.013" stop-color="#0000b5"/><stop offset="0.064" stop-color="#0000b8"/><stop offset="0.135" stop-color="#0000bd"/><stop offset="0.221" stop-color="#0000c3"/><stop offset="0.306" stop-color="#0000cb"/><stop offset="0.391" stop-color="#0000d3"/><stop offset="0.477" stop-color="#0000dd"/><stop offset="0.548" stop-color="#0000e6"/><stop offset="0.605" stop-color="#0000ee"/><stop offset="0.662" stop-color="#0000f7"/><stop offset="0.704" stop-color="#0000fe"/><stop offset="0.733" stop-color="#0004ff"/><stop offset="0.756" stop-color="#0000e6"/><stop offset="0.775" stop-color="#0000f3"/><stop offset="0.795" stop-color="#0000fb"/><stop offset="0.815" stop-color="#000eff"/><stop offset="0.835" stop-color="#0014ff"/><stop offset="0.855" stop-color="#0015ff"/><stop offset="0.875" stop-color="#0014ff"/><stop offset="0.895" stop-color="#0011ff"/><stop offset="0.915" stop-color="#0003ff"/><stop offset="0.935" stop-color="#0000e7"/><stop offset="0.955" stop-color="#0000ca"/><stop offset="0.972" stop-color="#0000bc"/><stop offset="0.989" stop-color="#0000b9"/><stop offset="1.000" stop-color="#0000b9"/></linearGradient><linearGradient id="d97" x1="0" y1="0" x2="0" y2="1"><stop offset="0.000" stop-color="#000097"/><stop offset="0.013" stop-color="#0000b2"/><stop offset="0.064" stop-color="#0000b4"/><stop offset="0.135" stop-color="#0000b6"/><stop offset="0.221" stop-color="#0000ba"/><stop offset="0.306" stop-color="#0000bf"/><stop offset="0.391" stop-color="#0000c5"/><stop offset="0.477" stop-color="#0000cb"/><stop offset="0.548" stop-color="#0000d2"/><stop offset="0.605" stop-color="#0000d8"/><stop offset="0.662" stop-color="#0000df"/><stop offset="0.704" stop-color="#0000e5"/><stop offset="0.733" stop-color="#0000e9"/><stop offset="0.756" stop-color="#0000d8"/><stop offset="0.775" stop-color="#0000e5"/><stop offset="0.795" stop-color="#0000f9"/><stop offset="0.815" stop-color="#000bff"/><stop offset="0.835" stop-color="#0010ff"/><stop offset="0.855" stop-color="#0010ff"/><stop offset="0.875" stop-color="#0010ff"/><stop offset="0.895" stop-color="#000dff"/><stop offset="0.915" stop-color="#0001ff"/><stop offset="0.935" stop-color="#0000e5"/><stop offset="0.955" stop-color="#0000c9"/><stop offset="0.972" stop-color="#0000bc"/><stop offset="0.989" stop-color="#0000b9"/><stop offset="1.000" stop-color="#0000b9"/></linearGradient><linearGradient id="d98" x1="0" y1="0" x2="0" y2="1"><stop offset="0.000" stop-color="#000097"/><stop offset="0.013" stop-color="#0000b2"/><stop offset="0.064" stop-color="#0000b3"/><stop offset="0.135" stop-color="#0000b6"/><stop offset="0.221" stop-color="#0000b9"/><stop offset="0.306" stop-color="#0000be"/><stop offset="0.391" stop-color="#0000c3"/><stop offset="0.477" stop-color="#0000c8"/><stop offset="0.548" stop-color="#0000ce"/><stop offset="0.605" stop-color="#0000d3"/><stop offset="0.662" stop-color="#0000d8"/><stop offset="0.704" stop-color="#0000dd"/><stop offset="0.733" stop-color="#0000e0"/><stop offset="0.756" stop-color="#0000d4"/><stop offset="0.775" stop-color="#0000e3"/><stop offset="0.795" stop-color="#0003ff"/><stop offset="0.815" stop-color="#0016ff"/><stop offset="0.835" stop-color="#001bff"/><stop offset="0.855" stop-color="#001cff"/><stop offset="0.875" stop-color="#001cff"/><stop offset="0.895" stop-color="#0019ff"/><stop offset="0.915" stop-color="#000aff"/><stop offset="0.935" stop-color="#0000ec"/><stop offset="0.955" stop-color="#0000cc"/><stop offset="0.972" stop-color="#0000bd"/><stop offset="0.989" stop-color="#0000b9"/><stop offset="1.000" stop-color="#0000b9"/></linearGradient><linearGradient id="d99" x1="0" y1="0" x2="0" y2="1"><stop offset="0.000" stop-color="#000099"/><stop offset="0.013" stop-color="#0000b4"/><stop offset="0.064" stop-color="#0000b6"/><stop offset="0.135" stop-color="#0000ba"/><stop offset="0.221" stop-color="#0000bf"/><stop offset="0.306" stop-color="#0000c5"/><stop offset="0.391" stop-color="#0000cd"/><stop offset="0.477" stop-color="#0000d5"/><stop offset="0.548" stop-color="#0000dd"/><stop offset="0.605" stop-color="#0000e3"/><stop offset="0.662" stop-color="#0000eb"/><stop offset="0.704" stop-color="#0000f1"/><stop offset="0.733" stop-color="#0000f5"/><stop offset="0.756" stop-color="#0000e0"/><stop offset="0.775" stop-color="#0000f3"/><stop offset="0.795" stop-color="#0017ff"/><stop offset="0.815" stop-color="#002fff"/><stop offset="0.835" stop-color="#0036ff"/><stop offset="0.855" stop-color="#0036ff"/><stop offset="0.875" stop-color="#0036ff"/><stop offset="0.895" stop-color="#0032ff"/><stop offset="0.915" stop-color="#0020ff"/><stop offset="0.935" stop-color="#0000f9"/><stop offset="0.955" stop-color="#0000d1"/><stop offset="0.972" stop-color="#0000be"/><stop offset="0.989" stop-color="#0000b9"/><stop offset="1.000" stop-color="#0000b9"/></linearGradient></defs>
<g shape-rendering="crispEdges"><rect x="420.80" y="194.8" width="1.30" height="112.80" fill="url(#d0)"/><rect x="421.80" y="194.8" width="1.30" height="112.80" fill="url(#d1)"/><rect x="422.80" y="194.8" width="1.30" height="112.80" fill="url(#d2)"/><rect x="423.81" y="194.8" width="1.30" height="112.80" fill="url(#d3)"/><rect x="424.81" y="194.8" width="1.30" height="112.80" fill="url(#d4)"/><rect x="425.81" y="194.8" width="1.30" height="112.80" fill="url(#d5)"/><rect x="426.81" y="194.8" width="1.30" height="112.80" fill="url(#d6)"/><rect x="427.81" y="194.8" width="1.30" height="112.80" fill="url(#d7)"/><rect x="428.82" y="194.8" width="1.30" height="112.80" fill="url(#d8)"/><rect x="429.82" y="194.8" width="1.30" height="112.80" fill="url(#d9)"/><rect x="430.82" y="194.8" width="1.30" height="112.80" fill="url(#d10)"/><rect x="431.82" y="194.8" width="1.30" height="112.80" fill="url(#d11)"/><rect x="432.82" y="194.8" width="1.30" height="112.80" fill="url(#d12)"/><rect x="433.83" y="194.8" width="1.30" height="112.80" fill="url(#d13)"/><rect x="434.83" y="194.8" width="1.30" height="112.80" fill="url(#d14)"/><rect x="435.83" y="194.8" width="1.30" height="112.80" fill="url(#d15)"/><rect x="436.83" y="194.8" width="1.30" height="112.80" fill="url(#d16)"/><rect x="437.83" y="194.8" width="1.30" height="112.80" fill="url(#d17)"/><rect x="438.84" y="194.8" width="1.30" height="112.80" fill="url(#d18)"/><rect x="439.84" y="194.8" width="1.30" height="112.80" fill="url(#d19)"/><rect x="440.84" y="194.8" width="1.30" height="112.80" fill="url(#d20)"/><rect x="441.84" y="194.8" width="1.30" height="112.80" fill="url(#d21)"/><rect x="442.84" y="194.8" width="1.30" height="112.80" fill="url(#d22)"/><rect x="443.85" y="194.8" width="1.30" height="112.80" fill="url(#d23)"/><rect x="444.85" y="194.8" width="1.30" height="112.80" fill="url(#d24)"/><rect x="445.85" y="194.8" width="1.30" height="112.80" fill="url(#d25)"/><rect x="446.85" y="194.8" width="1.30" height="112.80" fill="url(#d26)"/><rect x="447.85" y="194.8" width="1.30" height="112.80" fill="url(#d27)"/><rect x="448.86" y="194.8" width="1.30" height="112.80" fill="url(#d28)"/><rect x="449.86" y="194.8" width="1.30" height="112.80" fill="url(#d29)"/><rect x="450.86" y="194.8" width="1.30" height="112.80" fill="url(#d30)"/><rect x="451.86" y="194.8" width="1.30" height="112.80" fill="url(#d31)"/><rect x="452.86" y="194.8" width="1.30" height="112.80" fill="url(#d32)"/><rect x="453.87" y="194.8" width="1.30" height="112.80" fill="url(#d33)"/><rect x="454.87" y="194.8" width="1.30" height="112.80" fill="url(#d34)"/><rect x="455.87" y="194.8" width="1.30" height="112.80" fill="url(#d35)"/><rect x="456.87" y="194.8" width="1.30" height="112.80" fill="url(#d36)"/><rect x="457.87" y="194.8" width="1.30" height="112.80" fill="url(#d37)"/><rect x="458.88" y="194.8" width="1.30" height="112.80" fill="url(#d38)"/><rect x="459.88" y="194.8" width="1.30" height="112.80" fill="url(#d39)"/><rect x="460.88" y="194.8" width="1.30" height="112.80" fill="url(#d40)"/><rect x="461.88" y="194.8" width="1.30" height="112.80" fill="url(#d41)"/><rect x="462.88" y="194.8" width="1.30" height="112.80" fill="url(#d42)"/><rect x="463.89" y="194.8" width="1.30" height="112.80" fill="url(#d43)"/><rect x="464.89" y="194.8" width="1.30" height="112.80" fill="url(#d44)"/><rect x="465.89" y="194.8" width="1.30" height="112.80" fill="url(#d45)"/><rect x="466.89" y="194.8" width="1.30" height="112.80" fill="url(#d46)"/><rect x="467.89" y="194.8" width="1.30" height="112.80" fill="url(#d47)"/><rect x="468.90" y="194.8" width="1.30" height="112.80" fill="url(#d48)"/><rect x="469.90" y="194.8" width="1.30" height="112.80" fill="url(#d49)"/><rect x="470.90" y="194.8" width="1.30" height="112.80" fill="url(#d50)"/><rect x="471.90" y="194.8" width="1.30" height="112.80" fill="url(#d51)"/><rect x="472.90" y="194.8" width="1.30" height="112.80" fill="url(#d52)"/><rect x="473.91" y="194.8" width="1.30" height="112.80" fill="url(#d53)"/><rect x="474.91" y="194.8" width="1.30" height="112.80" fill="url(#d54)"/><rect x="475.91" y="194.8" width="1.30" height="112.80" fill="url(#d55)"/><rect x="476.91" y="194.8" width="1.30" height="112.80" fill="url(#d56)"/><rect x="477.91" y="194.8" width="1.30" height="112.80" fill="url(#d57)"/><rect x="478.92" y="194.8" width="1.30" height="112.80" fill="url(#d58)"/><rect x="479.92" y="194.8" width="1.30" height="112.80" fill="url(#d59)"/><rect x="480.92" y="194.8" width="1.30" height="112.80" fill="url(#d60)"/><rect x="481.92" y="194.8" width="1.30" height="112.80" fill="url(#d61)"/><rect x="482.92" y="194.8" width="1.30" height="112.80" fill="url(#d62)"/><rect x="483.93" y="194.8" width="1.30" height="112.80" fill="url(#d63)"/><rect x="484.93" y="194.8" width="1.30" height="112.80" fill="url(#d64)"/><rect x="485.93" y="194.8" width="1.30" height="112.80" fill="url(#d65)"/><rect x="486.93" y="194.8" width="1.30" height="112.80" fill="url(#d66)"/><rect x="487.93" y="194.8" width="1.30" height="112.80" fill="url(#d67)"/><rect x="488.94" y="194.8" width="1.30" height="112.80" fill="url(#d68)"/><rect x="489.94" y="194.8" width="1.30" height="112.80" fill="url(#d69)"/><rect x="490.94" y="194.8" width="1.30" height="112.80" fill="url(#d70)"/><rect x="491.94" y="194.8" width="1.30" height="112.80" fill="url(#d71)"/><rect x="492.94" y="194.8" width="1.30" height="112.80" fill="url(#d72)"/><rect x="493.95" y="194.8" width="1.30" height="112.80" fill="url(#d73)"/><rect x="494.95" y="194.8" width="1.30" height="112.80" fill="url(#d74)"/><rect x="495.95" y="194.8" width="1.30" height="112.80" fill="url(#d75)"/><rect x="496.95" y="194.8" width="1.30" height="112.80" fill="url(#d76)"/><rect x="497.95" y="194.8" width="1.30" height="112.80" fill="url(#d77)"/><rect x="498.96" y="194.8" width="1.30" height="112.80" fill="url(#d78)"/><rect x="499.96" y="194.8" width="1.30" height="112.80" fill="url(#d79)"/><rect x="500.96" y="194.8" width="1.30" height="112.80" fill="url(#d80)"/><rect x="501.96" y="194.8" width="1.30" height="112.80" fill="url(#d81)"/><rect x="502.96" y="194.8" width="1.30" height="112.80" fill="url(#d82)"/><rect x="503.97" y="194.8" width="1.30" height="112.80" fill="url(#d83)"/><rect x="504.97" y="194.8" width="1.30" height="112.80" fill="url(#d84)"/><rect x="505.97" y="194.8" width="1.30" height="112.80" fill="url(#d85)"/><rect x="506.97" y="194.8" width="1.30" height="112.80" fill="url(#d86)"/><rect x="507.97" y="194.8" width="1.30" height="112.80" fill="url(#d87)"/><rect x="508.98" y="194.8" width="1.30" height="112.80" fill="url(#d88)"/><rect x="509.98" y="194.8" width="1.30" height="112.80" fill="url(#d89)"/><rect x="510.98" y="194.8" width="1.30" height="112.80" fill="url(#d90)"/><rect x="511.98" y="194.8" width="1.30" height="112.80" fill="url(#d91)"/><rect x="512.98" y="194.8" width="1.30" height="112.80" fill="url(#d92)"/><rect x="513.99" y="194.8" width="1.30" height="112.80" fill="url(#d93)"/><rect x="514.99" y="194.8" width="1.30" height="112.80" fill="url(#d94)"/><rect x="515.99" y="194.8" width="1.30" height="112.80" fill="url(#d95)"/><rect x="516.99" y="194.8" width="1.30" height="112.80" fill="url(#d96)"/><rect x="517.99" y="194.8" width="1.30" height="112.80" fill="url(#d97)"/><rect x="519.00" y="194.8" width="1.30" height="112.80" fill="url(#d98)"/><rect x="520.00" y="194.8" width="1.30" height="112.80" fill="url(#d99)"/></g>
<rect x="265.3" y="282.3" width="96.7" height="21.9" fill="none" stroke="#ff0a0a" stroke-width="1.25"/>
<rect x="421.8" y="280.9" width="97.6" height="22.4" fill="none" stroke="#ff0a0a" stroke-width="1.25"/>
<defs><linearGradient id="cb" x1="0" y1="0" x2="0" y2="1"><stop offset="0.000" stop-color="#800000"/><stop offset="0.042" stop-color="#aa0000"/><stop offset="0.083" stop-color="#d50000"/><stop offset="0.125" stop-color="#ff0000"/><stop offset="0.167" stop-color="#ff2a00"/><stop offset="0.208" stop-color="#ff5500"/><stop offset="0.250" stop-color="#ff8000"/><stop offset="0.292" stop-color="#ffaa00"/><stop offset="0.333" stop-color="#ffd400"/><stop offset="0.375" stop-color="#ffff00"/><stop offset="0.417" stop-color="#d4ff2b"/><stop offset="0.458" stop-color="#aaff55"/><stop offset="0.500" stop-color="#80ff80"/><stop offset="0.542" stop-color="#55ffaa"/><stop offset="0.583" stop-color="#2affd5"/><stop offset="0.625" stop-color="#00ffff"/><stop offset="0.667" stop-color="#00d5ff"/><stop offset="0.708" stop-color="#00aaff"/><stop offset="0.750" stop-color="#0080ff"/><stop offset="0.792" stop-color="#0055ff"/><stop offset="0.833" stop-color="#002aff"/><stop offset="0.875" stop-color="#0000ff"/><stop offset="0.917" stop-color="#0000d5"/><stop offset="0.958" stop-color="#0000aa"/><stop offset="1.000" stop-color="#000080"/></linearGradient></defs>
<rect x="372.1" y="194.8" width="10.6" height="112.8" fill="url(#cb)"/>
<g font-size="5.2" fill="#5c5c5c">
<text x="385.0" y="195.6">50</text>
<text x="385.0" y="218.2">40</text>
<text x="385.0" y="240.9">30</text>
<text x="385.0" y="263.5">20</text>
<text x="385.0" y="286.2">10</text>
<text x="385.0" y="308.8">0</text>
</g>
<rect x="529.4" y="194.8" width="10.3" height="112.8" fill="url(#cb)"/>
<g font-size="5.2" fill="#5c5c5c">
<text x="542.0" y="195.6">50</text>
<text x="542.0" y="218.2">40</text>
<text x="542.0" y="240.9">30</text>
<text x="542.0" y="263.5">20</text>
<text x="542.0" y="286.2">10</text>
<text x="542.0" y="308.8">0</text>
</g>
<g font-size="5.8" fill="#5c5c5c" text-anchor="end">
<text x="261.0" y="308.2">5</text>
<text x="261.0" y="292.2">10</text>
<text x="261.0" y="276.1">15</text>
<text x="261.0" y="260.1">20</text>
<text x="261.0" y="244.1">25</text>
<text x="261.0" y="228.0">30</text>
<text x="261.0" y="212.0">35</text>
<text x="261.0" y="195.9">40</text>
</g>
<g font-size="5.8" fill="#5c5c5c" text-anchor="middle">
<text x="263.4" y="315.3">0</text>
<text x="313.5" y="315.3">5</text>
<text x="363.6" y="315.3">10</text>
</g>
<text x="301.4" y="326.9" font-size="7.2" fill="#4a4a4a" textLength="24.3" lengthAdjust="spacingAndGlyphs">Time (s)</text>
<text transform="translate(249.4 273.4) rotate(-90)" font-size="7" fill="#555" textLength="44.5" lengthAdjust="spacingAndGlyphs">Frequency (Hz)</text>
<text x="311.3" y="343.0" font-size="10.8" fill="#111" textLength="10.9" lengthAdjust="spacingAndGlyphs">(<tspan font-weight="bold">c</tspan>)</text>
<g font-size="5.8" fill="#5c5c5c" text-anchor="end">
<text x="418.2" y="308.2">5</text>
<text x="418.2" y="292.2">10</text>
<text x="418.2" y="276.1">15</text>
<text x="418.2" y="260.1">20</text>
<text x="418.2" y="244.1">25</text>
<text x="418.2" y="228.0">30</text>
<text x="418.2" y="212.0">35</text>
<text x="418.2" y="195.9">40</text>
</g>
<g font-size="5.8" fill="#5c5c5c" text-anchor="middle">
<text x="420.6" y="315.3">0</text>
<text x="470.7" y="315.3">5</text>
<text x="520.8" y="315.3">10</text>
</g>
<text x="458.5" y="326.9" font-size="7.2" fill="#4a4a4a" textLength="24.2" lengthAdjust="spacingAndGlyphs">Time (s)</text>
<text transform="translate(406.6 273.4) rotate(-90)" font-size="7" fill="#555" textLength="44.5" lengthAdjust="spacingAndGlyphs">Frequency (Hz)</text>
<text x="467.7" y="343.4" font-size="10.8" fill="#111" textLength="12.6" lengthAdjust="spacingAndGlyphs">(<tspan font-weight="bold">d</tspan>)</text>
</svg></body></html>
